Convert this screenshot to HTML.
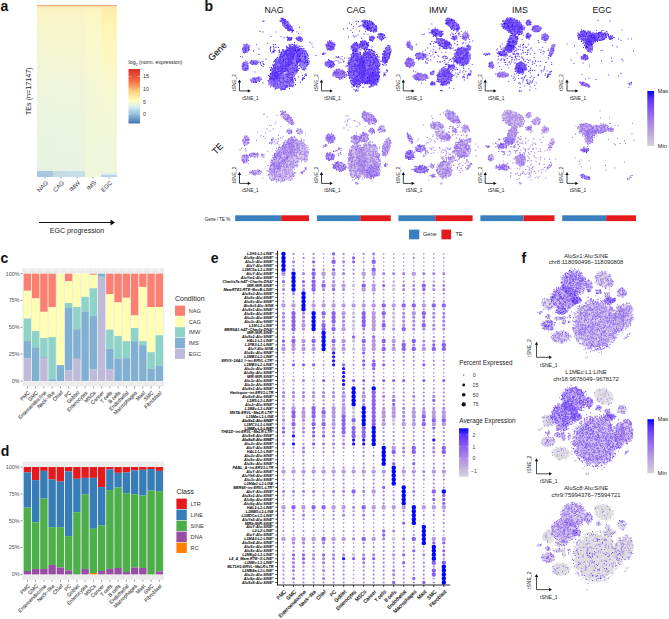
<!DOCTYPE html>
<html><head><meta charset="utf-8"><style>
html,body{margin:0;padding:0;background:#fff;width:669px;height:619px;overflow:hidden}
svg{display:block;font-family:"Liberation Sans",sans-serif}
</style></head><body>
<svg width="669" height="619" viewBox="0 0 669 619">
<rect width="669" height="619" fill="#fff"/>
<text x="0.6" y="11" font-size="14" font-weight="bold" fill="#111">a</text>
<text x="204.6" y="11" font-size="14" font-weight="bold" fill="#111">b</text>
<text x="0.4" y="262.9" font-size="14" font-weight="bold" fill="#111">c</text>
<text x="0.8" y="456" font-size="14" font-weight="bold" fill="#111">d</text>
<text x="210.8" y="262.7" font-size="14" font-weight="bold" fill="#111">e</text>
<text x="521.6" y="262.5" font-size="14" font-weight="bold" fill="#111">f</text>
<defs>
<linearGradient id="hg0" x1="0" y1="0" x2="0" y2="1"><stop offset="0" stop-color="#faf4c2"/><stop offset="0.15" stop-color="#f6f5cc"/><stop offset="0.5" stop-color="#eef5dc"/><stop offset="1" stop-color="#e7f2e3"/></linearGradient>
<linearGradient id="hg1" x1="0" y1="0" x2="0" y2="1"><stop offset="0" stop-color="#faf4c2"/><stop offset="0.15" stop-color="#f6f5cc"/><stop offset="0.5" stop-color="#eef5dc"/><stop offset="1" stop-color="#e8f3e2"/></linearGradient>
<linearGradient id="hg2" x1="0" y1="0" x2="0" y2="1"><stop offset="0" stop-color="#faf4c2"/><stop offset="0.15" stop-color="#f6f5cc"/><stop offset="0.5" stop-color="#eff5db"/><stop offset="1" stop-color="#e9f3e2"/></linearGradient>
<linearGradient id="hg3" x1="0" y1="0" x2="0" y2="1"><stop offset="0" stop-color="#fcf6c0"/><stop offset="0.15" stop-color="#fbf8c8"/><stop offset="0.5" stop-color="#f3f7d6"/><stop offset="1" stop-color="#eef6dc"/></linearGradient>
<linearGradient id="hg4" x1="0" y1="0" x2="0" y2="1"><stop offset="0" stop-color="#fdeba8"/><stop offset="0.12" stop-color="#fff4b4"/><stop offset="0.3" stop-color="#fcf7c2"/><stop offset="0.5" stop-color="#f5f8d2"/><stop offset="1" stop-color="#edf5dd"/></linearGradient>
<linearGradient id="cbar" x1="0" y1="0" x2="0" y2="1"><stop offset="0" stop-color="#d73027"/><stop offset="0.22" stop-color="#f46d43"/><stop offset="0.42" stop-color="#fdd384"/><stop offset="0.58" stop-color="#ffffbf"/><stop offset="0.70" stop-color="#d6ecf4"/><stop offset="0.85" stop-color="#8ab7d8"/><stop offset="1" stop-color="#4575b4"/></linearGradient>
</defs>
<rect x="37.0" y="5.5" width="16.0" height="171.5" fill="url(#hg0)"/>
<rect x="53.0" y="5.5" width="16.0" height="171.5" fill="url(#hg1)"/>
<rect x="69.0" y="5.5" width="16.0" height="171.5" fill="url(#hg2)"/>
<rect x="85.0" y="5.5" width="16.0" height="171.5" fill="url(#hg3)"/>
<rect x="101.0" y="5.5" width="16.0" height="171.5" fill="url(#hg4)"/>
<rect x="37" y="5" width="80" height="1.4" fill="#f6b07c"/>
<rect x="37" y="6.4" width="80" height="2" fill="#fde7b0" opacity="0.7"/>
<rect x="37" y="171" width="16" height="6" fill="#a9c8df"/>
<rect x="53" y="171" width="16" height="6" fill="#c5dbe6"/>
<rect x="69" y="171" width="16" height="6" fill="#c9dde5"/>
<rect x="101" y="173.5" width="16" height="1.6" fill="#d7e8ef"/>
<rect x="101" y="175" width="16" height="2" fill="#b8d3e8"/>
<line x1="45" y1="177" x2="45" y2="178.6" stroke="#333" stroke-width="0.5"/>
<line x1="61" y1="177" x2="61" y2="178.6" stroke="#333" stroke-width="0.5"/>
<line x1="77" y1="177" x2="77" y2="178.6" stroke="#333" stroke-width="0.5"/>
<line x1="93" y1="177" x2="93" y2="178.6" stroke="#333" stroke-width="0.5"/>
<line x1="109" y1="177" x2="109" y2="178.6" stroke="#333" stroke-width="0.5"/>
<text x="48.6" y="183.2" font-size="6" fill="#333" text-anchor="end" transform="rotate(-45 48.6 183.2)">NAG</text>
<text x="64.6" y="183.2" font-size="6" fill="#333" text-anchor="end" transform="rotate(-45 64.6 183.2)">CAG</text>
<text x="80.6" y="183.2" font-size="6" fill="#333" text-anchor="end" transform="rotate(-45 80.6 183.2)">IMW</text>
<text x="96.6" y="183.2" font-size="6" fill="#333" text-anchor="end" transform="rotate(-45 96.6 183.2)">IMS</text>
<text x="112.6" y="183.2" font-size="6" fill="#333" text-anchor="end" transform="rotate(-45 112.6 183.2)">EGC</text>
<text x="0" y="0" font-size="7.2" fill="#222" text-anchor="middle" transform="translate(31.2 91.2) rotate(-90)">TEs (n=17147)</text>
<rect x="128.5" y="69" width="11.5" height="54.5" fill="url(#cbar)"/>
<line x1="128.5" y1="76.5" x2="130.8" y2="76.5" stroke="#fff" stroke-width="0.4"/>
<line x1="137.7" y1="76.5" x2="140" y2="76.5" stroke="#fff" stroke-width="0.4"/>
<text x="143" y="78.4" font-size="5.3" fill="#333">15</text>
<line x1="128.5" y1="89" x2="130.8" y2="89" stroke="#fff" stroke-width="0.4"/>
<line x1="137.7" y1="89" x2="140" y2="89" stroke="#fff" stroke-width="0.4"/>
<text x="143" y="90.9" font-size="5.3" fill="#333">10</text>
<line x1="128.5" y1="101.6" x2="130.8" y2="101.6" stroke="#fff" stroke-width="0.4"/>
<line x1="137.7" y1="101.6" x2="140" y2="101.6" stroke="#fff" stroke-width="0.4"/>
<text x="143" y="103.5" font-size="5.3" fill="#333">5</text>
<line x1="128.5" y1="114.2" x2="130.8" y2="114.2" stroke="#fff" stroke-width="0.4"/>
<line x1="137.7" y1="114.2" x2="140" y2="114.2" stroke="#fff" stroke-width="0.4"/>
<text x="143" y="116.10000000000001" font-size="5.3" fill="#333">0</text>
<text x="128.6" y="64.3" font-size="5.2" fill="#222">log<tspan font-size="3.8" dy="1.2">2</tspan><tspan dy="-1.2"> (norm. expression)</tspan></text>
<line x1="39" y1="222.5" x2="111" y2="222.5" stroke="#111" stroke-width="1"/>
<path d="M110.5 219.6 L115 222.5 L110.5 225.4 Z" fill="#111"/>
<text x="77" y="233.0" font-size="7.1" fill="#222" text-anchor="middle">EGC progression</text>
<text x="274" y="13.2" font-size="8.9" fill="#111" text-anchor="middle">NAG</text>
<g transform="translate(239.5 90.9) scale(0.5)"><ellipse cx="95" cy="-132" rx="17" ry="6" transform="rotate(46 95 -132)" fill="#643bf8" fill-opacity="0.68"/><ellipse cx="100" cy="-104" rx="5" ry="4" transform="rotate(0 100 -104)" fill="#643bf8" fill-opacity="0.68"/><ellipse cx="120" cy="-104" rx="6" ry="5" transform="rotate(20 120 -104)" fill="#643bf8" fill-opacity="0.68"/><ellipse cx="13" cy="-85" rx="7" ry="9" transform="rotate(10 13 -85)" fill="#6f45f6" fill-opacity="0.68"/><ellipse cx="11" cy="-49" rx="7" ry="9" transform="rotate(0 11 -49)" fill="#6f45f6" fill-opacity="0.68"/><ellipse cx="29" cy="-57" rx="9" ry="5" transform="rotate(0 29 -57)" fill="#6f45f6" fill-opacity="0.68"/><ellipse cx="32" cy="-22" rx="11" ry="5" transform="rotate(-10 32 -22)" fill="#744af5" fill-opacity="0.68"/><ellipse cx="87" cy="-58" rx="37" ry="13" transform="rotate(-55 87 -58)" fill="#5d35f9" fill-opacity="0.68"/><ellipse cx="126" cy="-66" rx="11" ry="21" transform="rotate(-15 126 -66)" fill="#643bf8" fill-opacity="0.68"/><ellipse cx="110" cy="-72" rx="11" ry="18" transform="rotate(0 110 -72)" fill="#683ff7" fill-opacity="0.68"/><ellipse cx="104" cy="-44" rx="14" ry="14" transform="rotate(0 104 -44)" fill="#683ff7" fill-opacity="0.68"/><ellipse cx="84" cy="-20" rx="25" ry="16" transform="rotate(0 84 -20)" fill="#6d43f7" fill-opacity="0.68"/><path d="M86-142h0m12 15h0m5 61h0m10 4h0m-98 6h0m111 2h0m-20 1h0m-91 2h0m73 16h0m13 1h0m-28 7h0m-41 4h0m9 2h0m31-1h0m54 0h0m-67 10h0m12 9h0" stroke="#926aef" stroke-width="2.40" stroke-linecap="round" fill="none"/><path d="M88-145h0m-6 6h0m6-1h0m1 0h0m1 0h0m2 1h0m4 1h0m-1 1h0m-2 1h0m-2-2h0m-1 1h0m-3 2h0m0 4h0m1 1h0m1 1h0m7 0h0m1 3h0m2-3h0m1 2h0m3-2h0m17 2h0m-14 4h0m-5 1h0m-1 2h0m0-4h0m-4 1h0m-3-2h0m-20 7h0m32 1h0m10-1h0m3 3h0m-35 6h0m-20 0h0m33 2h0m0-1h0m2 5h0m2-2h0m3 1h0m1 1h0m9-2h0m8 2h0m5-1h0m-7 2h0m-3 0h0m-13 0h0m-7 1h0m0-1h0m-75 11h0m13-2h0m22-2h0m54 3h0m35-2h0m2 6h0m-20 3h0m-10 0h0m0-2h0m-1 3h0m-6-3h0m0-3h0m-1 2h0m-1 3h0m0 0h0m-2 0h0m-2-3h0m-26 1h0m-9 1h0m-1-3h0m0 3h0m-5-2h0m-1 3h0m-1 1h0m-42-3h0m-1 1h0m-1 1h0m0-4h0m-4 2h0m-2 3h0m0-4h0m0 3h0m0-3h0m-5 3h0m0 1h0m0 1h0m1 4h0m5-4h0m0 0h0m50-1h0m4 5h0m3-4h0m1 2h0m10-1h0m0 3h0m7-3h0m1 2h0m2 1h0m11-3h0m0-1h0m3 3h0m0-4h0m1 2h0m0 4h0m1-2h0m2 0h0m0-2h0m2 0h0m1-2h0m3 4h0m1-2h0m3 0h0m1 0h0m0 1h0m0-2h0m1 2h0m1 1h0m10-1h0m2 1h0m-7 5h0m-1 1h0m-3 2h0m-1-3h0m-1-2h0m-8 2h0m-5 3h0m0-4h0m-4 1h0m-3 0h0m-1-3h0m-11 5h0m0 0h0m-7-4h0m-16 0h0m0 1h0m-55-1h0m0 1h0m-8 7h0m4 1h0m78-1h0m1 3h0m4-3h0m4 2h0m3-3h0m1 1h0m2 0h0m0-1h0m8 0h0m3-1h0m4 3h0m6 2h0m1-3h0m1-2h0m5 2h0m4-1h0m1 0h0m1 4h0m-1 5h0m-9-3h0m-4 3h0m-1-3h0m-3 3h0m-2-3h0m-13 0h0m-2 1h0m-5 0h0m-11 3h0m-58-1h0m-17 6h0m4-2h0m1-3h0m3 1h0m1 3h0m1 1h0m4-1h0m1-1h0m2 1h0m4 0h0m2 1h0m2-1h0m1-2h0m0 0h0m0 1h0m2 3h0m1-1h0m2-2h0m1-1h0m6 0h0m34-1h0m4 1h0m13 2h0m1 0h0m1 0h0m3-3h0m1 2h0m0-2h0m1 1h0m0-1h0m2 4h0m2-2h0m1 2h0m6-4h0m0 0h0m1 5h0m0-1h0m1-3h0m0 0h0m1-2h0m0 3h0m3-2h0m6 1h0m9-1h0m5 1h0m-1 4h0m-4 1h0m-13 5h0m-5-2h0m-1-3h0m-5 4h0m-3-1h0m-2-1h0m-3 1h0m-1-4h0m0 4h0m-3-3h0m-1 1h0m-1 0h0m-5 3h0m-4-1h0m-2 1h0m-70 0h0m-1-2h0m0 0h0m-4-1h0m-2-1h0m-2 9h0m0-2h0m5 1h0m2-1h0m4 0h0m49 2h0m8 0h0m9-3h0m7 2h0m1 2h0m1-3h0m1-1h0m2 4h0m1-1h0m5-1h0m0 3h0m3-3h0m1 2h0m4-4h0m0 2h0m0-3h0m3 2h0m1 3h0m0-3h0m15 3h0m-18 2h0m-1-1h0m-2 0h0m0 5h0m-5-1h0m-3-3h0m-5 1h0m-2 0h0m0 0h0m-2 1h0m0-3h0m-1 2h0m-6 4h0m-12-3h0m-5 1h0m-1 1h0m-35-1h0m-17-3h0m-5-1h0m53 9h0m5 1h0m2 1h0m3-2h0m8 2h0m7 0h0m5-3h0m1 1h0m4 0h0m0 1h0m1-2h0m0 0h0m1-1h0m0-1h0m1 4h0m1 1h0m0-4h0m1 4h0m0-3h0m1 2h0m0 0h0m2-1h0m1 2h0m1-2h0m1-1h0m3 0h0m15 3h0m5-2h0m0 0h0m1 2h0m1-3h0m0 1h0m-3 4h0m-3 5h0m-9-4h0m-7 3h0m-7-2h0m-2 1h0m-1 0h0m0 2h0m-2-5h0m-2 2h0m-3-1h0m-5 3h0m0-1h0m-1-3h0m-1 3h0m-1-4h0m0 4h0m-1 0h0m-2 0h0m0 0h0m-5-2h0m-3-1h0m-3 2h0m-3 2h0m-4-3h0m0 3h0m-2-2h0m-2-1h0m-18 2h0m-4-1h0m-1 1h0m-3-1h0m0 2h0m-5-1h0m-1 1h0m-7 3h0m2 4h0m4 0h0m0-1h0m1 0h0m2-3h0m1 0h0m6-2h0m6 1h0m13 2h0m3-3h0m1 3h0m3 1h0m1-3h0m2 5h0m2-5h0m0 3h0m1 0h0m1-2h0m0 4h0m1 0h0m4-5h0m2 1h0m9 1h0m1-2h0m2 2h0m7 1h0m3 0h0m1-1h0m1-2h0m0 1h0m0 3h0m10-3h0m15-1h0m-5 6h0m-13 0h0m-1 3h0m-2-4h0m-4 0h0m-1 6h0m0 0h0m-1-4h0m-2 2h0m-1-2h0m-9-2h0m0 3h0m-2 2h0m-1-5h0m-1 1h0m-3 3h0m-4 1h0m-2 1h0m-4-3h0m0 2h0m-1-2h0m0 1h0m-2 0h0m-3-2h0m-5 2h0m-2 0h0m0 0h0m-24-4h0m-2 1h0m-3 0h0m33 9h0m0 0h0m1-2h0m0-2h0m8 1h0m7 2h0m3 0h0m7-1h0m1-1h0m4 0h0m1 2h0m2 0h0m4 0h0m1 0h0m0-2h0m3 0h0m0 0h0m2 2h0m1 1h0m-16 3h0m-1 2h0m-3-2h0m-1 2h0m0-3h0m-2 4h0m-1 0h0m0 0h0m-8-3h0m-1 0h0" stroke="#794ff4" stroke-width="2.40" stroke-linecap="round" fill="none"/><path d="M86-145h0m-1 0h0m-2 0h0m-36 6h0m2-1h0m32 0h0m1 0h0m2 0h0m1-1h0m1-1h0m1-2h0m0 2h0m2 1h0m1 1h0m0-1h0m0-2h0m0 4h0m2-4h0m1 4h0m4 0h0m-1 6h0m-3 1h0m-2-4h0m-1 4h0m0-3h0m0 0h0m0-3h0m-3 1h0m-1 3h0m4 6h0m0-4h0m2 6h0m1-6h0m1 1h0m0 5h0m1-2h0m0-3h0m2 3h0m0-2h0m0 1h0m1-2h0m0 4h0m0-3h0m3 1h0m4 1h0m3 7h0m-2 0h0m-2-1h0m-1-1h0m0-2h0m0 4h0m-1-4h0m-1 2h0m0 0h0m-1 1h0m0 0h0m0 1h0m-2-4h0m0 4h0m-1-5h0m0 1h0m0 2h0m-1 1h0m-1-4h0m-54 7h0m6 1h0m59-1h0m-17 13h0m6-1h0m2 3h0m1-2h0m1-1h0m0 5h0m0-2h0m3-1h0m1 1h0m1-1h0m0 2h0m0-4h0m1 1h0m9 2h0m0-2h0m2 3h0m1-1h0m4-4h0m1 5h0m1-2h0m0-1h0m18 9h0m-15-5h0m-7 1h0m-1 0h0m-8 4h0m-9-5h0m-92 9h0m6-1h0m53 1h0m4 0h0m27 1h0m2 2h0m0-2h0m2 0h0m0 0h0m2-1h0m1 0h0m3 1h0m0-1h0m2 2h0m0 0h0m2 0h0m2-1h0m14 7h0m0 0h0m-4-4h0m-1 4h0m-2 0h0m-1-4h0m-1 4h0m-1-5h0m-1 3h0m-2-1h0m-1 1h0m-2-2h0m0 1h0m0 1h0m-1 2h0m0-1h0m0 1h0m-1-1h0m0 1h0m-1-1h0m0-2h0m0-1h0m-1-1h0m-3 2h0m0 0h0m0-1h0m-2 4h0m-1 1h0m0-4h0m-2-2h0m0 5h0m0-1h0m0-4h0m0 1h0m-1 3h0m0-3h0m-1 4h0m-2-2h0m-1 0h0m-1-1h0m-1 2h0m0-3h0m-16 2h0m-5 0h0m-5-2h0m-6 1h0m0 1h0m-44 0h0m-1 1h0m-4-4h0m-1 5h0m-3-1h0m0 4h0m4 0h0m5 1h0m10 1h0m11-4h0m23 2h0m0 3h0m7 1h0m2-3h0m8 0h0m5 3h0m3-1h0m1-3h0m0 0h0m3 3h0m1-2h0m1 0h0m1 2h0m0 1h0m0-1h0m2-3h0m0 1h0m2-3h0m0 3h0m1 3h0m0-6h0m1 4h0m0 0h0m0 0h0m1-3h0m0 1h0m1 1h0m0 2h0m3 0h0m1-5h0m2 1h0m0 2h0m1 0h0m1 1h0m0-4h0m0 0h0m1 4h0m0-3h0m1 1h0m0 2h0m0 0h0m2-2h0m0 3h0m1-3h0m1 3h0m0-2h0m0 0h0m1 0h0m1 0h0m1 0h0m1-1h0m0-2h0m1 4h0m2-1h0m3 1h0m0 1h0m7 0h0m3 5h0m-2-2h0m-4 0h0m0 3h0m-4-2h0m0-1h0m-1 0h0m-2 3h0m-1-4h0m-1 2h0m-2-1h0m-2 2h0m-1 1h0m0 1h0m-1-6h0m-1 1h0m-1 1h0m-2 3h0m-1 0h0m0 0h0m0-3h0m-1 4h0m0-3h0m-2-2h0m0 4h0m0 0h0m0-5h0m-1 2h0m0-1h0m-1 5h0m0-4h0m-1 2h0m0-1h0m0-3h0m0 2h0m-1 0h0m0 3h0m-1 0h0m-2-1h0m0-1h0m-1 1h0m0-1h0m-1 2h0m0 0h0m-1-2h0m0 2h0m-1-1h0m0 1h0m-1-1h0m-1-2h0m0 3h0m0-2h0m0-1h0m0-1h0m-1 2h0m0 2h0m0-1h0m-1-2h0m0-2h0m-1 1h0m0 1h0m-1 2h0m0-2h0m-1-2h0m-1 5h0m-3-3h0m-1-1h0m0 3h0m-1 1h0m0-3h0m-1 3h0m0 0h0m-3-4h0m-40 4h0m-28-4h0m-3 0h0m68 10h0m3-5h0m2 5h0m0-2h0m0 1h0m1-2h0m1 2h0m1-1h0m1-1h0m1 2h0m2-3h0m0 2h0m1-1h0m1-1h0m0 1h0m4 0h0m0-2h0m0 1h0m0 0h0m1 5h0m0-1h0m1-2h0m0-2h0m1 0h0m0 4h0m1-3h0m3 2h0m1-3h0m0 4h0m0-3h0m2 1h0m0 0h0m1-3h0m1 4h0m0-1h0m0-3h0m0 5h0m0-3h0m0 1h0m1 1h0m0 1h0m1-3h0m0 2h0m0-2h0m0 0h0m0 3h0m2-3h0m0-1h0m0 0h0m2 3h0m3-3h0m0 4h0m1-3h0m2 1h0m1 0h0m0-2h0m0 2h0m2 0h0m0 0h0m1-3h0m4 3h0m4 1h0m0-1h0m1 2h0m5-5h0m2 2h0m15-1h0m-14 11h0m-1-5h0m-2 4h0m0 0h0m-1 0h0m-3-4h0m0 5h0m-2-3h0m-3 1h0m0 0h0m-5 1h0m0-3h0m0 2h0m-2-1h0m0 2h0m-1-1h0m0 1h0m-2-3h0m0-1h0m-1 0h0m-1 4h0m-1-3h0m-5 1h0m-1-2h0m-1 1h0m0-1h0m-1 3h0m0 0h0m0-3h0m-2 5h0m-1-5h0m0 1h0m0-2h0m-1 4h0m0 1h0m-1-1h0m-1-3h0m-2 5h0m-2-2h0m-1-2h0m0 2h0m-1-3h0m-2 2h0m0-1h0m-3 3h0m0-4h0m-1 2h0m-1 0h0m-1-3h0m-4 6h0m0-4h0m0 1h0m-1 1h0m0-2h0m-2 2h0m-4-1h0m0-1h0m-1 0h0m-2 2h0m0-1h0m-1 2h0m-18-2h0m-18 3h0m-11 0h0m-15 3h0m18-2h0m1 2h0m1 2h0m3 1h0m10-3h0m5 2h0m0-4h0m21 1h0m2-2h0m2 4h0m2-4h0m1 2h0m2 2h0m1-3h0m0 0h0m1 1h0m0-1h0m0 1h0m1 2h0m1 1h0m1 0h0m0-5h0m1 5h0m1 1h0m0-4h0m0 1h0m2-2h0m1 3h0m1-1h0m1-3h0m0 0h0m2 5h0m1-2h0m0-2h0m1 3h0m0 0h0m1 0h0m1-1h0m1 0h0m1 0h0m0 0h0m0 2h0m0-3h0m1-1h0m0 3h0m1 1h0m0-1h0m1 2h0m0-5h0m1 2h0m1-1h0m1 2h0m0-3h0m0 2h0m1 3h0m1-4h0m1 3h0m8-1h0m1-3h0m0 2h0m1 2h0m1-3h0m0 2h0m1-2h0m1-1h0m9 1h0m2 1h0m0 2h0m0 0h0m2-3h0m2 1h0m2-1h0m2 2h0m-1 3h0m-2 3h0m0-2h0m-14-1h0m0 3h0m-1-1h0m-1 0h0m-3 3h0m-3-3h0m-1 0h0m-10-2h0m-2 2h0m-1-2h0m0-1h0m-1 5h0m0-4h0m0 2h0m0 1h0m-1-4h0m-1 1h0m0 4h0m0 0h0m-1-4h0m-1 0h0m0 4h0m0-4h0m-1 3h0m0-1h0m0 1h0m-1-3h0m0 1h0m0-1h0m-1 2h0m-1 2h0m0 0h0m-2-2h0m-1-2h0m0 5h0m-1-4h0m-1 3h0m0 1h0m-1-2h0m0 0h0m0 0h0m0 0h0m-1 0h0m-1 2h0m0-4h0m-5 3h0m-1 0h0m-2-5h0m-1 5h0m-1-3h0m-1-1h0m-1 0h0m-1 2h0m0 0h0m-1 1h0m0 1h0m-1-4h0m0 2h0m-18-2h0m-1-1h0m0 1h0m-1 4h0m-3-2h0m-2-3h0m-9 1h0m-7 0h0m-9 3h0m-8-3h0m0 0h0m0 2h0m-2 2h0m4 6h0m1-2h0m2 1h0m2-1h0m1 3h0m44-5h0m1 5h0m1-1h0m1 1h0m0-5h0m1 2h0m1 1h0m2 0h0m1-3h0m2 1h0m0 3h0m0-1h0m0-3h0m1 0h0m0 2h0m3-1h0m0 1h0m1 1h0m1-1h0m0 0h0m1 3h0m1-3h0m0 2h0m0-4h0m1 0h0m2 5h0m0 0h0m1-4h0m0 2h0m1 0h0m0-2h0m1 1h0m0 1h0m1-2h0m0-2h0m0 4h0m2-1h0m1 0h0m1 0h0m1 0h0m0 0h0m1-2h0m0 4h0m1 0h0m0-2h0m0 0h0m2 1h0m1 0h0m3-2h0m2 2h0m4-1h0m0 0h0m1-2h0m2 3h0m5-2h0m1 4h0m5-3h0m1 0h0m4-2h0m1 3h0m2 0h0m0 1h0m2-2h0m1 3h0m2-3h0m1 1h0m0 0h0m-4 2h0m-11 1h0m-2 0h0m0-1h0m-2 4h0m-4-2h0m-2 3h0m-2 0h0m-1-3h0m-2 3h0m-5-1h0m0-1h0m-1-3h0m-1 1h0m-3-1h0m-1 1h0m-1 0h0m0 1h0m-1 1h0m-1 1h0m-1-1h0m0-1h0m-1-1h0m0 3h0m0 1h0m-1-2h0m0 0h0m0-3h0m0 3h0m-1 1h0m-1-3h0m-1 5h0m0 0h0m0-3h0m0 0h0m-1 0h0m-2 0h0m-1-1h0m-1 1h0m0 0h0m-3 2h0m-1-1h0m-2 1h0m0-4h0m0 0h0m0 4h0m-2 0h0m0-4h0m-1 2h0m0-2h0m0 1h0m0-1h0m-2 3h0m-1 0h0m0 0h0m-4-3h0m-4 10h0m3 0h0m1-4h0m0 2h0m1 1h0m0-3h0m1 1h0m1 0h0m1-1h0m1 3h0m0-2h0m2 2h0m0-4h0m1 4h0m0-2h0m0 2h0m1 1h0m0 1h0m0-1h0m0-4h0m0 4h0m1-2h0m0 3h0m1 0h0m0-4h0m2-1h0m0 4h0m0 0h0m1-5h0m0 0h0m1 5h0m0 0h0m1-3h0m0 1h0m2 3h0m1-2h0m1-3h0m1 1h0m0 3h0m2-5h0m8 6h0m2-4h0m1 2h0m2-1h0m2-1h0m0 0h0m4 1h0m6 3h0m24-1h0m-4 6h0m-2-1h0m-1-1h0m0 2h0m0 0h0m0-2h0m-1 3h0m-16-1h0m-1-5h0m-1 2h0m0 0h0m-2 2h0m0-2h0m-1 2h0m-1-1h0m-1 1h0m-4 0h0m-1-1h0m-1 0h0m-1-2h0m-7 4h0m-6-2h0m-2 2h0m-2 0h0m0-1h0m-2-1h0m0-2h0m-1 0h0m0 2h0m0 3h0m0-6h0m-2 2h0m0-1h0m0 3h0m-1 1h0m-1-4h0m0 3h0m-1-3h0m0 1h0m-1 3h0m0-1h0m-1-4h0m0 5h0m-2 0h0m-1 0h0m0-3h0m0-1h0m-1 3h0m-1-1h0m-1-1h0m0 2h0m0 0h0m-1 1h0m0-3h0m-1 0h0m-1-1h0m0 4h0m-21-3h0m-10 3h0m-2-1h0m4 3h0m1 4h0m8 0h0m18-1h0m3-3h0m3-1h0m2 2h0m2-1h0m1 2h0m0-3h0m1 1h0m4-1h0m1 4h0m1 0h0m3-1h0m1-1h0m1 3h0m6-5h0m4 5h0m3 0h0m2-4h0m1 4h0m7-4h0m0 2h0m2 1h0m0-3h0m2 5h0m3-6h0m1 3h0m13-1h0m-13 9h0m-15-4h0m-4 0h0m-8 0h0m-3 0h0m0 5h0m-6-2h0m-1-3h0m-3 3h0m-2-4h0m-7 1h0m-4-1h0m-12 2h0m-13-1h0m-6 0h0m40 6h0m0 1h0m1 2h0m4-1h0m0 1h0m5 0h0m7 0h0m6-1h0m0-1h0m0 1h0m1 2h0m2-3h0m1 2h0m0-1h0m1-1h0m7 1h0m2-2h0m3 0h0m-8 6h0m-9 2h0m0-2h0m-3 2h0m-2-1h0m-3-1h0m0 2h0m-11-2h0" stroke="#5731fa" stroke-width="2.40" stroke-linecap="round" fill="none"/><path d="M119-106h0m4 7h0m-111 19h0m7-3h0m49 5h0m1-2h0m17-2h0m10 1h0m16 0h0m6-1h0m11 2h0m-9 11h0m12 1h0m-11 6h0m-23-2h0m-10 3h0m-17 2h0m43 1h0m9-1h0m13 2h0m-23 5h0m0 12h0m-38 2h0" stroke="#0000ff" stroke-width="2.40" stroke-linecap="round" fill="none"/></g>
<path d="M239.5 81.4V90.9H249.0" stroke="#111" stroke-width="0.8" fill="none"/><path d="M237.8 82.60000000000001L239.5 79.60000000000001L241.2 82.60000000000001Z" fill="#111"/><path d="M247.8 89.2L250.8 90.9L247.8 92.60000000000001Z" fill="#111"/><text x="242.2" y="99.9" font-size="4.8" fill="#222">tSNE_1</text><text x="0" y="0" font-size="4.8" fill="#222" transform="translate(235.9 90.7) rotate(-90)">tSNE_2</text>
<g transform="translate(239.5 183.4) scale(0.5)"><ellipse cx="95" cy="-132" rx="17" ry="6" transform="rotate(46 95 -132)" fill="#a17dea" fill-opacity="0.5"/><ellipse cx="100" cy="-104" rx="5" ry="4" transform="rotate(0 100 -104)" fill="#9b75ec" fill-opacity="0.5"/><ellipse cx="120" cy="-104" rx="6" ry="5" transform="rotate(20 120 -104)" fill="#a785e9" fill-opacity="0.5"/><ellipse cx="13" cy="-85" rx="7" ry="9" transform="rotate(10 13 -85)" fill="#9169ef" fill-opacity="0.5"/><ellipse cx="11" cy="-49" rx="7" ry="9" transform="rotate(0 11 -49)" fill="#9169ef" fill-opacity="0.5"/><ellipse cx="29" cy="-57" rx="9" ry="5" transform="rotate(0 29 -57)" fill="#9169ef" fill-opacity="0.5"/><ellipse cx="32" cy="-22" rx="11" ry="5" transform="rotate(-10 32 -22)" fill="#956dee" fill-opacity="0.5"/><ellipse cx="87" cy="-58" rx="37" ry="13" transform="rotate(-55 87 -58)" fill="#a582e9" fill-opacity="0.5"/><ellipse cx="126" cy="-66" rx="11" ry="21" transform="rotate(-15 126 -66)" fill="#af91e5" fill-opacity="0.5"/><ellipse cx="110" cy="-72" rx="11" ry="18" transform="rotate(0 110 -72)" fill="#ac8de7" fill-opacity="0.5"/><ellipse cx="104" cy="-44" rx="14" ry="14" transform="rotate(0 104 -44)" fill="#ac8de7" fill-opacity="0.5"/><ellipse cx="84" cy="-20" rx="25" ry="16" transform="rotate(0 84 -20)" fill="#ac8de7" fill-opacity="0.5"/><path d="M101-78h0m-2 10h0m-32 30h0m0 8h0m8 10h0" stroke="#c6b9db" stroke-width="2.40" stroke-linecap="round" fill="none"/><path d="M84-145h0m-35 7h0m37-5h0m2 13h0m6 0h0m7 4h0m2 2h0m-9-2h0m-30 10h0m19 2h0m24-5h0m8 14h0m8 2h0m-72 13h0m36-4h0m19 3h0m4-3h0m19 9h0m0 0h0m-5-4h0m-4 4h0m-6-2h0m-2-1h0m-3 1h0m-2 2h0m-2-4h0m-1 1h0m0 0h0m0-2h0m-1 4h0m-36-3h0m-3 9h0m12 0h0m13-3h0m6 4h0m1-2h0m4 0h0m0 1h0m2-2h0m4-2h0m1 0h0m1 2h0m1 4h0m2-3h0m2 2h0m0-1h0m1-1h0m1 3h0m3-3h0m1 3h0m1 0h0m4-2h0m0-4h0m2 4h0m9 4h0m-4 1h0m-1-1h0m0 3h0m-5-2h0m0-1h0m-1 0h0m-1-2h0m-3 2h0m-1 2h0m-4 0h0m0 0h0m-1-3h0m0 2h0m0 0h0m-1 0h0m-3 2h0m-1-3h0m-1-1h0m-1 4h0m0-2h0m-3 0h0m-1-1h0m0 3h0m-4-5h0m-2 5h0m-3 1h0m-2-3h0m0-1h0m0-1h0m-2 1h0m-2-2h0m0 2h0m-2 1h0m-3 3h0m-5 3h0m1 1h0m1-4h0m5 2h0m1-2h0m12 1h0m1 3h0m1-1h0m6-2h0m3 2h0m2-2h0m2 1h0m0 3h0m1 0h0m3-4h0m1 3h0m2 1h0m9-4h0m2 4h0m0-2h0m0-2h0m0 2h0m1 2h0m3-5h0m3 8h0m-1 0h0m0 2h0m-3-3h0m-2 4h0m-1-1h0m0-4h0m-2 5h0m-4-3h0m0 0h0m-5 4h0m-3-2h0m0-1h0m0-2h0m-5 3h0m-1-1h0m-1 0h0m-4-2h0m-3 3h0m0 0h0m-1-3h0m-2-1h0m-1 2h0m-3 4h0m-1-5h0m-2 4h0m-5-2h0m0 3h0m-12-5h0m-27 8h0m24-2h0m4 0h0m1 2h0m1 0h0m3-1h0m1 1h0m15-1h0m0 1h0m1-3h0m2 1h0m0 0h0m0 3h0m3-4h0m2 3h0m0-2h0m1 0h0m3 0h0m3 4h0m1 0h0m1 1h0m2-1h0m3-4h0m0 2h0m1-1h0m1-1h0m1-1h0m0 2h0m0-2h0m4 3h0m3-1h0m2 2h0m1 1h0m1-2h0m4-2h0m-2 11h0m-2-1h0m-2-3h0m-1 1h0m-1 1h0m-1 1h0m-5-2h0m-2 2h0m-7-4h0m-1-1h0m0 3h0m-5-3h0m-8 1h0m-3 1h0m-2 3h0m-2-4h0m0-1h0m-6 1h0m-7 0h0m-1 5h0m0-1h0m-1-5h0m-11 6h0m-37-5h0m32 10h0m6-1h0m14-3h0m0 5h0m1-4h0m1 1h0m4-1h0m5 0h0m0 0h0m1 2h0m2-1h0m4-2h0m4 5h0m5-4h0m0 0h0m7 3h0m1-2h0m1 1h0m2-4h0m3 2h0m6 1h0m1 2h0m1 0h0m2-4h0m1 1h0m-21 4h0m-4 6h0m-2-5h0m-3 2h0m0-2h0m-3 0h0m-6 4h0m-6-1h0m-1-1h0m-1 2h0m-1-1h0m-3-2h0m-1 1h0m-4 2h0m-4-1h0m-9 0h0m-4 1h0m-44-2h0m33 8h0m12-2h0m7 2h0m0-2h0m1-3h0m0 6h0m0-4h0m0-1h0m1 0h0m3 2h0m0 0h0m1 0h0m1 1h0m6-2h0m5-2h0m2 4h0m5 0h0m2-2h0m1 0h0m4 2h0m3-3h0m1 3h0m4-2h0m0 1h0m4-3h0m-4 8h0m-5 1h0m-1-2h0m-12 4h0m-2 0h0m-10-2h0m-3-3h0m-1 2h0m0 2h0m-1-3h0m-6 1h0m-5 4h0m-1-1h0m0-4h0m-1 0h0m-1 0h0m-2 5h0m0-2h0m-1 1h0m13 4h0m1 2h0m1-4h0m0 0h0m1 4h0m2-4h0m2 2h0m8-1h0m6 4h0m2-4h0m0 2h0m7-2h0m6 0h0m-1 6h0m-2 2h0m-1-1h0m-14-1h0m-3-2h0m-6 5h0m-4-1h0m-2-2h0m-1 1h0m-1 3h0m-7-5h0m-1 0h0m-4 4h0m-1-4h0m-12 6h0m15 1h0m1 2h0m5-1h0m2-3h0m0 4h0m0-1h0m0-3h0m3 5h0m18-2h0m0 0h0m11 2h0m-3 1h0m-9 0h0m-12 1h0" stroke="#b89ee2" stroke-width="2.40" stroke-linecap="round" fill="none"/><path d="M86-145h0m-4 1h0m1 6h0m2-2h0m0 2h0m1-1h0m0-3h0m2 4h0m1-5h0m3-1h0m0 2h0m11 10h0m-4-3h0m-1 0h0m-2 2h0m-2 1h0m0-5h0m-3 0h0m-1 1h0m-2 3h0m-3-1h0m-2-3h0m-1 0h0m-7 1h0m-20 3h0m-6-5h0m43 10h0m0 1h0m0-2h0m2-2h0m1 4h0m1-3h0m1 2h0m1-4h0m2 0h0m3 5h0m0-3h0m0 2h0m3 1h0m3 6h0m-1-1h0m-2 0h0m0-1h0m-1-1h0m0-1h0m-1 3h0m0 1h0m0 0h0m-1-3h0m-1 1h0m-1 3h0m-1-5h0m-1 4h0m-1-2h0m-3-2h0m-1 0h0m-21 2h0m-13 7h0m11-3h0m32 0h0m3-1h0m16 11h0m-5-1h0m-1 1h0m-61 0h0m-19 6h0m58 0h0m2-2h0m4-1h0m2 1h0m1-2h0m0 5h0m1-4h0m11 1h0m2-1h0m5 2h0m1-3h0m1 3h0m1 0h0m7 5h0m-7-1h0m-4 2h0m-3-2h0m-2 0h0m-64-1h0m-9 6h0m0-1h0m5 2h0m29 4h0m1-6h0m4 5h0m3 0h0m17 0h0m0-1h0m1 1h0m1 0h0m1 0h0m1-1h0m5 0h0m18 5h0m-5 0h0m-5 2h0m0 0h0m-4-1h0m0-2h0m-2-1h0m-1 4h0m0-1h0m-1-1h0m-2 1h0m0 0h0m-1-3h0m-1 3h0m-1-2h0m-2 2h0m-3 1h0m0-5h0m-1 1h0m-2 0h0m-3 2h0m-3 1h0m-1 1h0m-13-4h0m-5 1h0m-4 1h0m-2-1h0m-1 1h0m-1 2h0m0-1h0m-1 1h0m0-3h0m-30 2h0m-22-2h0m1 5h0m47 3h0m1-2h0m3 3h0m2-4h0m1 2h0m3-2h0m1 4h0m6-5h0m13 2h0m4 0h0m3 4h0m0-5h0m2 0h0m0 0h0m2 3h0m1 1h0m1-4h0m1 2h0m0 0h0m0-2h0m0 2h0m1-2h0m0-1h0m0 3h0m0-2h0m1 0h0m0 4h0m1-4h0m4 3h0m2-3h0m1 3h0m0-1h0m2 1h0m0 2h0m5-2h0m0-1h0m2-3h0m0 3h0m4 2h0m0-2h0m4 3h0m-2 2h0m-2 1h0m-1 2h0m-1-3h0m-5 3h0m-2-3h0m-2-2h0m-1 2h0m-1 1h0m-1 0h0m-5-1h0m0 1h0m-1-1h0m0 3h0m-1-2h0m-1 2h0m-1-1h0m0-4h0m-3 3h0m0-2h0m0 4h0m-1-2h0m-6 0h0m0 2h0m-3-2h0m-2 2h0m0-4h0m-1 1h0m-1 0h0m-1 1h0m-6 2h0m-1-4h0m-5 7h0m4 1h0m1-3h0m2 5h0m0 0h0m1-4h0m0 0h0m2 5h0m1-6h0m1 1h0m0 0h0m2 2h0m2 0h0m1 3h0m0-6h0m2 2h0m1 3h0m3-2h0m0-2h0m1 1h0m1 1h0m0-3h0m1 6h0m1-1h0m0-3h0m1 2h0m1 1h0m1-3h0m0 1h0m1-2h0m0 0h0m1 0h0m0 3h0m1 1h0m0-2h0m1-3h0m1 6h0m3-2h0m2-3h0m2 4h0m0-1h0m2-3h0m1 4h0m1-5h0m1 5h0m0 1h0m4-4h0m1 0h0m0-1h0m0-1h0m5 3h0m6-3h0m2 4h0m-2 6h0m-3-1h0m-3 3h0m0-3h0m0-1h0m-4-1h0m-3 2h0m-2 2h0m-6-2h0m-1 2h0m-1-1h0m-3-4h0m-1 4h0m-1 1h0m-1-1h0m-2-3h0m-1 4h0m0-3h0m-2-1h0m0 1h0m0 3h0m0-4h0m-1 1h0m-2 1h0m0 0h0m-1 0h0m-3-3h0m-1 1h0m-1 4h0m-1-4h0m0 1h0m-1 2h0m-4 2h0m-1-4h0m0 0h0m-5-1h0m0 1h0m-1 0h0m0 3h0m-2 1h0m0-2h0m-1 0h0m-1 2h0m0-2h0m0 0h0m-1 2h0m-2-4h0m-1-2h0m-3 6h0m-13-4h0m-21 3h0m-2 3h0m10 3h0m3-2h0m2 0h0m23 3h0m0-5h0m0 4h0m0 0h0m3-5h0m1 4h0m3-1h0m1 1h0m0 2h0m1 0h0m1-2h0m5-3h0m1 0h0m0-1h0m2 1h0m0 5h0m1-6h0m3 4h0m1-2h0m0 1h0m2 0h0m0 0h0m1-2h0m1 5h0m0-2h0m1-3h0m2 0h0m1 4h0m0-3h0m1 1h0m3 1h0m1-1h0m1-1h0m1 2h0m0-3h0m2 3h0m1 0h0m0 1h0m0-2h0m0 2h0m9-3h0m1 0h0m0 0h0m4 0h0m3 3h0m1-1h0m3 0h0m1 2h0m-4 6h0m-1-1h0m-1 1h0m-4-1h0m-6 0h0m0-3h0m-1 3h0m0-1h0m-2-3h0m-1 3h0m-7 1h0m-3-5h0m0 3h0m-2 1h0m-4-3h0m-2 2h0m-1 2h0m0-5h0m-1 0h0m0 3h0m0-2h0m0 3h0m-1-2h0m0 0h0m0 1h0m-1 1h0m-1 0h0m-1 2h0m-1-3h0m-6 0h0m0 1h0m-2-3h0m-7 2h0m-1-1h0m0 2h0m0 2h0m0-5h0m-5 5h0m-1-4h0m-1 0h0m-1 0h0m-17 0h0m-39-2h0m-1 5h0m-4-2h0m9 7h0m1-3h0m49 5h0m1-6h0m1 5h0m6-4h0m1 3h0m1-3h0m5-1h0m0 4h0m1 2h0m2-1h0m2-2h0m1-1h0m2-1h0m1 2h0m1 1h0m0-1h0m2-1h0m1 3h0m0 0h0m0-5h0m2 0h0m1 3h0m2 2h0m1-3h0m1 0h0m1 1h0m3 1h0m0 1h0m2 0h0m3-1h0m0-1h0m7 2h0m0 0h0m1-2h0m0 1h0m8 1h0m3-4h0m6 3h0m-16 7h0m-1 1h0m-6 0h0m-5-1h0m0-4h0m-2 2h0m-1 0h0m0 2h0m0-3h0m-2 2h0m-4 2h0m0-4h0m0 4h0m-3-4h0m0 3h0m-1-4h0m0 0h0m-1 0h0m0 1h0m0 4h0m-2-3h0m-1-2h0m-3-1h0m-1 1h0m0 5h0m-4 0h0m0-5h0m-2 3h0m0-1h0m-1-3h0m0 2h0m0-2h0m-3 4h0m-1-3h0m0 4h0m0-4h0m-4 2h0m-1-1h0m-1 2h0m-1-4h0m0 0h0m-2 6h0m-1-3h0m-2 9h0m1-4h0m6 4h0m1-1h0m2-1h0m2-3h0m0 5h0m1-5h0m0 4h0m1-2h0m0 2h0m0 0h0m0-1h0m1-3h0m1 1h0m0-1h0m1 1h0m0-1h0m1 5h0m0-4h0m2 0h0m0 0h0m1 1h0m0 3h0m2-4h0m1 1h0m0 0h0m0-1h0m3 1h0m0-3h0m2 5h0m0-3h0m1-2h0m3 3h0m1-1h0m2 1h0m0 2h0m7-3h0m3 3h0m1-1h0m0-1h0m5-3h0m2 3h0m0-1h0m17 3h0m0 3h0m-3 3h0m-28-4h0m0 3h0m-3-1h0m-3 2h0m-1-2h0m-2-1h0m0 3h0m-2 0h0m-1-3h0m-1 0h0m-1 2h0m0 0h0m0-1h0m0 1h0m-1 1h0m-4-1h0m-1-4h0m0 1h0m-1 1h0m0 3h0m-1-4h0m0 5h0m-2-4h0m-1 1h0m-1-3h0m-1 6h0m-3-5h0m0 2h0m-1 0h0m0 1h0m0 0h0m-1 0h0m-1-1h0m-2 3h0m0-3h0m-2-2h0m0 4h0m0 0h0m-1-2h0m-1 0h0m0-1h0m-1 1h0m-1-2h0m0-1h0m0 2h0m-3 3h0m-2 0h0m-32 1h0m-2 3h0m7-1h0m2 2h0m2-1h0m1 1h0m9 0h0m18 2h0m1-4h0m1 1h0m2 2h0m0-5h0m1 2h0m1-1h0m0 0h0m1 4h0m2-4h0m0 1h0m5 1h0m0-2h0m5 4h0m2 0h0m2 0h0m7-2h0m0 0h0m1 2h0m0-2h0m3 2h0m0 0h0m1 0h0m0-2h0m0 3h0m3-6h0m0 4h0m1-1h0m6 0h0m1 2h0m3 0h0m1-3h0m1 1h0m1 0h0m11-1h0m1-1h0m0 1h0m1-1h0m0 2h0m0 1h0m1-1h0m-16 6h0m0 0h0m-2 1h0m0-3h0m-3 2h0m0-2h0m-3 3h0m-2-3h0m-6 3h0m-2 1h0m-2-1h0m-5-1h0m-2 0h0m-1 1h0m0-2h0m-1 3h0m-1-1h0m-2-1h0m-1-3h0m-2 4h0m-3-1h0m-1 0h0m0 3h0m0 0h0m-1-6h0m-4 3h0m-8-3h0m-1 2h0m-25-1h0m-3-1h0m-1 0h0m32 7h0m4 3h0m0 2h0m2-1h0m1-3h0m0 0h0m3 0h0m3 3h0m1-1h0m4-1h0m0 2h0m3-5h0m4 2h0m0-2h0m1 4h0m0-1h0m2-3h0m1 6h0m1-2h0m0 1h0m7-3h0m3-2h0m5 4h0m0-2h0m-3 4h0m-15 1h0m-2 1h0m-3 1h0m-5-2h0m-3 2h0m-6-3h0" stroke="#a784e9" stroke-width="2.40" stroke-linecap="round" fill="none"/><path d="M86-140h0m2-1h0m1-2h0m14 11h0m-3-3h0m-2-2h0m-1 5h0m0-3h0m-1-2h0m-4 2h0m-4 2h0m-3-5h0m-1 0h0m6 7h0m1 3h0m1 0h0m2-1h0m2 1h0m2-2h0m3 1h0m0-2h0m5 4h0m0 1h0m-2 0h0m-7 2h0m7 6h0m2-2h0m1 2h0m15 10h0m-23-1h0m-32 0h0m-6 4h0m35 1h0m0-3h0m7 5h0m1-2h0m1 1h0m9-1h0m-10 3h0m0 0h0m-1 0h0m-3 2h0m-90 7h0m1-1h0m0 1h0m0-3h0m3 1h0m3 2h0m87-1h0m5 0h0m7 7h0m-9 1h0m0 0h0m-2-4h0m-4 3h0m0-2h0m-3 0h0m-34 1h0m-44-1h0m-2 0h0m-2 1h0m-1 1h0m0 0h0m-3-3h0m0 3h0m-4-1h0m-1 1h0m-1 0h0m2 3h0m1 4h0m1-3h0m1-1h0m0 1h0m6 0h0m0 2h0m2-1h0m44-1h0m0 1h0m12 0h0m21-2h0m0 0h0m1 4h0m1-1h0m2 1h0m3-3h0m1 4h0m4-4h0m1-2h0m7 7h0m-8 1h0m-2 2h0m-6 0h0m-1-2h0m-2-1h0m-2 4h0m-1-5h0m-2 1h0m-1 4h0m-2 0h0m-1-5h0m0 4h0m-2-1h0m-7 3h0m-68-5h0m-1 1h0m-9 9h0m3-3h0m8 1h0m65 2h0m9-4h0m3 5h0m1-5h0m2 4h0m1-3h0m9-2h0m4 5h0m4-1h0m6-3h0m15 11h0m-9-2h0m-13 0h0m-2-1h0m-2 0h0m-2 2h0m-1-1h0m-4 0h0m-2-1h0m-5 1h0m-1-1h0m-2 0h0m-3 1h0m-2 1h0m-3-3h0m0 0h0m-2 3h0m-5 0h0m-2 1h0m-42 0h0m-16-5h0m-6 9h0m2 0h0m1 0h0m3 0h0m1 0h0m2 0h0m3 0h0m1 0h0m3 1h0m1 0h0m1 0h0m1-5h0m1 0h0m1 2h0m3-1h0m1 1h0m0 0h0m4-2h0m1 4h0m8-2h0m0-1h0m22 3h0m3 0h0m0-2h0m1 3h0m3-2h0m1 1h0m0-1h0m2 0h0m1 2h0m2-5h0m2 5h0m2-3h0m4-2h0m2 1h0m3 1h0m4 4h0m17-3h0m7 7h0m-17-4h0m-8 3h0m-4 0h0m-1 0h0m-5 0h0m-3 0h0m0-2h0m-1 1h0m-1 1h0m-1 2h0m-1 0h0m-1-5h0m-3 1h0m-1 1h0m-2 0h0m0-1h0m0 0h0m-2 5h0m0-5h0m0 1h0m-1 1h0m-1 0h0m-21-2h0m0-1h0m-11 1h0m-5 0h0m-9 0h0m-5 0h0m0 1h0m-3 4h0m-1-1h0m-3-4h0m-3 5h0m-2-6h0m0 7h0m1 0h0m0 1h0m1-1h0m1 3h0m1 2h0m1-4h0m0 3h0m4-3h0m49 4h0m1-4h0m2 0h0m4 3h0m13 1h0m3-2h0m1-3h0m2 2h0m0-3h0m1 5h0m0-4h0m22 5h0m-4 3h0m-8 2h0m-6 0h0m-8-2h0m-3 3h0m-2-4h0m-1 2h0m-2-2h0m-3 3h0m0-4h0m-4 1h0m-1 3h0m0-4h0m0 1h0m-1 1h0m-1 2h0m0-3h0m-2 0h0m-1 4h0m0-1h0m-8 1h0m4 4h0m2-4h0m7 3h0m1-1h0m4 0h0m2-1h0m1 4h0m1 0h0m0-2h0m1-1h0m1 1h0m1 3h0m12-2h0m12 1h0m25 0h0m1 1h0m2-1h0m-1 3h0m-3 3h0m-1-1h0m-50-3h0m-9 1h0m-27 3h0m-6-2h0m-6 1h0m-4 1h0m-1-1h0m-2 4h0m3-1h0m0 3h0m5-1h0m3 2h0m2-4h0m1 0h0m1 5h0m0-5h0m0-1h0m5 1h0m25 4h0m0-4h0m1 0h0m0-1h0m55 1h0m2 0h0m-46 9h0m-10-1h0" stroke="#926aef" stroke-width="2.40" stroke-linecap="round" fill="none"/><path d="M96-129h0m3 24h0m4 4h0m-5 1h0m-83 5h0m52 4h0m30 6h0m-33-3h0m-47 1h0m-2-1h0m74 7h0m10 1h0m10 7h0m-23 5h0m-72 11h0m6-1h0m3-2h0m6 2h0m8 0h0m8 1h0m51 7h0m-1-3h0m-78 2h0m-3-2h0m-6 11h0m10-4h0m59 1h0m-13 9h0m4 1h0m9 5h0m-37 4h0m-19 4h0m104 2h0m-96 3h0" stroke="#794ff4" stroke-width="2.40" stroke-linecap="round" fill="none"/></g>
<path d="M239.5 173.9V183.4H249.0" stroke="#111" stroke-width="0.8" fill="none"/><path d="M237.8 175.1L239.5 172.1L241.2 175.1Z" fill="#111"/><path d="M247.8 181.70000000000002L250.8 183.4L247.8 185.1Z" fill="#111"/><text x="242.2" y="192.4" font-size="4.8" fill="#222">tSNE_1</text><text x="0" y="0" font-size="4.8" fill="#222" transform="translate(235.9 183.20000000000002) rotate(-90)">tSNE_2</text>
<text x="356" y="13.2" font-size="8.9" fill="#111" text-anchor="middle">CAG</text>
<g transform="translate(321.5 90.9) scale(0.5)"><ellipse cx="96" cy="-130" rx="16" ry="9" transform="rotate(35 96 -130)" fill="#643bf8" fill-opacity="0.68"/><ellipse cx="101" cy="-105" rx="5" ry="5" transform="rotate(0 101 -105)" fill="#643bf8" fill-opacity="0.68"/><ellipse cx="120" cy="-109" rx="7" ry="7" transform="rotate(0 120 -109)" fill="#683ff7" fill-opacity="0.68"/><ellipse cx="18" cy="-90" rx="9" ry="9" transform="rotate(0 18 -90)" fill="#6f45f6" fill-opacity="0.68"/><ellipse cx="17" cy="-54" rx="9" ry="7" transform="rotate(0 17 -54)" fill="#6f45f6" fill-opacity="0.68"/><ellipse cx="36" cy="-34" rx="12" ry="9" transform="rotate(10 36 -34)" fill="#865bf2" fill-opacity="0.68"/><ellipse cx="104" cy="-24" rx="12" ry="12" transform="rotate(0 104 -24)" fill="#643bf8" fill-opacity="0.68"/><ellipse cx="68" cy="-88" rx="9" ry="8" transform="rotate(0 68 -88)" fill="#683ff7" fill-opacity="0.68"/><ellipse cx="85" cy="-92" rx="9" ry="9" transform="rotate(0 85 -92)" fill="#683ff7" fill-opacity="0.68"/><ellipse cx="70" cy="-44" rx="16" ry="33" transform="rotate(0 70 -44)" fill="#643bf8" fill-opacity="0.68"/><ellipse cx="96" cy="-46" rx="19" ry="33" transform="rotate(0 96 -46)" fill="#643bf8" fill-opacity="0.68"/><ellipse cx="130" cy="-72" rx="7" ry="18" transform="rotate(15 130 -72)" fill="#683ff7" fill-opacity="0.68"/><path d="M38-39h0" stroke="#a784e9" stroke-width="2.40" stroke-linecap="round" fill="none"/><path d="M96-137h0m-5 6h0m-5 31h0m-68 2h0m-4 4h0m2 1h0m67 3h0m-8 2h0m-65 1h0m61 4h0m-41 15h0m103 5h0m-120 3h0m21 18h0m2-1h0m9 4h0m-2-2h0m0 3h0m-2 0h0m-1-2h0m-2 2h0m0-1h0m-1 1h0m-6 0h0m-1 0h0m-1-4h0m-2 3h0m-1-1h0m0 3h0m-1 1h0m0-4h0m-2 9h0m1-2h0m1 3h0m0 0h0m1-5h0m1-1h0m5 4h0m0-2h0m1-2h0m1 3h0m6 0h0m0-2h0m1 0h0m3 1h0m2 3h0m1-1h0m2-1h0m-3 6h0m-3 3h0m-3-3h0m0 0h0m-2 1h0m-1 1h0m0-2h0m-5 0h0m-2 0h0m-1 0h0m-4-2h0" stroke="#926aef" stroke-width="2.40" stroke-linecap="round" fill="none"/><path d="M81-139h0m2 0h0m0-2h0m0 1h0m2-2h0m4 1h0m7 0h0m3 2h0m1 0h0m5 6h0m-2-4h0m0 5h0m0-5h0m-2 0h0m-4 4h0m-1-2h0m0 2h0m-1 0h0m-6-1h0m-1-2h0m0 3h0m-1 0h0m-1-4h0m-13-1h0m-3 4h0m-14-2h0m8 7h0m11 0h0m4-2h0m3 1h0m2-2h0m0 2h0m2-2h0m0 2h0m4-1h0m0 2h0m1 0h0m0 0h0m4 0h0m1-2h0m2-1h0m1 2h0m9 0h0m2 3h0m0 4h0m-1 2h0m-2 0h0m-11 0h0m-2-5h0m-1 2h0m-1 2h0m-3-1h0m0-1h0m-26-1h0m-4 4h0m-7-4h0m10 8h0m26-2h0m16 1h0m0-1h0m3 1h0m3-1h0m12 9h0m-1 1h0m-6-5h0m-2 1h0m-1 4h0m0 0h0m-19-4h0m-20 1h0m-9 2h0m16 5h0m16 3h0m2-1h0m3 0h0m1-5h0m1 3h0m3-2h0m0 1h0m6-1h0m4 0h0m1 4h0m11-4h0m-8 6h0m-21 0h0m-9 4h0m-2-2h0m-1-2h0m-5 4h0m0-4h0m-1 5h0m-1-1h0m-1-2h0m0 1h0m-13 2h0m-40 0h0m-4 0h0m-2-4h0m-1 3h0m-2-3h0m-1 2h0m-4 0h0m-3 5h0m1 2h0m1-2h0m2 0h0m1 1h0m6-2h0m0-1h0m3 2h0m0 2h0m44-3h0m1 2h0m3 1h0m1-2h0m1 2h0m3 0h0m0 0h0m4-1h0m1-3h0m0-1h0m2 2h0m0 2h0m1 0h0m1-2h0m2-1h0m5 3h0m1-1h0m35 7h0m-35-3h0m-1 3h0m-3 2h0m0-1h0m-4 1h0m-5-2h0m-3-3h0m-1 1h0m0 0h0m-1 2h0m0 0h0m-3 0h0m-2 2h0m-7-3h0m-1-1h0m-1-1h0m-2 1h0m-32-2h0m-2 6h0m-1-1h0m-1-1h0m-1-3h0m-1 0h0m-1 2h0m-2-3h0m0 3h0m-1 2h0m-2 1h0m-1-1h0m-2 3h0m1-1h0m3 0h0m0 1h0m1 0h0m0 1h0m1-1h0m1-1h0m0 1h0m1-2h0m2 2h0m1-2h0m40 1h0m0 1h0m2-1h0m0 4h0m1-4h0m0 3h0m1-1h0m0 1h0m2-1h0m1 1h0m0-4h0m1 5h0m1 0h0m0 1h0m1-2h0m0-1h0m4-2h0m9-1h0m7 6h0m3-4h0m0 3h0m2 1h0m1-3h0m7 2h0m0 1h0m20-2h0m0 2h0m2 0h0m1-6h0m1 2h0m3-1h0m2 0h0m1 0h0m0 0h0m0 1h0m1 8h0m0-3h0m-1 2h0m0-1h0m-2 1h0m-3 2h0m-1-3h0m-2-1h0m0 0h0m-1 4h0m0-2h0m-1-2h0m-1 2h0m-1 2h0m-2 0h0m-15-4h0m-2 3h0m-1-1h0m-3 2h0m-1-4h0m0 3h0m-5 0h0m-4-3h0m-6 4h0m-1-2h0m-6-2h0m-4 3h0m-5-1h0m-1-3h0m-4 5h0m0-1h0m-4 2h0m-53-4h0m0 1h0m-2 1h0m-1 1h0m0-3h0m0 2h0m-1 1h0m-1 0h0m0 0h0m31 5h0m8-1h0m5 3h0m11 0h0m3-3h0m4 1h0m6 0h0m2-1h0m8 2h0m1-2h0m0 1h0m6-3h0m0 0h0m1 0h0m5 4h0m1-4h0m4 5h0m0-4h0m1 2h0m3 1h0m5-4h0m1 5h0m15-3h0m0 3h0m2 0h0m0-3h0m0-1h0m1-2h0m0 4h0m2-3h0m0 5h0m2-2h0m0-4h0m2 3h0m1 0h0m2 2h0m0 1h0m-3 6h0m-1 0h0m0-2h0m-8 1h0m-4 1h0m-9-2h0m-8-4h0m-3 5h0m-13-1h0m0-2h0m-4 1h0m0-3h0m-1 3h0m0 2h0m-2 0h0m-2 1h0m-2 0h0m-1 0h0m-2-3h0m0-2h0m-3 0h0m-5 5h0m-4-6h0m-3 0h0m-18 2h0m-7-2h0m-3 5h0m-10 0h0m0 1h0m-4-1h0m-8 6h0m0-1h0m1-2h0m3 0h0m4 4h0m1-3h0m1-1h0m0 1h0m1-1h0m0 2h0m2-1h0m0 0h0m0-1h0m1 0h0m1 2h0m0 0h0m0-3h0m1 3h0m0-1h0m2-2h0m19 1h0m10 1h0m1-2h0m1 3h0m6-2h0m3 3h0m2-5h0m1 5h0m1 0h0m2-3h0m1-1h0m4 0h0m2 2h0m0 1h0m1 1h0m0-4h0m0 2h0m1 0h0m1-2h0m5 3h0m1 2h0m0-2h0m1 0h0m1 2h0m0-4h0m1 4h0m5-1h0m1 1h0m12-2h0m1-3h0m0 2h0m1-3h0m2 0h0m13 2h0m1-2h0m0 2h0m1 0h0m1 1h0m2-1h0m2-2h0m-16 8h0m0 2h0m-1 1h0m-3 1h0m-4-5h0m-5 4h0m0-1h0m-3-1h0m-1 2h0m-1-4h0m-1 2h0m0-2h0m-1 5h0m-3-2h0m-2-4h0m-4 3h0m-2-2h0m-3 1h0m0 1h0m-1 2h0m0-4h0m-1 5h0m-2-3h0m0-1h0m-1 1h0m0 0h0m-1-3h0m0 0h0m-1 4h0m0-1h0m0 2h0m-1-5h0m0 2h0m-1-1h0m0 1h0m-1 2h0m-4-1h0m-3 2h0m-2-2h0m-6 0h0m-2-2h0m0 5h0m-3-2h0m-1-1h0m-25-1h0m-2 3h0m-5 1h0m-1-1h0m-1 0h0m0-5h0m-6 1h0m-1 0h0m-3 1h0m7 5h0m0 0h0m6 0h0m10 4h0m1 0h0m3-1h0m19 0h0m5 0h0m2-1h0m2 0h0m3-1h0m4 2h0m3 0h0m1 0h0m1 0h0m1-3h0m0 3h0m1-3h0m5 0h0m1 1h0m1-2h0m1 1h0m1 2h0m0 0h0m0 0h0m1-1h0m2-2h0m0 2h0m1-1h0m1 5h0m4-2h0m1-2h0m2 3h0m5 1h0m0-5h0m7 2h0m3-1h0m0 3h0m19 1h0m0 2h0m-1-2h0m0 0h0m-1 5h0m-23 0h0m-2-4h0m-2 4h0m-4-2h0m-1 3h0m-4 0h0m0-1h0m-4-1h0m0 0h0m-2-4h0m-4 2h0m0 0h0m-1 3h0m-1-5h0m-1 3h0m0-1h0m-2-1h0m-5 2h0m0-2h0m-2 2h0m-1-2h0m0 3h0m-1-1h0m-6-2h0m-1 0h0m-3 2h0m-11 2h0m-3-2h0m-1 2h0m0-2h0m-3-3h0m0 4h0m-6-4h0m0 5h0m-1 0h0m0 1h0m-2 0h0m-2-5h0m-1 3h0m-2 1h0m-3 0h0m0 0h0m-1 5h0m0-2h0m3-1h0m1 0h0m0 0h0m1 0h0m0 4h0m2-4h0m0 4h0m0-4h0m0 0h0m3 1h0m2 2h0m2 0h0m1-3h0m0 0h0m3 2h0m1-1h0m1-1h0m0 5h0m3-4h0m0-2h0m4 5h0m0-2h0m6-2h0m1 3h0m1-1h0m7-1h0m3 3h0m1 1h0m1-3h0m3 2h0m2 0h0m6-1h0m1 2h0m1-6h0m2 3h0m0 0h0m1 1h0m0-2h0m3 2h0m0 2h0m2-5h0m1 2h0m1 1h0m1-1h0m2 2h0m1-4h0m1 1h0m1 3h0m0-5h0m3 3h0m4 2h0m2-1h0m2-2h0m2 3h0m1-5h0m0 1h0m3-1h0m8 6h0m1-2h0m0-1h0m1 1h0m1-1h0m1 1h0m-14 7h0m-1-2h0m-3 0h0m0 0h0m-1 1h0m0 0h0m-1-1h0m0 3h0m-4-3h0m-1-3h0m-1 1h0m-4-1h0m-1 2h0m-2-1h0m-1 2h0m-1 0h0m-1 1h0m-1 1h0m-2-5h0m-2 4h0m-3-1h0m-1 2h0m0-2h0m-1-3h0m0 2h0m-3 2h0m-1-3h0m-1 3h0m-2 1h0m-9-1h0m-2 2h0m-4-4h0m0 0h0m-11-1h0m-2 2h0m-2-2h0m-3 1h0m-2 3h0m-3-2h0m-1 3h0m-2-4h0m0 2h0m0-2h0m-4 1h0m7 4h0m21 5h0m3 0h0m0-3h0m4 1h0m3 1h0m2-2h0m2 2h0m8-2h0m0 1h0m2-3h0m0 1h0m0 1h0m0 1h0m1-1h0m1-1h0m2 2h0m5-1h0m1 3h0m1-5h0m0 1h0m0-1h0m6-1h0m1 5h0m0 1h0m2-3h0m1-1h0m3 4h0m0-1h0m0-2h0m1 3h0m1-5h0m1 3h0m2-1h0m2-1h0m-3 9h0m0-4h0m-5 1h0m-2-1h0m-2 2h0m0-3h0m-1 5h0m0 0h0m-2-2h0m0-2h0m-5 0h0m0 0h0m-7 3h0m-1-4h0m-13 2h0m-3-2h0m-1 2h0m-1 1h0m0 2h0m-1 0h0m0-1h0m-1-4h0m0 1h0m-2 4h0m-1-3h0m-1 3h0m5 4h0m0-2h0m0 2h0m6 1h0m1 0h0m2 0h0m0-2h0m1 0h0m19 2h0m2-1h0m1 1h0m-25 4h0m-4 2h0m2 2h0" stroke="#794ff4" stroke-width="2.40" stroke-linecap="round" fill="none"/><path d="M69-139h0m5 0h0m7-1h0m6 1h0m1 0h0m1-1h0m3 0h0m3 2h0m1-2h0m3 1h0m7 6h0m-4 0h0m0-1h0m0 1h0m0-3h0m-2 2h0m-1-2h0m-1 4h0m-4-2h0m-2 0h0m-1 2h0m-3-6h0m-2 1h0m0 2h0m-2 2h0m-1 1h0m-23-1h0m17 3h0m5-2h0m2 4h0m0 0h0m2 2h0m1-3h0m2 0h0m0 1h0m1 2h0m1-1h0m0-3h0m1-1h0m0 2h0m2 0h0m1 0h0m0 3h0m1-1h0m4 1h0m2-2h0m0-1h0m1 2h0m5-2h0m2-1h0m0 2h0m1 3h0m-1 2h0m0 1h0m-1-1h0m0 1h0m0 1h0m-1 1h0m-1-2h0m-2 0h0m-1 2h0m-5-4h0m0-1h0m-1 3h0m0-1h0m0-3h0m-1 5h0m-3-1h0m0-3h0m0 2h0m-1 0h0m-1-1h0m0 2h0m-1-2h0m0-2h0m-47 2h0m32 4h0m22 1h0m2-1h0m5 2h0m0 0h0m10 4h0m3-1h0m1 1h0m7 3h0m-1-1h0m-6 0h0m-1-1h0m-1 4h0m-14 0h0m-1 0h0m-1 0h0m-5 1h0m-11-6h0m-16 4h0m-15 2h0m12 0h0m31 4h0m0-2h0m1 2h0m0-3h0m1 0h0m5 0h0m0 1h0m0 2h0m15 2h0m2-3h0m0 1h0m1-3h0m2 2h0m-4 3h0m-18 3h0m-1-2h0m-2-1h0m0 1h0m-1 0h0m-2-1h0m-2 5h0m-4 0h0m-1 1h0m-3-2h0m-2 1h0m-3-1h0m-2-1h0m-1 1h0m-61 1h0m-1-3h0m-3 2h0m0 1h0m-4 6h0m5 1h0m0-1h0m1-1h0m0-3h0m4 0h0m1 1h0m3 0h0m0 1h0m3 1h0m1-1h0m37-1h0m0 3h0m3-1h0m0 1h0m0-1h0m1-4h0m2 2h0m1-1h0m0 4h0m1 0h0m0-1h0m0 2h0m1 0h0m3-4h0m1 2h0m0 1h0m1-2h0m1-3h0m2 4h0m1 2h0m0-4h0m0 4h0m1-2h0m1 0h0m0 2h0m1-2h0m1 0h0m0-1h0m4-2h0m1 1h0m1 2h0m1-1h0m0-3h0m1 5h0m40 0h0m1 0h0m2 5h0m0 1h0m0-4h0m-1 1h0m0 1h0m-4-3h0m-2 3h0m-2 2h0m-27-3h0m-8-2h0m-1 0h0m-1 6h0m0-3h0m-3 0h0m-2 2h0m-2-5h0m-1 0h0m-1 5h0m-2-4h0m-3 2h0m-1 0h0m-8 1h0m-3 2h0m0-1h0m0-1h0m0-4h0m-3 3h0m-1-1h0m-1-1h0m-1 5h0m-34 0h0m-1-4h0m-1 1h0m-1 0h0m-2-3h0m-1 4h0m-1-1h0m0-2h0m-2-1h0m0 1h0m-1 4h0m0 1h0m-3-5h0m-1 5h0m10 1h0m41 2h0m0 1h0m2-1h0m0-1h0m0-1h0m0 5h0m1-3h0m3 2h0m1-3h0m0 2h0m0-4h0m0 1h0m1 3h0m1-4h0m4 6h0m4-4h0m7-1h0m1 4h0m0-2h0m1 2h0m0-1h0m1-3h0m1 0h0m0 1h0m3-1h0m0 1h0m2-1h0m0 2h0m2-2h0m0 4h0m2-1h0m1-2h0m0-1h0m2 2h0m1 2h0m1 0h0m1 0h0m19 0h0m1-1h0m2 1h0m5-2h0m6 2h0m1-4h0m0 3h0m0 2h0m-1 2h0m-3 1h0m-3 0h0m-2 2h0m-1-3h0m-3 0h0m-3 1h0m0 2h0m0-2h0m-13 2h0m-4-1h0m-1-1h0m0 3h0m-1-4h0m-2 2h0m-4 1h0m-1-1h0m-1-1h0m0 2h0m-1-1h0m0-1h0m-2-1h0m0-2h0m0 3h0m-2-3h0m0 4h0m0 2h0m-1-1h0m0-2h0m-1-2h0m-1 3h0m-1-3h0m-1 2h0m-2-2h0m0 3h0m0 2h0m-1 0h0m-5-3h0m0-1h0m0 0h0m0 3h0m-1-4h0m0 2h0m-4 2h0m-1-2h0m-2 0h0m0 3h0m-1 0h0m-1-2h0m-2-2h0m-1 3h0m0-3h0m0-2h0m-1 3h0m-1 1h0m0-1h0m0-1h0m0 0h0m-1 0h0m0 2h0m-1 0h0m-57 0h0m0-1h0m-2 1h0m27 6h0m30-4h0m2 6h0m1-1h0m2 0h0m0-5h0m0 3h0m0-2h0m0 3h0m1 0h0m1-3h0m1 2h0m2-3h0m2 4h0m0 1h0m0-3h0m3 2h0m1-2h0m4 2h0m0 1h0m0-2h0m0 3h0m1-4h0m1 0h0m2 0h0m0-1h0m1 2h0m0 2h0m1-5h0m1 1h0m1 4h0m0-5h0m0 1h0m1 5h0m1 0h0m1-3h0m0 2h0m0-1h0m1-1h0m3 1h0m0-3h0m0 1h0m0 4h0m3-5h0m1 1h0m0 2h0m1-1h0m0 3h0m0-3h0m1 2h0m1-1h0m0-1h0m0 2h0m2 1h0m1-5h0m3 0h0m1 4h0m1 1h0m0-3h0m1 3h0m2-6h0m0 3h0m0 3h0m3-2h0m7 1h0m4-4h0m3-1h0m1 0h0m2 4h0m3 1h0m0-1h0m1-2h0m0-2h0m1 0h0m-2 7h0m-3 3h0m0-2h0m-1 4h0m0-2h0m-2 2h0m0-1h0m-1-4h0m0 2h0m-1-2h0m0 4h0m0-4h0m-2 1h0m-1 4h0m-1-6h0m0 0h0m-1 2h0m0 2h0m-7-1h0m-2 3h0m-1-1h0m0-1h0m-1-1h0m-1 0h0m-1-2h0m-1 0h0m0 1h0m-1-2h0m0 2h0m0 1h0m-1 2h0m0 0h0m-2 0h0m0-2h0m-2-1h0m-5 3h0m0 1h0m-1-5h0m0 3h0m-1 0h0m-2 1h0m-1 0h0m-1-2h0m-1 2h0m-1 0h0m-3-1h0m-1-2h0m0 4h0m-2-5h0m-1 1h0m0-2h0m-1 1h0m0 4h0m0-1h0m-1-2h0m-1 2h0m0 1h0m0-1h0m-1-1h0m0 1h0m0-4h0m-1 3h0m0 3h0m0-1h0m-1-3h0m0 2h0m-1 0h0m-1-3h0m-1 0h0m0 3h0m-1-4h0m0 6h0m0-4h0m-1 2h0m-1 0h0m0 1h0m-1-1h0m-1 1h0m0 0h0m0-4h0m-1 4h0m-2 0h0m-4-2h0m-2 3h0m0-3h0m0 3h0m0-6h0m-1 5h0m-1-1h0m-2-3h0m0 4h0m-12-1h0m-6-4h0m-21 5h0m0 0h0m-2-2h0m-1 8h0m0-2h0m4-2h0m3 2h0m0-1h0m4 3h0m9-5h0m2 4h0m4-1h0m6-2h0m8 4h0m0-1h0m1 2h0m1-1h0m0-3h0m1 3h0m0 1h0m0-2h0m2-1h0m3 1h0m0-4h0m2 1h0m0 0h0m2 5h0m4 0h0m2-5h0m1 2h0m4-1h0m0 2h0m0 2h0m1-2h0m0-1h0m1-3h0m0 5h0m1-3h0m0 0h0m0 0h0m0-1h0m1 1h0m0-1h0m0 0h0m1 2h0m0 3h0m0-6h0m1 6h0m0-1h0m0-5h0m0 1h0m0-1h0m0 2h0m1 2h0m0 0h0m0 1h0m1 1h0m0-3h0m0-3h0m2 3h0m0-1h0m0-2h0m1 4h0m3 0h0m2 0h0m1-4h0m3 4h0m1 2h0m0-5h0m1 2h0m1-3h0m2 3h0m2 1h0m1 0h0m0 2h0m0-4h0m1 3h0m1-1h0m0-3h0m2 1h0m0 0h0m0 0h0m1-1h0m2 4h0m2-1h0m1-3h0m0 1h0m1-2h0m1 4h0m0 0h0m1 1h0m2-4h0m3 1h0m5 3h0m2-4h0m2 2h0m-1 5h0m-3 0h0m-3 0h0m-2-1h0m-5-1h0m0 2h0m-2 3h0m-1-1h0m0 1h0m0-1h0m-1-3h0m0 5h0m-1-3h0m-2 1h0m-1 0h0m-1-1h0m-1 1h0m-4-2h0m0-2h0m0 2h0m-1-1h0m-3 2h0m0 3h0m-1-3h0m0 0h0m-1-1h0m-1 3h0m0-2h0m-2 0h0m0 1h0m-3-1h0m-4 0h0m-1 2h0m-1 0h0m0-4h0m0 2h0m-1 0h0m-1 1h0m-1-3h0m0 5h0m0-2h0m0-2h0m-1 2h0m0 0h0m-1-3h0m-1 4h0m-1-3h0m0 1h0m0 1h0m0-1h0m-1-1h0m0 1h0m0-1h0m-1-1h0m0-1h0m-1 3h0m0-1h0m0 3h0m0-4h0m0 2h0m0-3h0m-1 6h0m-1-3h0m0-1h0m-1 3h0m0 0h0m-1 1h0m-1-3h0m-1 3h0m-1-4h0m-1 3h0m0-2h0m-1-3h0m-1 2h0m-3 3h0m-2-1h0m0 0h0m-1-3h0m-4 1h0m-2 2h0m-4 1h0m-23-4h0m-1 1h0m-3-1h0m-2 2h0m0 1h0m0 0h0m-2-3h0m0 3h0m-2-2h0m0 3h0m-7-5h0m0 4h0m10 4h0m4-2h0m31 6h0m2-2h0m0-4h0m3 1h0m1 3h0m5-4h0m2 4h0m0-1h0m0 1h0m3 0h0m1-3h0m0-1h0m0 4h0m1-1h0m3-2h0m0 0h0m1 0h0m0 2h0m0 0h0m0 2h0m0-4h0m1 1h0m2 2h0m0-2h0m2-1h0m0 0h0m1 1h0m1-2h0m1 3h0m0-2h0m0 3h0m0 2h0m1-3h0m1-3h0m0 1h0m1 1h0m0 3h0m0-4h0m1 4h0m5-1h0m0 1h0m2-1h0m0 2h0m1 0h0m2-3h0m0 1h0m1-1h0m1 1h0m2-2h0m0 2h0m3-3h0m0 5h0m0-2h0m2-1h0m1 1h0m2-1h0m0-1h0m1-2h0m0 2h0m1 0h0m0 4h0m0-4h0m1 2h0m1-1h0m2 2h0m16 3h0m-1-1h0m-6 5h0m-8-2h0m-2 0h0m-1 1h0m-1-3h0m0 3h0m-1 0h0m0 0h0m-1 0h0m-3-2h0m0 3h0m-2-6h0m0 2h0m-1 3h0m0 0h0m-1-1h0m-1 2h0m-1-2h0m-2-3h0m-2 4h0m-1-2h0m-2-3h0m-2 3h0m0 2h0m-1 0h0m0-1h0m0 0h0m0-4h0m-1 1h0m-3 1h0m0-2h0m-1 2h0m0 1h0m-1 1h0m0-3h0m0 5h0m-1-4h0m0 1h0m-1-1h0m0 3h0m0 0h0m-1-2h0m0 2h0m0-3h0m-1 3h0m0 0h0m-1-4h0m0 3h0m-1 1h0m-2-3h0m0-1h0m-1 0h0m0 0h0m-1 4h0m0-2h0m0 0h0m0 0h0m-1 1h0m-2 1h0m0-1h0m0 1h0m-2-3h0m-1-2h0m-1 3h0m-1-2h0m-1 0h0m-1 2h0m-1-1h0m0 3h0m-2 1h0m0-4h0m-1-1h0m-2 2h0m-2 2h0m0-2h0m-2 0h0m-1-1h0m-1 3h0m-2-2h0m-21 1h0m-4 2h0m26 0h0m0 5h0m1-2h0m1-2h0m0 3h0m1 1h0m4-5h0m1 5h0m0 1h0m2-2h0m1-2h0m0 0h0m0 1h0m2-2h0m0 3h0m1 1h0m4-5h0m0 6h0m2-1h0m0-3h0m1 1h0m0 1h0m1-3h0m1 5h0m0 0h0m0-4h0m1-1h0m0 0h0m0 0h0m0 3h0m2-4h0m0 2h0m0-1h0m1 4h0m0-1h0m0-3h0m1 4h0m0 0h0m0-2h0m1 0h0m0 0h0m1 2h0m1-2h0m0 0h0m0-1h0m0-1h0m1 1h0m0 2h0m1-2h0m0 4h0m0-2h0m0-4h0m1 1h0m0 3h0m1 0h0m0 0h0m1 0h0m0-3h0m1 0h0m0 3h0m3-3h0m2 0h0m0 4h0m1 0h0m1-3h0m0 3h0m1 0h0m0-3h0m0 0h0m1 1h0m0 2h0m0 0h0m1-3h0m0 4h0m0 0h0m1 0h0m0-1h0m1-1h0m0-3h0m0 1h0m1 0h0m1 0h0m0 3h0m1-4h0m0 0h0m0 3h0m0-3h0m1 2h0m1 1h0m1-3h0m1 1h0m0-1h0m0 4h0m0-1h0m0-1h0m0 3h0m2-2h0m0 1h0m0 0h0m1 1h0m1-2h0m1-1h0m0 2h0m0-4h0m0 2h0m1 3h0m11-4h0m1 2h0m-12 4h0m0 2h0m0-1h0m-1 0h0m0-2h0m-1 2h0m-2 2h0m-3-4h0m-2 4h0m-1-4h0m-1 1h0m-1 3h0m0-4h0m-1 0h0m0 4h0m-1-5h0m-1 1h0m0 1h0m-1 1h0m0-2h0m-2 3h0m-1-1h0m0 2h0m-1-2h0m-1-3h0m-1 5h0m0-1h0m-2-2h0m-5 1h0m0 0h0m-1 1h0m-1-4h0m0 3h0m-1 0h0m0 1h0m-1-4h0m-1 3h0m0 1h0m0-1h0m0-3h0m-1 1h0m-1 5h0m-1-4h0m0 2h0m0 1h0m-2-4h0m0 0h0m-3 2h0m-1-2h0m-1 1h0m-1 3h0m0 0h0m-1-4h0m0 1h0m-1 2h0m-2-1h0m-2 2h0m-2-1h0m-2-3h0m0 1h0m-4 0h0m-1 2h0m3 5h0m3 0h0m1 0h0m1 1h0m1 1h0m1-1h0m0-2h0m2 3h0m0-4h0m1 0h0m0 1h0m2 3h0m0-4h0m0 2h0m2-1h0m0 1h0m1-1h0m1-1h0m0 0h0m0 4h0m1-2h0m0-2h0m0 3h0m0-4h0m2 6h0m0-1h0m0-1h0m1 1h0m1-5h0m1 3h0m1-2h0m1 2h0m0-3h0m1 1h0m0 2h0m1-1h0m0 2h0m0 0h0m0 1h0m3 0h0m0-4h0m0 3h0m1-4h0m1 4h0m1-2h0m0 3h0m1-2h0m0 2h0m2-2h0m0 1h0m1 1h0m0 1h0m1-2h0m0-1h0m0-2h0m2 0h0m4 0h0m0 3h0m0 0h0m0-2h0m0-1h0m3 4h0m0-2h0m0-3h0m0 4h0m1-4h0m0 1h0m0 1h0m1-1h0m1 2h0m1 1h0m0-3h0m0 2h0m2-2h0m0-1h0m1 4h0m2 2h0m0-5h0m-4 10h0m0 1h0m-1-3h0m-1-1h0m-1-2h0m0 6h0m-1-4h0m-1 1h0m0-2h0m0 3h0m0-2h0m-2 0h0m0 0h0m-1 4h0m-1-5h0m0 1h0m-1 4h0m-1-5h0m-1-1h0m0 4h0m-1-1h0m-3-1h0m0-1h0m0 1h0m-1 1h0m0-2h0m-1 3h0m-1-3h0m0 0h0m-1 2h0m0 0h0m-1-2h0m0 2h0m-1 0h0m-1-1h0m0 0h0m0-2h0m-1 1h0m-2-1h0m0 1h0m-1-1h0m0 2h0m0 1h0m-2-2h0m-2-1h0m0 3h0m-1 2h0m0 0h0m-1 0h0m0-4h0m0 1h0m-2 3h0m0-1h0m-2 0h0m-1-1h0m-1 0h0m-2 2h0m0-5h0m-1 2h0m0 1h0m-1 3h0m-1-2h0m0-3h0m-1 4h0m-1 1h0m0-1h0m-3-2h0m-1-2h0m0 0h0m0 0h0m2 9h0m3-2h0m0-1h0m1 2h0m0-1h0m2-2h0m3 2h0m0 2h0m2-2h0m6-1h0m5 4h0m13-1h0m3-1h0m0-2h0m1 0h0m0-1h0m0 1h0m1 1h0m1 0h0m2 0h0m7-2h0m-41 10h0m-1 1h0m-4-2h0m3 3h0m5 0h0" stroke="#5731fa" stroke-width="2.40" stroke-linecap="round" fill="none"/><path d="M103-135h0m-11-1h0m-5-2h0m6 7h0m3 5h0m11 2h0m-15-1h0m29 12h0m-51 16h0m20 4h0m-22 14h0m68 6h0m-102 5h0m93 1h0m-43 9h0m44 0h0m-26 21h0m14 7h0m-24 4h0m0-1h0m-36 1h0m41 5h0m15-2h0" stroke="#0000ff" stroke-width="2.40" stroke-linecap="round" fill="none"/></g>
<path d="M321.5 81.4V90.9H331.0" stroke="#111" stroke-width="0.8" fill="none"/><path d="M319.8 82.60000000000001L321.5 79.60000000000001L323.2 82.60000000000001Z" fill="#111"/><path d="M329.8 89.2L332.8 90.9L329.8 92.60000000000001Z" fill="#111"/><text x="324.2" y="99.9" font-size="4.8" fill="#222">tSNE_1</text><text x="0" y="0" font-size="4.8" fill="#222" transform="translate(317.9 90.7) rotate(-90)">tSNE_2</text>
<g transform="translate(321.5 183.4) scale(0.5)"><ellipse cx="96" cy="-130" rx="16" ry="9" transform="rotate(35 96 -130)" fill="#a17dea" fill-opacity="0.5"/><ellipse cx="101" cy="-105" rx="5" ry="5" transform="rotate(0 101 -105)" fill="#9972ed" fill-opacity="0.5"/><ellipse cx="120" cy="-109" rx="7" ry="7" transform="rotate(0 120 -109)" fill="#9b75ec" fill-opacity="0.5"/><ellipse cx="18" cy="-90" rx="9" ry="9" transform="rotate(0 18 -90)" fill="#8c62f0" fill-opacity="0.5"/><ellipse cx="17" cy="-54" rx="9" ry="7" transform="rotate(0 17 -54)" fill="#885df1" fill-opacity="0.5"/><ellipse cx="36" cy="-34" rx="12" ry="9" transform="rotate(10 36 -34)" fill="#9169ef" fill-opacity="0.5"/><ellipse cx="104" cy="-24" rx="12" ry="12" transform="rotate(0 104 -24)" fill="#9169ef" fill-opacity="0.5"/><ellipse cx="68" cy="-88" rx="9" ry="8" transform="rotate(0 68 -88)" fill="#a17dea" fill-opacity="0.5"/><ellipse cx="85" cy="-92" rx="9" ry="9" transform="rotate(0 85 -92)" fill="#a17dea" fill-opacity="0.5"/><ellipse cx="70" cy="-44" rx="16" ry="33" transform="rotate(0 70 -44)" fill="#ac8de7" fill-opacity="0.5"/><ellipse cx="96" cy="-46" rx="19" ry="33" transform="rotate(0 96 -46)" fill="#af91e5" fill-opacity="0.5"/><ellipse cx="130" cy="-72" rx="7" ry="18" transform="rotate(15 130 -72)" fill="#a785e9" fill-opacity="0.5"/><path d="M103-47h0m-30 17h0" stroke="#d3d3d3" stroke-width="2.40" stroke-linecap="round" fill="none"/><path d="M91-78h0m2-2h0m5-1h0m4-1h0m13 9h0m-24-4h0m-19-1h0m2 6h0m3 2h0m4 2h0m23-3h0m5 0h0m-3 9h0m-4 0h0m-11-2h0m-8 2h0m-7 0h0m-19 1h0m19 5h0m1-1h0m19 2h0m14 0h0m-6 1h0m-6 5h0m-17 1h0m-2-3h0m-23-2h0m4 7h0m13-1h0m3 4h0m8-1h0m2 1h0m1-4h0m1 4h0m29-4h0m-4 7h0m-4-2h0m-8 0h0m-14 1h0m-3 4h0m-1-4h0m-11 0h0m-13 2h0m-1 0h0m-4 7h0m4-2h0m2 3h0m2-1h0m9-2h0m0 2h0m13-2h0m21 0h0m2 2h0m0-4h0m3 1h0m4 3h0m-9 8h0m-12-5h0m-5 3h0m-2-2h0m-25-1h0m36 7h0m13 2h0m-4 5h0m-1-1h0m-30 4h0m-4-3h0m-3 5h0" stroke="#c6b9db" stroke-width="2.40" stroke-linecap="round" fill="none"/><path d="M84-138h0m1 5h0m0 1h0m7 5h0m3 4h0m-12-2h0m40 10h0m-6 2h0m-29 12h0m-6 0h0m-19 9h0m17 2h0m55 0h0m-3 2h0m-3 0h0m0 4h0m-35-4h0m-3-1h0m-8 4h0m-1-2h0m-11 7h0m18 2h0m0-3h0m0 2h0m4-3h0m2 0h0m0 1h0m0-1h0m4-1h0m28 4h0m0-3h0m4-1h0m2 2h0m4 8h0m-2 0h0m-9-5h0m-1 4h0m-1 2h0m-14-1h0m-2-2h0m-1 1h0m-1 2h0m-1-4h0m-1 1h0m-1-2h0m-1 4h0m-4-3h0m-8 3h0m-2-5h0m0 2h0m-1 0h0m-1 2h0m0 1h0m-1-5h0m0 1h0m0 2h0m-2-2h0m-4 5h0m-1-3h0m-1 3h0m-2-4h0m-4-1h0m-2 0h0m0 3h0m0 0h0m-5-1h0m0 2h0m0-2h0m-2-1h0m-1 2h0m-1 1h0m-1 0h0m0 2h0m3 0h0m5 3h0m0-1h0m2-1h0m1 1h0m0-2h0m5 4h0m0-1h0m0 0h0m1-2h0m1-1h0m0 4h0m4-4h0m0 1h0m2 4h0m4-3h0m6-1h0m1-1h0m3 0h0m1 1h0m2-2h0m3 3h0m2 1h0m4-2h0m1-1h0m3 5h0m9-2h0m1-2h0m11 3h0m2-4h0m-10 10h0m-15 0h0m0-2h0m-7-1h0m0 2h0m-3-1h0m-2-1h0m0-1h0m0 4h0m-2-5h0m0 1h0m0 2h0m-2 3h0m-1-5h0m0 5h0m0-1h0m-5-2h0m0-2h0m-2 4h0m-1-1h0m-1 0h0m0-2h0m0 0h0m-1-2h0m-1 6h0m-1-6h0m-1 2h0m-1 3h0m0-4h0m-2 1h0m-1-1h0m-2 4h0m-1-2h0m-1 0h0m0 0h0m-5 0h0m-1 2h0m-4-4h0m0 0h0m-4-1h0m0 5h0m-3-3h0m-1 4h0m1 3h0m0-1h0m2 0h0m3-1h0m0 4h0m8-3h0m2-1h0m2 4h0m3-2h0m1 2h0m2-3h0m0 4h0m1-1h0m1 0h0m1-4h0m1 2h0m0 1h0m1-3h0m1 4h0m0-2h0m1 1h0m1-2h0m1 2h0m3 1h0m2 0h0m1-2h0m1-1h0m1 1h0m0-3h0m1 1h0m2 4h0m1-3h0m1 3h0m2-1h0m0-1h0m1 1h0m0 1h0m1-3h0m0 4h0m0-3h0m1 2h0m2-5h0m0 6h0m7-6h0m0 4h0m1-1h0m6-3h0m7 3h0m0-2h0m-12 10h0m-1-4h0m-2 4h0m0-5h0m0 0h0m-3 3h0m-8 2h0m0-5h0m-1 1h0m0 0h0m-2 1h0m-1-1h0m0 2h0m-1 1h0m-2-2h0m-7-1h0m-2 3h0m0-2h0m-1-1h0m0 1h0m0 2h0m-1-1h0m-1-2h0m0 5h0m-1 0h0m0-6h0m-2 5h0m0-1h0m0 0h0m-1-3h0m-1-1h0m-2 6h0m-1 0h0m0 0h0m-1-3h0m0-1h0m0 2h0m-1-1h0m-1-2h0m0 0h0m-1 3h0m-2-4h0m0 6h0m-5-4h0m-1-2h0m-2 2h0m-5 3h0m-4-3h0m0 8h0m2 1h0m0-4h0m5 3h0m1-3h0m1 2h0m0 0h0m0 1h0m4 1h0m0-4h0m0 5h0m4 0h0m3-4h0m2 1h0m3 1h0m0-2h0m0 2h0m1-3h0m1 2h0m3-2h0m0 1h0m1 0h0m1 1h0m2 2h0m1-1h0m0-1h0m3 1h0m0-4h0m3 6h0m0 0h0m7-6h0m0 2h0m3 3h0m1-3h0m1-2h0m2 3h0m2-3h0m4 4h0m1-2h0m0-2h0m1 1h0m1 3h0m0 7h0m-5-5h0m-1 3h0m0-2h0m-2 3h0m-2-2h0m0-1h0m-2 1h0m-2-1h0m0 5h0m-8-4h0m-5 1h0m0-1h0m-1-1h0m-1 5h0m-3-3h0m0 1h0m-1 2h0m-1-1h0m0 0h0m-3-3h0m-1-2h0m-1 1h0m0 3h0m-2-3h0m-1 1h0m0-2h0m-13 4h0m-2 0h0m-2-2h0m-2 4h0m-4 5h0m3-5h0m0 3h0m1 0h0m0-2h0m4 1h0m2 1h0m0 1h0m2-4h0m5 2h0m3 1h0m2 3h0m3-5h0m0 3h0m0 1h0m0 0h0m1-3h0m0 1h0m1 1h0m0-3h0m2 3h0m1-1h0m1-2h0m0 3h0m1 1h0m0-2h0m0 2h0m0-2h0m2 0h0m1-2h0m3 0h0m2 1h0m3 1h0m1 2h0m0-1h0m0-2h0m1 1h0m0-2h0m1 1h0m2 3h0m2-1h0m2-2h0m1 1h0m1-2h0m0 1h0m2 0h0m3-1h0m2-1h0m1 3h0m0-1h0m1 3h0m1 0h0m2 6h0m-3-2h0m-2 0h0m-1-3h0m-1 3h0m-2-1h0m-1 3h0m-2 0h0m-5 0h0m-1-3h0m-1 4h0m0-6h0m-1 1h0m-1-1h0m-5 2h0m-2-1h0m0 4h0m-2 1h0m-2-5h0m0 0h0m-1 0h0m-2 1h0m-2 2h0m-1 0h0m0-2h0m-1 2h0m-1-1h0m-3-1h0m-1 4h0m-1-5h0m0-1h0m-3 3h0m-2 2h0m0-1h0m-3 2h0m-1-6h0m-3 1h0m0 0h0m-4 2h0m0 3h0m-1-2h0m-1-3h0m5 10h0m0 0h0m11-2h0m6-2h0m4 3h0m2 1h0m0-1h0m1-4h0m2 2h0m0-1h0m0 4h0m1-3h0m0-1h0m3 5h0m6-4h0m0-1h0m2-1h0m0 1h0m2 2h0m2-1h0m1 0h0m0-1h0m1 4h0m1-4h0m1 0h0m1 5h0m3-4h0m0 0h0m2 6h0m-3 0h0m-2 0h0m-3-2h0m-6 5h0m-4-1h0m-2-2h0m0 1h0m0 2h0m-2-4h0m-1 1h0m-1 2h0m-1-2h0m-5-1h0m-3 3h0m-1 1h0m-1-5h0m0 5h0m-1-4h0m-13 5h0m-2-2h0m5 6h0m3-3h0m3-1h0m1 3h0m17-2h0m2 0h0m2-1h0m4 2h0m1-1h0m5 2h0" stroke="#b89ee2" stroke-width="2.40" stroke-linecap="round" fill="none"/><path d="M84-145h0m-3 6h0m2 0h0m0-2h0m2-3h0m0 1h0m1 2h0m0 2h0m1-4h0m0 3h0m1-1h0m0-2h0m2 4h0m3 1h0m1-2h0m0 1h0m3-2h0m7 7h0m0 0h0m0-1h0m-3 1h0m-1-2h0m0 3h0m-1 0h0m-1-5h0m0 1h0m-2 0h0m0 3h0m-1-3h0m-1 2h0m-3-1h0m-1 0h0m-1 0h0m-2 0h0m-2 0h0m0-1h0m-2 4h0m-1-4h0m-1 4h0m0-5h0m0 4h0m-32-1h0m3 9h0m1-2h0m4-1h0m25-3h0m1 1h0m1 2h0m2 1h0m1-3h0m1 4h0m1-2h0m1 0h0m3-2h0m0 4h0m1-1h0m0-1h0m1-2h0m0 5h0m2-1h0m1 0h0m0 0h0m1-4h0m2 0h0m2 3h0m2 1h0m0-3h0m2 3h0m1 0h0m0-3h0m2 3h0m0 1h0m-1 4h0m-1-3h0m-1 3h0m0-2h0m0 1h0m-1 0h0m-1-2h0m-5 1h0m-3-1h0m-2 3h0m-2-1h0m0-2h0m-1 1h0m-3 0h0m-13 3h0m-3-2h0m-6-2h0m-2-1h0m-13 3h0m-5 0h0m3 6h0m27-1h0m44 3h0m4 1h0m-5 0h0m-1 5h0m-1-5h0m-2 2h0m-2 3h0m-12-1h0m-15-4h0m-30 1h0m-4 6h0m43 0h0m1 0h0m3-1h0m2 3h0m2-1h0m1 3h0m1-3h0m0 4h0m7-6h0m3 6h0m9-1h0m0 0h0m2-4h0m1 1h0m-28 7h0m-6 3h0m-1-1h0m-2-2h0m-1 3h0m-4-4h0m0 4h0m0-3h0m-1 2h0m-1 1h0m0-4h0m0 0h0m-1 0h0m-1-1h0m-5 3h0m-63 0h0m4 5h0m5 2h0m2-4h0m35 3h0m4-3h0m0 1h0m1 3h0m1-3h0m1 2h0m1-2h0m0 2h0m0-1h0m1 2h0m0 1h0m2 0h0m3-1h0m0-3h0m2 0h0m0 2h0m2 1h0m0-2h0m1 0h0m1 2h0m1-1h0m1-4h0m3 4h0m3-1h0m1-1h0m0-2h0m1 5h0m1-5h0m1 6h0m0-3h0m0 2h0m39 1h0m4-2h0m3 6h0m0 1h0m-1-2h0m-1 1h0m-1-1h0m0 0h0m-1-3h0m-3 5h0m-39-1h0m-3 1h0m-3-1h0m-2-3h0m0 4h0m-1 0h0m-5-2h0m-1 0h0m-1 0h0m0 0h0m-2 2h0m-1-4h0m-1 1h0m-2 0h0m0 1h0m0 0h0m-1-2h0m0 2h0m0-1h0m-2 0h0m0-1h0m-2 4h0m0-3h0m-1-2h0m-40 3h0m-3 1h0m-12 0h0m55 5h0m1-1h0m0 0h0m1 4h0m0-2h0m1 1h0m1-2h0m1 0h0m0-3h0m1 4h0m0-1h0m1 2h0m1-2h0m0-1h0m2 0h0m1-1h0m0 4h0m10-5h0m2 4h0m0-1h0m2-3h0m5 5h0m1 1h0m0-3h0m2 3h0m0-6h0m5 2h0m22 3h0m0 0h0m3-5h0m1 5h0m1-1h0m1-3h0m2 1h0m4-1h0m1 2h0m2 0h0m0-1h0m0 2h0m-1 5h0m-4 0h0m-1-1h0m-1 4h0m-1-1h0m-1 0h0m-1 0h0m-2 0h0m-1 0h0m-1-3h0m0 0h0m0 2h0m0-2h0m-1 3h0m-1-3h0m0 4h0m-1-1h0m0-1h0m-14-2h0m-1-1h0m0-1h0m0 4h0m-1-2h0m-3 0h0m-1 2h0m-2-2h0m-1 0h0m-1-1h0m-1 3h0m-1-1h0m-2-2h0m-4 0h0m0 0h0m-6 4h0m-6-3h0m-3 0h0m-1 1h0m-1 1h0m-2-2h0m-2 3h0m-4-2h0m-1 1h0m-2-2h0m0 1h0m-51-2h0m-1 1h0m-1-1h0m-3 3h0m0 0h0m-1 0h0m-2 2h0m36 6h0m20 0h0m6-4h0m2-1h0m1 3h0m1-3h0m1 4h0m2-4h0m1 0h0m1 4h0m2-4h0m1 3h0m1 2h0m0-5h0m1 4h0m1 0h0m0-2h0m0 1h0m0 2h0m1-5h0m1 4h0m2 0h0m0-4h0m1 2h0m0 0h0m1 2h0m1 1h0m2-4h0m0-1h0m0 1h0m4 2h0m2 2h0m1-2h0m1-4h0m8 5h0m1-1h0m3-1h0m3-1h0m4-1h0m7 1h0m2 1h0m1-2h0m1 0h0m1 3h0m1 1h0m0-4h0m0 3h0m3-2h0m0 1h0m0-2h0m3 0h0m0 4h0m-2 3h0m-1 3h0m0-1h0m0 0h0m-2-3h0m-1-1h0m-2 0h0m0 4h0m-1-4h0m-1 4h0m0 1h0m-1-1h0m-1-3h0m-1 0h0m0 0h0m-1 2h0m0 0h0m-13 2h0m0-3h0m-1 1h0m-3 2h0m0-2h0m-1 3h0m-6-4h0m-3 4h0m-2-4h0m0 0h0m-1-2h0m-2 5h0m-2-1h0m-2-4h0m0 5h0m-4-3h0m0 1h0m0-1h0m-1-1h0m0 1h0m0 3h0m-1 1h0m0-2h0m-3 1h0m0-3h0m-1 1h0m-1-1h0m-1 1h0m0 2h0m-2-4h0m-2 0h0m-1 3h0m-5 2h0m-2-6h0m-2 5h0m-1-2h0m-1 2h0m-1-2h0m-2 7h0m3 0h0m1 0h0m1-1h0m1 2h0m0-3h0m1 3h0m2-2h0m6-1h0m1-1h0m0 3h0m1 2h0m2-5h0m1 5h0m1-1h0m1 0h0m0-4h0m1 5h0m4-3h0m0-1h0m1-2h0m1 2h0m0 3h0m1 0h0m0 0h0m0-1h0m0-2h0m1-2h0m1 0h0m0 1h0m2 1h0m1 0h0m0-1h0m1 3h0m7-2h0m0 2h0m1 0h0m6 0h0m1 2h0m5-1h0m1-2h0m0 3h0m1-5h0m1 5h0m1-5h0m0 4h0m8-2h0m1 1h0m0-4h0m1 1h0m1 3h0m0-2h0m2-2h0m2 4h0m0 0h0m3-4h0m1 1h0m-20 5h0m0 2h0m-2 0h0m-2-1h0m0 1h0m-1-2h0m0 1h0m-3 4h0m0-4h0m-2-1h0m-1 4h0m-2-2h0m-1 0h0m-5 3h0m-1-1h0m-2 0h0m-1 1h0m0 0h0m-1-2h0m0 2h0m-2 0h0m-1-4h0m0 3h0m-5-3h0m-3 0h0m-1 3h0m-1 0h0m-1 2h0m0-1h0m-1-1h0m0-1h0m-3-1h0m0 2h0m-1-2h0m-4 0h0m-2 0h0m0-1h0m-2 1h0m0 3h0m0-2h0m-2-3h0m0 1h0m0 1h0m-1 3h0m-1-3h0m0 1h0m-1-1h0m0 3h0m0-3h0m-1 3h0m0 0h0m0-3h0m-2 3h0m2 3h0m2-1h0m3 3h0m2 1h0m2-3h0m2 4h0m0-1h0m1-3h0m2-2h0m1 3h0m1 3h0m2-3h0m0 2h0m1-4h0m0 4h0m1-4h0m0 1h0m0 1h0m0 1h0m1-4h0m1 4h0m1-4h0m2 3h0m1-1h0m0 0h0m0 2h0m1 2h0m1 0h0m0-3h0m1 1h0m0-1h0m0 1h0m1 2h0m0-3h0m1-2h0m0 0h0m1 3h0m0 1h0m0-1h0m1 1h0m1-1h0m0-3h0m1 4h0m1 1h0m1-3h0m5 2h0m0-4h0m1 3h0m0-2h0m3 2h0m2-2h0m1 3h0m1-1h0m1 1h0m1 0h0m5-5h0m5 3h0m10 8h0m0-2h0m-2 2h0m-8-3h0m-1 2h0m-1 1h0m0-2h0m-1 1h0m0 0h0m-2-2h0m-1 2h0m-2-3h0m-1-1h0m0 1h0m-1 1h0m0 3h0m-2-1h0m0-1h0m-2-2h0m-1 4h0m0-3h0m-3 3h0m-1-1h0m-2 1h0m-3 0h0m-2-5h0m-4 5h0m-1-3h0m-1 1h0m-1-3h0m0 5h0m-1-4h0m0-1h0m-1 2h0m-1 3h0m-1 0h0m-1-5h0m0 5h0m-2-4h0m0 0h0m-3-1h0m0 1h0m0 1h0m0 3h0m-2-3h0m0 1h0m-1-3h0m0 0h0m-2 0h0m0 3h0m-2 0h0m-2 2h0m0-2h0m-1 0h0m-3 2h0m-1 1h0m0-2h0m-1 0h0m-3-1h0m-1 2h0m-2-2h0m-1-1h0m-11-1h0m-5 0h0m-3 1h0m-9 4h0m1 5h0m1-3h0m1 3h0m2 1h0m11-2h0m14 1h0m3-3h0m1-2h0m1 3h0m0 1h0m6-4h0m0 2h0m1 0h0m0 2h0m6-3h0m1 1h0m2 1h0m0 3h0m1-3h0m0-3h0m0 1h0m0 2h0m1-3h0m1 6h0m1-5h0m0 4h0m1-5h0m0 1h0m1 0h0m0 1h0m1 1h0m0 3h0m1-3h0m0-1h0m1-1h0m1 3h0m0 0h0m0 1h0m0-2h0m2-2h0m2 2h0m2-2h0m0 4h0m2-1h0m3-1h0m0 0h0m3-3h0m0 5h0m2 0h0m1-1h0m1 2h0m1-2h0m1-3h0m1 0h0m0 0h0m1 0h0m0 5h0m0-6h0m2 6h0m0-3h0m5-2h0m1 0h0m3 2h0m7-3h0m3 2h0m-17 7h0m0-2h0m-1 2h0m-2 0h0m0 0h0m-3-2h0m-1 3h0m-2-2h0m0 1h0m-3 2h0m0-1h0m0-2h0m-1 3h0m-3 1h0m-2-1h0m-1-2h0m0 2h0m-5-3h0m0 0h0m0 3h0m-1-1h0m-1-2h0m0-2h0m0 0h0m-2 6h0m0-5h0m-1-1h0m0 5h0m-1-4h0m0 2h0m-1 3h0m-2-3h0m0 3h0m-2-2h0m0-1h0m0 3h0m-1-5h0m-2-1h0m-2 2h0m0 3h0m-1 0h0m-3 0h0m-2-1h0m-1 0h0m-1 1h0m-2-1h0m-3-1h0m0 1h0m-2-4h0m-9 2h0m-8 4h0m-2-2h0m-2-2h0m-2 0h0m-5-1h0m-4-1h0m32 9h0m1 2h0m1-5h0m0 6h0m1-5h0m6 2h0m0 0h0m3 2h0m7-5h0m0 4h0m1 0h0m3-1h0m0-2h0m1 2h0m0-1h0m1 2h0m0-3h0m0 3h0m1-1h0m0 2h0m1-2h0m0-1h0m1 1h0m2 2h0m0-3h0m3-2h0m0 6h0m1-3h0m1 3h0m2-3h0m0-2h0m1 4h0m4 1h0m2-2h0m1-1h0m1-2h0m0 0h0m2 0h0m4 2h0m1 0h0m2-1h0m1 0h0m-1 5h0m-3 1h0m-1 0h0m-3 3h0m0 0h0m-1 0h0m-2-2h0m-1 0h0m-2 1h0m0-3h0m-5 0h0m-2 3h0m-1 0h0m-1 2h0m-1-3h0m-2-3h0m0 1h0m-1 0h0m-1 3h0m0-3h0m-6 0h0m-1 0h0m-4 1h0m-1 2h0m-1 1h0m-1 0h0m-1-4h0m-1 0h0m-2 1h0m-1 2h0m-5-3h0m-1 4h0m-1-3h0m3 9h0m8-4h0m4 3h0m1-3h0m1 0h0m6 2h0m14-2h0m3 1h0m1 0h0m4-2h0m1 0h0m-4 7h0m-30 4h0m-2 2h0" stroke="#a784e9" stroke-width="2.40" stroke-linecap="round" fill="none"/><path d="M83-140h0m2-2h0m1-1h0m5 2h0m0 1h0m2-1h0m5 3h0m7 4h0m-1 0h0m-3-3h0m0 2h0m-1-2h0m-10 3h0m-2-3h0m-3 0h0m-3 2h0m0 1h0m0 0h0m-29-1h0m32 4h0m1 1h0m1 1h0m1 2h0m2-5h0m3 2h0m0 3h0m0 1h0m3-2h0m0-1h0m1 0h0m3 1h0m3-3h0m1 4h0m1-3h0m1 4h0m0-3h0m2 1h0m2 4h0m-3 0h0m-4-2h0m0 0h0m-3 1h0m-4 3h0m-1 1h0m-5-5h0m-3 0h0m0 2h0m-36 7h0m20 3h0m23-5h0m3 1h0m5-2h0m1 0h0m4 2h0m14 10h0m-3-1h0m0-1h0m-16 0h0m-1 0h0m-3 0h0m-53-1h0m39 9h0m10-3h0m2 2h0m1-4h0m1 2h0m3 1h0m1 2h0m1-4h0m1-2h0m1 4h0m1 1h0m7-3h0m3-2h0m5 4h0m4-2h0m1 1h0m1-1h0m0 1h0m0-1h0m-21 5h0m-5 1h0m-11 1h0m-3 0h0m0 0h0m0 2h0m0-3h0m-2 2h0m-1 1h0m-1 0h0m-3 1h0m-10-5h0m-4 5h0m-46-4h0m-7 3h0m-1 1h0m0-2h0m-4 7h0m1-4h0m1 4h0m0 0h0m1-1h0m2 1h0m3 0h0m1-2h0m0-3h0m0 1h0m0 2h0m2-1h0m1 0h0m1 3h0m1-1h0m0-2h0m1 1h0m0 1h0m0-2h0m0 2h0m1-4h0m3 4h0m32 1h0m2-2h0m4 3h0m1-1h0m1-2h0m2-3h0m0 5h0m0-3h0m1 3h0m1-3h0m0-1h0m6 4h0m1-1h0m0 0h0m1-3h0m0 3h0m1-2h0m5 1h0m0 2h0m52 5h0m-43-4h0m-4 6h0m-1-1h0m-3-3h0m-1 0h0m-2 3h0m-1 0h0m-2-5h0m-1 3h0m0 2h0m-3-3h0m0-1h0m0 4h0m-1 1h0m-5-3h0m-11 3h0m-32-4h0m0-1h0m-2 0h0m-2 2h0m-1 2h0m-1-2h0m0 2h0m-1-3h0m0 2h0m0 0h0m-3 2h0m-1-4h0m-1 1h0m-2-2h0m0 5h0m0-3h0m-2 0h0m-1-1h0m9 7h0m2-1h0m2 0h0m1-1h0m37 0h0m10 2h0m1-1h0m8-1h0m6-1h0m43 6h0m0-6h0m2 1h0m1 4h0m4-1h0m0 2h0m-3 5h0m-2-1h0m0-1h0m-23 0h0m-3-3h0m-15 2h0m-4 1h0m-4 3h0m-10-2h0m-11 2h0m-52-3h0m-1-3h0m0 1h0m0 3h0m-3-2h0m29 5h0m1 2h0m1-1h0m20 3h0m3 0h0m9-1h0m2 1h0m3-2h0m6 1h0m0 1h0m11-4h0m37 1h0m5 5h0m-3 1h0m-2 3h0m-5-3h0m-13 0h0m-6 0h0m-35 2h0m-9-2h0m-3 1h0m-25-3h0m-2 1h0m-2 0h0m-11 4h0m-7 7h0m1-5h0m1 2h0m1 1h0m0-3h0m1 4h0m3-3h0m1 1h0m0 0h0m2 1h0m1 2h0m2-4h0m0 3h0m1-4h0m3 2h0m8 1h0m4-3h0m1 1h0m15-1h0m0 0h0m3 0h0m2 2h0m0 1h0m18 0h0m26-2h0m6 0h0m18-1h0m1 4h0m-13 2h0m-1 4h0m-1-2h0m-12 2h0m-19-3h0m-6 2h0m-2 0h0m-2-3h0m-10 4h0m-1-2h0m-5 0h0m-2 1h0m0 1h0m-29-2h0m-1 2h0m0-2h0m-2 2h0m-1 1h0m-1-3h0m-1 2h0m-3 0h0m-1 0h0m-1 0h0m-2 0h0m-1-4h0m4 7h0m0 0h0m2-2h0m1 0h0m3 1h0m2-1h0m11 5h0m4 1h0m17-4h0m5 4h0m15-3h0m2 0h0m7 1h0m1 0h0m1 0h0m1 0h0m1-2h0m9-1h0m7 1h0m6 4h0m6-3h0m15 8h0m0-2h0m0 2h0m-3-3h0m0 1h0m0 3h0m-2-1h0m-21 0h0m-8-5h0m-5 4h0m-6 1h0m-5 0h0m-1-1h0m-1 2h0m0-3h0m-2 0h0m-2 2h0m-4-2h0m-1 1h0m-5 1h0m-19-1h0m-2 2h0m0-1h0m-1-1h0m-3-4h0m-1 1h0m-4 4h0m-3-4h0m0 2h0m-2-1h0m-2 1h0m-1 1h0m0-4h0m0 6h0m-1-1h0m-2 0h0m-1-1h0m0 5h0m1 2h0m0-4h0m0 2h0m1 1h0m0 0h0m0 2h0m1-6h0m1 5h0m0-3h0m0 3h0m0 1h0m1-6h0m1 1h0m2 0h0m1 1h0m2 3h0m1-5h0m0 0h0m1 5h0m0 1h0m2-6h0m1 4h0m1-2h0m0 3h0m1 0h0m0-4h0m3 0h0m0 1h0m1 4h0m3-1h0m0-4h0m1 1h0m9 0h0m2 3h0m14-5h0m8 2h0m2 2h0m1 0h0m1 1h0m11 1h0m0-5h0m3 0h0m1 2h0m2 2h0m1-1h0m0 1h0m0 0h0m6-4h0m1 3h0m0-1h0m3 1h0m1 1h0m11-4h0m1-1h0m0 1h0m1 1h0m-12 6h0m-2 3h0m-5 0h0m0-1h0m-2-4h0m-2 2h0m-1 4h0m-1-1h0m0 0h0m-3-2h0m-1-1h0m-1-1h0m0 1h0m-2 3h0m-2-4h0m-1 0h0m-1 4h0m0 0h0m-1-1h0m-3-1h0m-3 1h0m-10-1h0m-2 1h0m-6-4h0m-9 4h0m-1 0h0m-10-2h0m0-2h0m0 1h0m-2 0h0m0 0h0m-1 3h0m0-3h0m-1-1h0m-1 4h0m0-3h0m0 2h0m-3 1h0m-1-2h0m0 3h0m0 0h0m-1-2h0m-1 3h0m-1-4h0m0 0h0m-2 1h0m-3-2h0m0 2h0m39 5h0m0 3h0m22-2h0m1-1h0m2 0h0m2-1h0m1-1h0m2 2h0m1 2h0m1 1h0m6-4h0m2 3h0m2 1h0m0-2h0m2 3h0m3-1h0m0-2h0m-1 5h0m-1 1h0m-3-2h0m0 1h0m-2-1h0m-2 1h0m-2-1h0m-1 5h0m0-2h0m-1-1h0m-2-1h0m-2 4h0m-1-5h0m0 2h0m-1 2h0m0-4h0m-4 2h0m-1-3h0m-17 5h0m-5-2h0m-4-1h0m-8-2h0m4 6h0m1 0h0m9 0h0m2 1h0m12-1h0m12 3h0m-25 9h0m-5-1h0" stroke="#926aef" stroke-width="2.40" stroke-linecap="round" fill="none"/><path d="M104-106h0m-81 9h0m-8-2h0m-4 7h0m1-1h0m1 1h0m0 0h0m0-1h0m2 2h0m3-2h0m0 3h0m0-3h0m1 1h0m7 1h0m-4 6h0m-3-4h0m-3 4h0m-1-3h0m-1 7h0m4 0h0m15 14h0m3-2h0m3-1h0m-1 8h0m-14-2h0m-6 3h0m-6 0h0m-2 2h0m1 4h0m3-2h0m1 1h0m0 0h0m0-2h0m5 1h0m2 1h0m3 0h0m9-3h0m82 2h0m-91 3h0m0 0h0m-2 3h0m-3-2h0m0 2h0m-3 2h0m-3-3h0m-3 2h0m-1 1h0m0-1h0m0 1h0m4 2h0m1 0h0m1 1h0m16 3h0m29-1h0m-14 6h0m-14 1h0m-3-5h0m0 3h0m-6 6h0m4 1h0m3-1h0m3-1h0m1 2h0m0-4h0m9 2h0m3 1h0m2 1h0m47 0h0m4-3h0m9 1h0m5 0h0m-11 10h0m-12-2h0m0 4h0m5 1h0m0 2h0m13 4h0m-3-3h0m-4 3h0m-3 1h0m-30 12h0m3 3h0" stroke="#794ff4" stroke-width="2.40" stroke-linecap="round" fill="none"/></g>
<path d="M321.5 173.9V183.4H331.0" stroke="#111" stroke-width="0.8" fill="none"/><path d="M319.8 175.1L321.5 172.1L323.2 175.1Z" fill="#111"/><path d="M329.8 181.70000000000002L332.8 183.4L329.8 185.1Z" fill="#111"/><text x="324.2" y="192.4" font-size="4.8" fill="#222">tSNE_1</text><text x="0" y="0" font-size="4.8" fill="#222" transform="translate(317.9 183.20000000000002) rotate(-90)">tSNE_2</text>
<text x="438" y="13.2" font-size="8.9" fill="#111" text-anchor="middle">IMW</text>
<g transform="translate(403.3 90.9) scale(0.5)"><ellipse cx="98" cy="-133" rx="16" ry="8" transform="rotate(40 98 -133)" fill="#683ff7" fill-opacity="0.68"/><ellipse cx="67" cy="-116" rx="12" ry="7" transform="rotate(10 67 -116)" fill="#683ff7" fill-opacity="0.68"/><ellipse cx="80" cy="-95" rx="16" ry="8" transform="rotate(30 80 -95)" fill="#683ff7" fill-opacity="0.68"/><ellipse cx="88" cy="-94" rx="6" ry="5" transform="rotate(0 88 -94)" fill="#683ff7" fill-opacity="0.68"/><ellipse cx="103" cy="-106" rx="4" ry="4" transform="rotate(0 103 -106)" fill="#6f45f6" fill-opacity="0.68"/><ellipse cx="124" cy="-110" rx="7" ry="8" transform="rotate(20 124 -110)" fill="#9770ed" fill-opacity="0.68"/><ellipse cx="13" cy="-90" rx="4" ry="11" transform="rotate(-30 13 -90)" fill="#8156f3" fill-opacity="0.68"/><ellipse cx="13" cy="-57" rx="9" ry="9" transform="rotate(0 13 -57)" fill="#865bf2" fill-opacity="0.68"/><ellipse cx="35" cy="-70" rx="11" ry="7" transform="rotate(0 35 -70)" fill="#744af5" fill-opacity="0.68"/><ellipse cx="35" cy="-28" rx="14" ry="7" transform="rotate(5 35 -28)" fill="#9067ef" fill-opacity="0.68"/><ellipse cx="118" cy="-69" rx="15" ry="17" transform="rotate(0 118 -69)" fill="#683ff7" fill-opacity="0.68"/><ellipse cx="131" cy="-86" rx="5" ry="5" transform="rotate(0 131 -86)" fill="#6f45f6" fill-opacity="0.68"/><ellipse cx="82" cy="-28" rx="14" ry="16" transform="rotate(0 82 -28)" fill="#6f45f6" fill-opacity="0.68"/><ellipse cx="96" cy="-47" rx="7" ry="5" transform="rotate(0 96 -47)" fill="#6f45f6" fill-opacity="0.68"/><ellipse cx="57" cy="-35" rx="4" ry="4" transform="rotate(0 57 -35)" fill="#6f45f6" fill-opacity="0.68"/><ellipse cx="59" cy="-15" rx="5" ry="4" transform="rotate(0 59 -15)" fill="#6f45f6" fill-opacity="0.68"/><path d="M128-118h0m4 8h0m-2 1h0m0-3h0m-3 2h0m-1 0h0m-5 1h0m-1-2h0m-2 2h0m12 2h0m0 2h0m-6 4h0m-116 52h0m-1-1h0m22 14h0m2 1h0m18 10h0m-5-2h0m-17-1h0m-3-1h0" stroke="#a784e9" stroke-width="2.40" stroke-linecap="round" fill="none"/><path d="M94-140h0m6 11h0m7-2h0m-33 12h0m50 0h0m3 4h0m2 4h0m-1 2h0m0 1h0m-7-2h0m-1 2h0m-2-1h0m-50-3h0m31 8h0m19-1h0m3 1h0m2-1h0m1 3h0m0-3h0m2 3h0m4-5h0m-54 8h0m-62 2h0m-2 0h0m0-1h0m0-2h0m-3 8h0m1-2h0m1 2h0m1-2h0m1-2h0m115 5h0m-114 5h0m-5-4h0m68 13h0m-62 11h0m34-6h0m20 1h0m0 0h0m19 5h0m-42 2h0m-25 2h0m-6-2h0m0 2h0m-2-1h0m-1-1h0m-2 2h0m-1-3h0m-5 10h0m1-1h0m2 1h0m2-4h0m2 4h0m0-3h0m0 2h0m2-2h0m1 2h0m1 1h0m1-5h0m1 2h0m0 2h0m0-2h0m3 1h0m3 0h0m76 5h0m-5 3h0m-2-3h0m-70-1h0m-1 1h0m-1 2h0m-1 0h0m-4-1h0m0 3h0m-1-1h0m-2-4h0m-1 4h0m-1-1h0m-2 0h0m-2 0h0m-1-3h0m7 6h0m67 11h0m-18-2h0m-40 6h0m1 1h0m4-2h0m0 0h0m0 1h0m2-3h0m0 1h0m1 1h0m1-1h0m1-1h0m0 2h0m2-2h0m1 1h0m0 4h0m2-5h0m1 4h0m2-2h0m0 3h0m1-1h0m2-2h0m0 3h0m0-1h0m2-3h0m0 1h0m0 0h0m18-3h0m14 5h0m14-2h0m-21 4h0m-18 1h0m-2 3h0m-1-2h0m-1-2h0m-2 2h0m-1 1h0m0-1h0m-5-1h0m-1 0h0m0 0h0m0 2h0m-2-3h0m0-1h0m-1 2h0m-6 1h0m-1-2h0m0 2h0m-2 0h0m-1 0h0m-1-3h0m-2 1h0m-2 1h0m-1-1h0m5 6h0m1 0h0m0-1h0m1 0h0m5 3h0m1-3h0m1 2h0m1-2h0m2 2h0m0-2h0m8 2h0m1 1h0" stroke="#926aef" stroke-width="2.40" stroke-linecap="round" fill="none"/><path d="M90-146h0m-4 2h0m0 4h0m2 0h0m1-4h0m2 5h0m1-2h0m2 3h0m0-2h0m1-3h0m1 4h0m1-2h0m1-2h0m0 1h0m11 8h0m-3-4h0m-3 0h0m0 1h0m-2 0h0m0 0h0m-2 0h0m-1 3h0m-3 0h0m-2-2h0m-2-2h0m0 1h0m0 4h0m-2-5h0m0 1h0m-4 1h0m-28 2h0m38 5h0m6 1h0m1-3h0m5 0h0m1 1h0m0 1h0m1-1h0m0 2h0m1-4h0m2 5h0m1 2h0m-2 2h0m0 0h0m-1 0h0m0 3h0m-1-3h0m0 0h0m-2-1h0m-5 1h0m-4-2h0m-24 5h0m-5-3h0m-1 2h0m-1-1h0m0 2h0m-3 0h0m0-6h0m-1 4h0m-2 0h0m-10-2h0m7 8h0m1 0h0m0 1h0m2 1h0m0-2h0m0-2h0m2-1h0m1 2h0m1 2h0m2-3h0m2-1h0m3 3h0m1 0h0m0-2h0m3 2h0m4 2h0m17-2h0m11-4h0m4 4h0m4-3h0m9 4h0m-1 5h0m-10 1h0m-1-4h0m-10 4h0m0-1h0m-3 1h0m0-4h0m-20-1h0m-2 1h0m-2 4h0m-2-3h0m0-1h0m-1 1h0m-1-1h0m-1 0h0m-4-1h0m-1 6h0m-1-5h0m-1 4h0m0-4h0m-4 0h0m0 1h0m-18-2h0m40 11h0m14-2h0m2 1h0m0-4h0m0 4h0m1 0h0m1-1h0m0 2h0m2-3h0m1 1h0m0-2h0m1 4h0m3-3h0m0-2h0m0 4h0m12-1h0m2-2h0m0 3h0m11 1h0m7 3h0m-19 3h0m-12-2h0m-6-2h0m-9 4h0m-2-1h0m-3-2h0m-1-1h0m0 3h0m0-1h0m-1-1h0m-2 2h0m-3-4h0m-7 1h0m-8 2h0m0 2h0m-4-2h0m-5 0h0m-50 8h0m1 1h0m0-4h0m2-1h0m1 4h0m2 0h0m48-4h0m11 3h0m3 1h0m9 1h0m0 0h0m0 0h0m1-5h0m0 2h0m1-2h0m1 5h0m1-5h0m0 5h0m4-5h0m0 4h0m0-4h0m4 3h0m12 0h0m11-3h0m0 1h0m8 4h0m5-1h0m3 2h0m-2 3h0m0 2h0m-3-3h0m0-2h0m-2 4h0m-3 0h0m-2-3h0m-4 2h0m0-2h0m-6 3h0m-2-1h0m-1 0h0m-10 0h0m-4-4h0m-2 5h0m0-1h0m-1 0h0m-2-2h0m-3 3h0m-1 0h0m-1-3h0m-1-1h0m-3 0h0m0 4h0m-2-2h0m-4-2h0m-1 0h0m-3 5h0m-11-5h0m-43 0h0m0 3h0m-6-1h0m-1-3h0m0 3h0m-2 0h0m35 5h0m11 2h0m9 2h0m38-3h0m3 0h0m2 3h0m1 0h0m0-2h0m1 0h0m3-1h0m2-2h0m1-1h0m3 4h0m5 0h0m0-2h0m2 3h0m1-5h0m0 5h0m1-3h0m0 0h0m2 4h0m1-4h0m0 0h0m3 0h0m1 8h0m-1 0h0m-2-4h0m-4 2h0m-2 3h0m-5-4h0m-2-1h0m-2 3h0m-1-1h0m0-2h0m0 2h0m-1 1h0m0-2h0m0 2h0m-4-1h0m0 3h0m-1-2h0m-1 2h0m-1-1h0m-1-3h0m0 1h0m-1 1h0m-3 0h0m-17-3h0m-26 0h0m0 5h0m-14 0h0m-5-1h0m-1-4h0m-7 2h0m-1 3h0m0-1h0m-3-1h0m-1 0h0m-2 2h0m-15 6h0m19-3h0m5 3h0m1-1h0m5-3h0m0 4h0m1-2h0m0 0h0m1-3h0m0 3h0m1-2h0m0-1h0m1 4h0m1 2h0m0-1h0m2-3h0m15 2h0m9-1h0m7 2h0m5-3h0m3 1h0m14 2h0m2-2h0m2-1h0m2 1h0m0 2h0m1-4h0m3 4h0m3 0h0m1 0h0m0-4h0m6 2h0m0 0h0m1-2h0m1 2h0m1-1h0m2-1h0m0 1h0m1 2h0m0-1h0m7-2h0m-1 11h0m-2-3h0m-4-3h0m-1 1h0m-3 3h0m0-1h0m-2 0h0m-2 3h0m-1-5h0m0 4h0m-2-1h0m0-3h0m0 4h0m0-1h0m-3-2h0m-3 1h0m-1 2h0m0-3h0m-1-2h0m0 5h0m-9-4h0m-3 2h0m-3 2h0m-3-5h0m-5 2h0m-34 3h0m-1-4h0m-2 2h0m-7 0h0m-1-1h0m-1 1h0m-7-3h0m0 0h0m-1 4h0m-4-3h0m-8 3h0m-1 0h0m-3 1h0m-1-3h0m-2 0h0m-2 1h0m0 0h0m-2 0h0m-1 2h0m-2 3h0m0 3h0m0 1h0m0-1h0m1-1h0m5 1h0m0-2h0m2-3h0m2 5h0m3 1h0m2-1h0m2-2h0m24 1h0m1 0h0m22-3h0m5 1h0m5-1h0m5 3h0m7-1h0m7-2h0m6 0h0m1 0h0m3 3h0m1-1h0m1 1h0m2-1h0m1-1h0m2 1h0m3-3h0m1 4h0m4-3h0m1 2h0m1 0h0m0 1h0m0-4h0m1 2h0m0 4h0m1-6h0m2 2h0m0 2h0m10 3h0m-11 0h0m0-1h0m-4 1h0m0 1h0m0-2h0m-1 2h0m-2 1h0m0 0h0m-5 0h0m-12 2h0m-1-3h0m-1 1h0m-1 1h0m-2-1h0m-1 2h0m-2 0h0m-8-5h0m-2 5h0m-63-5h0m-2 4h0m-5-2h0m0-1h0m0 3h0m-2 2h0m-4-2h0m-1-3h0m0 3h0m-1-2h0m-1 2h0m67 8h0m3-2h0m2-1h0m0 3h0m2 0h0m3-2h0m0-1h0m2 3h0m3-2h0m1 0h0m1 2h0m0-4h0m1 3h0m0-2h0m4 2h0m0 0h0m4-4h0m1 1h0m0 1h0m3 1h0m1 2h0m27-2h0m5 6h0m-1-3h0m-10 2h0m-4-2h0m-7 1h0m-9 4h0m-12 0h0m-2-2h0m-1-1h0m-2 1h0m0-4h0m0 1h0m-1 0h0m-2 2h0m-1 2h0m0-1h0m-1-3h0m-1 3h0m-2-3h0m-1 4h0m-2-5h0m0 4h0m-4-1h0m-12-1h0m-1 2h0m-2-1h0m-3 2h0m-30-1h0m-2 7h0m6-3h0m1 0h0m3 3h0m0-1h0m1 0h0m13 0h0m8-1h0m1-1h0m4 1h0m7 2h0m1-2h0m0 2h0m2-5h0m0 5h0m1-2h0m0 3h0m1-6h0m0 2h0m1 0h0m2 1h0m1-2h0m3 3h0m0-1h0m2 1h0m0-4h0m1 5h0m1-5h0m0 6h0m1-2h0m0-4h0m1 6h0m0-4h0m1 2h0m1 1h0m1-3h0m0 0h0m0 4h0m1-5h0m1 0h0m0-1h0m1 3h0m0-2h0m0 4h0m0 1h0m0-1h0m1 1h0m0-2h0m0-1h0m0 1h0m1-2h0m0 1h0m0 0h0m3-1h0m0 1h0m0 3h0m1-3h0m3 2h0m3-1h0m7-1h0m12 0h0m7 2h0m3-2h0m0 2h0m1-1h0m0-2h0m0 2h0m1-2h0m-12 7h0m-24-2h0m-1 4h0m-1-1h0m0-3h0m-1 2h0m-1-1h0m-1 1h0m-1 0h0m-1-1h0m-1-1h0m-1 4h0m0-5h0m-3 3h0m-2-1h0m0 0h0m0 4h0m-3-5h0m0 3h0m-1-1h0m0-1h0m0 0h0m-2 2h0m-1 2h0m-4-5h0m-4 2h0m0 3h0m-22-4h0m-2-2h0m-13 1h0m-2 3h0m-1-1h0m-1-1h0m-2-2h0m0 4h0m-1-3h0m0 5h0m-2-1h0m-2-1h0m5 4h0m2-1h0m1 0h0m1 0h0m1 2h0m1-2h0m7 2h0m2-2h0m0 0h0m27 3h0m1-3h0m0 3h0m1-3h0m2 1h0m0-1h0m1 0h0m1 1h0m2 4h0m0-6h0m1 1h0m2 0h0m1 5h0m1-2h0m1 1h0m1-3h0m1-2h0m1 4h0m0-3h0m1 4h0m1-3h0m0 2h0m1-3h0m3-1h0m0 5h0m3-4h0m0 1h0m-2 5h0m0 3h0m0-2h0m-1 0h0m-2-1h0m0 1h0m-1 1h0m-1 3h0m-1-4h0m-2 1h0m-2-1h0m0 3h0m0-2h0m0 3h0m-2-3h0m-3 0h0m-3-3h0m-4 0h0m0 0h0m-7 4h0m-1 0h0m-1-1h0m-1-2h0m-2 1h0m-1-2h0m0 5h0m-1-4h0m-1 4h0m23 1h0m1 1h0m5-1h0m17 7h0m-27 4h0m4 1h0" stroke="#794ff4" stroke-width="2.40" stroke-linecap="round" fill="none"/><path d="M96-144h0m-4-1h0m-4 0h0m0 0h0m-3 4h0m2-1h0m4 1h0m2 0h0m1 3h0m2-4h0m0-1h0m1 0h0m0 2h0m3-1h0m0 1h0m1 0h0m1 1h0m0-1h0m8 8h0m-4-1h0m-3-3h0m-2 4h0m0-3h0m-2 1h0m-1-3h0m-5 3h0m0 0h0m0 0h0m-2-1h0m-1-2h0m-1 4h0m0-3h0m0-1h0m-2 3h0m-1 1h0m0-2h0m-1 1h0m5 5h0m3-2h0m2 6h0m2-3h0m1-1h0m0 2h0m0 1h0m1-4h0m2 0h0m1 1h0m5-1h0m0 0h0m1 3h0m2 1h0m1-4h0m1 3h0m-2 3h0m0 2h0m-2-1h0m0 2h0m-1-3h0m0 3h0m-1-1h0m-4-2h0m-1 4h0m-5-4h0m-28 3h0m-3-1h0m0 2h0m-1-1h0m-1-2h0m-2 4h0m-2-3h0m0 3h0m-3-1h0m-4 5h0m3-1h0m1-3h0m0 4h0m2 0h0m1-2h0m0-1h0m1 1h0m3 1h0m1 1h0m1 2h0m1-1h0m0 1h0m4-4h0m3 2h0m1 0h0m2-2h0m1-1h0m2 0h0m25 4h0m3-3h0m3 3h0m18 3h0m-7 4h0m-11-4h0m-4 2h0m-6 1h0m-1 0h0m0-5h0m-5 2h0m-15-2h0m-1 0h0m-1 2h0m-1 2h0m-1-1h0m-1 2h0m-1-1h0m-4-4h0m-3 2h0m0 2h0m-5-1h0m-1 2h0m-21-4h0m27 9h0m1-2h0m2 2h0m1 0h0m4 1h0m3-2h0m2 2h0m0 1h0m20-6h0m1 1h0m1-1h0m1 5h0m3-5h0m17 1h0m4 0h0m7 9h0m-8 2h0m-33-1h0m-3 0h0m-1 0h0m-3-1h0m-1 1h0m0-1h0m-1 0h0m-1 2h0m0 0h0m0-5h0m-5 0h0m-5 4h0m-1 0h0m-5-1h0m-2 1h0m-56 3h0m18 1h0m28-2h0m0 2h0m16-2h0m3-1h0m1 3h0m0 1h0m3-4h0m1 1h0m3 0h0m1 5h0m1-5h0m1 0h0m1 4h0m0-2h0m1-1h0m1 0h0m1-2h0m0 5h0m2-3h0m2 0h0m0 0h0m0 2h0m1-3h0m1 1h0m0 1h0m9-2h0m5 2h0m20 9h0m0-5h0m-1 5h0m-6-2h0m-4 0h0m-1 1h0m0-2h0m-1 1h0m-5 2h0m-1-1h0m-12 0h0m-2-2h0m-1 3h0m-8-5h0m0 4h0m-1-4h0m0 0h0m-2 4h0m0-1h0m0 0h0m-3-1h0m0 2h0m-2-4h0m-1 0h0m-4 3h0m-24 0h0m11 3h0m25-1h0m20 2h0m1 4h0m2-5h0m2 1h0m1-1h0m1 0h0m1 1h0m0 2h0m3 0h0m0 0h0m1-1h0m1 3h0m3-3h0m0-2h0m2 3h0m0-1h0m0-3h0m1 2h0m0-1h0m3 3h0m2-2h0m1 5h0m-1 5h0m0 0h0m0-4h0m-2 1h0m0 2h0m0-4h0m-1 5h0m0-4h0m-1 1h0m-1 1h0m-4-1h0m-3 1h0m-2 0h0m0-3h0m-1 4h0m-3-3h0m-1-1h0m-2 1h0m-1 1h0m-4 2h0m-37-4h0m-2 0h0m-12 2h0m-12 2h0m-7-1h0m-5 0h0m-4 3h0m2 5h0m7 0h0m7-5h0m15 1h0m25 4h0m0-3h0m4 0h0m19-3h0m2 4h0m4-3h0m1 4h0m1-5h0m0 6h0m1-2h0m5 1h0m2 1h0m2-4h0m0-1h0m0 5h0m0-1h0m2-4h0m1 4h0m0-4h0m3 2h0m1 0h0m0-2h0m1 4h0m4-1h0m1-2h0m0 6h0m0-1h0m0 0h0m0 0h0m-3 2h0m-2-1h0m0 0h0m-1 1h0m0 3h0m-2-5h0m-2 1h0m0 0h0m-1 4h0m-2-3h0m-2-2h0m0 3h0m0-4h0m-1 4h0m-1-3h0m-1 0h0m-1 2h0m-1-3h0m0 6h0m-1-5h0m-1 4h0m-3-3h0m-2 3h0m0-2h0m-1-1h0m-1 3h0m-2-1h0m0 1h0m0-3h0m-1 0h0m-1-1h0m-1 3h0m-6-1h0m-7-2h0m-3-1h0m-1 5h0m-28-1h0m-24-3h0m0 2h0m-4-2h0m-17 2h0m-3 7h0m38-3h0m3 3h0m26-2h0m26 4h0m1-4h0m1-1h0m1-1h0m1 1h0m2 2h0m0-2h0m2 0h0m0 2h0m0-1h0m0 0h0m1 2h0m1-3h0m3 4h0m0-4h0m1 0h0m1 1h0m2 1h0m3 0h0m1 3h0m2-5h0m3 4h0m1-1h0m2 1h0m1-3h0m1 0h0m-10 4h0m-1 1h0m0 2h0m-2-2h0m-1 2h0m-4-1h0m-5-2h0m-6 6h0m-1-2h0m-4-2h0m0 2h0m-2-1h0m-2 2h0m-1-2h0m0 3h0m0-4h0m-1 2h0m-1-2h0m0 3h0m-3-4h0m-3 0h0m-7 10h0m3-4h0m0 3h0m0-3h0m2-1h0m3 3h0m3 1h0m3-2h0m3-1h0m12 1h0m14-2h0m1 3h0m13 7h0m-15 0h0m-6 1h0m-14-4h0m-5 5h0m-1-5h0m-1 2h0m0 0h0m-1 1h0m0 1h0m-1-3h0m0 2h0m-2-2h0m0 4h0m-1-6h0m-1 6h0m-3-2h0m-2 0h0m-1-1h0m-19 0h0m-41-1h0m27 9h0m25-2h0m6-2h0m1 3h0m1-1h0m1-1h0m2 1h0m0 1h0m3-2h0m8 0h0m0-1h0m3 4h0m0-1h0m1 0h0m11-2h0m19 3h0m2-2h0m1-2h0m1 2h0m1 1h0m1 0h0m0 0h0m1-2h0m-6 9h0m-1-3h0m-6 0h0m-2-1h0m-1 2h0m-12-1h0m-10 0h0m0-2h0m-6 1h0m-1 1h0m-2 3h0m-3-5h0m0 1h0m-1-1h0m-1 1h0m-3-1h0m-4 1h0m-2 0h0m-2-1h0m-3 1h0m-40 4h0m29 7h0m9-1h0m1-5h0m1 1h0m1 4h0m1 1h0m6-2h0m4-4h0m1 5h0m2 0h0m1 0h0m5-4h0m5 0h0m0 3h0m2-1h0m25-1h0m-31 5h0m-5 4h0m-3-5h0m-3 2h0m0 3h0m-1 0h0m-1-5h0m-1 5h0m0-3h0m-2 4h0m0-1h0m-12-3h0m-4 3h0m-1-2h0m0 0h0m-3 0h0m-18-1h0m19 4h0m1 0h0m6 0h0m16 1h0m13 5h0" stroke="#5731fa" stroke-width="2.40" stroke-linecap="round" fill="none"/><path d="M96-142h0m-9 8h0m10 11h0m-39 3h0m8 5h0m-3 4h0m9 20h0m58-1h0m-22 49h0m-11 5h0m-21 37h0" stroke="#0000ff" stroke-width="2.40" stroke-linecap="round" fill="none"/></g>
<path d="M403.3 81.4V90.9H412.8" stroke="#111" stroke-width="0.8" fill="none"/><path d="M401.6 82.60000000000001L403.3 79.60000000000001L405.0 82.60000000000001Z" fill="#111"/><path d="M411.6 89.2L414.6 90.9L411.6 92.60000000000001Z" fill="#111"/><text x="406.0" y="99.9" font-size="4.8" fill="#222">tSNE_1</text><text x="0" y="0" font-size="4.8" fill="#222" transform="translate(399.7 90.7) rotate(-90)">tSNE_2</text>
<g transform="translate(403.3 183.4) scale(0.5)"><ellipse cx="98" cy="-133" rx="16" ry="8" transform="rotate(40 98 -133)" fill="#a17dea" fill-opacity="0.5"/><ellipse cx="67" cy="-116" rx="12" ry="7" transform="rotate(10 67 -116)" fill="#a785e9" fill-opacity="0.5"/><ellipse cx="80" cy="-95" rx="16" ry="8" transform="rotate(30 80 -95)" fill="#a785e9" fill-opacity="0.5"/><ellipse cx="88" cy="-94" rx="6" ry="5" transform="rotate(0 88 -94)" fill="#a17dea" fill-opacity="0.5"/><ellipse cx="103" cy="-106" rx="4" ry="4" transform="rotate(0 103 -106)" fill="#a17dea" fill-opacity="0.5"/><ellipse cx="124" cy="-110" rx="7" ry="8" transform="rotate(20 124 -110)" fill="#ac8de7" fill-opacity="0.5"/><ellipse cx="13" cy="-90" rx="4" ry="11" transform="rotate(-30 13 -90)" fill="#8359f2" fill-opacity="0.5"/><ellipse cx="13" cy="-57" rx="9" ry="9" transform="rotate(0 13 -57)" fill="#8055f3" fill-opacity="0.5"/><ellipse cx="35" cy="-70" rx="11" ry="7" transform="rotate(0 35 -70)" fill="#8359f2" fill-opacity="0.5"/><ellipse cx="35" cy="-28" rx="14" ry="7" transform="rotate(5 35 -28)" fill="#8359f2" fill-opacity="0.5"/><ellipse cx="118" cy="-69" rx="15" ry="17" transform="rotate(0 118 -69)" fill="#a785e9" fill-opacity="0.5"/><ellipse cx="131" cy="-86" rx="5" ry="5" transform="rotate(0 131 -86)" fill="#a785e9" fill-opacity="0.5"/><ellipse cx="82" cy="-28" rx="14" ry="16" transform="rotate(0 82 -28)" fill="#ac8de7" fill-opacity="0.5"/><ellipse cx="96" cy="-47" rx="7" ry="5" transform="rotate(0 96 -47)" fill="#a785e9" fill-opacity="0.5"/><ellipse cx="57" cy="-35" rx="4" ry="4" transform="rotate(0 57 -35)" fill="#a17dea" fill-opacity="0.5"/><ellipse cx="59" cy="-15" rx="5" ry="4" transform="rotate(0 59 -15)" fill="#a17dea" fill-opacity="0.5"/><path d="M119-83h0m4 2h0m1 5h0m-12-2h0m-3 16h0m13 10h0m-38 9h0m-17 11h0m8-1h0m7 2h0m-13 6h0m10 4h0m2 7h0m-9-1h0m-1-1h0" stroke="#c6b9db" stroke-width="2.40" stroke-linecap="round" fill="none"/><path d="M105-133h0m-5-4h0m10 9h0m-9 2h0m-44 7h0m4 3h0m4-1h0m1 0h0m11 0h0m51 1h0m-1 6h0m-2 0h0m-1-1h0m-1 3h0m0-4h0m-23 1h0m-22-2h0m-3 4h0m-10 1h0m-4-4h0m-3 1h0m7 7h0m4-4h0m3 2h0m5 0h0m3 1h0m34 2h0m5 0h0m5-3h0m3 2h0m0-1h0m5 1h0m-41 7h0m0 0h0m-4-4h0m-12 4h0m-9-1h0m6 3h0m0 4h0m2 0h0m24-5h0m27 10h0m-12-1h0m-27-2h0m-2 2h0m-54-2h0m-2 4h0m78 3h0m5 0h0m4 3h0m1-3h0m1-2h0m2 5h0m1-3h0m1 4h0m7 0h0m6-5h0m-8 11h0m-1-4h0m-3-2h0m-8 4h0m0 2h0m-3-1h0m-2-2h0m0 2h0m-29 6h0m4-1h0m20 2h0m1-2h0m3-1h0m11-1h0m1 1h0m0 1h0m5-1h0m3 3h0m-3 4h0m0 0h0m-1 1h0m-2-4h0m-1 1h0m-4-2h0m0 2h0m-3-1h0m-4 1h0m-4-1h0m-6 0h0m-5 10h0m15-4h0m2 0h0m0 0h0m0 1h0m2 3h0m5 1h0m2-3h0m2 0h0m0 0h0m2-2h0m0 0h0m3 4h0m1-4h0m-3 5h0m-14 4h0m-3-3h0m-13 1h0m-6-1h0m-71 0h0m57 10h0m3 0h0m1-2h0m2-1h0m0-1h0m1 3h0m2 1h0m1-2h0m11 3h0m2-1h0m11-5h0m17 4h0m0 2h0m-3 2h0m-31 0h0m0 4h0m0-5h0m-1 4h0m0-4h0m-1 1h0m-2 3h0m-1-5h0m-2 5h0m-1 0h0m-4-1h0m-2-1h0m-1 3h0m0-4h0m-4-2h0m0 0h0m-4 3h0m-2 2h0m-11 3h0m11 2h0m2-3h0m0 0h0m4 4h0m3 0h0m0-5h0m0 6h0m6-1h0m1-5h0m2 0h0m3 4h0m4 0h0m19-2h0m-15 8h0m-1 1h0m0 1h0m-1-4h0m-2 3h0m-2-1h0m0 1h0m-1-4h0m-1 4h0m-1-3h0m0 3h0m-1-5h0m0 0h0m-1 3h0m-1 1h0m-1 1h0m0-4h0m-5-1h0m-5 5h0m-2 1h0m-5-3h0m12 6h0m1 2h0m2-3h0m2-2h0m1 5h0m1-3h0m0 1h0m1 2h0m1-4h0m0 0h0m4 3h0m1-2h0m2 3h0m1 1h0m-5 1h0m0 0h0m-6 2h0m-2-3h0m-2 6h0m-2-1h0m-4-1h0m-2-4h0m11 7h0m2 0h0" stroke="#b89ee2" stroke-width="2.40" stroke-linecap="round" fill="none"/><path d="M93-145h0m-1-1h0m-3 1h0m-2 0h0m-3 1h0m-10 6h0m6-3h0m10 2h0m0-1h0m2-1h0m0 2h0m0 0h0m0-2h0m3-1h0m0 2h0m2 2h0m0-1h0m1-3h0m1-1h0m1 3h0m3 0h0m1 0h0m5 7h0m-1-2h0m-2 3h0m-2-2h0m-4-1h0m0 0h0m0-3h0m-3 1h0m-2 3h0m-2-3h0m-1 5h0m-1-2h0m-1 2h0m0-5h0m-1-1h0m-2 5h0m-2-4h0m0 1h0m0 0h0m-28 1h0m33 6h0m1-2h0m0 1h0m0-1h0m1 3h0m1-2h0m1 3h0m2-3h0m2 0h0m2 1h0m2 3h0m1-3h0m1 2h0m2-5h0m0 5h0m0 0h0m0-1h0m1 1h0m2-1h0m2-2h0m0 3h0m1 6h0m-1-3h0m0-1h0m-1 0h0m-1 3h0m-2 2h0m0-5h0m-3-1h0m0 2h0m-1-2h0m-1 3h0m-1 2h0m-2-1h0m-1-2h0m-1-1h0m-1 1h0m-25 2h0m-3-1h0m-6 2h0m-2 1h0m-1-2h0m0 0h0m0-2h0m-19 7h0m15-2h0m0 2h0m0 2h0m4-2h0m1 1h0m1 1h0m0-1h0m1 1h0m0 0h0m1-5h0m1 2h0m0 0h0m0 2h0m0-3h0m1 2h0m2 1h0m3-3h0m0 3h0m0 1h0m0-2h0m1 1h0m1 2h0m2-2h0m0 2h0m1-6h0m2 6h0m1-1h0m1 0h0m0-3h0m29 2h0m5-1h0m0 1h0m9 0h0m0-1h0m3 2h0m1 1h0m5 6h0m-1-2h0m-1-1h0m-2 2h0m0-2h0m-4-2h0m-1 4h0m-2-2h0m-3-1h0m0 0h0m-7-1h0m-2 1h0m-3 3h0m-2-1h0m-4 0h0m0-3h0m-1 3h0m-3-4h0m-2 0h0m-1 4h0m-11-3h0m-1 0h0m-3 0h0m0 4h0m-1 0h0m-1-4h0m0 1h0m-2-1h0m-3 4h0m-1-1h0m0 2h0m-4 0h0m0-5h0m-1 0h0m0 4h0m-1-4h0m0 3h0m-1-2h0m0 3h0m0-3h0m-2 2h0m0-2h0m-3 1h0m-1-2h0m0 0h0m8 11h0m4-1h0m3-5h0m7 4h0m3 0h0m2-3h0m7 4h0m2 1h0m6-1h0m1-2h0m1 2h0m1 0h0m0 0h0m1-1h0m0 0h0m2 0h0m0-2h0m1-1h0m0-1h0m1 5h0m0-5h0m1 4h0m0 1h0m12-3h0m3 2h0m2 1h0m8-3h0m0-2h0m-4 11h0m-2 1h0m-2-5h0m-3 4h0m-12 0h0m-4-4h0m-1 3h0m-5 0h0m-7 1h0m-2 0h0m-1-1h0m0 0h0m-1 1h0m-1-1h0m0 0h0m-1 0h0m0 0h0m-7-4h0m-3 2h0m-2 3h0m-6-1h0m-1 2h0m-1-5h0m-6 4h0m-43 6h0m31-1h0m11-2h0m7 3h0m2-3h0m0 0h0m5 2h0m0-3h0m0 3h0m1-3h0m1 4h0m1-1h0m2 1h0m0 1h0m0-4h0m3 0h0m1 1h0m0-1h0m1-1h0m0 5h0m0-1h0m0-4h0m1 0h0m5 1h0m0-1h0m0 5h0m0-2h0m0 1h0m1 0h0m0-3h0m1 4h0m1-6h0m0 0h0m0 2h0m1 1h0m2 0h0m0 2h0m18 1h0m22 1h0m-1 0h0m0-1h0m-1 4h0m0 2h0m-2-3h0m0-2h0m-4 3h0m0-2h0m-5 4h0m-1-4h0m-3 4h0m-1-3h0m-1 1h0m-1 0h0m-2-2h0m-21-1h0m0 3h0m-1-3h0m-1 0h0m-1 0h0m-1 0h0m0 3h0m0-2h0m-1-1h0m-1-1h0m-4 6h0m0-5h0m-1 1h0m-1-1h0m0 0h0m-3 5h0m-1-4h0m0 1h0m-7-1h0m-1-1h0m-6 4h0m-5-2h0m-3 3h0m-1-4h0m-7 9h0m2-3h0m2 1h0m14-2h0m41 1h0m6 2h0m1 2h0m1-5h0m2 0h0m0 0h0m1 1h0m2 3h0m0-5h0m3 3h0m2 3h0m3-1h0m1 0h0m1-3h0m0 0h0m0-1h0m0 3h0m17 1h0m5 6h0m-16-3h0m-1 1h0m-1 3h0m-1-1h0m-4-4h0m-1 2h0m0-3h0m-1 3h0m0 1h0m-2 1h0m-2 1h0m-1-4h0m-2 1h0m-3-3h0m0 2h0m0-1h0m-3 5h0m-3-6h0m-2 5h0m0-3h0m-1 1h0m-1-1h0m-2 4h0m-30 0h0m-21 1h0m3 2h0m2-2h0m3-1h0m13 2h0m5 3h0m9-4h0m3 2h0m4 0h0m1-2h0m7 1h0m2 1h0m0 0h0m2-2h0m1 0h0m0 1h0m0-1h0m1 5h0m0-4h0m3 0h0m1 1h0m1 0h0m3-1h0m0 2h0m1-1h0m5-3h0m1 2h0m1 1h0m1 2h0m2-4h0m1 3h0m6 1h0m0 6h0m0-3h0m0 3h0m-1 0h0m-2-3h0m-3-1h0m-4 0h0m-2 3h0m0-2h0m0 3h0m-1-3h0m0 3h0m-1-1h0m-1 0h0m-3 0h0m0 0h0m-5 2h0m0-2h0m-3-4h0m0 4h0m-5-3h0m0 4h0m0-1h0m-2-2h0m-3 2h0m0-2h0m-11 3h0m-1-4h0m0 1h0m-3-2h0m-3 4h0m-17-4h0m-2 4h0m-16-2h0m-34-1h0m29 8h0m2 2h0m15-5h0m28 4h0m1-3h0m5 0h0m1 1h0m3 0h0m4 3h0m0-1h0m6-2h0m0 3h0m0-4h0m3 1h0m1 3h0m3-2h0m0 1h0m0 1h0m2-4h0m1 4h0m1-3h0m1 4h0m1-2h0m0-1h0m1 2h0m3-2h0m0 3h0m0-4h0m2 3h0m2-2h0m0-2h0m1 4h0m4-1h0m1-3h0m-6 6h0m0-1h0m-7 0h0m-3 2h0m-3 1h0m-1 2h0m-1-5h0m-8 3h0m-1 1h0m0-1h0m-1 0h0m0-3h0m-1 1h0m-3 1h0m-2 0h0m0 3h0m0-1h0m-1 2h0m-1-3h0m-1 2h0m-1 1h0m0-1h0m0-2h0m-1-1h0m-3 1h0m-1 1h0m-1-2h0m-4-2h0m-1 4h0m-1 2h0m-1-3h0m-1-2h0m0 0h0m-37-1h0m-21 2h0m60 9h0m1-1h0m4 0h0m2-4h0m5 0h0m0 0h0m0 5h0m2 0h0m1-4h0m2-1h0m1 4h0m7-2h0m2-1h0m2 2h0m20-2h0m0 0h0m9 9h0m-1-2h0m-1 1h0m-3 2h0m-19-3h0m-17 4h0m-2-4h0m-2 2h0m-2-1h0m-1 0h0m0-2h0m-1 3h0m-3-3h0m-6 0h0m-1 0h0m0 4h0m-1 1h0m-1-5h0m0 1h0m-1 0h0m0-1h0m-1 0h0m-3 5h0m-11 0h0m-4-1h0m0-3h0m-22 6h0m16 0h0m11 2h0m8 1h0m3-4h0m1-1h0m2 1h0m5-1h0m5 5h0m3-4h0m0 2h0m8 1h0m23-4h0m6 4h0m3-4h0m0 6h0m4-5h0m1 3h0m-3 3h0m-4 1h0m-7 2h0m-6 0h0m-15 0h0m-1 0h0m-1-1h0m-1-2h0m0 2h0m-4 0h0m-2 1h0m-1 0h0m-1 2h0m-4-5h0m-1 4h0m-1-3h0m-2 1h0m-1 3h0m-3-4h0m-2-1h0m0 5h0m-4-4h0m-1 0h0m0 1h0m-1 1h0m-9-4h0m-13 5h0m14 7h0m8-6h0m1 0h0m1 4h0m0 0h0m0-2h0m2 3h0m1-3h0m3 2h0m3-4h0m0 1h0m0 4h0m1-2h0m0 1h0m1-3h0m0 0h0m3 1h0m0 2h0m1-2h0m0 3h0m0 0h0m0-4h0m3 2h0m2-3h0m1 3h0m2 0h0m1 0h0m3 0h0m0 0h0m18-1h0m-20 5h0m-1 2h0m-1-1h0m-1 2h0m-1-1h0m-4 2h0m0-2h0m0 0h0m-1-1h0m-2 1h0m-2-1h0m-1 2h0m0 1h0m-3-3h0m0-2h0m0 6h0m-1-5h0m-2 3h0m0-4h0m-2 0h0m-8 5h0m-1-1h0m0-4h0m-2 2h0m0 2h0m-1 0h0m0-4h0m-1 6h0m-1-1h0m-1-3h0m-2 0h0m-3 1h0m-1 8h0m25 6h0m-2 2h0m4 0h0" stroke="#a784e9" stroke-width="2.40" stroke-linecap="round" fill="none"/><path d="M88-147h0m-4 9h0m1-2h0m5-3h0m0 4h0m4-1h0m1-4h0m4 4h0m0-3h0m1 0h0m1 5h0m0-3h0m8 8h0m-8 0h0m-2-2h0m-6-1h0m-2-2h0m-1 0h0m-5 3h0m0 0h0m-27 5h0m30 0h0m2-2h0m1 3h0m3-2h0m1 2h0m1 0h0m1-2h0m4 4h0m5 1h0m2-1h0m1-4h0m0 3h0m1 1h0m2 1h0m2 4h0m-2-2h0m-1 2h0m-1 1h0m-8-5h0m0 4h0m-2-1h0m-1-3h0m-5 1h0m-22 3h0m-7 1h0m-9 6h0m5-3h0m1 4h0m1-3h0m10-1h0m56 5h0m-1 1h0m-4 1h0m-20 2h0m-4-4h0m-20 0h0m-2 2h0m0 0h0m-4-1h0m-18-2h0m10 10h0m5 0h0m28-3h0m2 1h0m4-1h0m0 5h0m27-4h0m-45 6h0m-1 3h0m-7-4h0m0 5h0m-7 0h0m-58-1h0m-5 3h0m2 1h0m66 3h0m1-3h0m3 0h0m3 1h0m1-1h0m3 3h0m2-2h0m1-2h0m0-1h0m1 5h0m1-3h0m13 2h0m10-5h0m10 3h0m9 4h0m-3 1h0m-10 3h0m-4 0h0m-2-2h0m-1 2h0m-26-4h0m-73 5h0m0-6h0m-1 1h0m-2 3h0m-1-4h0m7 7h0m0 0h0m85 4h0m4-3h0m3 0h0m3-1h0m4 5h0m5-1h0m5-5h0m7 1h0m-4 7h0m0 1h0m-4 0h0m0-1h0m-3 1h0m0 1h0m0 2h0m-9-3h0m0-2h0m-4 5h0m-2-2h0m-1-3h0m-1 4h0m-1-4h0m-1 3h0m-3-1h0m0 3h0m-60-4h0m-3 0h0m-2 2h0m-4-4h0m0 2h0m-2 0h0m-2 0h0m-5 4h0m3 5h0m5-1h0m1 0h0m1 0h0m10 1h0m13-1h0m32-2h0m3 2h0m12-3h0m2 1h0m1 4h0m2-4h0m3-2h0m3 2h0m1 1h0m10 0h0m2 0h0m0 2h0m0-2h0m2 1h0m1-3h0m0 2h0m2-2h0m2 2h0m10 3h0m-21 5h0m-2-1h0m-2 1h0m0-4h0m-5 0h0m-2 0h0m-3 2h0m-1-2h0m-2 0h0m-5 0h0m-2 4h0m-24-2h0m-26 2h0m-1-1h0m-1-2h0m0-1h0m-3 2h0m0 3h0m-1-1h0m-9-1h0m-6-3h0m-14 0h0m-4 3h0m0-3h0m-1 4h0m-2-1h0m-2 8h0m2-1h0m2-3h0m3 0h0m4 0h0m28 1h0m63-3h0m1 5h0m1 0h0m3 0h0m2-4h0m4 2h0m4 1h0m6 1h0m17 0h0m-24 4h0m-5-2h0m-1 1h0m-1-2h0m-2 2h0m-15-1h0m-4 1h0m-4 1h0m-13 0h0m-61 0h0m0-3h0m-3 1h0m-8 2h0m79 7h0m2 0h0m18-2h0m23-1h0m3 4h0m6 4h0m-2-1h0m-3 3h0m-20-1h0m-10 2h0m-21-1h0m-1-2h0m-5 1h0m-1 2h0m-11-2h0m-4 1h0m-25 1h0m-8 2h0m2 1h0m3 3h0m0-3h0m1 3h0m3-3h0m1 2h0m0-4h0m0 1h0m1 3h0m1-1h0m1-2h0m0-2h0m5 5h0m1-2h0m1 0h0m1 3h0m8-5h0m3 3h0m3-2h0m11 0h0m2 1h0m3-2h0m2 2h0m11 1h0m3 2h0m16-2h0m20 2h0m1-1h0m0 0h0m1-2h0m0-1h0m4-1h0m-5 6h0m-13-1h0m-8 1h0m-17 4h0m-2-4h0m-2 2h0m-2 1h0m-4-2h0m-2-1h0m-6 5h0m-6-1h0m0-3h0m-17 0h0m-1 2h0m0-2h0m-6 3h0m-1-2h0m0-1h0m-1 1h0m-4 1h0m0-1h0m-1-2h0m-1 0h0m-4 2h0m-1-3h0m-6 6h0m1 0h0m3 1h0m5 1h0m1-1h0m8 0h0m6 0h0m21 2h0m10 1h0m5 1h0m3-1h0m6-3h0m1 6h0m-9 0h0m-7 3h0m-15 0h0m-1 0h0m-2-3h0m-2 4h0m0-2h0m20 6h0m1-2h0" stroke="#926aef" stroke-width="2.40" stroke-linecap="round" fill="none"/><path d="M10-97h0m-1-2h0m0 1h0m-1-3h0m2 10h0m0 1h0m1 0h0m0-5h0m4 1h0m0 4h0m110 4h0m-107-2h0m-1 8h0m1-2h0m100-2h0m-82 9h0m-1 1h0m-1 0h0m0 1h0m-2 0h0m0-2h0m0-1h0m-1 1h0m-6 8h0m1-3h0m2 3h0m2-2h0m5-1h0m3 3h0m1-1h0m3-1h0m1-1h0m60 5h0m-58-1h0m-11 2h0m-2 0h0m-2 0h0m-3-1h0m-1 0h0m0-1h0m-3 3h0m-2 2h0m-3-4h0m-2 3h0m-1 1h0m0 0h0m0-5h0m-1 4h0m0-2h0m-1 3h0m0-5h0m-2 6h0m-3-1h0m0-2h0m-2 0h0m-2 7h0m0 2h0m1-1h0m0 0h0m0 1h0m0-6h0m2 2h0m0 0h0m2-2h0m1 1h0m1 1h0m0 0h0m2 0h0m0 0h0m0 4h0m2-6h0m0 4h0m3-1h0m2 3h0m0-1h0m100-1h0m-98 4h0m-1 0h0m-2 0h0m-1-2h0m-3 2h0m0 3h0m-2-3h0m0-1h0m0 4h0m-2-3h0m0 4h0m-1-3h0m0 1h0m-1-3h0m-1 2h0m0 0h0m-2 0h0m-1 0h0m10 3h0m4 0h0m61 4h0m2 1h0m-59 9h0m3 4h0m5-2h0m0 1h0m1 0h0m1-4h0m1 2h0m1-1h0m0 0h0m4-2h0m1 6h0m1-1h0m2-3h0m0 3h0m2-1h0m2 0h0m3 4h0m-3 0h0m-1 2h0m-4-2h0m0 0h0m-1-2h0m0 6h0m-3-5h0m-2 2h0m-1 2h0m0 0h0m-1-3h0m-1-1h0m-2 1h0m-1 0h0m-3-1h0m0 2h0m-3 2h0m0-3h0m0 1h0m-1-1h0m-1 3h0m-2-3h0m-3 0h0m9 5h0m1-1h0m1 2h0m2-1h0m2 2h0m3 0h0m3-1h0m1 0h0m0 0h0m2-1h0m1 1h0m1 1h0m0-3h0m5 0h0" stroke="#794ff4" stroke-width="2.40" stroke-linecap="round" fill="none"/><path d="M41-73h0m-30 25h0m-1-4h0m-1-1h0m24 20h0m9-1h0" stroke="#5731fa" stroke-width="2.40" stroke-linecap="round" fill="none"/></g>
<path d="M403.3 173.9V183.4H412.8" stroke="#111" stroke-width="0.8" fill="none"/><path d="M401.6 175.1L403.3 172.1L405.0 175.1Z" fill="#111"/><path d="M411.6 181.70000000000002L414.6 183.4L411.6 185.1Z" fill="#111"/><text x="406.0" y="192.4" font-size="4.8" fill="#222">tSNE_1</text><text x="0" y="0" font-size="4.8" fill="#222" transform="translate(399.7 183.20000000000002) rotate(-90)">tSNE_2</text>
<text x="520" y="13.2" font-size="8.9" fill="#111" text-anchor="middle">IMS</text>
<g transform="translate(485.2 90.9) scale(0.5)"><ellipse cx="56" cy="-129" rx="21" ry="14" transform="rotate(25 56 -129)" fill="#5f37f9" fill-opacity="0.68"/><ellipse cx="54" cy="-98" rx="9" ry="16" transform="rotate(20 54 -98)" fill="#683ff7" fill-opacity="0.68"/><ellipse cx="48" cy="-85" rx="9" ry="7" transform="rotate(0 48 -85)" fill="#683ff7" fill-opacity="0.68"/><ellipse cx="87" cy="-137" rx="5" ry="5" transform="rotate(0 87 -137)" fill="#6f45f6" fill-opacity="0.68"/><ellipse cx="102" cy="-124" rx="9" ry="7" transform="rotate(0 102 -124)" fill="#6f45f6" fill-opacity="0.68"/><ellipse cx="87" cy="-110" rx="5" ry="5" transform="rotate(0 87 -110)" fill="#6f45f6" fill-opacity="0.68"/><ellipse cx="120" cy="-107" rx="7" ry="7" transform="rotate(0 120 -107)" fill="#744af5" fill-opacity="0.68"/><ellipse cx="133" cy="-80" rx="4" ry="12" transform="rotate(20 133 -80)" fill="#744af5" fill-opacity="0.68"/><ellipse cx="35" cy="-75" rx="9" ry="5" transform="rotate(0 35 -75)" fill="#683ff7" fill-opacity="0.68"/><ellipse cx="12" cy="-52" rx="5" ry="7" transform="rotate(0 12 -52)" fill="#784ef5" fill-opacity="0.68"/><ellipse cx="35" cy="-32" rx="12" ry="5" transform="rotate(0 35 -32)" fill="#946cee" fill-opacity="0.68"/><ellipse cx="71" cy="-47" rx="11" ry="11" transform="rotate(0 71 -47)" fill="#643bf8" fill-opacity="0.68"/><path d="M36-36h0m-1-2h0m-2 1h0m-3-1h0m-2 1h0m6 3h0m0 1h0m2 1h0m1-1h0m2-2h0m4 0h0m2 3h0m-4 2h0m-12 0h0m-3 0h0" stroke="#a784e9" stroke-width="2.40" stroke-linecap="round" fill="none"/><path d="M92-137h0m6 12h0m-21 14h0m60 24h0m-83 2h0m-1 0h0m-5-5h0m-10 12h0m9-5h0m61 0h0m-71 7h0m95 6h0m-85 24h0m-9 8h0m-2 1h0m-7 0h0m-1 1h0m-7 3h0m0-1h0m5 0h0m1 3h0m0-3h0m0 3h0m1-4h0m0 1h0m3 4h0m0-5h0m1 3h0m0-4h0m0 5h0m1 0h0m0 0h0m0 0h0m0-4h0m2 3h0m4 1h0m4 0h0m0-1h0m2-2h0m0 1h0m0 0h0m1 0h0m0 3h0m-1 0h0m-2 0h0m-3 2h0m-5 1h0m0-3h0m-3 1h0m-3 0h0m0 2h0m-1-2h0m-2 1h0m-1-1h0m65 21h0" stroke="#926aef" stroke-width="2.40" stroke-linecap="round" fill="none"/><path d="M51-144h0m-15 3h0m14-3h0m10 4h0m3 1h0m20-1h0m2-1h0m1 3h0m1 0h0m0-3h0m2 2h0m0 3h0m0 2h0m-1 1h0m0-4h0m-1 5h0m-2 0h0m0 0h0m-1-1h0m0-1h0m-2-2h0m-10 2h0m-7 0h0m-1 1h0m-1-5h0m-4 0h0m-3 6h0m0-4h0m-3 0h0m0 0h0m-11 0h0m-1 2h0m-4-1h0m1 7h0m10 0h0m10 2h0m2-5h0m1 2h0m6 3h0m1-1h0m1-2h0m4 0h0m3 2h0m1-3h0m12-2h0m10 2h0m0 1h0m2-1h0m2 1h0m1 0h0m0-2h0m3 1h0m3 2h0m2 3h0m0-1h0m-1 3h0m-1 1h0m-5-3h0m-2 2h0m-1 1h0m0-1h0m-2-1h0m-4-1h0m-1 3h0m-23-1h0m-10-2h0m-1 2h0m-8-1h0m-3 4h0m15 5h0m2 1h0m5 0h0m13 0h0m2-2h0m18-4h0m2 1h0m11 5h0m3-1h0m6 6h0m-1 0h0m-2-3h0m-2 1h0m-1 2h0m0-3h0m-3 2h0m-2-3h0m-3 5h0m0-4h0m-21 1h0m-3 1h0m0 1h0m-1-3h0m-4 1h0m0-1h0m-1-1h0m-1 4h0m0-5h0m-17 6h0m-3 0h0m-1-5h0m-1 4h0m-1-3h0m-2 3h0m-2-4h0m-1 3h0m-3-1h0m0 0h0m-1 3h0m-1 0h0m-3 4h0m3 0h0m2-3h0m1 3h0m0 1h0m3-2h0m1 0h0m0 0h0m0 1h0m6 1h0m1-4h0m1 0h0m0 0h0m1 2h0m9 2h0m8-4h0m1 2h0m1-3h0m0 1h0m2 1h0m0-1h0m2 4h0m0-3h0m25 2h0m1 1h0m1-4h0m7 1h0m1 3h0m3-2h0m-4 4h0m-1 4h0m-1-5h0m-1 1h0m-58 3h0m-1 0h0m-1-2h0m-3 3h0m-1-4h0m-1 5h0m-1-3h0m0 2h0m-2-2h0m-2 0h0m-1 2h0m-1-5h0m0 4h0m-1-3h0m0 2h0m-12 5h0m10 3h0m0-4h0m3 0h0m0 0h0m1 5h0m0-2h0m1-2h0m0 1h0m0-2h0m3 4h0m0-2h0m0 1h0m2-4h0m2 0h0m0 5h0m0-4h0m1 4h0m1 0h0m1-2h0m1-2h0m0 2h0m2 0h0m9 1h0m4 1h0m12-2h0m48 2h0m1-2h0m3 1h0m0 3h0m-4 5h0m-2-1h0m-1-1h0m-5 2h0m-12-3h0m-23 1h0m-2 2h0m-10-4h0m0 0h0m-4 0h0m-18-2h0m0 3h0m0-2h0m0 2h0m-1 1h0m0-2h0m0 3h0m0-1h0m-1-3h0m-2 2h0m-1 1h0m-1 1h0m0 0h0m-1 0h0m-1-1h0m-1-2h0m-1-1h0m0 1h0m0 4h0m-1-2h0m-1 1h0m-1-2h0m-1-2h0m-1 1h0m0 2h0m-1 0h0m-1-1h0m-1 0h0m-1 3h0m-3-2h0m-5-2h0m-1-2h0m-7 8h0m2-2h0m7 1h0m0 4h0m2-5h0m1 5h0m0-1h0m0 0h0m1 0h0m1 0h0m2-2h0m1 0h0m2 1h0m2-3h0m2 5h0m2-4h0m0 4h0m1-4h0m0-1h0m1 1h0m0 1h0m2 2h0m1 2h0m7-3h0m3 1h0m7-3h0m24 1h0m18 0h0m4 3h0m2 1h0m13-5h0m0 1h0m3 2h0m1 0h0m1 0h0m1-1h0m-1 5h0m-2 2h0m-1 2h0m-1 0h0m-3-4h0m-13 2h0m-5-3h0m-30 0h0m-4 1h0m-11 2h0m-1 0h0m-2-1h0m-5-3h0m-1 5h0m-2-1h0m-12-2h0m0 2h0m0-3h0m-2 3h0m-1 1h0m-2-3h0m0-1h0m0 2h0m0 0h0m0 2h0m-1 1h0m0-1h0m-3-2h0m0 1h0m0-1h0m-1 0h0m-1-3h0m-1 4h0m0 2h0m-1-6h0m-1 3h0m-1 2h0m-1-3h0m-2 1h0m-17 0h0m-4 1h0m0 2h0m-1-2h0m0 1h0m-1-1h0m-5 1h0m35 3h0m7-1h0m1 1h0m1-2h0m3 1h0m4 2h0m3-1h0m4 3h0m9-2h0m9 1h0m1 1h0m24 0h0m32-3h0m1 1h0m-4 5h0m-26 4h0m-14-1h0m-10-2h0m-38 1h0m-1 1h0m-5-3h0m-3 2h0m-21 6h0m0 0h0m4 1h0m1-2h0m0-1h0m12 2h0m12-1h0m10 0h0m10 1h0m3 0h0m12 1h0m0-2h0m1 0h0m21-2h0m0 3h0m4 1h0m7-4h0m15 2h0m1 0h0m11 0h0m-14 8h0m-16-2h0m-9-2h0m-11 1h0m-1 4h0m0-4h0m-1 4h0m-2-6h0m0 6h0m-1-1h0m-4 1h0m-2-4h0m0 4h0m-2-6h0m0 5h0m-3-2h0m-1-3h0m-37 5h0m-12-2h0m0 1h0m-1-1h0m-1 2h0m-2-2h0m-1 1h0m-2 0h0m5 5h0m1-2h0m17 4h0m31 0h0m1-1h0m2-2h0m0 3h0m4-4h0m0 4h0m2-4h0m0 1h0m2 2h0m0-2h0m3-2h0m2 2h0m0 2h0m1-4h0m37 5h0m14 4h0m-2 1h0m0 2h0m-1-2h0m-5-2h0m-8 0h0m-4-1h0m-18 0h0m-3 0h0m-2 0h0m-12 5h0m0-4h0m-2 1h0m0-3h0m-1 5h0m0 0h0m-2-2h0m-1-1h0m0 1h0m0 0h0m-1 2h0m0-5h0m-1 4h0m-1-2h0m0 0h0m-7-2h0m-21 6h0m-16 2h0m2 1h0m4 2h0m6-2h0m27-2h0m5 0h0m3-1h0m22 6h0m13-1h0m14 0h0m5-1h0m1 1h0m2-2h0m2 0h0m-6 6h0m-34 0h0m-18 2h0m-5 0h0m-11 0h0m-3-5h0m-12 1h0m6 10h0m12-2h0m24 0h0m0-1h0m19 6h0m-9 0h0m-3-2h0m-15 0h0m-6 1h0m-2 2h0m3 8h0m8-3h0m23 6h0m-29 4h0m-4 1h0m4 0h0" stroke="#794ff4" stroke-width="2.40" stroke-linecap="round" fill="none"/><path d="M58-145h0m-4-1h0m-2 0h0m-1 0h0m-1 2h0m-2-2h0m-2 2h0m-1-2h0m-2 1h0m-8 6h0m1-1h0m1 0h0m0 0h0m3 0h0m1 0h0m1 1h0m0-3h0m1 0h0m2 1h0m1 3h0m0-2h0m2-1h0m0-1h0m0 1h0m1 2h0m0-1h0m1 1h0m1-3h0m2-1h0m0 3h0m2 0h0m1 0h0m1-4h0m2 1h0m3 2h0m1 0h0m1 0h0m0-1h0m4 2h0m16 2h0m4-4h0m3 5h0m0 4h0m-2 0h0m-7-1h0m0-3h0m-9 4h0m-3-4h0m-1-1h0m0 4h0m-2 2h0m-1-3h0m0-1h0m-1 4h0m-1-5h0m-2 0h0m0 1h0m-1-1h0m-1 0h0m-2 2h0m-2-1h0m0 0h0m0 1h0m-1 3h0m-1-4h0m-1-1h0m-2 3h0m0-3h0m-1 4h0m0 1h0m0-1h0m0-1h0m-1-4h0m-1 2h0m-1 0h0m-1 1h0m0 0h0m-1-1h0m0 2h0m0-2h0m0 0h0m0 3h0m-2-1h0m-1-1h0m-1 0h0m0 3h0m-1 0h0m0-4h0m-1 0h0m0 2h0m-1 0h0m-2-1h0m-1 2h0m-1 1h0m-2-2h0m2 3h0m0 2h0m2 2h0m0-1h0m0 1h0m0 0h0m1-2h0m1-2h0m0 1h0m0 2h0m1-4h0m1 5h0m2 0h0m1-1h0m1-3h0m0 1h0m1 0h0m0 1h0m1 1h0m0-2h0m1-1h0m0 4h0m1-2h0m0 1h0m2-2h0m0 3h0m1-1h0m0 1h0m2-1h0m0-2h0m1 4h0m0-4h0m1 1h0m0 0h0m0 0h0m0-1h0m0 2h0m2-2h0m1 1h0m0 1h0m1 0h0m1-2h0m0 4h0m0 0h0m1-3h0m0 0h0m0-1h0m0 3h0m0-5h0m2 0h0m0 4h0m2-2h0m0-2h0m1 4h0m0 1h0m1 0h0m1-1h0m2 0h0m0-2h0m1 3h0m2-3h0m0 2h0m0 2h0m0-1h0m0-5h0m1 3h0m5 2h0m5-5h0m12 5h0m0-2h0m4 2h0m4-2h0m6 4h0m-15 2h0m-1 0h0m-16 1h0m0 0h0m0-3h0m-1 1h0m-2 1h0m-1-2h0m-2 0h0m0 2h0m-1-2h0m-1 0h0m-1 1h0m0-1h0m-1 2h0m0 1h0m0 1h0m0-5h0m-1 2h0m0 1h0m-1 0h0m0-1h0m-1 1h0m0 0h0m-1 0h0m0 1h0m-5-1h0m0 1h0m0 0h0m-1-3h0m0 5h0m-1-2h0m-2-1h0m0 0h0m0-2h0m-1 2h0m0 2h0m-3-3h0m-1 3h0m0-1h0m-2-4h0m0 5h0m0-2h0m-1-1h0m-1-2h0m-2 5h0m0-3h0m-1 0h0m-2 0h0m-1 0h0m-2 0h0m-1-1h0m0-1h0m-1 0h0m11 9h0m0-1h0m3-1h0m0 3h0m2-3h0m0 3h0m1 1h0m0-1h0m0 1h0m2 0h0m4-3h0m1-1h0m1 1h0m1 4h0m2-3h0m0-1h0m1 1h0m1-1h0m0-2h0m2 6h0m0-5h0m1 3h0m0 0h0m2-1h0m1-2h0m0 5h0m1-1h0m1-1h0m0-3h0m1 3h0m0 0h0m10 1h0m15-5h0m5 1h0m1-1h0m14 11h0m-30-3h0m-3 3h0m-1 1h0m-1-2h0m0-1h0m0-1h0m-3 2h0m-13-3h0m-1 0h0m-1 0h0m-1 1h0m-2 4h0m0-1h0m-2 1h0m-1-5h0m-1 1h0m0-1h0m0 0h0m-2-1h0m0 3h0m-1 1h0m-3-3h0m-6 10h0m1-1h0m1-2h0m0 2h0m3-1h0m7-2h0m0 2h0m2-2h0m2 3h0m0-1h0m1 0h0m0 2h0m22-5h0m30 1h0m2 2h0m4 1h0m-4 2h0m-12 5h0m-1-4h0m-42 2h0m0-1h0m-1 3h0m0 0h0m-2-2h0m-2 2h0m0 0h0m-2-1h0m0-3h0m0 4h0m-1-3h0m0 0h0m-1 0h0m-1 2h0m-3 1h0m-3-1h0m-1 0h0m-3-1h0m-2 9h0m1 0h0m1-4h0m0 2h0m1 1h0m0 0h0m0-1h0m1-3h0m0 2h0m3 2h0m1 1h0m1-1h0m1 0h0m1 1h0m1-4h0m0 3h0m2 0h0m3-1h0m4-3h0m13 2h0m1 0h0m56 3h0m6-2h0m-3 8h0m-54-3h0m-6 1h0m-6-2h0m-3-1h0m-6 2h0m-4 2h0m-2-4h0m0 3h0m-1-3h0m-1 5h0m0 0h0m-1-6h0m0 3h0m-1-1h0m0-1h0m0 4h0m-1-2h0m-2-3h0m0 0h0m0 6h0m-1-2h0m0-1h0m-1-3h0m-1 6h0m0-4h0m-4 2h0m-1 1h0m0-2h0m-13 9h0m3-1h0m7-3h0m1 3h0m4-4h0m1 2h0m5-1h0m0 1h0m2-1h0m1 0h0m0-1h0m1 2h0m0-2h0m1 1h0m0 3h0m0-3h0m4-1h0m1-1h0m1 5h0m4-5h0m3 1h0m9 2h0m10 0h0m1-1h0m40 1h0m11 0h0m-5 7h0m-33-1h0m-9 1h0m-5-3h0m-9 0h0m-4 3h0m-6 0h0m-1-1h0m-4 3h0m-2-2h0m-2-1h0m-7-2h0m-1-1h0m-3 1h0m0 0h0m-2 5h0m-4-1h0m-1 0h0m-4 1h0m0-4h0m-3 3h0m-3-1h0m-5-2h0m-15 3h0m-1 0h0m-1-2h0m-3 2h0m-4-1h0m-1 0h0m2 3h0m25 2h0m4-3h0m0 1h0m2 0h0m1 0h0m1-1h0m3 2h0m0 0h0m1-1h0m0 0h0m2 3h0m13 1h0m8 0h0m5-5h0m2 3h0m58 2h0m1-4h0m-37 9h0m-6-1h0m-7 1h0m-3-3h0m-6 2h0m-5 1h0m-1-3h0m-3 3h0m-5-1h0m-1 1h0m-9-3h0m-5 3h0m-2-2h0m-5 2h0m-6-2h0m-18 10h0m0-1h0m33-2h0m7-1h0m5 0h0m11 3h0m2 0h0m2-1h0m1 0h0m0 0h0m1-2h0m1 1h0m1-1h0m2 2h0m2 1h0m4-4h0m6 2h0m14-2h0m11 0h0m22 6h0m-23 3h0m-23 1h0m-7-2h0m-2 3h0m0-4h0m-3 1h0m-3 0h0m0-1h0m0-1h0m-3 3h0m0-1h0m-1-1h0m-1 3h0m-1-5h0m0 4h0m-3 2h0m0-5h0m0 1h0m-1 2h0m-12-4h0m-5 2h0m-4-1h0m-31-1h0m-1 4h0m-2 1h0m52 5h0m2-1h0m0-1h0m2 0h0m2 0h0m1 4h0m3-3h0m0-2h0m1 0h0m0 3h0m1-1h0m1 1h0m1-2h0m1 3h0m3-1h0m2 0h0m0 0h0m1 0h0m2-1h0m1 2h0m8-2h0m28-1h0m13 7h0m-20 1h0m-13-3h0m-4 0h0m-5 5h0m-3-3h0m-6-3h0m-5 4h0m-1-3h0m-1 3h0m-1-2h0m-1 0h0m-1 2h0m-3-3h0m-1 2h0m-1 2h0m0-1h0m0-2h0m-1 1h0m0-1h0m-1 2h0m0 0h0m-2-2h0m-2 1h0m-1 5h0m7 3h0m0-5h0m0 0h0m2 1h0m4-1h0m2 3h0m2-3h0m30 5h0m1-2h0m14-1h0m5 0h0m0 1h0m1 3h0m-1 0h0m-2 3h0m-26 0h0m-17-3h0m-3 4h0m0-2h0m-4 2h0m-16-2h0m2 4h0m25 2h0m5 2h0m4 2h0m1-2h0m1-4h0m-7 8h0m-1 3h0m-2-2h0m-1-3h0m-1 3h0m-14 1h0m29 3h0m-10 9h0m-20 1h0" stroke="#5731fa" stroke-width="2.40" stroke-linecap="round" fill="none"/><path d="M39-135h0m7 5h0m8-2h0m-2 21h0m33 3h0m-30 10h0m-6 0h0m-2 7h0m2-1h0m3 2h0m5 2h0m-19 8h0m6-2h0m40 9h0m-56-2h0m32 6h0m7 24h0m7 2h0m-8 5h0m59 9h0m-49 7h0" stroke="#0000ff" stroke-width="2.40" stroke-linecap="round" fill="none"/></g>
<path d="M485.2 81.4V90.9H494.7" stroke="#111" stroke-width="0.8" fill="none"/><path d="M483.5 82.60000000000001L485.2 79.60000000000001L486.9 82.60000000000001Z" fill="#111"/><path d="M493.5 89.2L496.5 90.9L493.5 92.60000000000001Z" fill="#111"/><text x="487.9" y="99.9" font-size="4.8" fill="#222">tSNE_1</text><text x="0" y="0" font-size="4.8" fill="#222" transform="translate(481.59999999999997 90.7) rotate(-90)">tSNE_2</text>
<g transform="translate(485.2 183.4) scale(0.5)"><ellipse cx="56" cy="-129" rx="21" ry="14" transform="rotate(25 56 -129)" fill="#b398e4" fill-opacity="0.5"/><ellipse cx="54" cy="-98" rx="9" ry="16" transform="rotate(20 54 -98)" fill="#ac8de7" fill-opacity="0.5"/><ellipse cx="48" cy="-85" rx="9" ry="7" transform="rotate(0 48 -85)" fill="#956dee" fill-opacity="0.5"/><ellipse cx="87" cy="-137" rx="5" ry="5" transform="rotate(0 87 -137)" fill="#a785e9" fill-opacity="0.5"/><ellipse cx="102" cy="-124" rx="9" ry="7" transform="rotate(0 102 -124)" fill="#a785e9" fill-opacity="0.5"/><ellipse cx="87" cy="-110" rx="5" ry="5" transform="rotate(0 87 -110)" fill="#a17dea" fill-opacity="0.5"/><ellipse cx="120" cy="-107" rx="7" ry="7" transform="rotate(0 120 -107)" fill="#a785e9" fill-opacity="0.5"/><ellipse cx="133" cy="-80" rx="4" ry="12" transform="rotate(20 133 -80)" fill="#a785e9" fill-opacity="0.5"/><ellipse cx="35" cy="-75" rx="9" ry="5" transform="rotate(0 35 -75)" fill="#8f65f0" fill-opacity="0.5"/><ellipse cx="12" cy="-52" rx="5" ry="7" transform="rotate(0 12 -52)" fill="#956dee" fill-opacity="0.5"/><ellipse cx="35" cy="-32" rx="12" ry="5" transform="rotate(0 35 -32)" fill="#8f65f0" fill-opacity="0.5"/><ellipse cx="71" cy="-47" rx="11" ry="11" transform="rotate(0 71 -47)" fill="#a785e9" fill-opacity="0.5"/><path d="M39-143h0m4 2h0m0-2h0m13 1h0m17 8h0m-2-3h0m-2 2h0m-1 1h0m-4 1h0m-3-2h0m-9 1h0m-18 0h0m6 7h0m20 1h0m11 0h0m0 5h0m-14 5h0m11-4h0m2 7h0m-17-1h0m7 21h0" stroke="#c6b9db" stroke-width="2.40" stroke-linecap="round" fill="none"/><path d="M54-145h0m-2 1h0m-4-1h0m-2-1h0m-4 1h0m-3 1h0m0-1h0m-5 7h0m3-3h0m1-2h0m3 3h0m2 1h0m1-2h0m3 1h0m2-4h0m1 3h0m1 1h0m2-1h0m3-1h0m1 4h0m3 0h0m2-3h0m5 2h0m1 1h0m16-1h0m2 1h0m1-3h0m-15 5h0m-1 0h0m-4-2h0m-3 4h0m-2-3h0m-1 5h0m0-2h0m0-3h0m-2 2h0m-3 0h0m-1-2h0m0 4h0m0-2h0m-1 0h0m-1 2h0m-1-2h0m0 3h0m-1-6h0m0 2h0m-1-2h0m0 1h0m-1 2h0m-1 2h0m0-2h0m0-1h0m-1 3h0m-1 0h0m-2-3h0m-2 0h0m0 0h0m-3 0h0m-3 4h0m-1-5h0m-1 1h0m0 0h0m2 6h0m1 2h0m0 2h0m2-1h0m0-4h0m1 4h0m6 1h0m1-1h0m1 0h0m0-5h0m2 6h0m0-2h0m1-2h0m0 3h0m9 1h0m1-2h0m0-2h0m0 1h0m2-2h0m1 0h0m0 4h0m1 0h0m1-5h0m0 2h0m2-2h0m1 6h0m0-3h0m1 1h0m1 0h0m1-1h0m3-1h0m1 2h0m1-3h0m0 1h0m5-2h0m17 5h0m3-4h0m3-1h0m2 4h0m-10 6h0m0 2h0m-1-2h0m-4-2h0m-16 2h0m-3 1h0m-1-2h0m-1 2h0m0-5h0m0 2h0m-3 3h0m0-5h0m-1 4h0m0 0h0m-2-4h0m0 2h0m-3-1h0m-2 4h0m-1-2h0m0 2h0m-1-3h0m0 2h0m-1-2h0m-1 4h0m0 0h0m-3-5h0m-2 5h0m0-1h0m-1-3h0m-1 2h0m-1-4h0m-1 4h0m-2 0h0m-1-1h0m-2-3h0m0 3h0m-1 2h0m0 0h0m-1-1h0m3 3h0m4 1h0m1 0h0m1 0h0m1 2h0m3-1h0m1-2h0m1-1h0m2 5h0m1-2h0m1 1h0m3 1h0m1-5h0m1 2h0m2 1h0m1-3h0m2 5h0m1-1h0m1-1h0m0 1h0m3 1h0m0-3h0m3 0h0m0-2h0m21 1h0m21 7h0m-1 3h0m-3-3h0m-26 2h0m-24-3h0m-1 1h0m-2-2h0m-1 2h0m-3-2h0m0 2h0m-2 2h0m0-3h0m-3 1h0m0-2h0m-1 6h0m-5 5h0m3-4h0m1 4h0m1 1h0m2 0h0m4-4h0m0-2h0m4 2h0m53 2h0m12-4h0m-12 7h0m-52 2h0m-1 0h0m-3-1h0m-1 2h0m-2-3h0m-1 3h0m-1 2h0m-1 0h0m0-4h0m0 3h0m-1-5h0m0 3h0m-1-3h0m-1 6h0m-1-2h0m-4 3h0m6 3h0m0-4h0m4 1h0m4 0h0m0 1h0m27 8h0m-30-1h0m0 1h0m-7 1h0m0 1h0m-4-5h0m-1 1h0m-18 3h0m18 3h0m2-2h0m4 2h0m5-1h0m20 4h0m6-3h0m54-1h0m1 1h0m2 1h0m-7 6h0m-2-1h0m-2 4h0m-33-5h0m-90 3h0m-3 0h0m56 3h0m2 5h0m73-5h0m-25 7h0m-37 3h0m-6-4h0m-3 1h0m-13 8h0m18-1h0m4 2h0m0-3h0m3 4h0m1-4h0m0 2h0m5 1h0m1 2h0m-8 2h0m-3 2h0m-2 0h0m-7-2h0m-24 6h0m25 3h0m5-3h0m0-3h0m3 3h0m0-2h0m7-1h0m0 4h0m2-3h0m1 9h0m-3 1h0m-4 0h0m-4 1h0m-2-5h0m-2 0h0m0 0h0m5 6h0m28 1h0m-2 6h0m-21 7h0m10 0h0m8 2h0m17 5h0m-20 2h0m-19-4h0m0 14h0" stroke="#b89ee2" stroke-width="2.40" stroke-linecap="round" fill="none"/><path d="M44-144h0m0-2h0m-7 8h0m0-1h0m4-2h0m1 2h0m2-3h0m1 2h0m1-1h0m2 3h0m2-4h0m0 2h0m2-1h0m8-2h0m1 4h0m1-3h0m4 4h0m19-1h0m1-2h0m2-1h0m0 0h0m1 1h0m1 0h0m1 0h0m1 6h0m-3-2h0m0 0h0m0 4h0m0-2h0m-1 1h0m0-3h0m-2 4h0m-1 1h0m-2-4h0m-1 0h0m0 1h0m-8 1h0m-2 1h0m-1-2h0m-2-3h0m-4 4h0m-2-2h0m-3-1h0m-1 3h0m-4 1h0m0-4h0m-4 4h0m-1-2h0m-1-1h0m0 4h0m-3-2h0m-2 0h0m-4-4h0m-4 1h0m-2 7h0m3-1h0m0 1h0m0 4h0m4-5h0m2-1h0m0 1h0m0 2h0m3 0h0m3 0h0m0 2h0m1-2h0m2-2h0m1 2h0m1-2h0m0 1h0m1 3h0m0-1h0m1-4h0m2 1h0m2 4h0m0-5h0m1 4h0m2-2h0m1 0h0m4 0h0m1-2h0m0 4h0m4 0h0m2-4h0m1 4h0m2 2h0m9-5h0m11 4h0m4-2h0m1-3h0m1 3h0m3 0h0m0-2h0m2 3h0m1 0h0m0 5h0m-2 2h0m0-2h0m-1 3h0m-6-1h0m0-5h0m-1 2h0m-2 3h0m-2 0h0m-17-2h0m-4-1h0m-3-1h0m-2 4h0m-11-5h0m0 5h0m-6 0h0m0 0h0m-3-4h0m-1 0h0m-1 1h0m-1 0h0m0 4h0m-1-5h0m-1 0h0m0 0h0m-1 1h0m-1 3h0m-2-5h0m-4 1h0m9 6h0m1 3h0m2 0h0m0-2h0m1-1h0m1-1h0m0 4h0m8 1h0m1-4h0m1 5h0m2 0h0m1-5h0m2 0h0m1 2h0m2 0h0m2 2h0m1 0h0m1-4h0m3 0h0m0 0h0m11 5h0m3-1h0m3 0h0m7-4h0m6 1h0m2-1h0m10 4h0m6 4h0m-2 1h0m-2-2h0m-2 3h0m0-5h0m-26 2h0m0-1h0m-1 3h0m-1 2h0m-1-3h0m-1 2h0m0-3h0m-2-1h0m-1 3h0m0 2h0m0-4h0m-4 0h0m-6-2h0m-6 1h0m-6 4h0m-1-3h0m-1 2h0m-1 1h0m-1-1h0m0 1h0m-2-3h0m-1 1h0m-2-2h0m-1 2h0m-1 1h0m-5 4h0m1-1h0m1 2h0m0 1h0m1-3h0m1 1h0m1-1h0m1 0h0m0 0h0m0 4h0m1-1h0m1 2h0m0-4h0m1-1h0m1 3h0m1-2h0m1 4h0m0-6h0m2 4h0m0 2h0m1-3h0m1-3h0m0 2h0m3 4h0m16-5h0m3 0h0m2-1h0m3 1h0m1-1h0m0 1h0m0 5h0m1-5h0m2 3h0m19-3h0m3 1h0m1 1h0m1 3h0m1-3h0m0-2h0m1 0h0m1 0h0m0 1h0m2-1h0m3 2h0m-13 5h0m-49-2h0m-1 1h0m-1 3h0m-1 0h0m-1 1h0m-1 0h0m-1-3h0m-1 1h0m-6-1h0m-2 3h0m-2-3h0m0-2h0m-1 2h0m0 2h0m-2-1h0m0 8h0m1-1h0m1-4h0m0 5h0m0 0h0m1-2h0m0 1h0m0-3h0m2-1h0m0 3h0m1 0h0m1 0h0m0 1h0m3-2h0m0 2h0m1-4h0m2 6h0m1-4h0m1 3h0m2-4h0m0-1h0m5 6h0m0-2h0m5-2h0m45 1h0m16 5h0m-22 0h0m-38-1h0m-1 2h0m-2-1h0m-3 3h0m-6-2h0m-2-1h0m-1 3h0m0-2h0m-1-2h0m0 3h0m-1 2h0m-1-4h0m0 0h0m0 0h0m-1-2h0m-3 1h0m0 4h0m-2-4h0m-1 4h0m0 1h0m-1-4h0m-2 0h0m0 0h0m0-2h0m-4 0h0m0 3h0m-1 1h0m-1 0h0m-2-2h0m-7 0h0m-13 9h0m5-2h0m2 2h0m8-2h0m0 2h0m9 0h0m1-5h0m0 3h0m0-2h0m3 2h0m2-1h0m1 3h0m1-2h0m0 1h0m1-3h0m2 3h0m1-1h0m1 3h0m1-2h0m1-2h0m1-2h0m3 1h0m5 1h0m0-1h0m1 5h0m4-3h0m1 0h0m3 1h0m2-3h0m6 3h0m15-1h0m4 1h0m1 2h0m28-3h0m1 0h0m1 1h0m2 0h0m0 0h0m0 0h0m1-1h0m0 2h0m2 0h0m1-4h0m1 0h0m-5 11h0m-2 0h0m-1-3h0m-1 3h0m-2-5h0m0 5h0m-33-5h0m-4 3h0m-21 0h0m-2-3h0m-1-1h0m-5 0h0m-2 6h0m-1-4h0m-7 2h0m-7-2h0m-3 1h0m-4-2h0m-2 2h0m-1 2h0m-9-2h0m-17 2h0m-1 0h0m-1-3h0m-1 2h0m-1 2h0m-1-3h0m-1 0h0m0-1h0m3 4h0m27 3h0m3-3h0m6 1h0m1 1h0m24 0h0m5 3h0m5-4h0m3 3h0m1-1h0m1 0h0m0 0h0m5 1h0m2-2h0m8 0h0m6 0h0m24 0h0m3 3h0m1 0h0m-10 2h0m-21 4h0m-7-3h0m-12-1h0m-1 4h0m-17-5h0m-11 3h0m-12 3h0m-2-3h0m-2 0h0m-20 9h0m21-4h0m3 0h0m6 1h0m22 1h0m2 2h0m0-1h0m2-3h0m2 4h0m0 0h0m2-1h0m1 1h0m2-4h0m6 3h0m5-3h0m9 2h0m43 7h0m-39-2h0m-4-2h0m-10 3h0m-8 2h0m-1-3h0m0 3h0m0-5h0m-1 3h0m0-1h0m-1-3h0m-1 2h0m-1 2h0m0-2h0m-1 3h0m0 1h0m-1-3h0m-1-3h0m0 0h0m-1 4h0m-2-1h0m-2 2h0m-1 1h0m-1-2h0m0-4h0m-1 3h0m-1 1h0m-2-3h0m0 2h0m-3 2h0m-42 0h0m-4 1h0m0 1h0m46-1h0m5 2h0m0 3h0m1-4h0m1-1h0m1 3h0m0-1h0m0 3h0m1 1h0m2-3h0m2 1h0m1-4h0m1 5h0m0-2h0m1 2h0m1-4h0m1-1h0m0 5h0m1-4h0m4 0h0m5 1h0m6 0h0m0 1h0m10 1h0m8-3h0m-1 8h0m-17 0h0m-13-2h0m-1 0h0m-1 3h0m-1-1h0m0-2h0m0 4h0m0-4h0m-1 5h0m-2-3h0m0-1h0m-3-1h0m-1 4h0m-1-3h0m0 0h0m-3 1h0m0 0h0m-3 0h0m-28 2h0m-13 6h0m14-4h0m4 2h0m8-1h0m17 4h0m6-3h0m0-3h0m3 1h0m12 1h0m3 2h0m2-4h0m36 6h0m2-3h0m1-3h0m0 4h0m0 0h0m2-2h0m0-1h0m1-1h0m-8 8h0m0 0h0m-3 3h0m0 0h0m-5-3h0m-9 3h0m-15-5h0m-4 1h0m0 2h0m-19-2h0m-18 0h0m-9 3h0m-2-3h0m11 8h0m1 0h0m9 2h0m0 1h0m3-2h0m7 1h0m0 0h0m3-1h0m2-1h0m3 2h0m2 1h0m7-4h0m0 2h0m0-1h0m4 0h0m9 0h0m11 0h0m-8 8h0m-16-5h0m-2 5h0m-15-5h0m-20 5h0m13 5h0m4-2h0m24 3h0m8-4h0m6 0h0m15 0h0m-49 11h0" stroke="#a784e9" stroke-width="2.40" stroke-linecap="round" fill="none"/><path d="M51-146h0m-4 7h0m37 2h0m-2 0h0m-20 1h0m-27 10h0m36-5h0m34 5h0m-11 2h0m5 7h0m27 8h0m-5 0h0m-29-2h0m-2-1h0m-2 0h0m-6 1h0m-23 2h0m-8 4h0m35-3h0m6 2h0m26 0h0m-58 7h0m-7 2h0m-6-3h0m-2 4h0m-7 5h0m3-1h0m2 0h0m3-1h0m5 1h0m9-1h0m0-1h0m73 7h0m-36-2h0m-16-1h0m-21 1h0m-2 4h0m-1-3h0m-2-2h0m0 4h0m0-2h0m-2 3h0m-1 0h0m0-1h0m-1-2h0m-4-1h0m-1 3h0m-1 1h0m-2 1h0m0-1h0m0-4h0m-1 2h0m0 0h0m-1 2h0m0-1h0m0 2h0m0-1h0m-1 1h0m-3-5h0m-8 2h0m-8 7h0m11 1h0m1 0h0m2 0h0m1-1h0m2 1h0m0-5h0m1 5h0m2-3h0m1 3h0m1-1h0m2-3h0m2 5h0m0-5h0m1 2h0m0-2h0m1 2h0m1 0h0m2 2h0m0-4h0m1 5h0m0-4h0m0-1h0m1 2h0m0 1h0m1-2h0m0 2h0m1-3h0m7 0h0m50 1h0m22 4h0m-75 4h0m-2-1h0m-2 2h0m-4 0h0m-4-5h0m-2 3h0m0-3h0m-3 5h0m-1-3h0m-1 4h0m-4-2h0m0 2h0m-1-5h0m-1-1h0m-1 4h0m-1 1h0m-2-5h0m-1 3h0m0 3h0m0-2h0m-1 1h0m-1-1h0m-1 2h0m0-3h0m-1-3h0m-5 5h0m-12-1h0m-2 0h0m-1 2h0m20 2h0m2 1h0m4-3h0m3 2h0m1 0h0m6-2h0m54 4h0m14-1h0m14 2h0m-13 3h0m-24 3h0m-6-4h0m-4 4h0m-8 0h0m-5-5h0m-3 5h0m-13-3h0m0-1h0m-9 2h0m-2 1h0m-1-2h0m-3 0h0m-6 0h0m-19 9h0m5-3h0m37-1h0m19 4h0m2-2h0m3-1h0m1 2h0m54 8h0m-10-1h0m-8-3h0m-24-1h0m-16 1h0m-7-1h0m-2 0h0m-2 2h0m-48 1h0m-2 1h0m0 0h0m-3-3h0m0-1h0m-1 3h0m2 3h0m2 2h0m1-1h0m1-1h0m0 0h0m57 4h0m3-3h0m13 1h0m46 3h0m2 3h0m-5 2h0m-10-1h0m-10-1h0m-32 1h0m0-4h0m-1 1h0m-2 1h0m-1 2h0m-7-4h0m-10 1h0m-10 1h0m-2 3h0m-3 0h0m-1 0h0m-2 0h0m-2 0h0m-13 3h0m0 3h0m1 0h0m2-1h0m2 0h0m1-3h0m2 0h0m0 0h0m1 5h0m1-1h0m1-1h0m0-4h0m0 1h0m1 4h0m1-1h0m1-2h0m1 2h0m1 1h0m0 0h0m0 0h0m1-5h0m1 0h0m2 2h0m1 1h0m3 2h0m0-3h0m0 3h0m1-2h0m1 2h0m47-1h0m24 0h0m5 1h0m1-2h0m0 2h0m1-2h0m6-3h0m-20 9h0m-14 3h0m-6-1h0m-11-3h0m-38 0h0m-4 0h0m-2 0h0m-1-1h0m-3 1h0m-4 1h0m0-1h0m0 0h0m0-1h0m-2 1h0m49 4h0m15 9h0m-24-1h0m-16 1h0m17 14h0m2 2h0" stroke="#926aef" stroke-width="2.40" stroke-linecap="round" fill="none"/><path d="M87-110h0m-44 22h0m-16-1h0m5 9h0m3 2h0m11-5h0m9 2h0m-19 7h0m-4-1h0m-2-3h0m-1 2h0m-5 2h0m4 2h0m5 0h0m-25 17h0m-1 7h0m35 12h0m-5-3h0m-8 1h0m-6 2h0m-1 2h0m5 2h0m4-1h0m0 1h0m0-1h0m3 0h0m5-1h0m8 3h0m-3 4h0m-5-1h0m-1 1h0m-2-2h0" stroke="#794ff4" stroke-width="2.40" stroke-linecap="round" fill="none"/><path d="M33-78h0" stroke="#5731fa" stroke-width="2.40" stroke-linecap="round" fill="none"/></g>
<path d="M485.2 173.9V183.4H494.7" stroke="#111" stroke-width="0.8" fill="none"/><path d="M483.5 175.1L485.2 172.1L486.9 175.1Z" fill="#111"/><path d="M493.5 181.70000000000002L496.5 183.4L493.5 185.1Z" fill="#111"/><text x="487.9" y="192.4" font-size="4.8" fill="#222">tSNE_1</text><text x="0" y="0" font-size="4.8" fill="#222" transform="translate(481.59999999999997 183.20000000000002) rotate(-90)">tSNE_2</text>
<text x="602" y="13.2" font-size="8.9" fill="#111" text-anchor="middle">EGC</text>
<g transform="translate(567.0 90.9) scale(0.5)"><ellipse cx="40" cy="-107" rx="18" ry="11" transform="rotate(20 40 -107)" fill="#643bf8" fill-opacity="0.68"/><ellipse cx="62" cy="-108" rx="19" ry="8" transform="rotate(-12 62 -108)" fill="#683ff7" fill-opacity="0.68"/><ellipse cx="44" cy="-90" rx="8" ry="11" transform="rotate(0 44 -90)" fill="#683ff7" fill-opacity="0.68"/><ellipse cx="87" cy="-107" rx="5" ry="4" transform="rotate(0 87 -107)" fill="#6f45f6" fill-opacity="0.68"/><ellipse cx="36" cy="-67" rx="7" ry="5" transform="rotate(0 36 -67)" fill="#6f45f6" fill-opacity="0.68"/><ellipse cx="36" cy="-13" rx="11" ry="4" transform="rotate(20 36 -13)" fill="#865bf2" fill-opacity="0.68"/><path d="M62-115h0m5 4h0m-9 5h0m-19 20h0m2 5h0m30 0h0m-51 5h0m6 58h0m5 0h0m10 6h0m-7-5h0m-1 3h0m-2-1h0m-1-2h0m-1 3h0m-1 2h0m-1-4h0m-1-1h0m-1 0h0m5 5h0m3 1h0m3-1h0m1 0h0m1 2h0m0 1h0m4 1h0m3 0h0m1-1h0" stroke="#926aef" stroke-width="2.40" stroke-linecap="round" fill="none"/><path d="M110-122h0m-51 1h0m-22 1h0m-8 1h0m6 1h0m3 1h0m8-1h0m2 3h0m4 0h0m3 0h0m0 0h0m1 0h0m1 0h0m8-1h0m0-1h0m2 3h0m0-3h0m0 1h0m3-1h0m4 2h0m0 1h0m1-1h0m1 1h0m1-1h0m2-4h0m2 4h0m1 1h0m7 6h0m0-1h0m-2-1h0m-3 2h0m-1-2h0m-1-1h0m-5-3h0m-1 1h0m-2 0h0m-1 0h0m0 2h0m-2 2h0m-1-5h0m0 6h0m0-6h0m-2 1h0m-9 2h0m0 0h0m-1-3h0m-3 0h0m0 0h0m0 2h0m0 1h0m-1 1h0m0-2h0m-2 1h0m-2 3h0m-1 0h0m0-5h0m-1 2h0m-1 1h0m-1-1h0m-2 2h0m-2 0h0m-1 0h0m-4-3h0m-2 1h0m-3 0h0m-2-2h0m-1 4h0m-1 0h0m-3-2h0m-1-2h0m-2 2h0m0 1h0m1 6h0m1 1h0m1-4h0m1-1h0m1 2h0m4 0h0m1-2h0m5 2h0m0 1h0m0 2h0m3 0h0m2-3h0m1-1h0m2 0h0m1 1h0m1 2h0m1-2h0m0 3h0m2-3h0m0 3h0m2 1h0m0-3h0m1 1h0m1-1h0m0 1h0m0 1h0m1 0h0m2-2h0m4 3h0m0-3h0m4 3h0m8-4h0m0 3h0m2-2h0m0 0h0m0 2h0m0-1h0m4-3h0m5 0h0m1 1h0m1 1h0m0 2h0m1-5h0m0 5h0m0-1h0m1-4h0m1 1h0m14 3h0m19 0h0m7 0h0m-21 3h0m-37-1h0m-3 1h0m0 0h0m-10 0h0m-1-1h0m0 4h0m-1-2h0m0-2h0m-1 1h0m-1 3h0m-1-2h0m-1 4h0m-1-4h0m-1 1h0m-2 0h0m0-2h0m-1 0h0m-1-1h0m-1 1h0m-1 0h0m-1 2h0m0-2h0m0 1h0m0 2h0m0 1h0m-1-1h0m0-3h0m-2 1h0m0 0h0m0 3h0m0-3h0m-2 3h0m-4 1h0m-1-5h0m-33 7h0m32-1h0m4 2h0m3 0h0m2-1h0m1 3h0m2-3h0m3-1h0m1 0h0m1 1h0m0 0h0m0 4h0m0-6h0m1 3h0m0 1h0m1-1h0m3-3h0m37 5h0m-40 3h0m-4 0h0m-1 3h0m0 0h0m-2 1h0m-5-3h0m0 1h0m0-2h0m0-1h0m5 10h0m1-1h0m1 1h0m0-2h0m2-2h0m3-1h0m17 3h0m-19 4h0m-12 5h0m-1-1h0m-8 5h0m1-1h0m0 0h0m1 3h0m3-1h0m1-3h0m0-2h0m2 5h0m0-5h0m2 2h0m0 0h0m3 1h0m0 1h0m71 8h0m-23-6h0m-47 1h0m-4 0h0m0 2h0m-4 1h0m-1-3h0m-1 0h0m-2 0h0m-16 10h0m31 5h0m-15 17h0m53 1h0m20 2h0m-59 5h0m-7 1h0m92 7h0m0 3h0m-1-3h0m-3 4h0m-1-1h0m0-1h0m-82 2h0m-3-1h0m-1 1h0m-5-4h0m-1 4h0m-4-3h0m2 4h0m5 1h0m0 0h0m5-1h0m2 1h0m1 3h0m2-2h0m79 3h0m2-5h0" stroke="#794ff4" stroke-width="2.40" stroke-linecap="round" fill="none"/><path d="M62-141h0m24 1h0m-14 19h0m-38 1h0m0-1h0m-1 0h0m-4-1h0m-7 7h0m0 0h0m0-1h0m5-2h0m1 1h0m1-2h0m2 5h0m0-1h0m0-4h0m1 0h0m0 1h0m2-2h0m0 5h0m1-1h0m0-3h0m1 1h0m0 1h0m4 0h0m2-3h0m1 1h0m1 0h0m0 2h0m0 2h0m0 0h0m2-2h0m1-1h0m1 3h0m4-2h0m7 1h0m1 2h0m3-2h0m0 0h0m1 0h0m2-1h0m1 1h0m0-1h0m0 1h0m2 0h0m0-4h0m6 6h0m1-3h0m3 3h0m1-4h0m11 8h0m0 0h0m-4 0h0m-4 0h0m0-3h0m0 4h0m-1-3h0m-5 2h0m0-2h0m-4-1h0m-1 3h0m-1-3h0m-1 4h0m-1-3h0m-3 3h0m-1-2h0m-1-1h0m0 2h0m-1 1h0m0-4h0m0 3h0m-4 0h0m-1 1h0m0 0h0m-2-2h0m-2 1h0m0-1h0m0-2h0m0 4h0m-1 1h0m0-1h0m-1-3h0m-1-2h0m0 1h0m-3 4h0m-1-3h0m0 2h0m0-1h0m-1-1h0m0 4h0m-1 0h0m0-3h0m-2 1h0m-1 0h0m-1 1h0m-2-4h0m-1-1h0m-1 5h0m-1 0h0m-2-4h0m0-1h0m0 2h0m0 2h0m0-3h0m-1 4h0m-1-2h0m0 2h0m-1-1h0m-3-3h0m0 4h0m-1-4h0m0 3h0m0-3h0m-1 2h0m0-1h0m-2-1h0m-2 3h0m1 3h0m0 1h0m1-1h0m0 3h0m1-3h0m4 3h0m1 0h0m1 1h0m3 1h0m0 0h0m0-2h0m0-1h0m3 2h0m1 0h0m2-1h0m1 0h0m0 1h0m1-4h0m1 4h0m0-3h0m2 2h0m2-2h0m1 4h0m0-4h0m0-2h0m0 2h0m2-1h0m1 3h0m0-1h0m0-1h0m0 2h0m1 0h0m2 0h0m0 0h0m0-1h0m1-3h0m0 1h0m0 2h0m0-2h0m2 2h0m0-2h0m1 4h0m1-3h0m1 1h0m1 2h0m0-1h0m9 2h0m0-1h0m0-1h0m1-3h0m1 4h0m1 0h0m4-3h0m2-2h0m0 1h0m7 4h0m0-1h0m3 0h0m1-1h0m1 0h0m-23 4h0m-3 0h0m-3-1h0m-1 3h0m-1-2h0m-1 0h0m-2 2h0m0 0h0m0-2h0m0-1h0m-1 1h0m-1-1h0m-3 2h0m-3 2h0m0-4h0m-1 1h0m0 2h0m-1-3h0m0 5h0m0-2h0m0 2h0m-1 0h0m0-5h0m0 2h0m-1 3h0m-1-4h0m0-1h0m-1 0h0m0 3h0m0 3h0m-2-1h0m-1-4h0m0-1h0m0 4h0m-1 0h0m0 2h0m0-4h0m0 1h0m0-3h0m-1 2h0m-1 0h0m0 4h0m-3-1h0m-5-2h0m0-1h0m6 9h0m1 1h0m1-5h0m3 1h0m0 0h0m1-1h0m0 2h0m0 0h0m0-2h0m2 1h0m1-1h0m0 2h0m0 0h0m0 3h0m2-4h0m0-1h0m0 4h0m1-3h0m0 1h0m1 0h0m0-1h0m1-1h0m0 3h0m0 0h0m3-4h0m48 8h0m-52 4h0m-5-6h0m-1 2h0m-1 1h0m-1-1h0m-1-2h0m-2 4h0m-4-1h0m-18-3h0m27 11h0m1-4h0m0 4h0m3 1h0m4-2h0m1-3h0m82 3h0m-96 8h0m-3-1h0m-1 3h0m2 1h0m1-2h0m0 3h0m0-1h0m4-2h0m70 8h0m-69-2h0m0 1h0m-1-1h0m-3 3h0m-4-3h0m-4 0h0m0 1h0m-21 2h0m24 6h0m37-4h0m21 1h0m18 24h0m-50 12h0m71 6h0m-3 2h0m-95 0h0" stroke="#5731fa" stroke-width="2.40" stroke-linecap="round" fill="none"/><path d="M39-114h0m24-2h0m-14 6h0m5 3h0m9 0h0m31 0h0m-50 8h0m6 6h0m-10 6h0m-1-2h0" stroke="#0000ff" stroke-width="2.40" stroke-linecap="round" fill="none"/></g>
<path d="M567.0 81.4V90.9H576.5" stroke="#111" stroke-width="0.8" fill="none"/><path d="M565.3 82.60000000000001L567.0 79.60000000000001L568.7 82.60000000000001Z" fill="#111"/><path d="M575.3 89.2L578.3 90.9L575.3 92.60000000000001Z" fill="#111"/><text x="569.7" y="99.9" font-size="4.8" fill="#222">tSNE_1</text><text x="0" y="0" font-size="4.8" fill="#222" transform="translate(563.4 90.7) rotate(-90)">tSNE_2</text>
<g transform="translate(567.0 183.4) scale(0.5)"><ellipse cx="40" cy="-107" rx="18" ry="11" transform="rotate(20 40 -107)" fill="#a785e9" fill-opacity="0.5"/><ellipse cx="62" cy="-108" rx="19" ry="8" transform="rotate(-12 62 -108)" fill="#a17dea" fill-opacity="0.5"/><ellipse cx="44" cy="-90" rx="8" ry="11" transform="rotate(0 44 -90)" fill="#a17dea" fill-opacity="0.5"/><ellipse cx="87" cy="-107" rx="5" ry="4" transform="rotate(0 87 -107)" fill="#9b75ec" fill-opacity="0.5"/><ellipse cx="36" cy="-67" rx="7" ry="5" transform="rotate(0 36 -67)" fill="#7d52f4" fill-opacity="0.5"/><ellipse cx="36" cy="-13" rx="11" ry="4" transform="rotate(20 36 -13)" fill="#885df1" fill-opacity="0.5"/><path d="M36-121h0m-10 5h0m17 10h0" stroke="#c6b9db" stroke-width="2.40" stroke-linecap="round" fill="none"/><path d="M25-118h0m2 2h0m4-1h0m0 1h0m3-4h0m0 1h0m5 4h0m7-2h0m1 2h0m19-1h0m7 0h0m1 2h0m7 5h0m-27 0h0m-2 0h0m-1-2h0m-1 1h0m-1 0h0m-1 1h0m-2 1h0m0-5h0m-6 3h0m-1-2h0m-1 4h0m-3-5h0m-3 4h0m-1-1h0m-1-2h0m-1 3h0m-2-1h0m-5 0h0m3 6h0m0-3h0m1 3h0m5-4h0m0 3h0m5 1h0m2 2h0m0-5h0m5 2h0m0-2h0m1 1h0m6-1h0m1 1h0m1 2h0m2-2h0m2 3h0m24-2h0m-26 7h0m-1-1h0m-1 1h0m-2-4h0m-1 2h0m-1 2h0m-2-1h0m-5-2h0m-1 2h0m-2-2h0m0 1h0m-3-1h0m-3 7h0m11 10h0m-5 0h0m-9 51h0" stroke="#b89ee2" stroke-width="2.40" stroke-linecap="round" fill="none"/><path d="M66-145h0m1 14h0m18 0h0m46 11h0m-63 0h0m-50 5h0m9-3h0m1-1h0m0 0h0m2 2h0m0-2h0m1 1h0m1 1h0m0 1h0m1 0h0m1-1h0m0 1h0m2-2h0m0 0h0m0 1h0m1 0h0m0 3h0m1-2h0m1 1h0m1-4h0m2 0h0m1 4h0m1-2h0m2-1h0m0 0h0m2 2h0m0 2h0m1-2h0m4 1h0m3-1h0m2 0h0m1 0h0m0 2h0m2-1h0m3 0h0m3-1h0m1-1h0m1 2h0m0-2h0m1 2h0m3-4h0m1 4h0m0-2h0m2 0h0m0 2h0m0-1h0m1-1h0m0 0h0m4 2h0m9 1h0m6-2h0m6 0h0m-14 7h0m-5 0h0m0-5h0m-1 0h0m-1 2h0m-1 1h0m-1 3h0m-3 0h0m0-6h0m-1 2h0m-2 3h0m-1-4h0m-1 4h0m-1-2h0m0 2h0m-1-3h0m0 4h0m-1-2h0m-3-4h0m0 0h0m-1 1h0m0 1h0m-2 3h0m-1-5h0m0 6h0m-3-2h0m-4 1h0m0-3h0m0 3h0m0 0h0m-1-4h0m0 3h0m0-1h0m-1-1h0m0-2h0m-1 4h0m0 1h0m-1-4h0m-1 0h0m0 4h0m0-5h0m-1 2h0m0 0h0m-1 3h0m-4-1h0m-1 2h0m-1-4h0m-1-2h0m-1 0h0m-1 3h0m-2 2h0m-3 1h0m-1-3h0m0-3h0m0 0h0m-2 2h0m-1 3h0m-1-5h0m0 2h0m-6 0h0m2 9h0m1-1h0m3-2h0m2 3h0m1-4h0m0 1h0m6 0h0m1 1h0m4 0h0m0-1h0m0 2h0m1-2h0m0 0h0m1 4h0m1-3h0m0-2h0m0 5h0m0-2h0m1-2h0m0-1h0m1 0h0m0-1h0m1 2h0m0 3h0m1-1h0m2-2h0m3 0h0m0 1h0m1-2h0m1 2h0m1 1h0m1 0h0m0 0h0m1 1h0m0-2h0m1 1h0m1-2h0m0-1h0m1 4h0m1-3h0m0 3h0m0-2h0m2 0h0m0 2h0m5-3h0m0 0h0m1 4h0m3-1h0m1-1h0m0-3h0m0 1h0m3 1h0m4-3h0m0 2h0m1 1h0m5 1h0m0 0h0m1-3h0m2-1h0m1 3h0m1-2h0m0 0h0m-24 5h0m-1 2h0m-1-1h0m-1 0h0m-2 0h0m-1 1h0m0-1h0m-5 2h0m0 0h0m-1-2h0m0 0h0m-1 0h0m0-1h0m-1 1h0m-1 4h0m-3-1h0m-1-4h0m-1 2h0m-1 0h0m0-2h0m-1 3h0m0-2h0m-1-1h0m0 5h0m-2-4h0m0 1h0m0 0h0m0 1h0m-2 0h0m0 1h0m0-3h0m0 2h0m-1-2h0m0 2h0m0 1h0m-1-4h0m0 5h0m0 0h0m0 0h0m-1 1h0m0-2h0m-1-2h0m-2 2h0m-1-4h0m0 5h0m0 0h0m-1-3h0m-3 3h0m0 0h0m0-1h0m0 0h0m-20 6h0m25-2h0m1 1h0m0-2h0m1 3h0m0 0h0m0 2h0m0 0h0m2-6h0m1 2h0m0 3h0m1-2h0m1 2h0m0-5h0m0 4h0m1 1h0m1-2h0m1 2h0m1-1h0m2-1h0m0 1h0m2-4h0m1 5h0m1-5h0m2 3h0m5-2h0m41 5h0m-18 2h0m-31 2h0m0 0h0m-1 0h0m-3-4h0m-2 1h0m0 5h0m0 0h0m0-2h0m-1-3h0m-1 4h0m0 0h0m0-4h0m0 3h0m-1-3h0m0 4h0m0 0h0m-3-1h0m-5-3h0m10 9h0m1 0h0m1-3h0m2 0h0m68 3h0m-101 29h0m12 4h0m16 1h0m71 3h0m-89 4h0m21 8h0m31 4h0m52 11h0m-4 1h0m-5 6h0m3 0h0m1-2h0m2-1h0" stroke="#a784e9" stroke-width="2.40" stroke-linecap="round" fill="none"/><path d="M28-118h0m10-2h0m1 0h0m5 5h0m1-2h0m1-1h0m12 3h0m13-2h0m3 3h0m3-2h0m2 0h0m13 7h0m-1-1h0m-3-1h0m-1 3h0m-1-3h0m-2 1h0m-2-1h0m-1-1h0m-5 2h0m-3-2h0m-4 3h0m-1-2h0m-1 0h0m-3-2h0m-3 3h0m-1-3h0m0 4h0m-2-4h0m-7 1h0m0 1h0m-1-2h0m0 4h0m-8-5h0m-7 4h0m-4 0h0m-1-4h0m-2 0h0m-5 0h0m-2 3h0m5 8h0m1-3h0m7 0h0m2 0h0m2 1h0m0 2h0m1-1h0m2-1h0m1 2h0m0-3h0m0 4h0m2-6h0m0 5h0m2 0h0m0-4h0m4 5h0m1-3h0m0 1h0m2 2h0m1-3h0m2 1h0m1 0h0m1-2h0m0 2h0m1-2h0m2-2h0m2 2h0m4 3h0m0-3h0m1 0h0m2 1h0m3 2h0m1-3h0m0 1h0m1-1h0m1 1h0m2 0h0m5-2h0m3 1h0m2-2h0m2 4h0m40 5h0m-59-3h0m-12 1h0m-2 1h0m-1 1h0m-1 3h0m-4-5h0m-7 3h0m-2 2h0m0-3h0m-1 2h0m0 1h0m-1-4h0m-1-1h0m-5 3h0m-2-3h0m-6 1h0m-9 1h0m20 4h0m1-1h0m3 4h0m0-1h0m1-1h0m2 0h0m6 2h0m1-3h0m83 9h0m-19 1h0m-64-3h0m-3-1h0m-2 3h0m-4-4h0m0 1h0m-1 2h0m-3 4h0m3 0h0m0 3h0m1 2h0m6-5h0m0 0h0m3 0h0m0 1h0m43 3h0m12-1h0m-9 3h0m-56 3h0m-7 1h0m-6 5h0m2 0h0m3-3h0m1 4h0m2 1h0m1-1h0m2-1h0m1-1h0m1 2h0m2 0h0m-3 1h0m0 2h0m-8 1h0m-4-3h0m-3 22h0m52 8h0m19 5h0m-64 13h0m98 2h0m-88 3h0m-2 0h0m0 0h0m-2 0h0m-7-3h0m-2 0h0m1 4h0m5 1h0m1 0h0m0 1h0m1 0h0m1 0h0m5 0h0m1 2h0m77-2h0m1 3h0m6-5h0" stroke="#926aef" stroke-width="2.40" stroke-linecap="round" fill="none"/><path d="M86-120h0m-53 2h0m-4 14h0m28-1h0m-7 11h0m-22 28h0m3-1h0m2 1h0m1-3h0m1 0h0m1 1h0m3 1h0m1-2h0m3 3h0m-3 2h0m-1-1h0m0 2h0m0 1h0m-3-3h0m0-1h0m0 1h0m-2 0h0m-2 0h0m0 47h0m12 5h0m0 1h0m-1-1h0m-1 1h0m-7-2h0m0-2h0m-3 1h0m0-3h0m-1 4h0m0-4h0m-2 6h0m-1-5h0m3 6h0m5 2h0m3 0h0m3 1h0m3-4h0m1 3h0" stroke="#794ff4" stroke-width="2.40" stroke-linecap="round" fill="none"/><path d="M43-69h0m-4 7h0m-4-2h0m8 53h0" stroke="#5731fa" stroke-width="2.40" stroke-linecap="round" fill="none"/></g>
<path d="M567.0 173.9V183.4H576.5" stroke="#111" stroke-width="0.8" fill="none"/><path d="M565.3 175.1L567.0 172.1L568.7 175.1Z" fill="#111"/><path d="M575.3 181.70000000000002L578.3 183.4L575.3 185.1Z" fill="#111"/><text x="569.7" y="192.4" font-size="4.8" fill="#222">tSNE_1</text><text x="0" y="0" font-size="4.8" fill="#222" transform="translate(563.4 183.20000000000002) rotate(-90)">tSNE_2</text>
<text x="0" y="0" font-size="9" fill="#111" stroke="#111" stroke-width="0.1" text-anchor="middle" transform="translate(219.5 53.6) rotate(-45)">Gene</text>
<text x="0" y="0" font-size="9" fill="#111" stroke="#111" stroke-width="0.1" text-anchor="middle" transform="translate(219.8 150.9) rotate(-45)">TE</text>
<defs><linearGradient id="fcb" x1="0" y1="0" x2="0" y2="1"><stop offset="0.000" stop-color="#0000ff"/><stop offset="0.125" stop-color="#522dfb"/><stop offset="0.250" stop-color="#7248f6"/><stop offset="0.375" stop-color="#8a60f1"/><stop offset="0.500" stop-color="#9d77ec"/><stop offset="0.625" stop-color="#ad8ee6"/><stop offset="0.750" stop-color="#bba5e0"/><stop offset="0.875" stop-color="#c8bcda"/><stop offset="1.000" stop-color="#d3d3d3"/></linearGradient></defs>
<rect x="647.3" y="91" width="6.8" height="55" fill="url(#fcb)"/>
<text x="657.8" y="93.4" font-size="5.6" fill="#222">Max</text>
<text x="657.8" y="147.8" font-size="5.6" fill="#222">Min</text>
<text x="204.8" y="220.9" font-size="4.45" fill="#222">Gene / TE %</text>
<rect x="235.2" y="215.3" width="46.0" height="5.8" fill="#3a7fbf"/>
<rect x="281.2" y="215.3" width="27.8" height="5.8" fill="#e41a1c"/>
<rect x="316.9" y="215.3" width="43.4" height="5.8" fill="#3a7fbf"/>
<rect x="360.3" y="215.3" width="30.5" height="5.8" fill="#e41a1c"/>
<rect x="398.4" y="215.3" width="36.9" height="5.8" fill="#3a7fbf"/>
<rect x="435.3" y="215.3" width="37.3" height="5.8" fill="#e41a1c"/>
<rect x="480.4" y="215.3" width="43.1" height="5.8" fill="#3a7fbf"/>
<rect x="523.5" y="215.3" width="31.0" height="5.8" fill="#e41a1c"/>
<rect x="562.2" y="215.3" width="44.0" height="5.8" fill="#3a7fbf"/>
<rect x="606.2" y="215.3" width="29.8" height="5.8" fill="#e41a1c"/>
<rect x="409" y="229.6" width="10.3" height="9.7" fill="#3a7fbf"/>
<text x="423" y="236.4" font-size="5.6" fill="#222">Gene</text>
<rect x="441.4" y="229.6" width="9.7" height="9.7" fill="#e41a1c"/>
<text x="455.4" y="236.4" font-size="5.6" fill="#222">TE</text>
<rect x="22.5" y="268.20000000000005" width="141.8" height="118.19999999999993" fill="#ebebeb"/>
<line x1="22.5" y1="381.0" x2="164.3" y2="381.0" stroke="#fff" stroke-width="0.5"/>
<line x1="22.5" y1="354.15" x2="164.3" y2="354.15" stroke="#fff" stroke-width="0.5"/>
<line x1="22.5" y1="327.3" x2="164.3" y2="327.3" stroke="#fff" stroke-width="0.5"/>
<line x1="22.5" y1="300.45000000000005" x2="164.3" y2="300.45000000000005" stroke="#fff" stroke-width="0.5"/>
<line x1="22.5" y1="273.6" x2="164.3" y2="273.6" stroke="#fff" stroke-width="0.5"/>
<line x1="22.5" y1="367.575" x2="164.3" y2="367.575" stroke="#fff" stroke-width="0.25"/>
<line x1="22.5" y1="340.725" x2="164.3" y2="340.725" stroke="#fff" stroke-width="0.25"/>
<line x1="22.5" y1="313.875" x2="164.3" y2="313.875" stroke="#fff" stroke-width="0.25"/>
<line x1="22.5" y1="287.02500000000003" x2="164.3" y2="287.02500000000003" stroke="#fff" stroke-width="0.25"/>
<line x1="27.4" y1="268.20000000000005" x2="27.4" y2="386.4" stroke="#fff" stroke-width="0.5"/>
<line x1="35.644999999999996" y1="268.20000000000005" x2="35.644999999999996" y2="386.4" stroke="#fff" stroke-width="0.5"/>
<line x1="43.89" y1="268.20000000000005" x2="43.89" y2="386.4" stroke="#fff" stroke-width="0.5"/>
<line x1="52.135" y1="268.20000000000005" x2="52.135" y2="386.4" stroke="#fff" stroke-width="0.5"/>
<line x1="60.379999999999995" y1="268.20000000000005" x2="60.379999999999995" y2="386.4" stroke="#fff" stroke-width="0.5"/>
<line x1="68.625" y1="268.20000000000005" x2="68.625" y2="386.4" stroke="#fff" stroke-width="0.5"/>
<line x1="76.87" y1="268.20000000000005" x2="76.87" y2="386.4" stroke="#fff" stroke-width="0.5"/>
<line x1="85.115" y1="268.20000000000005" x2="85.115" y2="386.4" stroke="#fff" stroke-width="0.5"/>
<line x1="93.35999999999999" y1="268.20000000000005" x2="93.35999999999999" y2="386.4" stroke="#fff" stroke-width="0.5"/>
<line x1="101.60499999999999" y1="268.20000000000005" x2="101.60499999999999" y2="386.4" stroke="#fff" stroke-width="0.5"/>
<line x1="109.85" y1="268.20000000000005" x2="109.85" y2="386.4" stroke="#fff" stroke-width="0.5"/>
<line x1="118.095" y1="268.20000000000005" x2="118.095" y2="386.4" stroke="#fff" stroke-width="0.5"/>
<line x1="126.34" y1="268.20000000000005" x2="126.34" y2="386.4" stroke="#fff" stroke-width="0.5"/>
<line x1="134.58499999999998" y1="268.20000000000005" x2="134.58499999999998" y2="386.4" stroke="#fff" stroke-width="0.5"/>
<line x1="142.82999999999998" y1="268.20000000000005" x2="142.82999999999998" y2="386.4" stroke="#fff" stroke-width="0.5"/>
<line x1="151.075" y1="268.20000000000005" x2="151.075" y2="386.4" stroke="#fff" stroke-width="0.5"/>
<line x1="159.32" y1="268.20000000000005" x2="159.32" y2="386.4" stroke="#fff" stroke-width="0.5"/>
<rect x="23.75" y="273.60" width="7.3" height="17.18" fill="#fb8072"/>
<rect x="23.75" y="290.78" width="7.3" height="27.71" fill="#ffffb3"/>
<rect x="23.75" y="318.49" width="7.3" height="22.55" fill="#8dd3c7"/>
<rect x="23.75" y="341.05" width="7.3" height="16.97" fill="#80b1d3"/>
<rect x="23.75" y="358.02" width="7.3" height="22.98" fill="#bebada"/>
<rect x="31.99" y="273.60" width="7.3" height="24.81" fill="#fb8072"/>
<rect x="31.99" y="298.41" width="7.3" height="32.65" fill="#ffffb3"/>
<rect x="31.99" y="331.06" width="7.3" height="16.32" fill="#8dd3c7"/>
<rect x="31.99" y="347.38" width="7.3" height="33.62" fill="#80b1d3"/>
<rect x="40.24" y="273.60" width="7.3" height="38.23" fill="#fb8072"/>
<rect x="40.24" y="311.83" width="7.3" height="26.21" fill="#ffffb3"/>
<rect x="40.24" y="338.04" width="7.3" height="19.22" fill="#8dd3c7"/>
<rect x="40.24" y="357.26" width="7.3" height="0.75" fill="#80b1d3"/>
<rect x="40.24" y="358.02" width="7.3" height="22.98" fill="#bebada"/>
<rect x="48.48" y="273.60" width="7.3" height="33.40" fill="#fb8072"/>
<rect x="48.48" y="307.00" width="7.3" height="30.07" fill="#ffffb3"/>
<rect x="48.48" y="337.07" width="7.3" height="42.10" fill="#8dd3c7"/>
<rect x="48.48" y="379.17" width="7.3" height="1.83" fill="#80b1d3"/>
<rect x="56.73" y="273.60" width="7.3" height="91.50" fill="#ffffb3"/>
<rect x="56.73" y="365.10" width="7.3" height="15.90" fill="#80b1d3"/>
<rect x="64.97" y="273.60" width="7.3" height="7.63" fill="#fb8072"/>
<rect x="64.97" y="281.23" width="7.3" height="21.80" fill="#ffffb3"/>
<rect x="64.97" y="303.03" width="7.3" height="4.83" fill="#8dd3c7"/>
<rect x="64.97" y="307.86" width="7.3" height="62.40" fill="#80b1d3"/>
<rect x="64.97" y="370.26" width="7.3" height="10.74" fill="#bebada"/>
<rect x="73.22" y="273.60" width="7.3" height="33.40" fill="#ffffb3"/>
<rect x="73.22" y="307.00" width="7.3" height="22.23" fill="#8dd3c7"/>
<rect x="73.22" y="329.23" width="7.3" height="29.64" fill="#80b1d3"/>
<rect x="73.22" y="358.88" width="7.3" height="22.12" fill="#bebada"/>
<rect x="81.46" y="273.60" width="7.3" height="23.20" fill="#ffffb3"/>
<rect x="81.46" y="296.80" width="7.3" height="14.71" fill="#8dd3c7"/>
<rect x="81.46" y="311.51" width="7.3" height="69.49" fill="#80b1d3"/>
<rect x="89.71" y="273.60" width="7.3" height="1.18" fill="#fb8072"/>
<rect x="89.71" y="274.78" width="7.3" height="13.53" fill="#ffffb3"/>
<rect x="89.71" y="288.31" width="7.3" height="27.82" fill="#8dd3c7"/>
<rect x="89.71" y="316.13" width="7.3" height="53.38" fill="#80b1d3"/>
<rect x="89.71" y="369.51" width="7.3" height="11.49" fill="#bebada"/>
<rect x="97.95" y="273.60" width="7.3" height="3.22" fill="#80b1d3"/>
<rect x="97.95" y="276.82" width="7.3" height="104.18" fill="#bebada"/>
<rect x="106.20" y="273.60" width="7.3" height="20.41" fill="#fb8072"/>
<rect x="106.20" y="294.01" width="7.3" height="35.66" fill="#ffffb3"/>
<rect x="106.20" y="329.66" width="7.3" height="19.12" fill="#8dd3c7"/>
<rect x="106.20" y="348.78" width="7.3" height="20.73" fill="#80b1d3"/>
<rect x="106.20" y="369.51" width="7.3" height="11.49" fill="#bebada"/>
<rect x="114.44" y="273.60" width="7.3" height="28.78" fill="#fb8072"/>
<rect x="114.44" y="302.38" width="7.3" height="33.72" fill="#ffffb3"/>
<rect x="114.44" y="336.11" width="7.3" height="22.34" fill="#8dd3c7"/>
<rect x="114.44" y="358.45" width="7.3" height="22.55" fill="#80b1d3"/>
<rect x="122.69" y="273.60" width="7.3" height="24.16" fill="#fb8072"/>
<rect x="122.69" y="297.77" width="7.3" height="43.39" fill="#ffffb3"/>
<rect x="122.69" y="341.15" width="7.3" height="17.08" fill="#8dd3c7"/>
<rect x="122.69" y="358.23" width="7.3" height="22.77" fill="#80b1d3"/>
<rect x="130.93" y="273.60" width="7.3" height="41.89" fill="#fb8072"/>
<rect x="130.93" y="315.49" width="7.3" height="12.57" fill="#ffffb3"/>
<rect x="130.93" y="328.05" width="7.3" height="13.10" fill="#8dd3c7"/>
<rect x="130.93" y="341.15" width="7.3" height="39.85" fill="#80b1d3"/>
<rect x="139.18" y="273.60" width="7.3" height="13.32" fill="#fb8072"/>
<rect x="139.18" y="286.92" width="7.3" height="54.24" fill="#ffffb3"/>
<rect x="139.18" y="341.15" width="7.3" height="3.97" fill="#8dd3c7"/>
<rect x="139.18" y="345.13" width="7.3" height="35.87" fill="#80b1d3"/>
<rect x="147.42" y="273.60" width="7.3" height="33.40" fill="#fb8072"/>
<rect x="147.42" y="307.00" width="7.3" height="45.22" fill="#ffffb3"/>
<rect x="147.42" y="352.22" width="7.3" height="16.65" fill="#8dd3c7"/>
<rect x="147.42" y="368.86" width="7.3" height="12.14" fill="#80b1d3"/>
<rect x="155.67" y="273.60" width="7.3" height="33.40" fill="#fb8072"/>
<rect x="155.67" y="307.00" width="7.3" height="28.25" fill="#ffffb3"/>
<rect x="155.67" y="335.25" width="7.3" height="30.61" fill="#8dd3c7"/>
<rect x="155.67" y="365.86" width="7.3" height="15.14" fill="#80b1d3"/>
<line x1="20.6" y1="381.0" x2="22.5" y2="381.0" stroke="#333" stroke-width="0.5"/>
<text x="19.6" y="382.9" font-size="5.4" fill="#4d4d4d" text-anchor="end">0%</text>
<line x1="20.6" y1="354.15" x2="22.5" y2="354.15" stroke="#333" stroke-width="0.5"/>
<text x="19.6" y="356.04999999999995" font-size="5.4" fill="#4d4d4d" text-anchor="end">25%</text>
<line x1="20.6" y1="327.3" x2="22.5" y2="327.3" stroke="#333" stroke-width="0.5"/>
<text x="19.6" y="329.2" font-size="5.4" fill="#4d4d4d" text-anchor="end">50%</text>
<line x1="20.6" y1="300.45000000000005" x2="22.5" y2="300.45000000000005" stroke="#333" stroke-width="0.5"/>
<text x="19.6" y="302.35" font-size="5.4" fill="#4d4d4d" text-anchor="end">75%</text>
<line x1="20.6" y1="273.6" x2="22.5" y2="273.6" stroke="#333" stroke-width="0.5"/>
<text x="19.6" y="275.5" font-size="5.4" fill="#4d4d4d" text-anchor="end">100%</text>
<line x1="27.4" y1="386.4" x2="27.4" y2="388.29999999999995" stroke="#333" stroke-width="0.5"/>
<text x="30.20" y="393.10" font-size="5.1" fill="#4d4d4d" stroke="#4d4d4d" stroke-width="0.12" text-anchor="end" transform="rotate(-45 30.20 393.10)">PMC</text>
<line x1="35.644999999999996" y1="386.4" x2="35.644999999999996" y2="388.29999999999995" stroke="#333" stroke-width="0.5"/>
<text x="38.44" y="393.10" font-size="5.1" fill="#4d4d4d" stroke="#4d4d4d" stroke-width="0.12" text-anchor="end" transform="rotate(-45 38.44 393.10)">GMC</text>
<line x1="43.89" y1="386.4" x2="43.89" y2="388.29999999999995" stroke="#333" stroke-width="0.5"/>
<text x="46.69" y="393.10" font-size="5.1" fill="#4d4d4d" stroke="#4d4d4d" stroke-width="0.12" text-anchor="end" transform="rotate(-45 46.69 393.10)">Enteroendocrine</text>
<line x1="52.135" y1="386.4" x2="52.135" y2="388.29999999999995" stroke="#333" stroke-width="0.5"/>
<text x="54.93" y="393.10" font-size="5.1" fill="#4d4d4d" stroke="#4d4d4d" stroke-width="0.12" text-anchor="end" transform="rotate(-45 54.93 393.10)">Neck−like</text>
<line x1="60.379999999999995" y1="386.4" x2="60.379999999999995" y2="388.29999999999995" stroke="#333" stroke-width="0.5"/>
<text x="63.18" y="393.10" font-size="5.1" fill="#4d4d4d" stroke="#4d4d4d" stroke-width="0.12" text-anchor="end" transform="rotate(-45 63.18 393.10)">Chief</text>
<line x1="68.625" y1="386.4" x2="68.625" y2="388.29999999999995" stroke="#333" stroke-width="0.5"/>
<text x="71.42" y="393.10" font-size="5.1" fill="#4d4d4d" stroke="#4d4d4d" stroke-width="0.12" text-anchor="end" transform="rotate(-45 71.42 393.10)">PC</text>
<line x1="76.87" y1="386.4" x2="76.87" y2="388.29999999999995" stroke="#333" stroke-width="0.5"/>
<text x="79.67" y="393.10" font-size="5.1" fill="#4d4d4d" stroke="#4d4d4d" stroke-width="0.12" text-anchor="end" transform="rotate(-45 79.67 393.10)">Goblet</text>
<line x1="85.115" y1="386.4" x2="85.115" y2="388.29999999999995" stroke="#333" stroke-width="0.5"/>
<text x="87.91" y="393.10" font-size="5.1" fill="#4d4d4d" stroke="#4d4d4d" stroke-width="0.12" text-anchor="end" transform="rotate(-45 87.91 393.10)">Enterocytes</text>
<line x1="93.35999999999999" y1="386.4" x2="93.35999999999999" y2="388.29999999999995" stroke="#333" stroke-width="0.5"/>
<text x="96.16" y="393.10" font-size="5.1" fill="#4d4d4d" stroke="#4d4d4d" stroke-width="0.12" text-anchor="end" transform="rotate(-45 96.16 393.10)">MSCs</text>
<line x1="101.60499999999999" y1="386.4" x2="101.60499999999999" y2="388.29999999999995" stroke="#333" stroke-width="0.5"/>
<text x="104.40" y="393.10" font-size="5.1" fill="#4d4d4d" stroke="#4d4d4d" stroke-width="0.12" text-anchor="end" transform="rotate(-45 104.40 393.10)">Cancer</text>
<line x1="109.85" y1="386.4" x2="109.85" y2="388.29999999999995" stroke="#333" stroke-width="0.5"/>
<text x="112.65" y="393.10" font-size="5.1" fill="#4d4d4d" stroke="#4d4d4d" stroke-width="0.12" text-anchor="end" transform="rotate(-45 112.65 393.10)">T cells</text>
<line x1="118.095" y1="386.4" x2="118.095" y2="388.29999999999995" stroke="#333" stroke-width="0.5"/>
<text x="120.89" y="393.10" font-size="5.1" fill="#4d4d4d" stroke="#4d4d4d" stroke-width="0.12" text-anchor="end" transform="rotate(-45 120.89 393.10)">B cells</text>
<line x1="126.34" y1="386.4" x2="126.34" y2="388.29999999999995" stroke="#333" stroke-width="0.5"/>
<text x="129.14" y="393.10" font-size="5.1" fill="#4d4d4d" stroke="#4d4d4d" stroke-width="0.12" text-anchor="end" transform="rotate(-45 129.14 393.10)">Endothelial</text>
<line x1="134.58499999999998" y1="386.4" x2="134.58499999999998" y2="388.29999999999995" stroke="#333" stroke-width="0.5"/>
<text x="137.38" y="393.10" font-size="5.1" fill="#4d4d4d" stroke="#4d4d4d" stroke-width="0.12" text-anchor="end" transform="rotate(-45 137.38 393.10)">Macrophages</text>
<line x1="142.82999999999998" y1="386.4" x2="142.82999999999998" y2="388.29999999999995" stroke="#333" stroke-width="0.5"/>
<text x="145.63" y="393.10" font-size="5.1" fill="#4d4d4d" stroke="#4d4d4d" stroke-width="0.12" text-anchor="end" transform="rotate(-45 145.63 393.10)">Mast</text>
<line x1="151.075" y1="386.4" x2="151.075" y2="388.29999999999995" stroke="#333" stroke-width="0.5"/>
<text x="153.88" y="393.10" font-size="5.1" fill="#4d4d4d" stroke="#4d4d4d" stroke-width="0.12" text-anchor="end" transform="rotate(-45 153.88 393.10)">SMC</text>
<line x1="159.32" y1="386.4" x2="159.32" y2="388.29999999999995" stroke="#333" stroke-width="0.5"/>
<text x="162.12" y="393.10" font-size="5.1" fill="#4d4d4d" stroke="#4d4d4d" stroke-width="0.12" text-anchor="end" transform="rotate(-45 162.12 393.10)">Fibroblast</text>
<text x="175" y="301.2" font-size="7" fill="#222">Condition</text>
<rect x="175" y="305.60" width="10" height="10.20" fill="#fb8072"/>
<text x="188.8" y="312.70" font-size="5.6" fill="#333">NAG</text>
<rect x="175" y="316.40" width="10" height="10.20" fill="#ffffb3"/>
<text x="188.8" y="323.50" font-size="5.6" fill="#333">CAG</text>
<rect x="175" y="327.20" width="10" height="10.20" fill="#8dd3c7"/>
<text x="188.8" y="334.30" font-size="5.6" fill="#333">IMW</text>
<rect x="175" y="338.00" width="10" height="10.20" fill="#80b1d3"/>
<text x="188.8" y="345.10" font-size="5.6" fill="#333">IMS</text>
<rect x="175" y="348.80" width="10" height="10.20" fill="#bebada"/>
<text x="188.8" y="355.90" font-size="5.6" fill="#333">EGC</text>
<rect x="22.5" y="461.6" width="141.8" height="118.19999999999993" fill="#ebebeb"/>
<line x1="22.5" y1="574.4" x2="164.3" y2="574.4" stroke="#fff" stroke-width="0.5"/>
<line x1="22.5" y1="547.55" x2="164.3" y2="547.55" stroke="#fff" stroke-width="0.5"/>
<line x1="22.5" y1="520.7" x2="164.3" y2="520.7" stroke="#fff" stroke-width="0.5"/>
<line x1="22.5" y1="493.85" x2="164.3" y2="493.85" stroke="#fff" stroke-width="0.5"/>
<line x1="22.5" y1="467.0" x2="164.3" y2="467.0" stroke="#fff" stroke-width="0.5"/>
<line x1="22.5" y1="560.975" x2="164.3" y2="560.975" stroke="#fff" stroke-width="0.25"/>
<line x1="22.5" y1="534.125" x2="164.3" y2="534.125" stroke="#fff" stroke-width="0.25"/>
<line x1="22.5" y1="507.275" x2="164.3" y2="507.275" stroke="#fff" stroke-width="0.25"/>
<line x1="22.5" y1="480.425" x2="164.3" y2="480.425" stroke="#fff" stroke-width="0.25"/>
<line x1="27.4" y1="461.6" x2="27.4" y2="579.8" stroke="#fff" stroke-width="0.5"/>
<line x1="35.644999999999996" y1="461.6" x2="35.644999999999996" y2="579.8" stroke="#fff" stroke-width="0.5"/>
<line x1="43.89" y1="461.6" x2="43.89" y2="579.8" stroke="#fff" stroke-width="0.5"/>
<line x1="52.135" y1="461.6" x2="52.135" y2="579.8" stroke="#fff" stroke-width="0.5"/>
<line x1="60.379999999999995" y1="461.6" x2="60.379999999999995" y2="579.8" stroke="#fff" stroke-width="0.5"/>
<line x1="68.625" y1="461.6" x2="68.625" y2="579.8" stroke="#fff" stroke-width="0.5"/>
<line x1="76.87" y1="461.6" x2="76.87" y2="579.8" stroke="#fff" stroke-width="0.5"/>
<line x1="85.115" y1="461.6" x2="85.115" y2="579.8" stroke="#fff" stroke-width="0.5"/>
<line x1="93.35999999999999" y1="461.6" x2="93.35999999999999" y2="579.8" stroke="#fff" stroke-width="0.5"/>
<line x1="101.60499999999999" y1="461.6" x2="101.60499999999999" y2="579.8" stroke="#fff" stroke-width="0.5"/>
<line x1="109.85" y1="461.6" x2="109.85" y2="579.8" stroke="#fff" stroke-width="0.5"/>
<line x1="118.095" y1="461.6" x2="118.095" y2="579.8" stroke="#fff" stroke-width="0.5"/>
<line x1="126.34" y1="461.6" x2="126.34" y2="579.8" stroke="#fff" stroke-width="0.5"/>
<line x1="134.58499999999998" y1="461.6" x2="134.58499999999998" y2="579.8" stroke="#fff" stroke-width="0.5"/>
<line x1="142.82999999999998" y1="461.6" x2="142.82999999999998" y2="579.8" stroke="#fff" stroke-width="0.5"/>
<line x1="151.075" y1="461.6" x2="151.075" y2="579.8" stroke="#fff" stroke-width="0.5"/>
<line x1="159.32" y1="461.6" x2="159.32" y2="579.8" stroke="#fff" stroke-width="0.5"/>
<rect x="23.75" y="467.00" width="7.3" height="5.37" fill="#e41a1c"/>
<rect x="23.75" y="472.37" width="7.3" height="35.23" fill="#377eb8"/>
<rect x="23.75" y="507.60" width="7.3" height="63.37" fill="#4daf4a"/>
<rect x="23.75" y="570.96" width="7.3" height="3.44" fill="#984ea3"/>
<rect x="31.99" y="467.00" width="7.3" height="13.10" fill="#e41a1c"/>
<rect x="31.99" y="480.10" width="7.3" height="42.21" fill="#377eb8"/>
<rect x="31.99" y="522.31" width="7.3" height="46.61" fill="#4daf4a"/>
<rect x="31.99" y="568.92" width="7.3" height="5.48" fill="#984ea3"/>
<rect x="40.24" y="467.00" width="7.3" height="3.87" fill="#e41a1c"/>
<rect x="40.24" y="470.87" width="7.3" height="27.71" fill="#377eb8"/>
<rect x="40.24" y="498.58" width="7.3" height="70.35" fill="#4daf4a"/>
<rect x="40.24" y="568.92" width="7.3" height="5.48" fill="#984ea3"/>
<rect x="48.48" y="467.00" width="7.3" height="12.46" fill="#e41a1c"/>
<rect x="48.48" y="479.46" width="7.3" height="47.69" fill="#377eb8"/>
<rect x="48.48" y="527.14" width="7.3" height="37.80" fill="#4daf4a"/>
<rect x="48.48" y="564.95" width="7.3" height="9.45" fill="#984ea3"/>
<rect x="56.73" y="467.00" width="7.3" height="14.50" fill="#e41a1c"/>
<rect x="56.73" y="481.50" width="7.3" height="45.64" fill="#377eb8"/>
<rect x="56.73" y="527.14" width="7.3" height="40.38" fill="#4daf4a"/>
<rect x="56.73" y="567.53" width="7.3" height="6.87" fill="#984ea3"/>
<rect x="64.97" y="467.00" width="7.3" height="4.40" fill="#e41a1c"/>
<rect x="64.97" y="471.40" width="7.3" height="64.76" fill="#377eb8"/>
<rect x="64.97" y="536.17" width="7.3" height="34.26" fill="#4daf4a"/>
<rect x="64.97" y="570.43" width="7.3" height="3.97" fill="#984ea3"/>
<rect x="73.22" y="467.00" width="7.3" height="11.81" fill="#e41a1c"/>
<rect x="73.22" y="478.81" width="7.3" height="33.40" fill="#377eb8"/>
<rect x="73.22" y="512.22" width="7.3" height="62.18" fill="#4daf4a"/>
<rect x="81.46" y="467.00" width="7.3" height="10.85" fill="#e41a1c"/>
<rect x="81.46" y="477.85" width="7.3" height="16.75" fill="#377eb8"/>
<rect x="81.46" y="494.60" width="7.3" height="74.32" fill="#4daf4a"/>
<rect x="81.46" y="568.92" width="7.3" height="5.48" fill="#984ea3"/>
<rect x="89.71" y="467.00" width="7.3" height="10.85" fill="#e41a1c"/>
<rect x="89.71" y="477.85" width="7.3" height="50.91" fill="#377eb8"/>
<rect x="89.71" y="528.75" width="7.3" height="44.25" fill="#4daf4a"/>
<rect x="89.71" y="573.00" width="7.3" height="1.40" fill="#ff7f00"/>
<rect x="97.95" y="467.00" width="7.3" height="20.08" fill="#e41a1c"/>
<rect x="97.95" y="487.08" width="7.3" height="38.23" fill="#377eb8"/>
<rect x="97.95" y="525.32" width="7.3" height="45.64" fill="#4daf4a"/>
<rect x="97.95" y="570.96" width="7.3" height="3.44" fill="#984ea3"/>
<rect x="106.20" y="467.00" width="7.3" height="2.36" fill="#e41a1c"/>
<rect x="106.20" y="469.36" width="7.3" height="20.73" fill="#377eb8"/>
<rect x="106.20" y="490.09" width="7.3" height="78.83" fill="#4daf4a"/>
<rect x="106.20" y="568.92" width="7.3" height="5.48" fill="#984ea3"/>
<rect x="114.44" y="467.00" width="7.3" height="5.80" fill="#e41a1c"/>
<rect x="114.44" y="472.80" width="7.3" height="14.61" fill="#377eb8"/>
<rect x="114.44" y="487.41" width="7.3" height="80.55" fill="#4daf4a"/>
<rect x="114.44" y="567.96" width="7.3" height="6.44" fill="#984ea3"/>
<rect x="122.69" y="467.00" width="7.3" height="5.37" fill="#e41a1c"/>
<rect x="122.69" y="472.37" width="7.3" height="20.73" fill="#377eb8"/>
<rect x="122.69" y="493.10" width="7.3" height="78.94" fill="#4daf4a"/>
<rect x="122.69" y="572.04" width="7.3" height="2.36" fill="#984ea3"/>
<rect x="130.93" y="467.00" width="7.3" height="3.44" fill="#e41a1c"/>
<rect x="130.93" y="470.44" width="7.3" height="23.74" fill="#377eb8"/>
<rect x="130.93" y="494.17" width="7.3" height="73.35" fill="#4daf4a"/>
<rect x="130.93" y="567.53" width="7.3" height="6.87" fill="#984ea3"/>
<rect x="139.18" y="467.00" width="7.3" height="2.79" fill="#e41a1c"/>
<rect x="139.18" y="469.79" width="7.3" height="25.78" fill="#377eb8"/>
<rect x="139.18" y="495.57" width="7.3" height="72.39" fill="#4daf4a"/>
<rect x="139.18" y="567.96" width="7.3" height="6.44" fill="#984ea3"/>
<rect x="147.42" y="467.00" width="7.3" height="2.04" fill="#e41a1c"/>
<rect x="147.42" y="469.04" width="7.3" height="21.48" fill="#377eb8"/>
<rect x="147.42" y="490.52" width="7.3" height="83.88" fill="#4daf4a"/>
<rect x="155.67" y="467.00" width="7.3" height="3.87" fill="#e41a1c"/>
<rect x="155.67" y="470.87" width="7.3" height="20.30" fill="#377eb8"/>
<rect x="155.67" y="491.17" width="7.3" height="80.23" fill="#4daf4a"/>
<rect x="155.67" y="571.39" width="7.3" height="3.01" fill="#984ea3"/>
<line x1="20.6" y1="574.4" x2="22.5" y2="574.4" stroke="#333" stroke-width="0.5"/>
<text x="19.6" y="576.3" font-size="5.4" fill="#4d4d4d" text-anchor="end">0%</text>
<line x1="20.6" y1="547.55" x2="22.5" y2="547.55" stroke="#333" stroke-width="0.5"/>
<text x="19.6" y="549.4499999999999" font-size="5.4" fill="#4d4d4d" text-anchor="end">25%</text>
<line x1="20.6" y1="520.7" x2="22.5" y2="520.7" stroke="#333" stroke-width="0.5"/>
<text x="19.6" y="522.6" font-size="5.4" fill="#4d4d4d" text-anchor="end">50%</text>
<line x1="20.6" y1="493.85" x2="22.5" y2="493.85" stroke="#333" stroke-width="0.5"/>
<text x="19.6" y="495.75" font-size="5.4" fill="#4d4d4d" text-anchor="end">75%</text>
<line x1="20.6" y1="467.0" x2="22.5" y2="467.0" stroke="#333" stroke-width="0.5"/>
<text x="19.6" y="468.9" font-size="5.4" fill="#4d4d4d" text-anchor="end">100%</text>
<line x1="27.4" y1="579.8" x2="27.4" y2="581.6999999999999" stroke="#333" stroke-width="0.5"/>
<text x="30.20" y="586.50" font-size="5.1" fill="#4d4d4d" stroke="#4d4d4d" stroke-width="0.12" text-anchor="end" transform="rotate(-45 30.20 586.50)">PMC</text>
<line x1="35.644999999999996" y1="579.8" x2="35.644999999999996" y2="581.6999999999999" stroke="#333" stroke-width="0.5"/>
<text x="38.44" y="586.50" font-size="5.1" fill="#4d4d4d" stroke="#4d4d4d" stroke-width="0.12" text-anchor="end" transform="rotate(-45 38.44 586.50)">GMC</text>
<line x1="43.89" y1="579.8" x2="43.89" y2="581.6999999999999" stroke="#333" stroke-width="0.5"/>
<text x="46.69" y="586.50" font-size="5.1" fill="#4d4d4d" stroke="#4d4d4d" stroke-width="0.12" text-anchor="end" transform="rotate(-45 46.69 586.50)">Enteroendocrine</text>
<line x1="52.135" y1="579.8" x2="52.135" y2="581.6999999999999" stroke="#333" stroke-width="0.5"/>
<text x="54.93" y="586.50" font-size="5.1" fill="#4d4d4d" stroke="#4d4d4d" stroke-width="0.12" text-anchor="end" transform="rotate(-45 54.93 586.50)">Neck−like</text>
<line x1="60.379999999999995" y1="579.8" x2="60.379999999999995" y2="581.6999999999999" stroke="#333" stroke-width="0.5"/>
<text x="63.18" y="586.50" font-size="5.1" fill="#4d4d4d" stroke="#4d4d4d" stroke-width="0.12" text-anchor="end" transform="rotate(-45 63.18 586.50)">Chief</text>
<line x1="68.625" y1="579.8" x2="68.625" y2="581.6999999999999" stroke="#333" stroke-width="0.5"/>
<text x="71.42" y="586.50" font-size="5.1" fill="#4d4d4d" stroke="#4d4d4d" stroke-width="0.12" text-anchor="end" transform="rotate(-45 71.42 586.50)">PC</text>
<line x1="76.87" y1="579.8" x2="76.87" y2="581.6999999999999" stroke="#333" stroke-width="0.5"/>
<text x="79.67" y="586.50" font-size="5.1" fill="#4d4d4d" stroke="#4d4d4d" stroke-width="0.12" text-anchor="end" transform="rotate(-45 79.67 586.50)">Goblet</text>
<line x1="85.115" y1="579.8" x2="85.115" y2="581.6999999999999" stroke="#333" stroke-width="0.5"/>
<text x="87.91" y="586.50" font-size="5.1" fill="#4d4d4d" stroke="#4d4d4d" stroke-width="0.12" text-anchor="end" transform="rotate(-45 87.91 586.50)">Enterocytes</text>
<line x1="93.35999999999999" y1="579.8" x2="93.35999999999999" y2="581.6999999999999" stroke="#333" stroke-width="0.5"/>
<text x="96.16" y="586.50" font-size="5.1" fill="#4d4d4d" stroke="#4d4d4d" stroke-width="0.12" text-anchor="end" transform="rotate(-45 96.16 586.50)">MSCs</text>
<line x1="101.60499999999999" y1="579.8" x2="101.60499999999999" y2="581.6999999999999" stroke="#333" stroke-width="0.5"/>
<text x="104.40" y="586.50" font-size="5.1" fill="#4d4d4d" stroke="#4d4d4d" stroke-width="0.12" text-anchor="end" transform="rotate(-45 104.40 586.50)">Cancer</text>
<line x1="109.85" y1="579.8" x2="109.85" y2="581.6999999999999" stroke="#333" stroke-width="0.5"/>
<text x="112.65" y="586.50" font-size="5.1" fill="#4d4d4d" stroke="#4d4d4d" stroke-width="0.12" text-anchor="end" transform="rotate(-45 112.65 586.50)">T cells</text>
<line x1="118.095" y1="579.8" x2="118.095" y2="581.6999999999999" stroke="#333" stroke-width="0.5"/>
<text x="120.89" y="586.50" font-size="5.1" fill="#4d4d4d" stroke="#4d4d4d" stroke-width="0.12" text-anchor="end" transform="rotate(-45 120.89 586.50)">B cells</text>
<line x1="126.34" y1="579.8" x2="126.34" y2="581.6999999999999" stroke="#333" stroke-width="0.5"/>
<text x="129.14" y="586.50" font-size="5.1" fill="#4d4d4d" stroke="#4d4d4d" stroke-width="0.12" text-anchor="end" transform="rotate(-45 129.14 586.50)">Endothelial</text>
<line x1="134.58499999999998" y1="579.8" x2="134.58499999999998" y2="581.6999999999999" stroke="#333" stroke-width="0.5"/>
<text x="137.38" y="586.50" font-size="5.1" fill="#4d4d4d" stroke="#4d4d4d" stroke-width="0.12" text-anchor="end" transform="rotate(-45 137.38 586.50)">Macrophages</text>
<line x1="142.82999999999998" y1="579.8" x2="142.82999999999998" y2="581.6999999999999" stroke="#333" stroke-width="0.5"/>
<text x="145.63" y="586.50" font-size="5.1" fill="#4d4d4d" stroke="#4d4d4d" stroke-width="0.12" text-anchor="end" transform="rotate(-45 145.63 586.50)">Mast</text>
<line x1="151.075" y1="579.8" x2="151.075" y2="581.6999999999999" stroke="#333" stroke-width="0.5"/>
<text x="153.88" y="586.50" font-size="5.1" fill="#4d4d4d" stroke="#4d4d4d" stroke-width="0.12" text-anchor="end" transform="rotate(-45 153.88 586.50)">SMC</text>
<line x1="159.32" y1="579.8" x2="159.32" y2="581.6999999999999" stroke="#333" stroke-width="0.5"/>
<text x="162.12" y="586.50" font-size="5.1" fill="#4d4d4d" stroke="#4d4d4d" stroke-width="0.12" text-anchor="end" transform="rotate(-45 162.12 586.50)">Fibroblast</text>
<text x="176.4" y="494.2" font-size="7" fill="#222">Class</text>
<rect x="176.4" y="498.60" width="10.4" height="10.40" fill="#e41a1c"/>
<text x="190.60000000000002" y="505.80" font-size="5.6" fill="#333">LTR</text>
<rect x="176.4" y="509.60" width="10.4" height="10.40" fill="#377eb8"/>
<text x="190.60000000000002" y="516.80" font-size="5.6" fill="#333">LINE</text>
<rect x="176.4" y="520.60" width="10.4" height="10.40" fill="#4daf4a"/>
<text x="190.60000000000002" y="527.80" font-size="5.6" fill="#333">SINE</text>
<rect x="176.4" y="531.60" width="10.4" height="10.40" fill="#984ea3"/>
<text x="190.60000000000002" y="538.80" font-size="5.6" fill="#333">DNA</text>
<rect x="176.4" y="542.60" width="10.4" height="10.40" fill="#ff7f00"/>
<text x="190.60000000000002" y="549.80" font-size="5.6" fill="#333">RC</text>
<path d="M283.5 253.9h0M283.5 257.9h0M283.5 261.8h0M283.5 265.8h0M283.5 269.7h0M293.5 273.7h0M293.5 277.7h0M293.5 281.6h0M293.5 285.6h0M293.5 289.5h0M303.5 293.5h0M303.5 297.4h0M303.5 301.4h0M303.5 305.4h0M303.5 309.3h0M313.6 313.3h0M313.6 317.2h0M313.6 321.2h0M313.6 325.2h0M313.6 329.1h0M323.6 333.1h0M323.6 337.0h0M323.6 341.0h0M323.6 345.0h0M323.6 348.9h0M353.6 388.5h0M373.7 388.5h0M353.6 392.5h0M353.6 396.4h0M353.6 400.4h0M353.6 404.3h0M363.7 408.3h0M363.7 412.3h0M363.7 416.2h0M363.7 420.2h0M363.7 424.1h0M373.7 428.1h0M373.7 432.1h0M373.7 436.0h0M373.7 440.0h0M373.7 443.9h0M383.7 447.9h0M383.7 451.9h0M383.7 455.8h0M383.7 459.8h0M383.7 463.7h0M393.7 467.7h0M393.7 471.6h0M393.7 475.6h0M393.7 479.6h0M393.7 483.5h0M403.7 487.5h0M403.7 491.4h0M443.8 491.4h0M403.7 495.4h0M403.7 499.4h0M403.7 503.3h0M413.8 507.3h0M413.8 511.2h0M413.8 515.2h0M413.8 519.2h0M413.8 523.1h0M423.8 527.1h0M423.8 531.0h0M423.8 535.0h0M423.8 538.9h0M423.8 542.9h0M433.8 546.9h0M433.8 550.8h0M433.8 554.8h0M433.8 558.7h0M443.8 566.7h0M443.8 570.6h0M443.8 574.6h0M443.8 578.5h0M443.8 582.5h0" stroke="#0000ff" stroke-width="4.50" stroke-linecap="round" fill="none"/>
<path d="M293.5 253.9h0M313.6 253.9h0M343.6 253.9h0M363.7 253.9h0M303.5 257.9h0M313.6 257.9h0M333.6 257.9h0M373.7 257.9h0M413.8 257.9h0M363.7 261.8h0M293.5 265.8h0M313.6 265.8h0M333.6 265.8h0M343.6 265.8h0M373.7 265.8h0M323.6 269.7h0M343.6 269.7h0M353.6 269.7h0M363.7 269.7h0M353.6 273.7h0M323.6 277.7h0M333.6 277.7h0M363.7 277.7h0M373.7 277.7h0M343.6 281.6h0M363.7 281.6h0M373.7 281.6h0M383.7 281.6h0M393.7 281.6h0M403.7 281.6h0M413.8 281.6h0M423.8 281.6h0M433.8 281.6h0M443.8 281.6h0M383.7 289.5h0M283.5 293.5h0M313.6 293.5h0M333.6 293.5h0M373.7 293.5h0M413.8 293.5h0M423.8 293.5h0M443.8 293.5h0M283.5 301.4h0M293.5 301.4h0M313.6 301.4h0M323.6 301.4h0M333.6 301.4h0M363.7 301.4h0M373.7 301.4h0M383.7 301.4h0M403.7 301.4h0M413.8 301.4h0M423.8 301.4h0M433.8 301.4h0M443.8 301.4h0M293.5 309.3h0M313.6 309.3h0M333.6 309.3h0M363.7 309.3h0M373.7 309.3h0M383.7 309.3h0M393.7 309.3h0M403.7 309.3h0M413.8 309.3h0M423.8 309.3h0M433.8 309.3h0M443.8 309.3h0M353.6 317.2h0M433.8 321.2h0M293.5 333.1h0M333.6 333.1h0M363.7 333.1h0M283.5 337.0h0M313.6 337.0h0M333.6 337.0h0M363.7 337.0h0M393.7 337.0h0M433.8 337.0h0M443.8 337.0h0M283.5 352.9h0M293.5 352.9h0M303.5 352.9h0M313.6 352.9h0M343.6 352.9h0M373.7 352.9h0M383.7 352.9h0M403.7 352.9h0M363.7 356.8h0M373.7 356.8h0M383.7 356.8h0M403.7 356.8h0M413.8 356.8h0M293.5 360.8h0M383.7 360.8h0M393.7 360.8h0M403.7 360.8h0M413.8 360.8h0M423.8 360.8h0M433.8 360.8h0M443.8 360.8h0M283.5 364.8h0M323.6 364.8h0M353.6 364.8h0M393.7 364.8h0M403.7 364.8h0M413.8 364.8h0M433.8 364.8h0M443.8 364.8h0M363.7 368.7h0M373.7 372.7h0M373.7 376.6h0M413.8 380.6h0M433.8 380.6h0M363.7 384.5h0M373.7 384.5h0M283.5 388.5h0M293.5 388.5h0M303.5 388.5h0M313.6 388.5h0M323.6 388.5h0M333.6 388.5h0M383.7 388.5h0M393.7 388.5h0M403.7 388.5h0M413.8 388.5h0M423.8 388.5h0M433.8 388.5h0M443.8 388.5h0M383.7 392.5h0M393.7 392.5h0M403.7 392.5h0M413.8 392.5h0M423.8 392.5h0M433.8 392.5h0M443.8 392.5h0M403.7 396.4h0M423.8 396.4h0M443.8 396.4h0M283.5 400.4h0M293.5 400.4h0M303.5 400.4h0M313.6 400.4h0M323.6 400.4h0M333.6 400.4h0M383.7 400.4h0M403.7 400.4h0M413.8 400.4h0M423.8 400.4h0M443.8 400.4h0M283.5 404.3h0M293.5 404.3h0M313.6 404.3h0M323.6 404.3h0M333.6 404.3h0M383.7 404.3h0M403.7 404.3h0M413.8 404.3h0M423.8 404.3h0M433.8 404.3h0M443.8 404.3h0M383.7 428.1h0M403.7 428.1h0M413.8 428.1h0M423.8 428.1h0M443.8 428.1h0M383.7 432.1h0M393.7 432.1h0M403.7 432.1h0M413.8 432.1h0M423.8 432.1h0M433.8 432.1h0M443.8 432.1h0M283.5 436.0h0M303.5 436.0h0M383.7 436.0h0M393.7 436.0h0M403.7 436.0h0M413.8 436.0h0M423.8 436.0h0M433.8 436.0h0M443.8 436.0h0M293.5 440.0h0M313.6 440.0h0M333.6 440.0h0M343.6 440.0h0M383.7 440.0h0M393.7 440.0h0M403.7 440.0h0M413.8 440.0h0M423.8 440.0h0M443.8 440.0h0M303.5 443.9h0M383.7 443.9h0M393.7 443.9h0M403.7 443.9h0M413.8 443.9h0M423.8 443.9h0M433.8 443.9h0M443.8 443.9h0M293.5 447.9h0M313.6 447.9h0M323.6 447.9h0M333.6 447.9h0M343.6 447.9h0M363.7 447.9h0M423.8 447.9h0M293.5 451.9h0M323.6 451.9h0M333.6 451.9h0M363.7 451.9h0M423.8 451.9h0M303.5 455.8h0M363.7 455.8h0M373.7 455.8h0M393.7 455.8h0M403.7 455.8h0M413.8 455.8h0M423.8 455.8h0M433.8 455.8h0M443.8 455.8h0M303.5 459.8h0M393.7 459.8h0M413.8 459.8h0M303.5 463.7h0M363.7 463.7h0M433.8 463.7h0M443.8 463.7h0M283.5 467.7h0M293.5 467.7h0M303.5 467.7h0M313.6 467.7h0M323.6 467.7h0M333.6 467.7h0M343.6 467.7h0M353.6 467.7h0M363.7 467.7h0M373.7 467.7h0M403.7 467.7h0M413.8 467.7h0M433.8 467.7h0M443.8 467.7h0M303.5 475.6h0M333.6 475.6h0M343.6 475.6h0M363.7 475.6h0M373.7 475.6h0M383.7 475.6h0M403.7 475.6h0M413.8 475.6h0M423.8 475.6h0M433.8 475.6h0M443.8 475.6h0M283.5 479.6h0M293.5 479.6h0M303.5 479.6h0M313.6 479.6h0M323.6 479.6h0M333.6 479.6h0M343.6 479.6h0M363.7 479.6h0M373.7 479.6h0M383.7 479.6h0M403.7 479.6h0M413.8 479.6h0M423.8 479.6h0M433.8 479.6h0M443.8 479.6h0M303.5 483.5h0M343.6 483.5h0M373.7 483.5h0M413.8 483.5h0M433.8 483.5h0M343.6 487.5h0M363.7 487.5h0M373.7 487.5h0M413.8 487.5h0M433.8 487.5h0M443.8 487.5h0M323.6 491.4h0M383.7 491.4h0M393.7 491.4h0M283.5 495.4h0M293.5 495.4h0M303.5 495.4h0M313.6 495.4h0M323.6 495.4h0M333.6 495.4h0M343.6 495.4h0M353.6 495.4h0M363.7 495.4h0M373.7 495.4h0M383.7 495.4h0M393.7 495.4h0M413.8 495.4h0M433.8 495.4h0M383.7 499.4h0M393.7 499.4h0M383.7 503.3h0M433.8 503.3h0M283.5 511.2h0M293.5 511.2h0M303.5 511.2h0M313.6 511.2h0M333.6 511.2h0M343.6 511.2h0M353.6 511.2h0M363.7 511.2h0M373.7 511.2h0M403.7 511.2h0M443.8 511.2h0M283.5 515.2h0M293.5 515.2h0M313.6 515.2h0M323.6 515.2h0M333.6 515.2h0M353.6 515.2h0M373.7 515.2h0M383.7 515.2h0M393.7 515.2h0M403.7 515.2h0M423.8 515.2h0M433.8 515.2h0M443.8 515.2h0M293.5 519.2h0M303.5 519.2h0M313.6 519.2h0M333.6 519.2h0M363.7 519.2h0M443.8 523.1h0M283.5 531.0h0M293.5 531.0h0M303.5 531.0h0M313.6 531.0h0M323.6 531.0h0M333.6 531.0h0M343.6 531.0h0M353.6 531.0h0M363.7 531.0h0M373.7 531.0h0M403.7 531.0h0M413.8 531.0h0M433.8 531.0h0M443.8 531.0h0M413.8 535.0h0M313.6 542.9h0M333.6 542.9h0M363.7 542.9h0M293.5 546.9h0M303.5 546.9h0M313.6 546.9h0M323.6 546.9h0M333.6 546.9h0M363.7 546.9h0M373.7 546.9h0M383.7 546.9h0M393.7 546.9h0M403.7 546.9h0M413.8 546.9h0M443.8 546.9h0M293.5 550.8h0M303.5 550.8h0M313.6 550.8h0M333.6 550.8h0M383.7 550.8h0M393.7 550.8h0M403.7 550.8h0M383.7 554.8h0M413.8 554.8h0M283.5 558.7h0M383.7 558.7h0M393.7 558.7h0M413.8 558.7h0M443.8 558.7h0M283.5 562.7h0M313.6 562.7h0M333.6 562.7h0M343.6 562.7h0M373.7 562.7h0M383.7 562.7h0M393.7 562.7h0M413.8 562.7h0M423.8 562.7h0M283.5 566.7h0M303.5 566.7h0M313.6 566.7h0M323.6 566.7h0M333.6 566.7h0M343.6 566.7h0M363.7 566.7h0M373.7 566.7h0M383.7 566.7h0M393.7 566.7h0M403.7 566.7h0M413.8 566.7h0M423.8 566.7h0M433.8 566.7h0M283.5 570.6h0M303.5 570.6h0M313.6 570.6h0M333.6 570.6h0M343.6 570.6h0M363.7 570.6h0M373.7 570.6h0M383.7 570.6h0M403.7 570.6h0M413.8 570.6h0M423.8 570.6h0M283.5 574.6h0M293.5 574.6h0M303.5 574.6h0M313.6 574.6h0M323.6 574.6h0M333.6 574.6h0M343.6 574.6h0M363.7 574.6h0M373.7 574.6h0M383.7 574.6h0M403.7 574.6h0M413.8 574.6h0M423.8 574.6h0M283.5 578.5h0M303.5 578.5h0M313.6 578.5h0M333.6 578.5h0M343.6 578.5h0M363.7 578.5h0M373.7 578.5h0M383.7 578.5h0M393.7 578.5h0M403.7 578.5h0M423.8 578.5h0M433.8 578.5h0M283.5 582.5h0M293.5 582.5h0M303.5 582.5h0M313.6 582.5h0M323.6 582.5h0M333.6 582.5h0M343.6 582.5h0M363.7 582.5h0M373.7 582.5h0M383.7 582.5h0M403.7 582.5h0M413.8 582.5h0M433.8 582.5h0" stroke="#a684e9" stroke-width="2.24" stroke-linecap="round" fill="none"/>
<path d="M303.5 253.9h0M323.6 253.9h0M353.6 253.9h0M383.7 253.9h0M393.7 253.9h0M403.7 253.9h0M413.8 253.9h0M423.8 253.9h0M433.8 253.9h0M443.8 253.9h0M293.5 257.9h0M323.6 257.9h0M343.6 257.9h0M363.7 257.9h0M383.7 257.9h0M393.7 257.9h0M403.7 257.9h0M423.8 257.9h0M433.8 257.9h0M443.8 257.9h0M303.5 261.8h0M323.6 261.8h0M383.7 261.8h0M393.7 261.8h0M403.7 261.8h0M413.8 261.8h0M423.8 261.8h0M433.8 261.8h0M443.8 261.8h0M303.5 265.8h0M323.6 265.8h0M353.6 265.8h0M363.7 265.8h0M383.7 265.8h0M393.7 265.8h0M403.7 265.8h0M413.8 265.8h0M423.8 265.8h0M433.8 265.8h0M443.8 265.8h0M303.5 269.7h0M383.7 269.7h0M393.7 269.7h0M403.7 269.7h0M413.8 269.7h0M423.8 269.7h0M433.8 269.7h0M443.8 269.7h0M283.5 277.7h0M303.5 277.7h0M343.6 277.7h0M353.6 277.7h0M383.7 277.7h0M393.7 277.7h0M403.7 277.7h0M413.8 277.7h0M423.8 277.7h0M433.8 277.7h0M443.8 277.7h0M353.6 281.6h0M353.6 289.5h0M323.6 293.5h0M343.6 293.5h0M353.6 293.5h0M363.7 293.5h0M383.7 293.5h0M393.7 293.5h0M403.7 293.5h0M433.8 293.5h0M283.5 297.4h0M293.5 297.4h0M313.6 297.4h0M323.6 297.4h0M333.6 297.4h0M343.6 297.4h0M353.6 297.4h0M363.7 297.4h0M373.7 297.4h0M383.7 297.4h0M393.7 297.4h0M403.7 297.4h0M413.8 297.4h0M423.8 297.4h0M433.8 297.4h0M443.8 297.4h0M343.6 301.4h0M353.6 301.4h0M393.7 301.4h0M283.5 309.3h0M323.6 309.3h0M343.6 309.3h0M353.6 309.3h0M283.5 333.1h0M303.5 333.1h0M313.6 333.1h0M343.6 333.1h0M353.6 333.1h0M373.7 333.1h0M383.7 333.1h0M393.7 333.1h0M403.7 333.1h0M413.8 333.1h0M423.8 333.1h0M433.8 333.1h0M443.8 333.1h0M303.5 337.0h0M343.6 337.0h0M383.7 337.0h0M403.7 337.0h0M413.8 337.0h0M423.8 337.0h0M353.6 345.0h0M323.6 352.9h0M353.6 352.9h0M393.7 352.9h0M413.8 352.9h0M423.8 352.9h0M433.8 352.9h0M443.8 352.9h0M283.5 356.8h0M293.5 356.8h0M303.5 356.8h0M313.6 356.8h0M323.6 356.8h0M343.6 356.8h0M353.6 356.8h0M393.7 356.8h0M423.8 356.8h0M433.8 356.8h0M443.8 356.8h0M283.5 360.8h0M303.5 360.8h0M313.6 360.8h0M323.6 360.8h0M343.6 360.8h0M353.6 360.8h0M283.5 368.7h0M293.5 368.7h0M303.5 368.7h0M313.6 368.7h0M323.6 368.7h0M333.6 368.7h0M353.6 368.7h0M383.7 368.7h0M393.7 368.7h0M403.7 368.7h0M413.8 368.7h0M423.8 368.7h0M433.8 368.7h0M443.8 368.7h0M283.5 372.7h0M293.5 372.7h0M303.5 372.7h0M313.6 372.7h0M323.6 372.7h0M333.6 372.7h0M353.6 372.7h0M363.7 372.7h0M383.7 372.7h0M393.7 372.7h0M403.7 372.7h0M413.8 372.7h0M423.8 372.7h0M433.8 372.7h0M443.8 372.7h0M283.5 376.6h0M293.5 376.6h0M303.5 376.6h0M313.6 376.6h0M323.6 376.6h0M333.6 376.6h0M353.6 376.6h0M363.7 376.6h0M383.7 376.6h0M393.7 376.6h0M403.7 376.6h0M413.8 376.6h0M423.8 376.6h0M433.8 376.6h0M443.8 376.6h0M283.5 384.5h0M293.5 384.5h0M303.5 384.5h0M313.6 384.5h0M323.6 384.5h0M333.6 384.5h0M353.6 384.5h0M383.7 384.5h0M393.7 384.5h0M403.7 384.5h0M413.8 384.5h0M423.8 384.5h0M433.8 384.5h0M443.8 384.5h0M303.5 404.3h0M393.7 428.1h0M283.5 440.0h0M303.5 440.0h0M323.6 440.0h0M283.5 447.9h0M353.6 447.9h0M373.7 447.9h0M283.5 451.9h0M313.6 451.9h0M343.6 451.9h0M353.6 451.9h0M373.7 451.9h0M283.5 455.8h0M293.5 455.8h0M313.6 455.8h0M323.6 455.8h0M333.6 455.8h0M343.6 455.8h0M353.6 455.8h0M283.5 459.8h0M293.5 459.8h0M313.6 459.8h0M323.6 459.8h0M333.6 459.8h0M343.6 459.8h0M353.6 459.8h0M363.7 459.8h0M373.7 459.8h0M403.7 459.8h0M423.8 459.8h0M433.8 459.8h0M443.8 459.8h0M283.5 463.7h0M293.5 463.7h0M313.6 463.7h0M323.6 463.7h0M333.6 463.7h0M343.6 463.7h0M353.6 463.7h0M373.7 463.7h0M403.7 463.7h0M423.8 463.7h0M383.7 467.7h0M423.8 467.7h0M283.5 475.6h0M293.5 475.6h0M313.6 475.6h0M323.6 475.6h0M353.6 475.6h0M353.6 479.6h0M283.5 483.5h0M293.5 483.5h0M313.6 483.5h0M323.6 483.5h0M333.6 483.5h0M353.6 483.5h0M363.7 483.5h0M383.7 483.5h0M403.7 483.5h0M423.8 483.5h0M443.8 483.5h0M283.5 487.5h0M293.5 487.5h0M303.5 487.5h0M313.6 487.5h0M323.6 487.5h0M333.6 487.5h0M353.6 487.5h0M393.7 487.5h0M423.8 487.5h0M423.8 491.4h0M423.8 495.4h0M283.5 499.4h0M293.5 499.4h0M303.5 499.4h0M313.6 499.4h0M323.6 499.4h0M333.6 499.4h0M343.6 499.4h0M353.6 499.4h0M363.7 499.4h0M373.7 499.4h0M413.8 499.4h0M423.8 499.4h0M283.5 503.3h0M293.5 503.3h0M303.5 503.3h0M313.6 503.3h0M323.6 503.3h0M333.6 503.3h0M343.6 503.3h0M353.6 503.3h0M363.7 503.3h0M373.7 503.3h0M393.7 503.3h0M413.8 503.3h0M423.8 503.3h0M323.6 511.2h0M383.7 511.2h0M393.7 511.2h0M423.8 511.2h0M433.8 511.2h0M283.5 519.2h0M323.6 519.2h0M343.6 519.2h0M353.6 519.2h0M373.7 519.2h0M383.7 519.2h0M393.7 519.2h0M403.7 519.2h0M423.8 519.2h0M433.8 519.2h0M443.8 519.2h0M283.5 523.1h0M293.5 523.1h0M303.5 523.1h0M313.6 523.1h0M323.6 523.1h0M333.6 523.1h0M343.6 523.1h0M353.6 523.1h0M363.7 523.1h0M373.7 523.1h0M383.7 523.1h0M393.7 523.1h0M423.8 523.1h0M433.8 523.1h0M283.5 527.1h0M293.5 527.1h0M303.5 527.1h0M313.6 527.1h0M323.6 527.1h0M333.6 527.1h0M343.6 527.1h0M353.6 527.1h0M363.7 527.1h0M373.7 527.1h0M383.7 527.1h0M393.7 527.1h0M403.7 527.1h0M413.8 527.1h0M433.8 527.1h0M443.8 527.1h0M283.5 535.0h0M293.5 535.0h0M303.5 535.0h0M313.6 535.0h0M323.6 535.0h0M333.6 535.0h0M343.6 535.0h0M353.6 535.0h0M363.7 535.0h0M373.7 535.0h0M393.7 535.0h0M403.7 535.0h0M433.8 535.0h0M443.8 535.0h0M283.5 542.9h0M343.6 542.9h0M353.6 542.9h0M373.7 542.9h0M383.7 542.9h0M393.7 542.9h0M403.7 542.9h0M413.8 542.9h0M283.5 546.9h0M343.6 546.9h0M353.6 546.9h0M423.8 546.9h0M283.5 550.8h0M323.6 550.8h0M343.6 550.8h0M353.6 550.8h0M363.7 550.8h0M373.7 550.8h0M423.8 550.8h0M403.7 558.7h0M423.8 558.7h0M353.6 562.7h0M353.6 566.7h0M353.6 570.6h0M353.6 574.6h0M353.6 578.5h0M353.6 582.5h0" stroke="#a886e8" stroke-width="1.60" stroke-linecap="round" fill="none"/>
<path d="M333.6 253.9h0M353.6 257.9h0M313.6 261.8h0M353.6 261.8h0M313.6 269.7h0M333.6 269.7h0M313.6 277.7h0M283.5 281.6h0M303.5 281.6h0M383.7 285.6h0M333.6 289.5h0M423.8 289.5h0M423.8 317.2h0M353.6 337.0h0M373.7 337.0h0M283.5 341.0h0M433.8 345.0h0M363.7 352.9h0M363.7 360.8h0M373.7 360.8h0M293.5 364.8h0M303.5 364.8h0M313.6 364.8h0M343.6 364.8h0M363.7 364.8h0M383.7 364.8h0M423.8 364.8h0M373.7 368.7h0M323.6 380.6h0M353.6 380.6h0M363.7 380.6h0M383.7 380.6h0M393.7 380.6h0M403.7 380.6h0M423.8 380.6h0M443.8 380.6h0M393.7 400.4h0M433.8 400.4h0M393.7 404.3h0M423.8 420.2h0M283.5 428.1h0M313.6 428.1h0M433.8 428.1h0M283.5 432.1h0M313.6 432.1h0M313.6 436.0h0M323.6 436.0h0M313.6 443.9h0M393.7 463.7h0M413.8 463.7h0M383.7 487.5h0M443.8 495.4h0M433.8 499.4h0M443.8 499.4h0M443.8 503.3h0M403.7 523.1h0M383.7 531.0h0M383.7 535.0h0M433.8 542.9h0M443.8 542.9h0M413.8 550.8h0M443.8 550.8h0M293.5 554.8h0M303.5 554.8h0M323.6 554.8h0M403.7 554.8h0M303.5 558.7h0M353.6 558.7h0M363.7 558.7h0M373.7 558.7h0M403.7 562.7h0M413.8 578.5h0M393.7 582.5h0M423.8 582.5h0" stroke="#8a61f1" stroke-width="3.30" stroke-linecap="round" fill="none"/>
<path d="M373.7 253.9h0M293.5 261.8h0M343.6 261.8h0M293.5 269.7h0M303.5 273.7h0M343.6 273.7h0M383.7 273.7h0M393.7 273.7h0M403.7 273.7h0M423.8 273.7h0M433.8 273.7h0M443.8 273.7h0M323.6 281.6h0M333.6 281.6h0M303.5 285.6h0M403.7 285.6h0M413.8 285.6h0M433.8 285.6h0M443.8 285.6h0M283.5 289.5h0M303.5 289.5h0M323.6 289.5h0M343.6 289.5h0M403.7 289.5h0M413.8 289.5h0M433.8 289.5h0M443.8 289.5h0M293.5 293.5h0M283.5 313.3h0M303.5 313.3h0M403.7 313.3h0M433.8 313.3h0M443.8 313.3h0M283.5 317.2h0M303.5 317.2h0M323.6 317.2h0M343.6 317.2h0M383.7 317.2h0M403.7 317.2h0M413.8 317.2h0M433.8 317.2h0M443.8 317.2h0M283.5 321.2h0M303.5 321.2h0M323.6 321.2h0M343.6 321.2h0M383.7 321.2h0M403.7 321.2h0M413.8 321.2h0M423.8 321.2h0M443.8 321.2h0M283.5 325.2h0M333.6 325.2h0M343.6 325.2h0M403.7 325.2h0M413.8 325.2h0M433.8 325.2h0M443.8 325.2h0M283.5 329.1h0M303.5 329.1h0M363.7 329.1h0M383.7 329.1h0M393.7 329.1h0M413.8 329.1h0M423.8 329.1h0M433.8 329.1h0M443.8 329.1h0M293.5 337.0h0M403.7 341.0h0M423.8 341.0h0M433.8 341.0h0M443.8 341.0h0M283.5 345.0h0M303.5 345.0h0M313.6 345.0h0M333.6 345.0h0M343.6 345.0h0M363.7 345.0h0M383.7 345.0h0M393.7 345.0h0M413.8 345.0h0M423.8 345.0h0M303.5 380.6h0M373.7 380.6h0M343.6 388.5h0M363.7 388.5h0M283.5 392.5h0M293.5 392.5h0M303.5 392.5h0M313.6 392.5h0M323.6 392.5h0M333.6 392.5h0M343.6 392.5h0M363.7 392.5h0M283.5 396.4h0M293.5 396.4h0M303.5 396.4h0M313.6 396.4h0M323.6 396.4h0M333.6 396.4h0M383.7 396.4h0M393.7 396.4h0M413.8 396.4h0M433.8 396.4h0M343.6 400.4h0M363.7 400.4h0M343.6 404.3h0M363.7 404.3h0M283.5 408.3h0M303.5 408.3h0M323.6 408.3h0M383.7 408.3h0M403.7 408.3h0M413.8 408.3h0M423.8 408.3h0M433.8 408.3h0M443.8 408.3h0M403.7 412.3h0M403.7 416.2h0M283.5 420.2h0M293.5 420.2h0M303.5 420.2h0M313.6 420.2h0M323.6 420.2h0M333.6 420.2h0M383.7 420.2h0M403.7 420.2h0M413.8 420.2h0M293.5 428.1h0M303.5 428.1h0M323.6 428.1h0M333.6 428.1h0M293.5 432.1h0M303.5 432.1h0M323.6 432.1h0M333.6 432.1h0M333.6 436.0h0M343.6 436.0h0M283.5 443.9h0M323.6 443.9h0M333.6 443.9h0M343.6 443.9h0M303.5 447.9h0M403.7 447.9h0M433.8 447.9h0M303.5 451.9h0M403.7 451.9h0M433.8 451.9h0M423.8 471.6h0M283.5 491.4h0M293.5 491.4h0M303.5 491.4h0M313.6 491.4h0M333.6 491.4h0M343.6 491.4h0M363.7 491.4h0M413.8 491.4h0M353.6 507.3h0M303.5 515.2h0M343.6 515.2h0M363.7 515.2h0M393.7 531.0h0M353.6 538.9h0M383.7 538.9h0M403.7 538.9h0M293.5 542.9h0M303.5 542.9h0M323.6 542.9h0M313.6 554.8h0M333.6 554.8h0M343.6 554.8h0M363.7 554.8h0M373.7 554.8h0M393.7 554.8h0M423.8 554.8h0M443.8 554.8h0M293.5 558.7h0M313.6 558.7h0M323.6 558.7h0M333.6 558.7h0M293.5 562.7h0M303.5 562.7h0M323.6 562.7h0M363.7 562.7h0M293.5 566.7h0M293.5 570.6h0M323.6 570.6h0M393.7 570.6h0M393.7 574.6h0M293.5 578.5h0M323.6 578.5h0" stroke="#a886e8" stroke-width="3.20" stroke-linecap="round" fill="none"/>
<path d="M333.6 261.8h0M373.7 261.8h0M373.7 269.7h0M313.6 273.7h0M313.6 281.6h0M313.6 285.6h0M323.6 285.6h0M363.7 285.6h0M423.8 285.6h0M313.6 289.5h0M383.7 305.4h0M403.7 305.4h0M413.8 305.4h0M433.8 305.4h0M443.8 305.4h0M293.5 313.3h0M323.6 313.3h0M333.6 313.3h0M363.7 313.3h0M383.7 313.3h0M423.8 313.3h0M293.5 317.2h0M333.6 317.2h0M363.7 317.2h0M293.5 321.2h0M333.6 321.2h0M363.7 321.2h0M293.5 325.2h0M323.6 325.2h0M363.7 325.2h0M383.7 325.2h0M423.8 325.2h0M293.5 329.1h0M323.6 329.1h0M333.6 329.1h0M403.7 329.1h0M293.5 341.0h0M313.6 341.0h0M333.6 341.0h0M363.7 341.0h0M383.7 341.0h0M413.8 341.0h0M403.7 345.0h0M443.8 345.0h0M383.7 348.9h0M403.7 348.9h0M413.8 348.9h0M433.8 348.9h0M443.8 348.9h0M373.7 364.8h0M373.7 392.5h0M373.7 396.4h0M373.7 400.4h0M373.7 404.3h0M313.6 408.3h0M373.7 408.3h0M293.5 412.3h0M313.6 412.3h0M323.6 412.3h0M373.7 412.3h0M293.5 416.2h0M313.6 416.2h0M343.6 416.2h0M373.7 416.2h0M423.8 416.2h0M343.6 420.2h0M353.6 420.2h0M373.7 420.2h0M433.8 420.2h0M443.8 420.2h0M293.5 424.1h0M313.6 424.1h0M323.6 424.1h0M343.6 424.1h0M373.7 424.1h0M423.8 424.1h0M343.6 428.1h0M353.6 428.1h0M363.7 428.1h0M343.6 432.1h0M353.6 432.1h0M363.7 432.1h0M353.6 436.0h0M363.7 436.0h0M413.8 447.9h0M443.8 447.9h0M393.7 451.9h0M413.8 451.9h0M443.8 451.9h0M353.6 491.4h0M433.8 491.4h0M293.5 507.3h0M313.6 507.3h0M323.6 507.3h0M363.7 507.3h0M323.6 538.9h0M363.7 538.9h0M413.8 538.9h0M433.8 562.7h0M443.8 562.7h0M433.8 570.6h0M433.8 574.6h0" stroke="#8a61f1" stroke-width="4.40" stroke-linecap="round" fill="none"/>
<path d="M283.5 273.7h0M323.6 273.7h0M333.6 273.7h0M363.7 273.7h0M373.7 273.7h0M413.8 273.7h0M333.6 285.6h0M343.6 285.6h0M373.7 285.6h0M363.7 289.5h0M373.7 289.5h0M283.5 305.4h0M293.5 305.4h0M313.6 305.4h0M323.6 305.4h0M333.6 305.4h0M343.6 305.4h0M353.6 305.4h0M363.7 305.4h0M373.7 305.4h0M393.7 305.4h0M423.8 305.4h0M343.6 313.3h0M373.7 313.3h0M413.8 313.3h0M373.7 317.2h0M373.7 321.2h0M303.5 325.2h0M373.7 325.2h0M343.6 329.1h0M373.7 329.1h0M303.5 341.0h0M343.6 341.0h0M373.7 341.0h0M393.7 341.0h0M293.5 345.0h0M373.7 345.0h0M283.5 348.9h0M293.5 348.9h0M303.5 348.9h0M313.6 348.9h0M333.6 348.9h0M343.6 348.9h0M363.7 348.9h0M373.7 348.9h0M393.7 348.9h0M423.8 348.9h0M343.6 396.4h0M363.7 396.4h0M293.5 408.3h0M333.6 408.3h0M343.6 408.3h0M393.7 408.3h0M303.5 412.3h0M333.6 412.3h0M343.6 412.3h0M383.7 412.3h0M393.7 412.3h0M413.8 412.3h0M423.8 412.3h0M433.8 412.3h0M443.8 412.3h0M303.5 416.2h0M323.6 416.2h0M333.6 416.2h0M383.7 416.2h0M393.7 416.2h0M413.8 416.2h0M433.8 416.2h0M443.8 416.2h0M333.6 424.1h0M383.7 424.1h0M403.7 424.1h0M413.8 424.1h0M433.8 424.1h0M443.8 424.1h0M393.7 447.9h0M283.5 471.6h0M293.5 471.6h0M303.5 471.6h0M313.6 471.6h0M323.6 471.6h0M333.6 471.6h0M343.6 471.6h0M353.6 471.6h0M363.7 471.6h0M373.7 471.6h0M383.7 471.6h0M403.7 471.6h0M413.8 471.6h0M433.8 471.6h0M443.8 471.6h0M373.7 491.4h0M283.5 507.3h0M303.5 507.3h0M333.6 507.3h0M343.6 507.3h0M373.7 507.3h0M383.7 507.3h0M393.7 507.3h0M403.7 507.3h0M423.8 507.3h0M433.8 507.3h0M443.8 507.3h0M283.5 538.9h0M293.5 538.9h0M303.5 538.9h0M313.6 538.9h0M333.6 538.9h0M343.6 538.9h0M373.7 538.9h0M433.8 538.9h0M443.8 538.9h0" stroke="#b498e4" stroke-width="4.40" stroke-linecap="round" fill="none"/>
<path d="M283.5 285.6h0M353.6 285.6h0M393.7 285.6h0M393.7 289.5h0M353.6 313.3h0M393.7 313.3h0M393.7 317.2h0M353.6 321.2h0M393.7 321.2h0M353.6 325.2h0M393.7 325.2h0M353.6 329.1h0M353.6 341.0h0M353.6 348.9h0M283.5 380.6h0M293.5 380.6h0M313.6 380.6h0M333.6 380.6h0M353.6 408.3h0M283.5 412.3h0M353.6 412.3h0M283.5 416.2h0M353.6 416.2h0M393.7 420.2h0M283.5 424.1h0M303.5 424.1h0M353.6 424.1h0M393.7 424.1h0M393.7 538.9h0M283.5 554.8h0M353.6 554.8h0" stroke="#ccc4d8" stroke-width="3.60" stroke-linecap="round" fill="none"/>
<path d="M333.6 352.9h0M333.6 356.8h0M333.6 360.8h0M333.6 364.8h0M343.6 368.7h0M343.6 372.7h0M343.6 376.6h0M343.6 380.6h0M343.6 384.5h0M293.5 436.0h0M353.6 440.0h0M363.7 440.0h0M433.8 440.0h0M293.5 443.9h0M353.6 443.9h0M363.7 443.9h0M343.6 558.7h0" stroke="#2710fe" stroke-width="3.30" stroke-linecap="round" fill="none"/>
<line x1="277.5" y1="250.6" x2="277.5" y2="585.2" stroke="#111" stroke-width="0.9"/>
<line x1="277.1" y1="585.0" x2="450.2" y2="585.0" stroke="#111" stroke-width="0.9"/>
<path d="M275.3 253.90H277.5M275.3 257.86H277.5M275.3 261.82H277.5M275.3 265.78H277.5M275.3 269.74H277.5M275.3 273.69H277.5M275.3 277.65H277.5M275.3 281.61H277.5M275.3 285.57H277.5M275.3 289.53H277.5M275.3 293.49H277.5M275.3 297.45H277.5M275.3 301.41H277.5M275.3 305.37H277.5M275.3 309.33H277.5M275.3 313.29H277.5M275.3 317.24H277.5M275.3 321.20H277.5M275.3 325.16H277.5M275.3 329.12H277.5M275.3 333.08H277.5M275.3 337.04H277.5M275.3 341.00H277.5M275.3 344.96H277.5M275.3 348.92H277.5M275.3 352.88H277.5M275.3 356.83H277.5M275.3 360.79H277.5M275.3 364.75H277.5M275.3 368.71H277.5M275.3 372.67H277.5M275.3 376.63H277.5M275.3 380.59H277.5M275.3 384.55H277.5M275.3 388.51H277.5M275.3 392.47H277.5M275.3 396.42H277.5M275.3 400.38H277.5M275.3 404.34H277.5M275.3 408.30H277.5M275.3 412.26H277.5M275.3 416.22H277.5M275.3 420.18H277.5M275.3 424.14H277.5M275.3 428.10H277.5M275.3 432.06H277.5M275.3 436.01H277.5M275.3 439.97H277.5M275.3 443.93H277.5M275.3 447.89H277.5M275.3 451.85H277.5M275.3 455.81H277.5M275.3 459.77H277.5M275.3 463.73H277.5M275.3 467.69H277.5M275.3 471.64H277.5M275.3 475.60H277.5M275.3 479.56H277.5M275.3 483.52H277.5M275.3 487.48H277.5M275.3 491.44H277.5M275.3 495.40H277.5M275.3 499.36H277.5M275.3 503.32H277.5M275.3 507.28H277.5M275.3 511.24H277.5M275.3 515.19H277.5M275.3 519.15H277.5M275.3 523.11H277.5M275.3 527.07H277.5M275.3 531.03H277.5M275.3 534.99H277.5M275.3 538.95H277.5M275.3 542.91H277.5M275.3 546.87H277.5M275.3 550.83H277.5M275.3 554.78H277.5M275.3 558.74H277.5M275.3 562.70H277.5M275.3 566.66H277.5M275.3 570.62H277.5M275.3 574.58H277.5M275.3 578.54H277.5M275.3 582.50H277.5" stroke="#111" stroke-width="0.8"/>
<path d="M283.50 585V587M293.52 585V587M303.54 585V587M313.56 585V587M323.58 585V587M333.60 585V587M343.62 585V587M353.64 585V587M363.66 585V587M373.68 585V587M383.70 585V587M393.72 585V587M403.74 585V587M413.76 585V587M423.78 585V587M433.80 585V587M443.82 585V587" stroke="#111" stroke-width="0.8"/>
<text x="273.4" y="255.30" font-size="3.75" font-style="italic" font-weight="bold" fill="#000" text-anchor="end">L1HS:L1:LINE*</text>
<text x="273.4" y="259.26" font-size="3.75" font-style="italic" font-weight="bold" fill="#000" text-anchor="end">AluSp:Alu:SINE*</text>
<text x="273.4" y="263.22" font-size="3.75" font-style="italic" font-weight="bold" fill="#000" text-anchor="end">AluJr:Alu:SINE*</text>
<text x="273.4" y="267.18" font-size="3.75" font-style="italic" font-weight="bold" fill="#000" text-anchor="end">AluY:Alu:SINE*</text>
<text x="273.4" y="271.14" font-size="3.75" font-style="italic" font-weight="bold" fill="#000" text-anchor="end">L1MC5a:L1:LINE*</text>
<text x="273.4" y="275.09" font-size="3.75" font-style="italic" font-weight="bold" fill="#000" text-anchor="end">AluY:Alu:SINE*</text>
<text x="273.4" y="279.05" font-size="3.75" font-style="italic" font-weight="bold" fill="#000" text-anchor="end">AluYm1:Alu:SINE*</text>
<text x="273.4" y="283.01" font-size="3.75" font-style="italic" font-weight="bold" fill="#000" text-anchor="end">Charlie7a:hAT−Charlie:DNA*</text>
<text x="273.4" y="286.97" font-size="3.75" font-style="italic" font-weight="bold" fill="#000" text-anchor="end">MIR:MIR:SINE*</text>
<text x="273.4" y="290.93" font-size="3.75" font-style="italic" font-weight="bold" fill="#000" text-anchor="end">MamRTE1:RTE−BovB:LINE*</text>
<text x="273.4" y="294.89" font-size="3.75" font-style="italic" font-weight="bold" fill="#000" text-anchor="end">AluSx3:Alu:SINE*</text>
<text x="273.4" y="298.85" font-size="3.75" font-style="italic" font-weight="bold" fill="#000" text-anchor="end">AluSx:Alu:SINE*</text>
<text x="273.4" y="302.81" font-size="3.75" font-style="italic" font-weight="bold" fill="#000" text-anchor="end">AluSx:Alu:SINE*</text>
<text x="273.4" y="306.77" font-size="3.75" font-style="italic" font-weight="bold" fill="#000" text-anchor="end">AluSx3:Alu:SINE</text>
<text x="273.4" y="310.73" font-size="3.75" font-style="italic" font-weight="bold" fill="#000" text-anchor="end">AluSx1:Alu:SINE*</text>
<text x="273.4" y="314.69" font-size="3.75" font-style="italic" font-weight="bold" fill="#000" text-anchor="end">AluSx:Alu:SINE*</text>
<text x="273.4" y="318.64" font-size="3.75" font-style="italic" font-weight="bold" fill="#000" text-anchor="end">AluJo:Alu:SINE*</text>
<text x="273.4" y="322.60" font-size="3.75" font-style="italic" font-weight="bold" fill="#000" text-anchor="end">AluJo:Alu:SINE*</text>
<text x="273.4" y="326.56" font-size="3.75" font-style="italic" font-weight="bold" fill="#000" text-anchor="end">L1M:L1:LINE*</text>
<text x="273.4" y="330.52" font-size="3.75" font-style="italic" font-weight="bold" fill="#000" text-anchor="end">MER6A1:hAT−Charlie:DNA*</text>
<text x="273.4" y="334.48" font-size="3.75" font-style="italic" font-weight="bold" fill="#000" text-anchor="end">MIR:MIR:SINE*</text>
<text x="273.4" y="338.44" font-size="3.75" font-style="italic" font-weight="bold" fill="#000" text-anchor="end">AluSx1:Alu:SINE*</text>
<text x="273.4" y="342.40" font-size="3.75" font-style="italic" font-weight="bold" fill="#000" text-anchor="end">HAL1:L1:LINE*</text>
<text x="273.4" y="346.36" font-size="3.75" font-style="italic" font-weight="bold" fill="#000" text-anchor="end">L1PB3:L1:LINE*</text>
<text x="273.4" y="350.32" font-size="3.75" font-style="italic" font-weight="bold" fill="#000" text-anchor="end">AluY:Alu:SINE</text>
<text x="273.4" y="354.27" font-size="3.75" font-style="italic" font-weight="bold" fill="#000" text-anchor="end">AluSc:Alu:SINE*</text>
<text x="273.4" y="358.23" font-size="3.75" font-style="italic" font-weight="bold" fill="#000" text-anchor="end">L1MB3:L1:LINE*</text>
<text x="273.4" y="362.19" font-size="3.75" font-style="italic" font-weight="bold" fill="#000" text-anchor="end">ERV3−16A3_I−int:ERVL:LTR*</text>
<text x="273.4" y="366.15" font-size="3.75" font-style="italic" font-weight="bold" fill="#000" text-anchor="end">L1MB3:L1:LINE*</text>
<text x="273.4" y="370.11" font-size="3.75" font-style="italic" font-weight="bold" fill="#000" text-anchor="end">AluJo:Alu:SINE*</text>
<text x="273.4" y="374.07" font-size="3.75" font-style="italic" font-weight="bold" fill="#000" text-anchor="end">AluSp:Alu:SINE*</text>
<text x="273.4" y="378.03" font-size="3.75" font-style="italic" font-weight="bold" fill="#000" text-anchor="end">MIR:MIR:SINE*</text>
<text x="273.4" y="381.99" font-size="3.75" font-style="italic" font-weight="bold" fill="#000" text-anchor="end">AluJo:Alu:SINE*</text>
<text x="273.4" y="385.95" font-size="3.75" font-style="italic" font-weight="bold" fill="#000" text-anchor="end">AluJo:Alu:SINE*</text>
<text x="273.4" y="389.91" font-size="3.75" font-style="italic" font-weight="bold" fill="#000" text-anchor="end">AluSx1:Alu:SINE*</text>
<text x="273.4" y="393.87" font-size="3.75" font-style="italic" font-weight="bold" fill="#000" text-anchor="end">Harlequin−int:ERV1:LTR</text>
<text x="273.4" y="397.82" font-size="3.75" font-style="italic" font-weight="bold" fill="#000" text-anchor="end">AluSx8:Alu:SINE*</text>
<text x="273.4" y="401.78" font-size="3.75" font-style="italic" font-weight="bold" fill="#000" text-anchor="end">L1M5:L1:LINE*</text>
<text x="273.4" y="405.74" font-size="3.75" font-style="italic" font-weight="bold" fill="#000" text-anchor="end">AluJr:Alu:SINE*</text>
<text x="273.4" y="409.70" font-size="3.75" font-style="italic" font-weight="bold" fill="#000" text-anchor="end">L1M4c:L1:LINE*</text>
<text x="273.4" y="413.66" font-size="3.75" font-style="italic" font-weight="bold" fill="#000" text-anchor="end">MSTA:ERVL−MaLR:LTR*</text>
<text x="273.4" y="417.62" font-size="3.75" font-style="italic" font-weight="bold" fill="#000" text-anchor="end">L1M4a:L1:LINE</text>
<text x="273.4" y="421.58" font-size="3.75" font-style="italic" font-weight="bold" stroke="#000" stroke-width="0.1" fill="#000" text-anchor="end">AluSx1:Alu:SINE*</text>
<text x="273.4" y="425.54" font-size="3.75" font-style="italic" font-weight="bold" fill="#000" text-anchor="end">L1MC3:L1:LINE*</text>
<text x="273.4" y="429.50" font-size="3.75" font-style="italic" font-weight="bold" stroke="#000" stroke-width="0.1" fill="#000" text-anchor="end">L1MEc:L1:LINE*</text>
<text x="273.4" y="433.45" font-size="3.75" font-style="italic" font-weight="bold" fill="#000" text-anchor="end">THE1D−int:ERVL−MaLR:LTR*</text>
<text x="273.4" y="437.41" font-size="3.75" font-style="italic" font-weight="bold" fill="#000" text-anchor="end">AluSx8:Alu:SINE*</text>
<text x="273.4" y="441.37" font-size="3.75" font-style="italic" font-weight="bold" stroke="#000" stroke-width="0.1" fill="#000" text-anchor="end">AluSc8:Alu:SINE*</text>
<text x="273.4" y="445.33" font-size="3.75" font-style="italic" font-weight="bold" fill="#000" text-anchor="end">AluJo:Alu:SINE*</text>
<text x="273.4" y="449.29" font-size="3.75" font-style="italic" font-weight="bold" fill="#000" text-anchor="end">AluY:Alu:SINE*</text>
<text x="273.4" y="453.25" font-size="3.75" font-style="italic" font-weight="bold" fill="#000" text-anchor="end">HAL1:L1:LINE*</text>
<text x="273.4" y="457.21" font-size="3.75" font-style="italic" font-weight="bold" fill="#000" text-anchor="end">AluJo:Alu:SINE*</text>
<text x="273.4" y="461.17" font-size="3.75" font-style="italic" font-weight="bold" fill="#000" text-anchor="end">AluSx:Alu:SINE*</text>
<text x="273.4" y="465.13" font-size="3.75" font-style="italic" font-weight="bold" fill="#000" text-anchor="end">AluSc:Alu:SINE*</text>
<text x="273.4" y="469.09" font-size="3.75" font-style="italic" font-weight="bold" fill="#000" text-anchor="end">PABL_A−int:ERV1:LTR</text>
<text x="273.4" y="473.04" font-size="3.75" font-style="italic" font-weight="bold" fill="#000" text-anchor="end">AluY:Alu:SINE*</text>
<text x="273.4" y="477.00" font-size="3.75" font-style="italic" font-weight="bold" fill="#000" text-anchor="end">AluYb8:Alu:SINE*</text>
<text x="273.4" y="480.96" font-size="3.75" font-style="italic" font-weight="bold" fill="#000" text-anchor="end">AluJo:Alu:SINE*</text>
<text x="273.4" y="484.92" font-size="3.75" font-style="italic" font-weight="bold" fill="#000" text-anchor="end">L1M4a1:L1:LINE</text>
<text x="273.4" y="488.88" font-size="3.75" font-style="italic" font-weight="bold" fill="#000" text-anchor="end">MER68−int:ERVL:LTR*</text>
<text x="273.4" y="492.84" font-size="3.75" font-style="italic" font-weight="bold" fill="#000" text-anchor="end">AluY:Alu:SINE*</text>
<text x="273.4" y="496.80" font-size="3.75" font-style="italic" font-weight="bold" fill="#000" text-anchor="end">AluSx1:Alu:SINE*</text>
<text x="273.4" y="500.76" font-size="3.75" font-style="italic" font-weight="bold" fill="#000" text-anchor="end">AluSp:Alu:SINE*</text>
<text x="273.4" y="504.72" font-size="3.75" font-style="italic" font-weight="bold" fill="#000" text-anchor="end">AluSq:Alu:SINE*</text>
<text x="273.4" y="508.68" font-size="3.75" font-style="italic" font-weight="bold" fill="#000" text-anchor="end">HAL1:L1:LINE*</text>
<text x="273.4" y="512.63" font-size="3.75" font-style="italic" font-weight="bold" fill="#000" text-anchor="end">L1MB5:L1:LINE</text>
<text x="273.4" y="516.59" font-size="3.75" font-style="italic" font-weight="bold" fill="#000" text-anchor="end">L1MDCa:L1:LINE*</text>
<text x="273.4" y="520.55" font-size="3.75" font-style="italic" font-weight="bold" fill="#000" text-anchor="end">AluYa5:Alu:SINE*</text>
<text x="273.4" y="524.51" font-size="3.75" font-style="italic" font-weight="bold" fill="#000" text-anchor="end">MIRb:MIR:SINE*</text>
<text x="273.4" y="528.47" font-size="3.75" font-style="italic" font-weight="bold" fill="#000" text-anchor="end">AluY:Alu:SINE*</text>
<text x="273.4" y="532.43" font-size="3.75" font-style="italic" font-weight="bold" fill="#000" text-anchor="end">L2:L2:LINE*</text>
<text x="273.4" y="536.39" font-size="3.75" font-style="italic" font-weight="bold" fill="#000" text-anchor="end">AluY:Alu:SINE*</text>
<text x="273.4" y="540.35" font-size="3.75" font-style="italic" font-weight="bold" fill="#000" text-anchor="end">L1MA3:L1:LINE*</text>
<text x="273.4" y="544.31" font-size="3.75" font-style="italic" font-weight="bold" fill="#000" text-anchor="end">AluSx4:Alu:SINE*</text>
<text x="273.4" y="548.27" font-size="3.75" font-style="italic" font-weight="bold" fill="#000" text-anchor="end">AluSx:Alu:SINE*</text>
<text x="273.4" y="552.23" font-size="3.75" font-style="italic" font-weight="bold" fill="#000" text-anchor="end">AluSz:Alu:SINE*</text>
<text x="273.4" y="556.18" font-size="3.75" font-style="italic" font-weight="bold" fill="#000" text-anchor="end">L1MEg1:L1:LINE*</text>
<text x="273.4" y="560.14" font-size="3.75" font-style="italic" font-weight="bold" fill="#000" text-anchor="end">L4_A_Mam:RTE−X:LINE*</text>
<text x="273.4" y="564.10" font-size="3.75" font-style="italic" font-weight="bold" fill="#000" text-anchor="end">L1MEc:L1:LINE*</text>
<text x="273.4" y="568.06" font-size="3.75" font-style="italic" font-weight="bold" fill="#000" text-anchor="end">MLT1H1:ERVL−MaLR:LTR</text>
<text x="273.4" y="572.02" font-size="3.75" font-style="italic" font-weight="bold" fill="#000" text-anchor="end">L1ME4a:L1:LINE*</text>
<text x="273.4" y="575.98" font-size="3.75" font-style="italic" font-weight="bold" fill="#000" text-anchor="end">AluJo:Alu:SINE*</text>
<text x="273.4" y="579.94" font-size="3.75" font-style="italic" font-weight="bold" fill="#000" text-anchor="end">AluSp:Alu:SINE*</text>
<text x="273.4" y="583.90" font-size="3.75" font-style="italic" font-weight="bold" fill="#000" text-anchor="end">AluSx8:Alu:SINE*</text>
<text x="286.45" y="592.1" font-size="5.0" fill="#111" stroke="#111" stroke-width="0.15" text-anchor="end" transform="rotate(-45 286.45 592.1)">PMC</text>
<text x="296.47" y="592.1" font-size="5.0" fill="#111" stroke="#111" stroke-width="0.15" text-anchor="end" transform="rotate(-45 296.47 592.1)">GMC</text>
<text x="306.49" y="592.1" font-size="5.0" fill="#111" stroke="#111" stroke-width="0.15" text-anchor="end" transform="rotate(-45 306.49 592.1)">Enteroendocrine</text>
<text x="316.51" y="592.1" font-size="5.0" fill="#111" stroke="#111" stroke-width="0.15" text-anchor="end" transform="rotate(-45 316.51 592.1)">Neck−like</text>
<text x="326.53" y="592.1" font-size="5.0" fill="#111" stroke="#111" stroke-width="0.15" text-anchor="end" transform="rotate(-45 326.53 592.1)">Chief</text>
<text x="336.55" y="592.1" font-size="5.0" fill="#111" stroke="#111" stroke-width="0.15" text-anchor="end" transform="rotate(-45 336.55 592.1)">PC</text>
<text x="346.57" y="592.1" font-size="5.0" fill="#111" stroke="#111" stroke-width="0.15" text-anchor="end" transform="rotate(-45 346.57 592.1)">Goblet</text>
<text x="356.59" y="592.1" font-size="5.0" fill="#111" stroke="#111" stroke-width="0.15" text-anchor="end" transform="rotate(-45 356.59 592.1)">Enterocytes</text>
<text x="366.61" y="592.1" font-size="5.0" fill="#111" stroke="#111" stroke-width="0.15" text-anchor="end" transform="rotate(-45 366.61 592.1)">MSCs</text>
<text x="376.63" y="592.1" font-size="5.0" fill="#111" stroke="#111" stroke-width="0.15" text-anchor="end" transform="rotate(-45 376.63 592.1)">Cancer</text>
<text x="386.65" y="592.1" font-size="5.0" fill="#111" stroke="#111" stroke-width="0.15" text-anchor="end" transform="rotate(-45 386.65 592.1)">T cells</text>
<text x="396.67" y="592.1" font-size="5.0" fill="#111" stroke="#111" stroke-width="0.15" text-anchor="end" transform="rotate(-45 396.67 592.1)">B cells</text>
<text x="406.69" y="592.1" font-size="5.0" fill="#111" stroke="#111" stroke-width="0.15" text-anchor="end" transform="rotate(-45 406.69 592.1)">Endothelial</text>
<text x="416.71" y="592.1" font-size="5.0" fill="#111" stroke="#111" stroke-width="0.15" text-anchor="end" transform="rotate(-45 416.71 592.1)">Macrophages</text>
<text x="426.73" y="592.1" font-size="5.0" fill="#111" stroke="#111" stroke-width="0.15" text-anchor="end" transform="rotate(-45 426.73 592.1)">Mast</text>
<text x="436.75" y="592.1" font-size="5.0" fill="#111" stroke="#111" stroke-width="0.15" text-anchor="end" transform="rotate(-45 436.75 592.1)">SMC</text>
<text x="446.77" y="592.1" font-size="5.0" fill="#111" stroke="#111" stroke-width="0.15" text-anchor="end" transform="rotate(-45 446.77 592.1)">Fibroblast</text>
<text x="459.3" y="365.2" font-size="6.3" fill="#222">Percent Expressed</text>
<circle cx="463.7" cy="375" r="0.55" fill="#111"/>
<text x="472.8" y="376.8" font-size="5.1" fill="#333">0</text>
<circle cx="463.7" cy="385" r="1.45" fill="#111"/>
<text x="472.8" y="386.8" font-size="5.1" fill="#333">25</text>
<circle cx="463.7" cy="394.8" r="1.8" fill="#111"/>
<text x="472.8" y="396.6" font-size="5.1" fill="#333">50</text>
<circle cx="463.7" cy="404.4" r="2.15" fill="#111"/>
<text x="472.8" y="406.2" font-size="5.1" fill="#333">75</text>
<text x="459.3" y="423.4" font-size="6.3" fill="#222">Average Expression</text>
<defs><linearGradient id="ecb" x1="0" y1="0" x2="0" y2="1"><stop offset="0.000" stop-color="#0000ff"/><stop offset="0.125" stop-color="#522dfb"/><stop offset="0.250" stop-color="#7248f6"/><stop offset="0.375" stop-color="#8a60f1"/><stop offset="0.500" stop-color="#9d77ec"/><stop offset="0.625" stop-color="#ad8ee6"/><stop offset="0.750" stop-color="#bba5e0"/><stop offset="0.875" stop-color="#c8bcda"/><stop offset="1.000" stop-color="#d3d3d3"/></linearGradient></defs>
<rect x="459" y="428.3" width="9.4" height="48.4" fill="url(#ecb)"/>
<line x1="459" y1="434.8" x2="460.9" y2="434.8" stroke="#fff" stroke-width="0.4"/>
<line x1="466.5" y1="434.8" x2="468.4" y2="434.8" stroke="#fff" stroke-width="0.4"/>
<text x="472.6" y="436.6" font-size="5.1" fill="#333">2</text>
<line x1="459" y1="446.7" x2="460.9" y2="446.7" stroke="#fff" stroke-width="0.4"/>
<line x1="466.5" y1="446.7" x2="468.4" y2="446.7" stroke="#fff" stroke-width="0.4"/>
<text x="472.6" y="448.5" font-size="5.1" fill="#333">1</text>
<line x1="459" y1="458.6" x2="460.9" y2="458.6" stroke="#fff" stroke-width="0.4"/>
<line x1="466.5" y1="458.6" x2="468.4" y2="458.6" stroke="#fff" stroke-width="0.4"/>
<text x="472.6" y="460.40000000000003" font-size="5.1" fill="#333">0</text>
<line x1="459" y1="470.7" x2="460.9" y2="470.7" stroke="#fff" stroke-width="0.4"/>
<line x1="466.5" y1="470.7" x2="468.4" y2="470.7" stroke="#fff" stroke-width="0.4"/>
<text x="471.0" y="472.5" font-size="5.1" fill="#333">−1</text>
<text x="586" y="257.6" font-size="5.9" fill="#222" text-anchor="middle">AluSx1:Alu:SINE</text>
<text x="586" y="264.2" font-size="5.9" fill="#222" text-anchor="middle">chr8:118090496−118090808</text>
<g transform="translate(536.5 357.3) scale(0.5)"><ellipse cx="74" cy="-149" rx="23" ry="23" transform="rotate(0 74 -149)" fill="#906bee" fill-opacity="0.45"/><ellipse cx="105" cy="-143" rx="7" ry="11" transform="rotate(0 105 -143)" fill="#9b7aea" fill-opacity="0.45"/><ellipse cx="55" cy="-119" rx="24" ry="21" transform="rotate(0 55 -119)" fill="#8c65ef" fill-opacity="0.45"/><ellipse cx="80" cy="-114" rx="9" ry="7" transform="rotate(0 80 -114)" fill="#6c44f6" fill-opacity="0.45"/><ellipse cx="135" cy="-155" rx="18" ry="14" transform="rotate(30 135 -155)" fill="#b49fe1" fill-opacity="0.45"/><ellipse cx="124" cy="-131" rx="5" ry="5" transform="rotate(0 124 -131)" fill="#916cee" fill-opacity="0.45"/><ellipse cx="142" cy="-125" rx="5" ry="5" transform="rotate(0 142 -125)" fill="#ae95e4" fill-opacity="0.45"/><ellipse cx="171" cy="-129" rx="9" ry="9" transform="rotate(20 171 -129)" fill="#a285e8" fill-opacity="0.45"/><ellipse cx="150" cy="-114" rx="9" ry="4" transform="rotate(-10 150 -114)" fill="#845ef1" fill-opacity="0.45"/><ellipse cx="23" cy="-106" rx="11" ry="11" transform="rotate(0 23 -106)" fill="#baa7df" fill-opacity="0.45"/><ellipse cx="50" cy="-93" rx="11" ry="6" transform="rotate(0 50 -93)" fill="#7f58f2" fill-opacity="0.45"/><ellipse cx="43" cy="-78" rx="8" ry="4" transform="rotate(0 43 -78)" fill="#ae95e4" fill-opacity="0.45"/><ellipse cx="54" cy="-74" rx="4" ry="8" transform="rotate(0 54 -74)" fill="#a285e8" fill-opacity="0.45"/><ellipse cx="23" cy="-81" rx="4" ry="4" transform="rotate(0 23 -81)" fill="#a285e8" fill-opacity="0.45"/><ellipse cx="23" cy="-64" rx="12" ry="10" transform="rotate(0 23 -64)" fill="#8c67ee" fill-opacity="0.45"/><ellipse cx="49" cy="-41" rx="17" ry="12" transform="rotate(0 49 -41)" fill="#b19ae2" fill-opacity="0.45"/><ellipse cx="118" cy="-65" rx="41" ry="45" transform="rotate(0 118 -65)" fill="#a586e8" fill-opacity="0.45"/><ellipse cx="166" cy="-77" rx="9" ry="25" transform="rotate(0 166 -77)" fill="#a98de6" fill-opacity="0.45"/><ellipse cx="180" cy="-84" rx="12" ry="22" transform="rotate(0 180 -84)" fill="#a98de6" fill-opacity="0.45"/><ellipse cx="145" cy="-113" rx="11" ry="7" transform="rotate(0 145 -113)" fill="#9877eb" fill-opacity="0.45"/><path d="M137-168h0m-1 0h0m0 0h0m-1-1h0m-6 0h0m-2 0h0m-4-1h0m-35 2h0m-4 0h0m-1-5h0m-23 7h0m12-1h0m10 5h0m1 0h0m37-1h0m2-1h0m1-3h0m1 1h0m2 3h0m2 0h0m2-3h0m2 1h0m2-1h0m0 4h0m1-5h0m4 4h0m0 1h0m2-3h0m3 2h0m1-1h0m6 7h0m0 0h0m-2-3h0m0 2h0m-2 0h0m-1 0h0m-2-3h0m-3 3h0m-2-1h0m0 3h0m-2-4h0m0-1h0m-1-1h0m-2 5h0m-2 0h0m-2-1h0m0 1h0m-2-3h0m-1 0h0m0 4h0m0-3h0m-7 0h0m-1-2h0m-22 2h0m-35 1h0m-12 6h0m1-4h0m0 0h0m1 5h0m0-2h0m2 2h0m18-4h0m7 4h0m3-1h0m11-1h0m16 0h0m1 1h0m8 1h0m1-3h0m2-2h0m3 0h0m1 3h0m5 0h0m2 2h0m0-3h0m0 4h0m2-4h0m0-2h0m0 3h0m1 2h0m1 1h0m1-2h0m1 0h0m1-4h0m1 4h0m0-3h0m0 5h0m0 0h0m2-5h0m0-1h0m2 4h0m3 0h0m1 0h0m0-2h0m4 2h0m1 5h0m-2 1h0m0 2h0m-3-1h0m0-3h0m-3 2h0m0-4h0m0 0h0m-1 2h0m-1 3h0m-2-3h0m0 3h0m-2-1h0m0 1h0m0 0h0m-3 0h0m-1-4h0m-1 1h0m0 3h0m-5-1h0m0 2h0m-1-4h0m0 3h0m-1-1h0m-1-2h0m0 1h0m0 2h0m-3-3h0m0-1h0m-1 4h0m0-2h0m-1 1h0m-5-3h0m-5 1h0m-4 3h0m-6 1h0m-2-4h0m-6 4h0m-1-1h0m-7 0h0m-1-3h0m-7 2h0m-6-2h0m0 2h0m-1 1h0m-3-2h0m-12 0h0m-5 7h0m1-2h0m2 0h0m7 1h0m4-3h0m11 6h0m2 0h0m2 0h0m12-1h0m8-2h0m3 2h0m2-2h0m3-1h0m1 0h0m3 3h0m3-3h0m12-2h0m8 3h0m0 0h0m1 0h0m2 2h0m0-2h0m1-1h0m1 1h0m1 2h0m5 0h0m1-1h0m4-3h0m0-1h0m19 5h0m9 4h0m-3 0h0m-3 2h0m-5-2h0m-2-3h0m-1 4h0m0-1h0m-1 1h0m-35 2h0m-9-2h0m-9-4h0m0 5h0m-2 1h0m-18-5h0m-25 2h0m-4 3h0m-2-4h0m-5-1h0m-15 0h0m-8 9h0m10 1h0m9-4h0m3 2h0m2 1h0m4-3h0m1 2h0m2 3h0m0-2h0m3 1h0m2 0h0m3 0h0m3 0h0m1-2h0m1 0h0m7-3h0m0 3h0m6 0h0m31-1h0m3 0h0m8-1h0m9 3h0m2-1h0m1 2h0m1-2h0m0-2h0m0 4h0m2-2h0m18 1h0m4-4h0m1 5h0m4 1h0m4-3h0m4-2h0m-4 8h0m0-1h0m-6 2h0m0 1h0m-2-2h0m0 0h0m-2 2h0m-21-2h0m-3 0h0m-1-1h0m-61 1h0m-4 1h0m-1 0h0m-21 1h0m-8-5h0m-2 1h0m-5 4h0m-11-2h0m-15 8h0m3 0h0m0 1h0m5 0h0m2-5h0m0 1h0m0 3h0m2 1h0m1-1h0m1 0h0m1-3h0m1 1h0m1 1h0m11-1h0m17-1h0m4 3h0m6-3h0m6-1h0m13 2h0m15 3h0m11-1h0m5 0h0m3-4h0m0 3h0m2 0h0m15-3h0m1 1h0m1-2h0m1 6h0m2-5h0m2-1h0m10 3h0m0 2h0m16-4h0m12 10h0m-27-3h0m-1 2h0m-1-1h0m-7 2h0m-3-3h0m-1 3h0m0-2h0m-2 1h0m-1 1h0m-2 1h0m0-2h0m-1-1h0m0 2h0m-4-4h0m-2 0h0m0 1h0m-3-2h0m0 0h0m-10 4h0m-2 1h0m-4-5h0m-3 0h0m-30 1h0m-37 3h0m-1 1h0m-5 0h0m-1-5h0m-3 3h0m-1-1h0m-4-1h0m-1 1h0m0 2h0m-2-1h0m-1 3h0m0-4h0m-1-1h0m-6 1h0m-3-1h0m-3 5h0m1 5h0m0-3h0m2-2h0m0 5h0m1 0h0m0 1h0m0-2h0m1-3h0m0 0h0m1 1h0m1-1h0m0-1h0m3 5h0m1 0h0m1-2h0m1-3h0m0 1h0m1 2h0m1 0h0m0 2h0m1-4h0m3 4h0m2-3h0m3-1h0m0 4h0m8-4h0m5 4h0m9-5h0m7 4h0m9-2h0m0-1h0m2-1h0m1 2h0m11 3h0m3-1h0m2-1h0m8-1h0m2-2h0m1 6h0m2-4h0m3-1h0m0 3h0m1 1h0m4-3h0m4 1h0m1-3h0m1 5h0m0-2h0m1-2h0m2 5h0m4-4h0m4 3h0m6-1h0m2 0h0m1-1h0m4 0h0m5-3h0m4 2h0m12 4h0m0-1h0m2 1h0m7-4h0m3 2h0m0 1h0m3-3h0m2-1h0m7 4h0m1 0h0m3 2h0m0 1h0m-4-1h0m0 0h0m-2 4h0m-2-2h0m-1 0h0m0 2h0m-1 0h0m-2-5h0m-29 1h0m-1 3h0m-3-1h0m0 0h0m-1 2h0m-3-1h0m-2-2h0m-1-1h0m-15 4h0m-3-3h0m-5-2h0m0 4h0m-5-4h0m-8 1h0m-6 1h0m-1-1h0m-1 0h0m-2 1h0m-3 0h0m0 1h0m-2-1h0m-1 3h0m-1-4h0m-4-1h0m-9 5h0m-12-2h0m-2 2h0m-5-2h0m-1 1h0m-4-2h0m-7-1h0m-9 1h0m-1 2h0m-1-1h0m-1 0h0m-1 1h0m-1-3h0m0 2h0m-3 1h0m-1-3h0m-2 1h0m-2-2h0m-2 4h0m0 2h0m-2-5h0m-1 3h0m-11 7h0m1 1h0m18-3h0m1 0h0m5-3h0m17 3h0m4-3h0m27 2h0m4 3h0m0 0h0m6-4h0m4 0h0m4 0h0m4 3h0m2 0h0m3-3h0m1 1h0m5 2h0m3 0h0m1 2h0m3-2h0m0 1h0m0-1h0m4 1h0m0 1h0m0-5h0m0 2h0m5-1h0m1 1h0m0-3h0m3 1h0m1 3h0m8 2h0m3-4h0m1 1h0m4-1h0m6 1h0m0-1h0m6 1h0m0 2h0m1 0h0m0-3h0m5 4h0m3-6h0m1 3h0m1-2h0m0 2h0m1-3h0m7 4h0m0-3h0m2 2h0m4-2h0m0-1h0m2 5h0m6-5h0m1 10h0m-2 1h0m-3-5h0m-1 6h0m-1-3h0m-1-2h0m-5 0h0m-5 0h0m-2 0h0m-1 5h0m0-3h0m-1 3h0m0-2h0m0 2h0m-1-5h0m0 3h0m-1 0h0m-3 1h0m0-3h0m-4 1h0m-2-1h0m-1 1h0m-4-2h0m-2-1h0m-4 2h0m-1 4h0m-2-1h0m-9-3h0m0 4h0m-1-3h0m-4-1h0m0 2h0m-1 1h0m-3 0h0m-2 1h0m0-6h0m-12 1h0m-1 4h0m-8 1h0m-1-3h0m-2 0h0m0-1h0m-3 1h0m-2 2h0m-1 1h0m-5-2h0m-6-2h0m-5 4h0m0-3h0m-2 3h0m0-3h0m-26-2h0m-9 3h0m-36-2h0m13 6h0m1 2h0m2 1h0m2-2h0m13 2h0m1-3h0m1 3h0m1-2h0m2-1h0m7 4h0m2 0h0m0-3h0m1 0h0m11 0h0m1 1h0m6-1h0m3 2h0m7-3h0m2 3h0m0 1h0m0-3h0m0 2h0m0-4h0m9 2h0m1-1h0m1 2h0m0-3h0m1 1h0m0-1h0m0 3h0m4-3h0m2 4h0m2-1h0m2-1h0m2 3h0m3-4h0m2 1h0m2 1h0m3-4h0m3 4h0m1 0h0m1 0h0m2 0h0m7 0h0m6 0h0m0-2h0m1 1h0m7-2h0m5 1h0m1 2h0m8-2h0m1-1h0m0-1h0m1 2h0m0 0h0m0 3h0m1 0h0m1 1h0m1-5h0m2 0h0m0 0h0m1 0h0m1 0h0m0 0h0m3-1h0m2 0h0m2 5h0m0-5h0m0 0h0m2 3h0m1-3h0m1 3h0m5 3h0m2-6h0m1 1h0m-5 7h0m-1 0h0m0 1h0m-3 1h0m-1-1h0m-2 3h0m-1-4h0m0 4h0m0-3h0m-1-1h0m-1 0h0m0 1h0m-2-1h0m-2 0h0m-1 2h0m-1-3h0m-3 4h0m-4 0h0m-1-3h0m-5 2h0m-4-1h0m-2 2h0m-2-5h0m-2 6h0m-5-3h0m-6-3h0m-1 3h0m-7-3h0m0 1h0m0 2h0m-5-2h0m-1 2h0m-1 3h0m-1-4h0m0 2h0m0-1h0m-4 3h0m-12-4h0m-1 4h0m-9-4h0m-3 3h0m-3 0h0m-3 0h0m-2-1h0m-2-2h0m-2 0h0m-1-1h0m-7 2h0m0 1h0m0-1h0m-1 2h0m-9-1h0m-2 1h0m-2 0h0m-5-2h0m-3 1h0m-1-4h0m-1 2h0m-2 0h0m-2 0h0m-2-1h0m-1 1h0m-9 1h0m-2 3h0m-5-1h0m1 5h0m4 0h0m2-2h0m0 3h0m3-5h0m0 0h0m3 3h0m20 0h0m2 1h0m2-2h0m8-1h0m2 0h0m10 2h0m0 2h0m8-3h0m6-2h0m1 4h0m4 1h0m2-1h0m1-2h0m14 3h0m4-3h0m4-1h0m0-1h0m13 2h0m1-1h0m2 2h0m0 1h0m8-3h0m2-1h0m2 4h0m4-2h0m0 2h0m1-2h0m4 3h0m4 0h0m0 0h0m0-3h0m0-2h0m0 3h0m1 1h0m1 1h0m0-1h0m2 1h0m0-2h0m1 2h0m1-4h0m3 2h0m1 1h0m1 1h0m3-2h0m13 0h0m-1 5h0m-2 1h0m-1 1h0m-2-4h0m0 5h0m-1-1h0m-1-2h0m-1 2h0m-1-3h0m-1 5h0m-4-3h0m-2-2h0m-1 0h0m-1 1h0m0 3h0m-1-1h0m-2 0h0m0-1h0m-3-3h0m0 5h0m-2-2h0m0 1h0m0 1h0m-3-1h0m-4 0h0m-4-3h0m-5 4h0m-3-3h0m-10 3h0m-1 0h0m0 0h0m-1 0h0m-8-3h0m-4-1h0m-1 2h0m-6-1h0m-2 1h0m-6-3h0m-3 4h0m-3 1h0m-1-3h0m-5 3h0m-2-3h0m-13 2h0m-5-3h0m-36 0h0m-1 2h0m-2-2h0m-2 1h0m0 0h0m-10 2h0m-3 2h0m-2-3h0m-1-3h0m-1 0h0m-2 4h0m0 1h0m0-1h0m2 4h0m60-2h0m1 5h0m2 0h0m1-1h0m6-1h0m6 0h0m4 1h0m0 1h0m3 0h0m6 0h0m0-4h0m1 2h0m5 0h0m6-1h0m7-2h0m1 4h0m7-2h0m0 0h0m3 4h0m1-4h0m1 3h0m5 1h0m0-2h0m0 0h0m1-1h0m1 2h0m3-2h0m1 3h0m0-3h0m4 2h0m0-3h0m6 1h0m1 0h0m2-2h0m3 1h0m1 4h0m0-2h0m1 0h0m6 1h0m2 0h0m-2 2h0m-3 1h0m0-1h0m-4 0h0m-3 1h0m-2-1h0m-1 1h0m-1 1h0m-1-2h0m-5 0h0m-5 4h0m-1-2h0m-6 0h0m-5 1h0m0-3h0m0 3h0m-3 2h0m-1-3h0m-7 2h0m-1-1h0m-3-2h0m-2-1h0m-2 4h0m-1 0h0m0 0h0m-6-4h0m-3 0h0m-1 0h0m-4 2h0m-1 2h0m-3 1h0m-1-3h0m-2 3h0m-6-3h0m-8 1h0m-4-4h0m0 1h0m-10 3h0m-7 1h0m0-2h0m-1 0h0m-1 2h0m0-1h0m-2 1h0m-2-4h0m0 5h0m-2-3h0m0 1h0m-1-3h0m-5 1h0m0 2h0m-4-1h0m0 2h0m-1 1h0m-1-2h0m-2 1h0m-5 1h0m0 1h0m0 5h0m1-4h0m1 2h0m1-3h0m1 4h0m1-1h0m7 2h0m3-1h0m0-3h0m1 2h0m2 0h0m3-2h0m1 3h0m1 0h0m0-2h0m4 0h0m0-1h0m0 0h0m1-1h0m2 0h0m2 0h0m20 5h0m3-6h0m0 6h0m1-4h0m7 3h0m0-2h0m5 0h0m0 3h0m9-6h0m1 3h0m0 0h0m1 0h0m1-1h0m2 1h0m5 1h0m5-4h0m0 0h0m3 0h0m2 3h0m0 1h0m1-2h0m2-1h0m1 1h0m3-1h0m1 0h0m0 0h0m2 2h0m1 2h0m8 0h0m0 0h0m2 1h0m0-3h0m12 0h0m1-2h0m0 3h0m19 0h0m0 0h0m6-2h0m-8 8h0m-1-3h0m-1 5h0m-17-4h0m-2 4h0m-4-1h0m-5-4h0m-2 4h0m-1 1h0m-6-3h0m-4 2h0m-3 0h0m-1-2h0m-3 2h0m-1-2h0m-1 0h0m-1 2h0m-3-3h0m-1-1h0m-4 3h0m-1-2h0m-1 2h0m0-1h0m-1-1h0m-3-2h0m-7 0h0m0 1h0m0 2h0m-3 3h0m-2-4h0m-3 1h0m-8-2h0m-5 1h0m-2 2h0m-2-2h0m0 0h0m-1 2h0m-1 1h0m-13-4h0m-2 4h0m0-3h0m-2 3h0m-4-3h0m-2 2h0m-3 0h0m-4-3h0m-1 0h0m0 3h0m-1-4h0m-1 5h0m0-4h0m-2 1h0m-1 4h0m0-6h0m-1 5h0m-5 2h0m1 0h0m4 5h0m0-6h0m1 5h0m0 1h0m4-4h0m0-1h0m2 0h0m1 0h0m2 0h0m5 3h0m1 1h0m0 1h0m1-4h0m2 3h0m1-3h0m0 0h0m1 3h0m0 1h0m3-5h0m16 4h0m1-3h0m1 0h0m1-1h0m2 1h0m5-1h0m2 4h0m4-3h0m5 1h0m2 3h0m10-1h0m2-2h0m0-1h0m2-2h0m1 1h0m0 5h0m0-1h0m4-4h0m1 4h0m0-2h0m0 2h0m2-3h0m9 0h0m11 3h0m1 0h0m2 0h0m4 2h0m-5 1h0m-1 1h0m-7 3h0m-2-6h0m0 5h0m-1-3h0m-4-1h0m-5 4h0m-19-1h0m-1 0h0m-5-3h0m-3 4h0m-1-1h0m-6 1h0m-2 0h0m-1-1h0m-1-1h0m-37-2h0m-3 2h0m-1-1h0m0 0h0m-2-1h0m-3-1h0m-2 1h0m47 8h0m7-1h0m3 3h0m1-2h0m0 1h0m3-2h0m5 1h0m3 2h0m1 0h0m1-1h0m7-4h0m2 1h0m1 0h0m13 0h0m3-1h0m4 0h0m8 0h0m-17 8h0m-3-1h0m-9 2h0m-15-2h0m-7 17h0m3 1h0" stroke="#d3d3d3" stroke-width="2.10" stroke-linecap="round" fill="none"/><path d="M139-169h0m-6 5h0m6 1h0m0 2h0m0 2h0m-12 2h0m-78 7h0m97 2h0m-20 0h0m-25 0h0m-34 4h0m-13 9h0m86 13h0m-111 7h0m123 2h0m-9 3h0m-100 0h0m-30-1h0m3 4h0m100 3h0m67-4h0m-20 11h0m-142-3h0m109 21h0m57 2h0m-31 2h0m-15-1h0m28 13h0m-106 18h0m29 0h0m19 4h0m-43 0h0m57 13h0m7 7h0m-2 5h0" stroke="#b89ee2" stroke-width="2.10" stroke-linecap="round" fill="none"/><path d="M137-170h0m0 2h0m-5-3h0m0 1h0m-2 1h0m-3 0h0m-3-2h0m-52 0h0m-6 1h0m2 4h0m17 2h0m34 0h0m0 0h0m2-3h0m2 0h0m12 0h0m4 0h0m5 10h0m-1-4h0m-1 4h0m0 1h0m-2-3h0m-4 0h0m-2 3h0m-5-6h0m-1 5h0m-3-3h0m-4 0h0m0 2h0m-3-1h0m-1 1h0m-19 2h0m-18-1h0m-8 0h0m-1-3h0m-3-1h0m-3 0h0m0 1h0m-7-1h0m-1 4h0m-7 6h0m7-5h0m0 2h0m40-1h0m2 4h0m2-1h0m19 0h0m0-1h0m9 0h0m2 0h0m4-3h0m14 0h0m1 4h0m3 0h0m0 4h0m-2 2h0m-3-2h0m-13-1h0m-2 1h0m-1-1h0m-2 0h0m0 2h0m-1 3h0m0-2h0m-6 0h0m-17 1h0m-6 0h0m-17-2h0m-13-1h0m-18 0h0m-2 4h0m6 5h0m6 0h0m1 1h0m3-2h0m4-4h0m0 6h0m15-5h0m0 3h0m12 1h0m14 0h0m26-2h0m1 1h0m2-2h0m5-1h0m0-1h0m4 2h0m0 1h0m19 3h0m-1 4h0m-1-2h0m0 0h0m-20 0h0m-8-2h0m-10 3h0m-9 1h0m-20-2h0m-31 3h0m-3 0h0m-8-4h0m-18 8h0m1-3h0m22 1h0m2 5h0m1-3h0m11 1h0m2 0h0m2-3h0m39 2h0m1 2h0m25-3h0m28 3h0m1 1h0m1 0h0m1-3h0m3 1h0m-3 3h0m-37 1h0m-63-1h0m-1 5h0m-2-1h0m-9 1h0m-5-6h0m-1 4h0m0-1h0m-19-2h0m-4 2h0m-1 0h0m-18 6h0m5 1h0m7 0h0m2 1h0m27-3h0m52 3h0m20-3h0m9 3h0m5 1h0m1-6h0m3 4h0m3-3h0m-1 9h0m-3 0h0m-13-4h0m-5 5h0m-5-1h0m-2-2h0m-11-1h0m-1 5h0m-9-1h0m-1 0h0m0 0h0m-2 0h0m-21 1h0m0-5h0m-1 0h0m-10 0h0m-34 2h0m-4 0h0m-4-1h0m-5 3h0m-1-1h0m0-1h0m-5 0h0m0 7h0m2-2h0m4-1h0m9 0h0m7 1h0m1 0h0m23 0h0m9 4h0m7-5h0m12 4h0m9 0h0m3-5h0m2 1h0m4 2h0m1 0h0m2-1h0m0 0h0m1-2h0m1 4h0m4-2h0m1-2h0m0 2h0m0 3h0m19-2h0m9-3h0m0 2h0m0 1h0m2-1h0m0-2h0m30 1h0m7 4h0m4 1h0m0-1h0m8 6h0m-2-4h0m-5 3h0m-7 0h0m-7 1h0m-2-1h0m0 1h0m-1-3h0m-3 3h0m-2-4h0m-1 2h0m0 1h0m-1 0h0m-1-1h0m-1 0h0m-8 1h0m-2-2h0m-1 2h0m-2-1h0m-6-2h0m0 0h0m-5 5h0m-3-2h0m-1 1h0m-3-1h0m-7 2h0m-6-2h0m0-3h0m-8 4h0m-1-2h0m-3 3h0m-12-4h0m-5 0h0m-2 4h0m0-2h0m-2 1h0m-38-1h0m-15-1h0m-3 2h0m-2-2h0m-2-1h0m-2 0h0m3 4h0m17 0h0m0 0h0m0 3h0m8-3h0m1 2h0m49 1h0m9 0h0m0-1h0m5-1h0m2 4h0m15-3h0m0-2h0m7 0h0m2 2h0m1 1h0m6 3h0m1-6h0m1 6h0m3-4h0m1-1h0m0 3h0m2 0h0m3-2h0m4 2h0m2 0h0m3 1h0m1 0h0m0-1h0m0-3h0m1 0h0m4 2h0m1-2h0m0 2h0m1-2h0m0 4h0m1-3h0m3 2h0m1-2h0m1-2h0m3 0h0m1 5h0m1-1h0m5 1h0m-3 7h0m-3-4h0m-1 3h0m-2 0h0m-3 0h0m-3 1h0m0-3h0m-1-2h0m-1 4h0m-2-4h0m-1 2h0m-3 1h0m-1-2h0m-9 2h0m0-1h0m0 2h0m-1-2h0m-1 2h0m-5-3h0m-1 3h0m-1-4h0m-1 2h0m-13-3h0m-2 2h0m0 0h0m-1 0h0m-3-1h0m-3 0h0m-6 1h0m0-2h0m-4 3h0m-1 1h0m0-3h0m-4 5h0m-4-4h0m-2 3h0m-3 1h0m-25-4h0m0 3h0m-69-2h0m32 7h0m0 0h0m6 0h0m29 0h0m5-1h0m4 0h0m0-2h0m2 2h0m9-3h0m0 1h0m1 1h0m1 3h0m1 0h0m1-3h0m3-1h0m1 1h0m1-2h0m2 2h0m4 3h0m4-5h0m1 6h0m2-2h0m2 1h0m6-2h0m12 2h0m3-3h0m3 2h0m1-3h0m1-1h0m5 5h0m3 0h0m0-3h0m1-1h0m2 0h0m2 0h0m0 3h0m1-1h0m2 1h0m2-1h0m4-3h0m4 6h0m2-4h0m0 0h0m0 3h0m4-2h0m1-1h0m1-1h0m1-1h0m0 0h0m2 0h0m1 1h0m1 0h0m6 2h0m0 1h0m4 0h0m2 3h0m-6 2h0m-1-1h0m-3-1h0m-3 2h0m-3 2h0m-2-1h0m-3 0h0m-1-1h0m-2-2h0m-2 4h0m-5-5h0m-1 3h0m-4-1h0m-1 1h0m-3 2h0m-2 0h0m-2-1h0m-10 0h0m-6-4h0m-3 1h0m-1 5h0m0-1h0m-4-1h0m-9 2h0m-9-2h0m-5 1h0m-5-3h0m-1 2h0m-1 1h0m-1-1h0m-2 1h0m-6-5h0m-2 4h0m-9 2h0m-4 0h0m-1-2h0m-16-4h0m-7 2h0m-1-1h0m-7 2h0m-16-3h0m3 8h0m24 1h0m5 1h0m7-1h0m3-1h0m15-1h0m2 2h0m1-1h0m1 0h0m1 0h0m2 0h0m1 1h0m2 3h0m15-2h0m1-2h0m0 2h0m3 0h0m1 1h0m1 1h0m0-4h0m1 1h0m9 1h0m2 1h0m1-2h0m1-2h0m5 1h0m0 4h0m2-1h0m1-5h0m3 6h0m1-2h0m2-4h0m1 3h0m2-2h0m17 1h0m1 2h0m2-3h0m3 0h0m3 3h0m1 2h0m2-4h0m4 3h0m0-3h0m2 1h0m7-1h0m0-1h0m2 5h0m-5 5h0m-2-2h0m0 3h0m0-2h0m-6 1h0m-1-2h0m-3 1h0m-2 0h0m-4 0h0m-1-3h0m0 0h0m-6 0h0m-3 2h0m-4 1h0m-4-1h0m-4 0h0m0 2h0m-1 1h0m-13-1h0m-4-4h0m-3 2h0m0-3h0m-23 3h0m0-2h0m-2 4h0m-3-2h0m-1-1h0m-1-1h0m-2 0h0m0 5h0m-2-1h0m0-3h0m-1-1h0m-3 0h0m-4 5h0m-54-5h0m-11 2h0m0 6h0m8-1h0m49 1h0m3 3h0m1-5h0m8 3h0m3-1h0m0 1h0m5-3h0m1 4h0m3-3h0m0 4h0m1-1h0m0-5h0m3 2h0m2 3h0m5-5h0m4 5h0m11-1h0m4 1h0m4 0h0m3-5h0m15 4h0m2-1h0m6 0h0m2 2h0m1-4h0m2 4h0m1 0h0m1 1h0m0-5h0m1 1h0m2 4h0m1-3h0m2-1h0m1 2h0m0 2h0m1-2h0m2-3h0m5 2h0m0 1h0m-6 7h0m-6-2h0m-1 1h0m-1 0h0m-1-2h0m-6 0h0m-1 3h0m-4-4h0m-1 5h0m-3-4h0m-12 2h0m-2 0h0m-4-4h0m-2 3h0m-6-2h0m-2 1h0m-10 1h0m-12 0h0m-1-2h0m0 3h0m-3-2h0m-2 0h0m-2 4h0m-10-1h0m-2-4h0m0 4h0m-17-2h0m-3 1h0m-6 0h0m-2 2h0m-1-3h0m-14 6h0m5-2h0m2 1h0m8 2h0m9 2h0m20-3h0m0 0h0m10-2h0m5 4h0m0-4h0m5 0h0m8 4h0m5-3h0m1-1h0m2 1h0m3-1h0m1 0h0m0 2h0m5 0h0m3 3h0m0-3h0m8 2h0m10-1h0m1-1h0m0-2h0m2 3h0m0-3h0m1 4h0m1-2h0m0-2h0m4 4h0m3-1h0m28-3h0m-3 6h0m-24 2h0m-2-1h0m-1-1h0m-11 3h0m0 1h0m-1-4h0m-3 2h0m-3 3h0m-7-4h0m-1 1h0m-1 0h0m-4-2h0m-10 3h0m0-2h0m-2 1h0m-6-1h0m-13 2h0m-1 0h0m-3-1h0m-7 1h0m-18 0h0m-4-4h0m-3 3h0m-1-2h0m-10 0h0m0 1h0m-2-1h0m-1 1h0m-5-1h0m-4 0h0m-2 4h0m-3-2h0m4 5h0m10 2h0m4-3h0m4 1h0m5-1h0m11 2h0m16-1h0m1-1h0m18-1h0m2 0h0m3 4h0m9-2h0m1 0h0m17 3h0m3-4h0m4 0h0m1 2h0m11 0h0m-10 6h0m-1 1h0m-1 0h0m-3-2h0m-6-1h0m-11 1h0m-5 3h0m-1 0h0m-5-3h0m-5-1h0m-5-1h0m0 6h0m-8-3h0m-39-2h0m-2 1h0m-1 0h0m45 4h0m6 4h0m0-3h0m3 3h0m4-2h0m0 3h0m7-2h0m6-2h0m0 1h0m4 3h0m1-1h0m2 1h0m12-2h0m1-2h0m-7 6h0m-10 0h0m-13 3h0m-4-3h0m-5 0h0m-2 8h0m-1 10h0m3-1h0" stroke="#a784e9" stroke-width="2.10" stroke-linecap="round" fill="none"/><path d="M69-178h0m2 3h0m13 0h0m55 3h0m-3 1h0m-6-1h0m-40 3h0m-3-1h0m-1-1h0m0 2h0m-4-3h0m-2 2h0m-9 0h0m-2 0h0m-9 1h0m-1-1h0m-5 7h0m3-3h0m4-2h0m2 1h0m0 0h0m2 1h0m3 2h0m1 2h0m4-1h0m3-2h0m3 1h0m0 1h0m5-1h0m0 0h0m3-2h0m1-2h0m0 4h0m1-3h0m32 3h0m2 1h0m3 0h0m1 0h0m4-2h0m15 3h0m0-4h0m1 1h0m2 2h0m-2 1h0m-9 5h0m0-1h0m-7 1h0m-3 1h0m-7-3h0m0-1h0m0 0h0m-3-1h0m-1-1h0m-23 1h0m-2 5h0m-1-2h0m-1-1h0m0 0h0m0 2h0m-2-1h0m-10-3h0m-4 3h0m-4-1h0m-3 1h0m-1 2h0m0-1h0m-4 1h0m0-5h0m-6 5h0m0 0h0m-1-4h0m-5 10h0m2 0h0m1-3h0m3 1h0m6-2h0m4 1h0m0 3h0m1-1h0m1 0h0m4-4h0m0 1h0m1 0h0m0 2h0m1 0h0m8-3h0m2 0h0m1 5h0m5-1h0m0-3h0m0 2h0m0-3h0m1 3h0m13-1h0m0-2h0m16 1h0m4 1h0m4 0h0m3-3h0m1 1h0m2 4h0m5-3h0m1 1h0m3 2h0m1-3h0m3 0h0m1 0h0m1-1h0m0 5h0m2-2h0m2 1h0m-1 7h0m-3-3h0m-4 2h0m0 0h0m0-5h0m-1 3h0m-3 1h0m-12 0h0m0 1h0m-3 0h0m-1-3h0m-6-1h0m-8 2h0m-1-3h0m-3 3h0m-3 3h0m-4-2h0m0-4h0m-2 5h0m-2-2h0m-2 0h0m-1 1h0m-1 0h0m-3-2h0m0 1h0m-2 0h0m-1 2h0m-1-1h0m0 1h0m-1-4h0m0 5h0m0-2h0m-1-1h0m-2-2h0m0 5h0m0-1h0m-3 0h0m-4-3h0m-1 0h0m-1 1h0m-3-3h0m-2 4h0m-1-2h0m-1 1h0m-1-1h0m-1 4h0m0-2h0m-6 1h0m-2-1h0m-1 0h0m-2 2h0m-1-5h0m0 2h0m0 0h0m-2-1h0m0-1h0m-5 10h0m0-1h0m7 0h0m0-2h0m0 2h0m1-3h0m2 3h0m1 0h0m1 0h0m2-2h0m1 0h0m1 4h0m2-4h0m0 0h0m1 2h0m1 0h0m5-3h0m2 3h0m0 1h0m5-2h0m0 0h0m1-2h0m1 3h0m2-2h0m1 3h0m4-3h0m2 0h0m3-1h0m2 4h0m0 0h0m5-1h0m3-1h0m4 1h0m4 1h0m0-3h0m3 0h0m0 3h0m17-4h0m4 2h0m18-1h0m19 4h0m2-1h0m2 5h0m0-3h0m0 2h0m-1 2h0m0-2h0m-5 1h0m0 0h0m-3 1h0m-25-5h0m-19 4h0m-12 1h0m-1 1h0m-1-4h0m-2 4h0m-2-2h0m0 0h0m-1-2h0m-6-1h0m0 3h0m-1-4h0m-3 6h0m-3-5h0m-2 0h0m-1 0h0m-3-1h0m-2 0h0m-1 1h0m-3 4h0m-2-2h0m0 3h0m0-4h0m-1 0h0m-2 2h0m0 0h0m0-2h0m-1 0h0m0 0h0m-1-2h0m-1 4h0m-1 2h0m-2-4h0m-1-1h0m-1 2h0m-1 2h0m-3-1h0m0-4h0m0 0h0m-1 1h0m0 1h0m0-2h0m-1 0h0m-2 6h0m0-4h0m-1-2h0m-1 1h0m-1 2h0m-4-2h0m-1 0h0m-3 0h0m-5 3h0m-5-2h0m-1 8h0m1 2h0m2-6h0m3 1h0m3 1h0m2 4h0m0-2h0m7 0h0m5-3h0m1 2h0m1 0h0m1 1h0m0-2h0m1 1h0m1-1h0m0 3h0m1-1h0m0 0h0m1-2h0m1 0h0m1-1h0m3 1h0m1-2h0m0 5h0m1-2h0m0 1h0m1 1h0m0-3h0m2 2h0m2-3h0m1 3h0m0 1h0m2-1h0m2-3h0m1 3h0m1 0h0m4-2h0m0 3h0m2-3h0m3 3h0m3-2h0m12-3h0m0 0h0m16 4h0m2 0h0m3-3h0m1 2h0m8 0h0m1 1h0m1 2h0m4-1h0m4-1h0m18-3h0m4 5h0m3 0h0m1-6h0m2 3h0m6-1h0m-1 4h0m-6 6h0m-1-3h0m0-2h0m-1 0h0m-1 0h0m-5 1h0m-1 2h0m-2-2h0m-14 4h0m-2 0h0m-1-2h0m-3-3h0m0 3h0m-1 2h0m-4-3h0m-19 0h0m-15 3h0m-20-5h0m-2 1h0m-2 2h0m0-3h0m0 3h0m0 2h0m-2-3h0m-1 0h0m0-1h0m-2-1h0m0-1h0m-1 6h0m-1-5h0m0 3h0m-1-3h0m0 1h0m0 0h0m-4-1h0m-1 4h0m-3-3h0m-2 4h0m-4-5h0m-1 1h0m-8 2h0m-2-4h0m-3 1h0m-2 0h0m-1 1h0m-2 1h0m-4-2h0m0 4h0m-3 1h0m-19 5h0m3-2h0m4 0h0m3 2h0m3-1h0m4-3h0m1 3h0m0 1h0m3-5h0m0 6h0m9-1h0m1-3h0m0 4h0m0-2h0m6 0h0m1-2h0m2 3h0m5-2h0m0 2h0m2 0h0m4 1h0m2-3h0m2-1h0m3 0h0m1-1h0m3 3h0m1 2h0m1-3h0m0 2h0m1-3h0m1 3h0m0-1h0m2-3h0m1 1h0m0 1h0m1-2h0m0 2h0m4 0h0m17-2h0m1-1h0m3 5h0m1-2h0m1 1h0m1-2h0m4 3h0m9-1h0m0 1h0m0 0h0m13 0h0m0 0h0m3-3h0m2 2h0m3-4h0m1 4h0m1 1h0m4 0h0m4 1h0m1-3h0m0 1h0m1 0h0m0-1h0m30 9h0m-3 0h0m-3-1h0m-24-4h0m-2-1h0m0 0h0m-2 4h0m-2-4h0m-3 0h0m-2 2h0m-1 1h0m0 3h0m-1 0h0m0-2h0m0 0h0m-2-2h0m0-1h0m-1 3h0m0 1h0m-2 1h0m0-3h0m-1-2h0m-1 2h0m0-1h0m-3-1h0m-1 3h0m-2-1h0m-1-2h0m-1 0h0m-7 4h0m-2 0h0m-1-2h0m0-1h0m-2 1h0m-2-3h0m-1 2h0m0 3h0m-1-1h0m-1-2h0m-3 1h0m-1-2h0m0 3h0m-1 0h0m-2-3h0m-1 1h0m0 0h0m0 0h0m-2 1h0m-11-2h0m-8 1h0m-2 1h0m-4-2h0m-1 4h0m0-5h0m-1 3h0m0 0h0m0 3h0m-9-6h0m0 6h0m-3-2h0m-1-3h0m-1 0h0m-2 4h0m-2-1h0m-1-2h0m-1 4h0m-7-2h0m-1-4h0m-4 1h0m-1 5h0m-3-2h0m-4-1h0m0-2h0m0 1h0m0 4h0m-3-1h0m-4 1h0m-11-2h0m-2 3h0m0 3h0m5 0h0m4 2h0m3-4h0m1 1h0m2-3h0m1 5h0m4-3h0m1 0h0m0-2h0m1 3h0m0-2h0m1 1h0m6 3h0m5-4h0m0 3h0m4-2h0m2 4h0m0-5h0m7 3h0m5-1h0m0-2h0m5 5h0m1-4h0m3 3h0m2-4h0m10 4h0m7 0h0m3-1h0m7-1h0m12-2h0m3 1h0m1 1h0m0 3h0m1-5h0m2-1h0m2 3h0m1 1h0m0 0h0m1-3h0m1 3h0m3-3h0m2 5h0m0-6h0m0 0h0m1 4h0m1-3h0m2 0h0m5 1h0m4 2h0m0-1h0m0-1h0m1 1h0m0 1h0m2-3h0m13 2h0m5 1h0m3 1h0m2-2h0m2 0h0m1 0h0m5-2h0m3 5h0m5-2h0m1 2h0m2 5h0m-1-2h0m0 1h0m-1 0h0m-2-1h0m-1 2h0m-3-4h0m0 3h0m-2-2h0m-1 1h0m-1 1h0m-1 2h0m-5-1h0m0 0h0m-3-4h0m-1 3h0m-1-1h0m-3-2h0m-4 1h0m0-1h0m-9 1h0m-1 3h0m0-1h0m-3-3h0m0 1h0m0 2h0m-1-2h0m0 2h0m0 0h0m-2-4h0m-5 3h0m-1 0h0m0 1h0m-1-2h0m0-1h0m-5 4h0m0-3h0m-3 0h0m0-2h0m-1 3h0m-3 3h0m0-4h0m0 3h0m-1 1h0m-2-6h0m0 0h0m0 1h0m-1 3h0m-1-2h0m0 1h0m0 3h0m-2-3h0m-2-1h0m-1 1h0m-1 1h0m-1-3h0m-2 5h0m-2-1h0m-2-2h0m0-2h0m-1 3h0m-1-2h0m0 4h0m0-3h0m0-1h0m-1-1h0m-1 3h0m-4-2h0m-3-2h0m-3 0h0m0 4h0m-1-3h0m0 2h0m0 0h0m-2-1h0m0 0h0m-1-1h0m-2 4h0m-2-4h0m-3 3h0m-15-2h0m-1 2h0m-2-3h0m0 3h0m-2-3h0m-4-1h0m-2 5h0m-2 0h0m0 0h0m-1-1h0m0-3h0m-4 3h0m-5-3h0m0 3h0m0-2h0m0 3h0m-4-5h0m-9 0h0m-1 0h0m-1 2h0m-4 1h0m-19 8h0m1 0h0m2-1h0m1 0h0m3-4h0m11 1h0m17 0h0m0 4h0m6-3h0m3 2h0m0-3h0m3 3h0m2-3h0m0-1h0m1 1h0m2 2h0m2 1h0m9 1h0m13-3h0m4 2h0m0-3h0m1 4h0m0 0h0m1-4h0m0 5h0m2-4h0m5 0h0m1 4h0m2-3h0m0 2h0m2-3h0m0 3h0m2-4h0m0 1h0m1-1h0m2 1h0m3-1h0m1 2h0m0 0h0m3-1h0m0 1h0m0-1h0m1 4h0m5-3h0m2-1h0m1 2h0m0 1h0m6 1h0m3-2h0m0 1h0m3 0h0m1 0h0m1-4h0m0 0h0m1 3h0m0 2h0m1-2h0m2-3h0m1 4h0m2-3h0m2 2h0m1-2h0m0-1h0m2 0h0m2-1h0m0 2h0m2-1h0m3 1h0m0-2h0m2 3h0m1 3h0m2-1h0m3-3h0m1 1h0m0 0h0m1-1h0m1 1h0m0 1h0m2-1h0m0 1h0m1-1h0m0-2h0m0 4h0m1 0h0m0-4h0m1 0h0m0 3h0m0 1h0m2-5h0m1 6h0m0-5h0m1-1h0m1 3h0m1 3h0m0-6h0m3 6h0m0-5h0m1 4h0m0-3h0m3 1h0m1 1h0m4-3h0m2 11h0m-3-5h0m-3 1h0m0 0h0m-3 0h0m-2 0h0m-1-1h0m-2 2h0m-3-1h0m-2 3h0m-4 0h0m0-2h0m-1 0h0m0 2h0m0 1h0m0-4h0m-1-1h0m-1 0h0m0 1h0m-1 2h0m0-2h0m-3 3h0m0 0h0m0-2h0m-1-1h0m-2 1h0m-1-1h0m-2 2h0m-1-1h0m-7-2h0m-1 4h0m0 0h0m0 0h0m-1-3h0m-6 0h0m-1 3h0m-5-4h0m0 4h0m-2-4h0m-3 1h0m0-1h0m-1 3h0m-1-3h0m-1 1h0m-1 2h0m0 1h0m-1-1h0m-1-3h0m0 0h0m0 3h0m-5 1h0m-5-5h0m-1 0h0m-1 2h0m-3 3h0m-1-3h0m0 0h0m-1 2h0m-3-2h0m-1 2h0m0 1h0m0-2h0m-1-1h0m-1 0h0m0-2h0m-1 4h0m0-1h0m-3-3h0m-2 0h0m-2 1h0m0 0h0m0 3h0m-1-2h0m-2 4h0m0-5h0m0 1h0m0 1h0m-3 0h0m-1-2h0m-5 2h0m-4-3h0m-7 6h0m-12-4h0m-1-1h0m-5 3h0m-5-2h0m-1-1h0m-5 0h0m-15 4h0m-1 0h0m-1-1h0m-11-3h0m-6 0h0m-3 0h0m16 8h0m6 1h0m3-2h0m12 3h0m7 0h0m1 0h0m1 1h0m0-1h0m1 0h0m0 0h0m1 1h0m0-1h0m2 0h0m3-3h0m7 3h0m4-4h0m0 2h0m1 1h0m7 0h0m0 1h0m3 0h0m2 0h0m0-3h0m5 4h0m1-5h0m2 0h0m4 2h0m4-3h0m3 1h0m1 0h0m1 4h0m1-3h0m2 3h0m9 0h0m2-5h0m1 3h0m4-2h0m0 2h0m2-2h0m4 2h0m0 0h0m1 0h0m0 0h0m1 2h0m0-4h0m1 4h0m1-4h0m1 4h0m1-2h0m1 0h0m3-1h0m1 0h0m2 0h0m0 2h0m3 0h0m1 2h0m3-4h0m0 0h0m1 2h0m1-3h0m0 5h0m2-6h0m1 1h0m0 4h0m3-5h0m0 5h0m2 0h0m0 1h0m1-3h0m1 3h0m0 0h0m0 0h0m1-2h0m0-4h0m0 0h0m1 3h0m1-1h0m1 2h0m0-1h0m1 0h0m1 2h0m0-2h0m2-1h0m0 2h0m1-2h0m0-2h0m2 5h0m1-5h0m1 4h0m1-3h0m0-1h0m2 3h0m1 0h0m0-1h0m0 2h0m1 1h0m1-4h0m1 0h0m0 4h0m1-1h0m2-3h0m1-1h0m3 2h0m7 2h0m0 1h0m2-1h0m0 5h0m-1 0h0m-2-2h0m-1 3h0m-2 0h0m-2-2h0m-3 1h0m0 3h0m-1-1h0m-4-2h0m-3-2h0m0 5h0m0-4h0m-1 2h0m-1 0h0m-1 0h0m0-2h0m0 3h0m-2-3h0m0 0h0m0-1h0m-2 0h0m-1 5h0m-1-3h0m-5-2h0m-1 0h0m-1 3h0m0 1h0m0-5h0m-2 3h0m-2 1h0m-2-4h0m-1 5h0m0-2h0m-2 1h0m-3 0h0m0-1h0m0-1h0m-1-2h0m0 4h0m-1 1h0m-1 0h0m-2-5h0m-2 3h0m0-3h0m0 5h0m-2 0h0m-3-3h0m0 1h0m-1 0h0m-5-1h0m-6-2h0m0 0h0m-1 0h0m0 1h0m-3 2h0m0-1h0m-1-1h0m-4 1h0m-1 0h0m-1 1h0m-1 0h0m-1 2h0m-1 1h0m-1-4h0m-3 0h0m0 0h0m-4 2h0m-1-2h0m0 2h0m-2-4h0m0 1h0m0-1h0m-1 4h0m0-1h0m-5-3h0m0 1h0m-1 1h0m-3-1h0m-1 0h0m-2 1h0m-1 4h0m-2-1h0m-2 1h0m0-2h0m-4 2h0m-11 0h0m-6-1h0m-4-1h0m-1-3h0m-2-1h0m-10 1h0m-1-1h0m0 4h0m-16 1h0m-5 0h0m-9 6h0m3-1h0m12-1h0m1-3h0m1 2h0m4 0h0m0-2h0m4 2h0m18 2h0m3-1h0m7-1h0m11-2h0m3 1h0m4 3h0m1-3h0m1 5h0m1-3h0m0-1h0m3-2h0m1 6h0m3-4h0m5-1h0m0 1h0m7 0h0m1 0h0m5 3h0m2-4h0m0 3h0m1-2h0m2 4h0m3-2h0m1 1h0m1-1h0m0-2h0m4 3h0m1-4h0m2 5h0m1-6h0m1 2h0m3 0h0m4 1h0m1-1h0m4-2h0m2 1h0m0 3h0m1-1h0m3-2h0m1 0h0m1 1h0m1 0h0m0 2h0m0-1h0m1-2h0m1 2h0m1 3h0m1-3h0m1-2h0m4 2h0m1 2h0m3-1h0m2 1h0m2 0h0m0-1h0m2-2h0m2 0h0m2-2h0m1 5h0m1 1h0m0-5h0m1 3h0m0 1h0m4-1h0m0-1h0m7 1h0m1-1h0m0 1h0m1-4h0m0 5h0m0 3h0m-4 0h0m-3 3h0m-1-4h0m-3 4h0m-2-2h0m0-2h0m0 3h0m-1-1h0m0-2h0m-1 4h0m0-5h0m-1 6h0m-5-5h0m0 0h0m0 4h0m-4-3h0m0-2h0m-1 1h0m-2 4h0m0-4h0m-4 0h0m0 0h0m-2 0h0m-2 0h0m-1 4h0m-3-4h0m-1 4h0m-1-4h0m0 3h0m-1 1h0m-6-1h0m-1-2h0m0 0h0m-2 3h0m0-3h0m-1 1h0m-1-2h0m-5 2h0m-1 1h0m-1-3h0m-1 0h0m0 4h0m-1-1h0m0 1h0m-2-3h0m-1-2h0m-1 2h0m-1 1h0m0 0h0m-2-2h0m-2 3h0m0-3h0m-1 2h0m-1 0h0m0 2h0m-1 1h0m-1-2h0m-1 2h0m-1-2h0m-3-2h0m-2-1h0m0 4h0m0-3h0m0 1h0m-1-1h0m0 1h0m-1 2h0m0 0h0m-4 0h0m-1-4h0m0 2h0m-2-1h0m-3-1h0m-1 1h0m-1 3h0m-1-3h0m-2 1h0m-4 1h0m0-3h0m-1 3h0m-2-3h0m0 3h0m-4-1h0m-2-1h0m-1-2h0m-1 6h0m-18-6h0m-23 6h0m-8-2h0m-3-3h0m0 3h0m-1-2h0m-7 1h0m0-2h0m-2 1h0m3 6h0m2 3h0m1-2h0m3 0h0m1-1h0m1 1h0m10 0h0m0 1h0m1-2h0m40 2h0m0 1h0m1-3h0m0 3h0m1-2h0m1-1h0m2 0h0m0-1h0m3 5h0m2-4h0m1 0h0m1-1h0m2 4h0m2 0h0m2-1h0m0-2h0m1 3h0m0-4h0m1 2h0m0-2h0m4 3h0m1-4h0m0 6h0m0-4h0m1-1h0m1 1h0m1 2h0m0 1h0m2-5h0m2 4h0m3-3h0m0-1h0m1 3h0m4 2h0m2-1h0m5 0h0m1-3h0m1 3h0m1-2h0m1 2h0m0-1h0m2 2h0m0 0h0m2-3h0m1 0h0m3-1h0m0 0h0m2 1h0m5 3h0m1-3h0m1-1h0m2 4h0m2-2h0m4-2h0m2 5h0m3-3h0m1-2h0m0 4h0m1-1h0m1 2h0m3-2h0m0-1h0m0-2h0m1 2h0m0 1h0m1 1h0m1-1h0m2-2h0m5 2h0m2-2h0m1 0h0m6 1h0m-6 4h0m-6 0h0m0 0h0m-3-1h0m-1 3h0m-1-3h0m-2 4h0m0-2h0m-1 2h0m0-3h0m0 0h0m0 3h0m0 0h0m-1-1h0m-2 2h0m-4-2h0m-7-2h0m-1 2h0m-1 0h0m-3 3h0m-3-5h0m-1 4h0m0-2h0m-1-3h0m0 4h0m-3 1h0m0-3h0m-3 3h0m-3-3h0m0-1h0m-4 2h0m-4-2h0m-2 4h0m0-4h0m-2 4h0m-2-1h0m-1 2h0m0-5h0m-2 2h0m-1-3h0m0 2h0m-2 2h0m-1-1h0m-2 1h0m0 0h0m0-4h0m-1 0h0m-5 3h0m-1 2h0m0-2h0m-1 0h0m0 2h0m-1-2h0m-3 3h0m-1-2h0m-1-1h0m-1 1h0m0-2h0m-1 4h0m-1-2h0m0-3h0m-1 0h0m-1 2h0m-4 1h0m-3-2h0m-1 3h0m-2-2h0m-16 2h0m-6-1h0m-8 1h0m-3-2h0m-1-1h0m-8 8h0m1 1h0m4-1h0m0 0h0m2-1h0m3-2h0m0-1h0m3 1h0m0 3h0m4-3h0m2 5h0m1-5h0m7 4h0m0-4h0m2 3h0m0-4h0m3 5h0m0-5h0m12 6h0m1-3h0m3 1h0m0 0h0m2-2h0m2-2h0m1 5h0m0-3h0m0 3h0m1-3h0m2-1h0m1 1h0m1 0h0m0 2h0m0 0h0m4-2h0m0 3h0m1-3h0m2 2h0m0-4h0m2 1h0m2 5h0m3-2h0m2-4h0m2 2h0m0 4h0m0-5h0m2 2h0m2 0h0m1 2h0m2-3h0m1-1h0m3 2h0m2-1h0m1 2h0m2-2h0m4 4h0m1-6h0m1 4h0m1-3h0m0 3h0m3-3h0m2 2h0m7 0h0m2 2h0m1-1h0m0-3h0m1 2h0m4 2h0m1-5h0m2 2h0m1 0h0m1-2h0m1 6h0m2-6h0m2 3h0m4-1h0m21-2h0m1 1h0m-7 8h0m0-1h0m-3 0h0m-2 3h0m-17-2h0m-2 1h0m-1 0h0m0 0h0m-1-3h0m-1 2h0m-1 2h0m0-4h0m-3 2h0m-3-1h0m-6 3h0m0-5h0m-3 1h0m-3 3h0m-1 2h0m-3-3h0m-1 1h0m-1-4h0m0 0h0m-2 4h0m-1-3h0m-5 1h0m-1 2h0m0 2h0m-1-1h0m-1 0h0m0-4h0m-6 1h0m-1 0h0m0 1h0m0 1h0m-1-2h0m-1 3h0m-4 1h0m-1-6h0m0 3h0m-1 1h0m-4 1h0m-1-5h0m-4 4h0m-1 2h0m-2-4h0m-3 1h0m0 1h0m-2-1h0m0 2h0m-4-4h0m-1 4h0m-1-3h0m-10-1h0m-4 5h0m0-4h0m0-1h0m-4 1h0m-3 4h0m-8-6h0m-2 4h0m-4 0h0m-1-1h0m-2-1h0m0 0h0m-4 1h0m-3 1h0m-1 2h0m-2-3h0m-1-2h0m7 9h0m2 0h0m1-2h0m4 0h0m5 3h0m11-3h0m20-1h0m3 2h0m0 2h0m1-3h0m1 3h0m8 1h0m3-5h0m0 4h0m2-4h0m1 1h0m1-2h0m4 1h0m0 5h0m0 0h0m0 0h0m1-6h0m0 0h0m1 5h0m0-4h0m2 3h0m2-2h0m2 3h0m2-1h0m1-2h0m6 2h0m2 0h0m1 0h0m1-1h0m0 1h0m2-2h0m0 1h0m2 3h0m1-5h0m0-1h0m0 3h0m3 0h0m1-3h0m4 5h0m3-1h0m2-4h0m1 1h0m1 4h0m4 0h0m1-4h0m1 5h0m2 0h0m1-3h0m2 0h0m0-3h0m0 0h0m-9 10h0m-1 1h0m0 0h0m-5-1h0m-2-2h0m0 4h0m-1-4h0m-3 4h0m0-1h0m0-1h0m-1-2h0m-2 0h0m0 2h0m-1-3h0m0 4h0m-3 1h0m-1-3h0m0 2h0m-1-3h0m-1 0h0m-1 2h0m-2 0h0m-1 2h0m-5-4h0m0 0h0m-4 2h0m-2 1h0m0-2h0m-2-2h0m-1 5h0m-5-3h0m-2 1h0m-1-1h0m-4 2h0m-1-2h0m-1 0h0m-5 0h0m-2 0h0m12 9h0m5-5h0m2-1h0m0 5h0m2 0h0m0-4h0m1 1h0m0 3h0m3 0h0m0-3h0m2-2h0m1 0h0m2 3h0m2-2h0m1 1h0m1 0h0m1 1h0m1 3h0m1-4h0m0-1h0m1 1h0m2 1h0m0 2h0m3 0h0m3-3h0m1 4h0m2 0h0m1-1h0m3 0h0m1-3h0m1 1h0m1 0h0m0-2h0m2 1h0m2 2h0m-13 4h0m-4 0h0m-1-1h0m-1 2h0m-3 0h0m-4 0h0m0 1h0m-1-3h0m0 2h0m-2-1h0m0 0h0m-1 3h0m-3-1h0m-3-3h0m-5-1h0m-2 1h0m-8 1h0m30 6h0m5-1h0m0 3h0" stroke="#926aef" stroke-width="2.10" stroke-linecap="round" fill="none"/><path d="M76-177h0m1 2h0m6 3h0m-2-1h0m0 3h0m-2-1h0m-9 0h0m-3 0h0m-1-3h0m-1 2h0m-8 4h0m0 2h0m1 1h0m0-2h0m0 4h0m7-3h0m2 2h0m4-3h0m0 3h0m0 0h0m1 1h0m2-2h0m1-3h0m4 0h0m1 5h0m0-3h0m4 2h0m1 0h0m0-4h0m1 6h0m6-2h0m37 1h0m3-4h0m13 5h0m-3 6h0m-21 0h0m-24-3h0m-1 0h0m-1 3h0m-1-2h0m-2 2h0m0-2h0m-3-2h0m-5 3h0m0-1h0m0-1h0m-2 2h0m-4-1h0m0-2h0m0-1h0m-2 0h0m-1 4h0m-2-2h0m-1-3h0m0 1h0m-1 0h0m-1 4h0m-2-1h0m-1-2h0m0 4h0m-1-5h0m-3 0h0m-2 3h0m-1-1h0m0-2h0m-1-1h0m0 5h0m0-5h0m-1 4h0m-3-2h0m0 1h0m-4 0h0m-2-2h0m7 11h0m2-3h0m1 3h0m2-4h0m1 3h0m0-1h0m4-3h0m1 5h0m0-4h0m1 3h0m1 0h0m0 0h0m3-4h0m1 3h0m1-2h0m1 2h0m0-4h0m1 5h0m4-4h0m6 1h0m0 3h0m1-2h0m0 0h0m1 2h0m1-1h0m0-2h0m2 3h0m1-3h0m1 1h0m1-1h0m2 2h0m2 0h0m1 0h0m4-1h0m2-1h0m0 1h0m25 2h0m13-2h0m9 0h0m1 2h0m-3 4h0m-3 2h0m-4-1h0m-34-2h0m-5 2h0m-3 0h0m0 1h0m-1-1h0m-1-1h0m0-2h0m0 4h0m-1-3h0m-5 0h0m-4 1h0m-2 0h0m-4-1h0m-1-2h0m-1 3h0m-4-3h0m-3 5h0m-4-5h0m-2 5h0m0-2h0m0 0h0m-2-1h0m0 1h0m0-2h0m-6 2h0m0-3h0m-3 2h0m-3 2h0m-14 7h0m7-2h0m1 2h0m3-5h0m1 3h0m0 2h0m2 1h0m0-3h0m1 1h0m0 2h0m0-1h0m2 1h0m0-5h0m2 1h0m0 3h0m2 0h0m2-3h0m1 4h0m1-1h0m2 0h0m0-1h0m2-3h0m2 3h0m3 0h0m6 0h0m4 1h0m3-5h0m8 1h0m2-1h0m4 0h0m2 3h0m2 0h0m3 0h0m3 1h0m28-3h0m33 4h0m1 6h0m-1-5h0m-6 5h0m-38 1h0m0-1h0m-1-1h0m-8 0h0m-14 1h0m0-3h0m0 1h0m-2 0h0m-7-2h0m-4 1h0m-6 2h0m-2-3h0m-1 5h0m-2-2h0m0 0h0m-2-1h0m-1 1h0m0-1h0m-1 2h0m-2-2h0m-1-1h0m-2-1h0m0 3h0m-3-4h0m0 1h0m-2 0h0m-1 4h0m-1-1h0m-1-3h0m-2 0h0m-2 2h0m-1-1h0m0 4h0m-1 0h0m0-1h0m0-4h0m-3 3h0m0 1h0m0-3h0m0 2h0m-2-3h0m0 0h0m-1 3h0m-1-1h0m-2-1h0m-2 3h0m0 0h0m-2-2h0m-2 3h0m0-2h0m-2-4h0m0 4h0m-1-2h0m-4 1h0m-2 3h0m0 1h0m3 0h0m1 2h0m1 2h0m0-4h0m1-1h0m4 3h0m0 2h0m1-2h0m1-1h0m1 0h0m3 1h0m1 1h0m7-2h0m0-2h0m1 2h0m2 2h0m2 1h0m1-5h0m1 0h0m1 5h0m1-5h0m1 4h0m1 0h0m1 0h0m5 0h0m0 1h0m0-3h0m1-1h0m1 0h0m0 4h0m1-4h0m1-1h0m0 1h0m2 4h0m1-4h0m4 0h0m0 2h0m2 3h0m3-4h0m2-2h0m10 0h0m0 1h0m1 0h0m2 0h0m15 3h0m6-3h0m1 3h0m2-2h0m32-1h0m3 0h0m1 3h0m7-1h0m0 2h0m6 0h0m-2 2h0m0 0h0m-5-1h0m-26 3h0m-8 2h0m-54-4h0m-2 5h0m-1-6h0m0 3h0m0 3h0m-3-5h0m0 2h0m-2-1h0m0-2h0m-1 6h0m-3-1h0m-2 0h0m-1-2h0m-1 1h0m-2-4h0m-3 5h0m0 0h0m0 0h0m-1 0h0m0 0h0m-3-1h0m-4-1h0m0 1h0m0-3h0m-5 3h0m0 0h0m0 2h0m-1-3h0m-2-3h0m-2 2h0m0 0h0m-2 2h0m-4-3h0m-1 4h0m0-4h0m-2 1h0m-2-2h0m-1 0h0m-1 5h0m-1 0h0m-2 0h0m0 1h0m0-6h0m0 9h0m1 3h0m1-4h0m2 2h0m0-1h0m0 3h0m3-5h0m3 2h0m2 1h0m1 0h0m2 2h0m1-1h0m0-3h0m1 0h0m0 0h0m0 1h0m2-1h0m0-1h0m0-1h0m2 2h0m1 1h0m1-1h0m0 2h0m1-2h0m1 1h0m0 0h0m2 1h0m1-4h0m3 3h0m1-2h0m0 3h0m2 0h0m4 0h0m1-1h0m1 2h0m0-1h0m2-2h0m0 4h0m3-1h0m0-2h0m0-3h0m0 1h0m0 2h0m1 0h0m0-1h0m0 3h0m0-1h0m1-1h0m0-3h0m2 4h0m1 1h0m1-2h0m0 0h0m1-3h0m2 2h0m3 2h0m0-3h0m1 3h0m23 1h0m31 0h0m1 1h0m0-3h0m1 2h0m0-1h0m1 1h0m0-4h0m1 2h0m3 2h0m0 1h0m0-4h0m2 4h0m3-1h0m1 1h0m1-1h0m0 1h0m0-2h0m1-2h0m2 4h0m-1 0h0m0 1h0m-1 1h0m-3 1h0m0 2h0m0-2h0m-1-1h0m-3 3h0m0-1h0m-1 1h0m-1-3h0m-4-1h0m-4 3h0m-1-3h0m0 3h0m-3-2h0m-5 1h0m-7-1h0m0 3h0m-9-4h0m-15 5h0m-9-5h0m-3 0h0m0 4h0m-4-3h0m0 4h0m-2-6h0m-1 2h0m0 1h0m-1-1h0m0 3h0m0-3h0m-1 1h0m0 0h0m0 0h0m0 2h0m-2-2h0m-1-3h0m-2 5h0m0-3h0m0 1h0m-1 1h0m0-1h0m-1 0h0m-2 1h0m-2-4h0m-1 2h0m-2 0h0m-2-1h0m-3 4h0m-1-1h0m-1-1h0m-2 0h0m-1-1h0m0-1h0m-3 4h0m-3 0h0m-1-2h0m-1 3h0m0-4h0m-5-1h0m0 0h0m-2 5h0m-1-1h0m-7-5h0m-1 3h0m0-1h0m-19 2h0m15 4h0m9-1h0m0 2h0m0-3h0m2 5h0m2 0h0m1-2h0m4 3h0m2-5h0m0 1h0m4 2h0m1 2h0m0-4h0m2 4h0m5-2h0m1-3h0m9 1h0m1-1h0m3 4h0m1-2h0m0 1h0m2-3h0m1 0h0m1 0h0m0 1h0m2-1h0m17 4h0m3-1h0m2 2h0m1-3h0m11-2h0m1 0h0m10 2h0m14 0h0m5-1h0m0-1h0m31 4h0m13 1h0m-19 3h0m0-2h0m-33 2h0m-14-2h0m-19 5h0m-6 0h0m-5-2h0m-6-3h0m-16 1h0m-3 1h0m-1-1h0m-3 2h0m-6 1h0m-1 1h0m-1-4h0m-1 3h0m0-2h0m0-2h0m-1 4h0m0-1h0m0-3h0m0 5h0m-3-2h0m0-1h0m-5-1h0m-1-1h0m-1 0h0m0 2h0m-3-1h0m-4-1h0m-6 1h0m-4 2h0m12 5h0m5 3h0m1-3h0m0-2h0m2 3h0m1 0h0m2-2h0m9-1h0m0 4h0m1 1h0m1-4h0m0 1h0m0-1h0m4-1h0m18 4h0m4-2h0m26-3h0m2 1h0m0-1h0m5 1h0m8 0h0m2 2h0m6 1h0m51-2h0m1-1h0m7 2h0m-18 5h0m-1 4h0m-17-1h0m-11-1h0m-1 1h0m0-2h0m-26-1h0m-1-1h0m-2 4h0m-10-1h0m-8-1h0m-7 0h0m-9-3h0m-21 0h0m-4 2h0m-6 2h0m-1-3h0m-2 1h0m-2 2h0m-1-2h0m-6-2h0m-15 6h0m-15-6h0m-2 2h0m-1 1h0m12 6h0m2 0h0m4-1h0m1-2h0m28 6h0m5-1h0m10 0h0m22-1h0m0 1h0m5-5h0m1 2h0m16 4h0m1-4h0m0 1h0m5-1h0m3 0h0m1-2h0m2 2h0m3 1h0m14 2h0m6 1h0m1-5h0m6 4h0m4-4h0m12 2h0m-9 8h0m-31 1h0m-2-4h0m-25-1h0m-56 0h0m-17 5h0m-4-5h0m-3 5h0m-1-6h0m-1 6h0m0-1h0m-8 5h0m0-4h0m1 4h0m1-1h0m0 3h0m1-4h0m1 2h0m2 2h0m6-3h0m1 0h0m2-1h0m1-1h0m2 3h0m1-4h0m4 3h0m2 0h0m15 0h0m1 1h0m4-3h0m7 0h0m12 1h0m25 1h0m41-1h0m11 2h0m1 2h0m0-2h0m-43 3h0m-3 3h0m-5 1h0m-11-5h0m-20 6h0m-37-5h0m-5 5h0m-2-4h0m0 3h0m-1-2h0m-3 1h0m-1 0h0m-1 0h0m-3-3h0m0 5h0m-1-1h0m0-1h0m-1 0h0m-2 0h0m0-2h0m-7-1h0m3 7h0m3 0h0m9-1h0m1 4h0m3-1h0m2 1h0m1-2h0m0-1h0m2 3h0m55 0h0m3-3h0m4 3h0m7-4h0m7 4h0m2-2h0m6-2h0m2 4h0m4-1h0m8-1h0m4-3h0m1 0h0m7 0h0m26 4h0m1 3h0m-10 2h0m-3-2h0m-3 4h0m-16-2h0m-4 0h0m-1-1h0m-20 1h0m-8-1h0m-8 2h0m-11-1h0m-6 2h0m-1-4h0m-25 0h0m-2 3h0m-9 1h0m-19-5h0m13 11h0m1 0h0m7-4h0m1 4h0m2-2h0m4 0h0m7 1h0m0-4h0m5 5h0m3-1h0m11-4h0m0 1h0m1 3h0m23 1h0m27-4h0m1 2h0m0 0h0m5 1h0m3 0h0m1-3h0m13 3h0m6-3h0m24 2h0m-22 5h0m-6 0h0m-29 1h0m-5 2h0m-7 0h0m0-2h0m-32 2h0m-30 0h0m-5 0h0m-5-2h0m-6 0h0m0 6h0m1-2h0m2 1h0m11 1h0m1 2h0m2 0h0m1-4h0m3 1h0m56 3h0m12 1h0m3-4h0m8-2h0m2 2h0m1-1h0m5 5h0m-2 4h0m-4-2h0m-2-1h0m-8 4h0m-13-4h0m-2 3h0m-2 1h0m-3-3h0m-5 4h0m-11-3h0m-4-1h0m10 4h0m13 1h0m4 1h0m3 3h0m9-5h0m7 1h0m5 0h0m2 1h0m-12 4h0m-5 1h0m-1 1h0m-14 5h0" stroke="#794ff4" stroke-width="2.10" stroke-linecap="round" fill="none"/><path d="M74-173h0m-5 1h0m-7 4h0m-9 4h0m16 1h0m2-4h0m6 4h0m14-5h0m7 11h0m0 1h0m-11-2h0m0-3h0m-7 1h0m-18 0h0m-2-1h0m-8 2h0m-1 3h0m27 1h0m1 9h0m-25 2h0m-1 1h0m1 4h0m0-1h0m4-1h0m8 2h0m6-4h0m16 5h0m1-3h0m12 1h0m75 7h0m-9-2h0m-40 0h0m-6 1h0m-17 1h0m-10-1h0m-6-4h0m-6 0h0m-15 0h0m-3 5h0m-3 0h0m-2 1h0m2 5h0m4 0h0m3 1h0m2-1h0m3-5h0m3 3h0m6-2h0m38 3h0m2 0h0m56 2h0m-94 5h0m-4 1h0m-5-1h0m-3-4h0m-4 1h0m-2 1h0m-3 0h0m-7 0h0m-8-3h0m-2 3h0m-10 1h0m-1-3h0m-2 4h0m-1-1h0m0 2h0m2 1h0m4 0h0m14 3h0m2-3h0m16 5h0m2-4h0m0 0h0m4 3h0m0-3h0m4 0h0m1 0h0m0-2h0m2 5h0m3-3h0m1-1h0m1 3h0m1 1h0m51-2h0m1 3h0m1-4h0m2 1h0m1 0h0m7 3h0m1-2h0m1 0h0m3-1h0m0-1h0m-4 7h0m-5-1h0m-1 2h0m0 0h0m-1-2h0m-59-1h0m-4-1h0m-2 1h0m0 4h0m-1-5h0m-1 6h0m0-5h0m0 2h0m-1 3h0m-2-1h0m-1-4h0m-1 0h0m0 2h0m-2-3h0m0 1h0m-15 2h0m-8 3h0m2 5h0m0 0h0m4-3h0m9 3h0m9 0h0m4-3h0m-13 7h0m-8 2h0m-5 0h0m-4-2h0m-2 0h0m-1 1h0m-5 8h0m1-4h0m6 2h0m3 2h0m4-1h0m1-1h0m1 1h0m6-1h0m2-2h0m26 9h0m-34-3h0m-2 2h0m-1-3h0m-4 1h0m-5 0h0m-21 18h0m8-1h0m34 1h0m-33 5h0m-1-1h0m-5 2h0m-1 1h0m-2 2h0m-3-3h0m-1 2h0m-2 1h0m13 6h0m84-2h0m-55 7h0m125 8h0" stroke="#5731fa" stroke-width="2.10" stroke-linecap="round" fill="none"/><path d="M67-174h0m6 18h0m-13 24h0m17 8h0m-30 3h0m35 12h0m-9-2h0m-15 14h0m-11 7h0m-18 16h0" stroke="#0000ff" stroke-width="2.10" stroke-linecap="round" fill="none"/></g>
<path d="M536.5 343.54V357.3H550.26" stroke="#111" stroke-width="0.75" fill="none"/><path d="M534.8 344.7L536.5 341.8L538.2 344.7Z" fill="#111"/><path d="M549.1 355.6L552.0 357.3L549.1 359.0Z" fill="#111"/><text x="540.1" y="366.8" font-size="5.1" fill="#222">tSNE_1</text><text x="0" y="0" font-size="5.1" fill="#222" transform="translate(531.3 356.7) rotate(-90)">tSNE_2</text>
<text x="586" y="374.1" font-size="5.9" fill="#222" text-anchor="middle">L1MEc:L1:LINE</text>
<text x="586" y="380.7" font-size="5.9" fill="#222" text-anchor="middle">chr18:9678049−9678172</text>
<g transform="translate(536.5 473.8) scale(0.5)"><ellipse cx="74" cy="-149" rx="23" ry="23" transform="rotate(0 74 -149)" fill="#845bf1" fill-opacity="0.45"/><ellipse cx="105" cy="-143" rx="7" ry="11" transform="rotate(0 105 -143)" fill="#8a62f0" fill-opacity="0.45"/><ellipse cx="55" cy="-119" rx="24" ry="21" transform="rotate(0 55 -119)" fill="#8057f2" fill-opacity="0.45"/><ellipse cx="80" cy="-114" rx="9" ry="7" transform="rotate(0 80 -114)" fill="#774ff4" fill-opacity="0.45"/><ellipse cx="135" cy="-155" rx="18" ry="14" transform="rotate(30 135 -155)" fill="#cbc4d7" fill-opacity="0.45"/><ellipse cx="124" cy="-131" rx="5" ry="5" transform="rotate(0 124 -131)" fill="#8d67ef" fill-opacity="0.45"/><ellipse cx="142" cy="-125" rx="5" ry="5" transform="rotate(0 142 -125)" fill="#9875ec" fill-opacity="0.45"/><ellipse cx="171" cy="-129" rx="9" ry="9" transform="rotate(20 171 -129)" fill="#b9a8de" fill-opacity="0.45"/><ellipse cx="150" cy="-114" rx="9" ry="4" transform="rotate(-10 150 -114)" fill="#9472ec" fill-opacity="0.45"/><ellipse cx="23" cy="-106" rx="11" ry="11" transform="rotate(0 23 -106)" fill="#c1b5db" fill-opacity="0.45"/><ellipse cx="50" cy="-93" rx="11" ry="6" transform="rotate(0 50 -93)" fill="#916cee" fill-opacity="0.45"/><ellipse cx="43" cy="-78" rx="8" ry="4" transform="rotate(0 43 -78)" fill="#a285e8" fill-opacity="0.45"/><ellipse cx="54" cy="-74" rx="4" ry="8" transform="rotate(0 54 -74)" fill="#a285e8" fill-opacity="0.45"/><ellipse cx="23" cy="-81" rx="4" ry="4" transform="rotate(0 23 -81)" fill="#a285e8" fill-opacity="0.45"/><ellipse cx="23" cy="-64" rx="12" ry="10" transform="rotate(0 23 -64)" fill="#b6a3e0" fill-opacity="0.45"/><ellipse cx="49" cy="-41" rx="17" ry="12" transform="rotate(0 49 -41)" fill="#ccc6d6" fill-opacity="0.45"/><ellipse cx="118" cy="-65" rx="41" ry="45" transform="rotate(0 118 -65)" fill="#9a78eb" fill-opacity="0.45"/><ellipse cx="166" cy="-77" rx="9" ry="25" transform="rotate(0 166 -77)" fill="#9e7dea" fill-opacity="0.45"/><ellipse cx="180" cy="-84" rx="12" ry="22" transform="rotate(0 180 -84)" fill="#9e7dea" fill-opacity="0.45"/><ellipse cx="145" cy="-113" rx="11" ry="7" transform="rotate(0 145 -113)" fill="#9877eb" fill-opacity="0.45"/><path d="M140-168h0m-1-1h0m-3 1h0m0-4h0m-1 4h0m-2-1h0m-7-1h0m0 1h0m0-1h0m0 1h0m-1-2h0m0 0h0m-1 3h0m-2-1h0m-47 6h0m4-5h0m36 2h0m1 3h0m2 1h0m1-4h0m0 2h0m1-2h0m0 2h0m0-2h0m0-2h0m0 3h0m0-2h0m2-1h0m2 4h0m2-1h0m0 3h0m1-5h0m2 2h0m0-2h0m2 1h0m1 3h0m0 0h0m0-1h0m0-3h0m1 3h0m1 0h0m0 1h0m4-4h0m0 0h0m1 0h0m0 0h0m0 4h0m1-2h0m0 2h0m0-2h0m0 2h0m0-1h0m1 1h0m0-3h0m2 3h0m3-1h0m1 2h0m0 0h0m2-1h0m4 6h0m-1-1h0m-1-1h0m-1 2h0m0-3h0m-1-2h0m-2 0h0m-1 1h0m-1 0h0m-1 1h0m0 3h0m-1-1h0m0-2h0m-1 0h0m-1 2h0m0-3h0m0 4h0m-1-1h0m-1 1h0m0-5h0m0 0h0m-1 4h0m-1-2h0m-1 0h0m0 1h0m-2 1h0m0 0h0m0 2h0m0-3h0m-1 0h0m-3-1h0m0 4h0m-1-2h0m0 1h0m0-5h0m-1 5h0m-1-5h0m-3 5h0m0-4h0m0 3h0m-1-1h0m0 0h0m-3 3h0m-1-1h0m0-1h0m-2-2h0m-1 2h0m-1 0h0m-22 1h0m-6-1h0m-10 0h0m-14-2h0m-4 2h0m46 4h0m11-2h0m2 4h0m0-3h0m4 2h0m0 1h0m1-4h0m0 1h0m1 3h0m1-3h0m0 5h0m2-1h0m1 0h0m2-3h0m0 3h0m1-1h0m0-2h0m1 0h0m0-1h0m1 5h0m1-2h0m0 0h0m0 0h0m1 0h0m2-2h0m0 3h0m1 0h0m1-3h0m1-1h0m1 3h0m1 1h0m2-3h0m0-1h0m0 0h0m0 4h0m1-4h0m1 2h0m0 2h0m2 1h0m1-3h0m0-2h0m1 5h0m1-1h0m0 0h0m1-1h0m1 0h0m0 4h0m0-1h0m-2 1h0m-1 0h0m0-1h0m-7 1h0m0 3h0m0-3h0m-1 3h0m-2 0h0m0 0h0m-3-1h0m-1-4h0m0 0h0m-1 5h0m-1-2h0m0-3h0m-1 4h0m-1-3h0m-1-1h0m-1 2h0m-1 1h0m0 0h0m-1 2h0m-1 1h0m-1-1h0m0-1h0m0-4h0m-1 2h0m-1-1h0m0 3h0m0-3h0m0 3h0m0 1h0m-1-5h0m-1 2h0m0 1h0m-2 0h0m-21 2h0m-15 0h0m-33 5h0m4-4h0m1 3h0m9-2h0m15 4h0m8-3h0m2 3h0m12 0h0m23-5h0m4 2h0m1-1h0m1-1h0m0 2h0m1 0h0m1-2h0m0 3h0m1 2h0m1-2h0m1-2h0m2 2h0m2 2h0m0-4h0m0-1h0m1 2h0m1-2h0m0 0h0m1 5h0m1-4h0m1 3h0m0 1h0m1-3h0m1 2h0m0-1h0m1-2h0m1 0h0m1 0h0m0 1h0m0 0h0m1-2h0m24 6h0m3 6h0m-1-3h0m-1-2h0m-3 2h0m-2-2h0m0 2h0m0-2h0m-2 1h0m0 0h0m-1 1h0m0 2h0m-4-2h0m-20-3h0m-7 0h0m-9 4h0m-4-3h0m-2 4h0m-28-3h0m-3-2h0m-15 1h0m-16 0h0m-5-1h0m-12 5h0m-7-3h0m-1 7h0m12 3h0m14-2h0m1 1h0m0 0h0m3 0h0m10-1h0m1-4h0m44 4h0m3-1h0m1 2h0m37-1h0m0 1h0m2-2h0m1 2h0m0-2h0m1 1h0m2-1h0m1-3h0m1 4h0m1-4h0m2 6h0m4 0h0m0-5h0m4 2h0m0 0h0m1-1h0m-2 6h0m-2-1h0m-2 2h0m-1-1h0m0 2h0m-2-2h0m0 4h0m-3-1h0m-2-2h0m0-2h0m-1 4h0m0-1h0m0-1h0m-1 2h0m0-3h0m-1 2h0m-1-1h0m-16 1h0m-2 1h0m-3 0h0m-3-2h0m-57-1h0m-1 0h0m-2-1h0m-3 0h0m-2 2h0m-2 2h0m-5-4h0m-6 1h0m-3 0h0m-6 1h0m-3 3h0m-7-2h0m-28 8h0m1-2h0m1 1h0m1 0h0m2-1h0m1 2h0m3-4h0m0-1h0m1 5h0m2-3h0m1-1h0m0-2h0m0 3h0m1-1h0m1 0h0m1 2h0m38 2h0m20-3h0m21 3h0m2-2h0m5 0h0m3 0h0m4 0h0m5 1h0m1 0h0m8 0h0m9-3h0m0 1h0m4 2h0m0-4h0m1 4h0m2-4h0m4 1h0m25 9h0m-17 1h0m-9-3h0m-2 0h0m-3 0h0m-6-3h0m0 1h0m-5 3h0m-16-3h0m-2 2h0m-4-2h0m0 3h0m-18 1h0m-1-1h0m-22 1h0m-2-1h0m-22-2h0m0 0h0m-2-1h0m-2-1h0m-15 5h0m0-4h0m-1 3h0m-4-2h0m-2-1h0m-1 2h0m0 2h0m-2-2h0m-1-1h0m-1 2h0m-1 0h0m0-1h0m0 2h0m-1-1h0m0 2h0m-1-4h0m0 0h0m-2-1h0m-1 4h0m0-4h0m-1 2h0m-1 0h0m-1 2h0m-1-2h0m0-1h0m-1 7h0m0 0h0m7-1h0m1 1h0m2-2h0m1-1h0m4 6h0m0-2h0m0-4h0m2 2h0m1 4h0m0-5h0m3 3h0m2-2h0m1 4h0m0-6h0m2 2h0m5 3h0m12 0h0m4-2h0m32 2h0m5-4h0m15 0h0m2 1h0m0-1h0m18 2h0m1-1h0m1 1h0m5-2h0m11 4h0m29-5h0m3 2h0m3-2h0m7 7h0m-4 0h0m0 2h0m-2-1h0m-7 2h0m-5 1h0m-1-1h0m-1-3h0m0 2h0m-2 2h0m0-5h0m-2 0h0m-2 3h0m-2 2h0m-1 0h0m-9-1h0m0-2h0m-2 2h0m-10 1h0m0-2h0m-12 2h0m0-4h0m-1 2h0m0-1h0m-4 3h0m-1-1h0m-1-1h0m-4 0h0m-4 0h0m-2 2h0m-6-4h0m-1 2h0m-12-3h0m-2 4h0m0-4h0m-1 2h0m-2 0h0m-1 3h0m-3 1h0m-2 0h0m-1-3h0m-12 1h0m-4 2h0m-5-3h0m-19-2h0m-6 4h0m-1-2h0m-1 1h0m-1-3h0m0-1h0m0 5h0m-1-3h0m-1 2h0m-4 2h0m-1-1h0m-1-5h0m-2 4h0m0 0h0m-1-1h0m0 2h0m-1-2h0m-1-1h0m-2 4h0m0-5h0m-2 3h0m-7 7h0m0 0h0m3-1h0m0 2h0m1-2h0m1 2h0m7-5h0m1 1h0m2-1h0m1-1h0m2 0h0m2 0h0m1 0h0m11 3h0m5 3h0m3-1h0m1-4h0m3 3h0m1-3h0m2 4h0m0-5h0m25 6h0m5 0h0m1-2h0m6-3h0m3 3h0m18 1h0m2-3h0m3 1h0m2 2h0m4-5h0m0 5h0m2-3h0m0 0h0m8 0h0m3-2h0m0 4h0m0 1h0m12 0h0m2-4h0m1 3h0m11-2h0m1-2h0m1 4h0m3 0h0m2 2h0m1-5h0m1 2h0m0 2h0m0-1h0m5-4h0m6 1h0m1 3h0m2 1h0m0 0h0m8 5h0m-4 0h0m0-3h0m-4 3h0m-4 2h0m0-3h0m-4 2h0m0-4h0m-6 4h0m-1-5h0m-1 5h0m-3-1h0m-7-2h0m-1-2h0m0 4h0m-3-1h0m-3 2h0m-11-4h0m-6 0h0m-1 2h0m-5-3h0m-2 4h0m-1 0h0m-3-1h0m-1-2h0m-2-1h0m0 2h0m-9 2h0m-10 2h0m-1-4h0m-4 0h0m-1 4h0m-3-2h0m-1-2h0m0 2h0m-6-1h0m-41-1h0m-33 0h0m-3-1h0m-2 0h0m-1-1h0m-1 1h0m-1 2h0m0-1h0m15 7h0m2-1h0m2 1h0m4 1h0m0-3h0m12 3h0m2 0h0m0 0h0m2-1h0m0-2h0m9 3h0m4 0h0m11-3h0m9 3h0m5-1h0m0 3h0m3 0h0m8-5h0m3 0h0m1 0h0m1 0h0m2 4h0m1 0h0m1-4h0m8 3h0m3 2h0m0-5h0m4 1h0m23 1h0m1-2h0m6 0h0m6 0h0m3 2h0m2 2h0m3-3h0m1 2h0m1-4h0m0 2h0m1 3h0m2 0h0m3-3h0m0 4h0m3-6h0m6 3h0m2 0h0m4-2h0m8-1h0m2 0h0m0 4h0m0 4h0m-11 0h0m-3 1h0m-3-2h0m-2 1h0m0-2h0m-1 1h0m0 2h0m-1-1h0m0 1h0m-6-2h0m-1-1h0m0 1h0m-5 3h0m-1-1h0m-1 2h0m-3-1h0m-3-1h0m-4-2h0m-2 2h0m-5 1h0m0-2h0m-4-2h0m-13 3h0m0-1h0m-1-1h0m-2 3h0m-1 1h0m-3-2h0m-2-2h0m-3 0h0m-9 3h0m-1-1h0m-3-3h0m-5 1h0m-3 3h0m-1 0h0m-4 1h0m-11 0h0m-10 0h0m0-3h0m0 3h0m-10-3h0m-3 3h0m-10-3h0m-3-1h0m-5 5h0m-6-3h0m-2 1h0m-1-4h0m-1 0h0m-2 6h0m-1 0h0m-4-4h0m0 3h0m-5 3h0m1 3h0m2-1h0m0-1h0m1-1h0m1 0h0m1 0h0m2 1h0m1 1h0m1-1h0m0-2h0m2 0h0m1 3h0m1 1h0m1-1h0m3-3h0m4-1h0m0 6h0m0-6h0m0 4h0m4 2h0m15-3h0m2 1h0m3 0h0m15-3h0m0 2h0m10-2h0m4 4h0m3 0h0m7-1h0m2-1h0m1 2h0m1 1h0m4-1h0m12 0h0m0-3h0m1 3h0m4 0h0m7 1h0m16-5h0m0 2h0m4 1h0m9 1h0m1-1h0m0-1h0m2-1h0m0-1h0m0-1h0m2 4h0m2-1h0m7-3h0m1 2h0m7 4h0m0-2h0m3 0h0m3-3h0m5 4h0m-2 3h0m-6-1h0m-3 1h0m0 1h0m-6-1h0m-7 3h0m0-1h0m-1-2h0m-2 0h0m-2 3h0m0-4h0m0 3h0m0 1h0m-1-1h0m0 1h0m-8-5h0m-1 1h0m-12 3h0m-2 0h0m-5-2h0m0 4h0m-16-4h0m-2 2h0m-8 0h0m-12 2h0m-2-2h0m-1-1h0m-2-2h0m-1 0h0m-5 5h0m-10-1h0m-1-1h0m0-1h0m0 3h0m-40-5h0m-2 2h0m-1-2h0m0 0h0m-1 1h0m0 2h0m0-1h0m-1-2h0m-2 2h0m-2-1h0m-1-1h0m0 2h0m0-1h0m-1 2h0m-1-1h0m-1 1h0m-2 1h0m-2 0h0m-1-2h0m-4-1h0m-3 0h0m5 7h0m1-2h0m1 2h0m2 1h0m1 1h0m0-4h0m2 3h0m1-3h0m0 2h0m2 0h0m0 2h0m3-1h0m1-3h0m2 0h0m3 3h0m0-3h0m1 3h0m0-2h0m1-1h0m7 5h0m8-1h0m1 1h0m1 0h0m23-3h0m1 1h0m10-1h0m8 1h0m6-3h0m2 0h0m2 2h0m0 1h0m2-4h0m9 4h0m0-3h0m3 3h0m1-2h0m7-1h0m5 1h0m0-1h0m7 4h0m1-1h0m6-3h0m2 4h0m5-2h0m2 3h0m1-4h0m4 2h0m7-3h0m5 1h0m2 3h0m-11 2h0m-5-1h0m-3 0h0m0 1h0m-7-1h0m-5 5h0m-12-2h0m-1-1h0m0 4h0m-4-1h0m-4-1h0m-2 0h0m-1 2h0m-2-5h0m-2 1h0m-8 2h0m-1-1h0m-9 0h0m0 3h0m0-3h0m-2-1h0m-2 0h0m-3-2h0m-2 2h0m-3 0h0m-5 1h0m-15 1h0m0 0h0m-3-2h0m-3-1h0m0 0h0m0 1h0m-1 2h0m-1-2h0m0 3h0m-2-1h0m-1 1h0m-2-2h0m-1 2h0m0-2h0m0 3h0m-3-5h0m0 3h0m0 1h0m-1-1h0m0 2h0m-2-2h0m0 2h0m-1-4h0m-1 2h0m-1-3h0m0 4h0m0 1h0m-2-1h0m-2 1h0m-1-1h0m-7-4h0m4 8h0m0 2h0m2-4h0m0 4h0m3-5h0m1 4h0m2 1h0m0 0h0m0-5h0m0 2h0m0 1h0m1-1h0m3 1h0m0 0h0m1 1h0m1-4h0m1 4h0m0-1h0m1 1h0m0 0h0m0-3h0m2 4h0m1-5h0m0 5h0m1-1h0m0 2h0m1-1h0m0-3h0m1-1h0m3 4h0m1-2h0m1-2h0m0 4h0m1-3h0m1 1h0m1-1h0m1 4h0m2-4h0m0 2h0m0 0h0m1 1h0m0-1h0m1 0h0m1 1h0m7-4h0m4 4h0m1-5h0m5 3h0m4-1h0m1 4h0m7-4h0m6-2h0m5 1h0m6 0h0m0 0h0m2 2h0m5 0h0m5 3h0m1 0h0m3-1h0m1-4h0m0-1h0m1 1h0m14 0h0m3 5h0m34-1h0m2-1h0m0-3h0m-7 6h0m-24-1h0m-3 2h0m-1 2h0m-4-3h0m-3 0h0m-3 2h0m-3-2h0m-5 1h0m-4 2h0m-6-2h0m-2 3h0m-5-5h0m-3 1h0m-5 1h0m0 1h0m-4-1h0m-3-1h0m-1 2h0m-3 2h0m-6-2h0m0 0h0m-1 0h0m0-2h0m-1 4h0m-4 0h0m-15-4h0m-1 4h0m0-1h0m-4 2h0m0-6h0m-1 4h0m0 1h0m-1-3h0m0 0h0m-1 3h0m0-4h0m-1 1h0m-2-1h0m0 0h0m-1 3h0m0-3h0m0 3h0m-1 0h0m0-2h0m0 0h0m-1 4h0m0-5h0m0 2h0m0 2h0m-1-3h0m-1-1h0m-1 2h0m0 0h0m0 1h0m0-3h0m0 2h0m-1-1h0m-1-1h0m-2 5h0m0-2h0m-1 2h0m-1-4h0m0 1h0m0 2h0m-1 1h0m-1-3h0m-1 3h0m0-1h0m-1-3h0m0 2h0m-2 2h0m0-3h0m-1-2h0m0 1h0m0 3h0m-2 0h0m-1-2h0m-2-1h0m5 5h0m1 1h0m2-2h0m2 5h0m1-1h0m1 1h0m0-2h0m0 3h0m0-2h0m1 2h0m1-5h0m2 4h0m1-4h0m0 2h0m0-1h0m1 1h0m0-2h0m1 3h0m0 0h0m1 1h0m0-2h0m3 0h0m0-3h0m1 2h0m0 4h0m1-4h0m1 4h0m0-2h0m1-3h0m0 1h0m1 3h0m1-5h0m0 1h0m3 0h0m7 4h0m17-4h0m13 2h0m1 2h0m0-4h0m6-1h0m0 2h0m0 0h0m2 3h0m3-4h0m5 4h0m3-4h0m4 3h0m4-4h0m3 2h0m5 1h0m2-3h0m4 4h0m0 1h0m2-5h0m6 5h0m0-3h0m7 1h0m-10 6h0m-2-2h0m-3 0h0m-5 3h0m-2-1h0m-6-2h0m-10 1h0m-8 1h0m-1 1h0m-2-3h0m-2 5h0m-6-5h0m-16 0h0m-28 0h0m0-1h0m-1 1h0m-7 1h0m-2-1h0m0 1h0m0-2h0m-3 2h0m0-1h0m-2 0h0m-1 0h0m50 10h0m4-4h0m4 2h0m10 0h0m2-1h0m9-1h0m0 4h0m2-4h0m4 2h0m4 1h0m11-2h0m-5 7h0m-14 1h0m-2-3h0m-3 1h0m-1-2h0m-6 2h0m-6-1h0" stroke="#d3d3d3" stroke-width="2.10" stroke-linecap="round" fill="none"/><path d="M152-150h0m-5 24h0m1 4h0m-131 5h0m102 17h0m-97 32h0m32 20h0m8 6h0m21 5h0" stroke="#b89ee2" stroke-width="2.10" stroke-linecap="round" fill="none"/><path d="M140-170h0m-7-1h0m-6 3h0m-2 2h0m15-1h0m4 9h0m-7 2h0m-4-4h0m-2 2h0m-4 0h0m-54 0h0m-9-3h0m-9 5h0m81 1h0m7 9h0m-14-3h0m-31 8h0m28-3h0m19 3h0m26 6h0m-1 1h0m-107 4h0m58-2h0m22 4h0m25-2h0m3 3h0m3 6h0m-2 0h0m-4-4h0m-23 3h0m-2 2h0m-1-4h0m-2 2h0m0 0h0m0 2h0m-3-4h0m-64 1h0m-60 9h0m73-4h0m34 3h0m10-1h0m5-1h0m11-1h0m4 3h0m0-5h0m3 4h0m1 0h0m-1 3h0m-3 3h0m-7-2h0m-1 4h0m-13-5h0m-4 2h0m-6-1h0m-12 3h0m-11 0h0m-26-4h0m-38 3h0m-8 2h0m-10 4h0m6-3h0m0 0h0m2 4h0m11-3h0m56 2h0m1-1h0m2 0h0m10 2h0m2-1h0m2-1h0m2-1h0m1 2h0m4-4h0m24 0h0m27 0h0m13 3h0m2-3h0m3 3h0m1-3h0m7 8h0m-1 0h0m-26-1h0m-21 2h0m-1 2h0m-10-3h0m-1-1h0m-36 2h0m-8-3h0m-28 4h0m-33-4h0m-4 5h0m-5 0h0m7 1h0m16 1h0m1-1h0m0 1h0m8 3h0m4-1h0m0 2h0m7 0h0m2-5h0m33 5h0m3-3h0m2-1h0m2-1h0m1 5h0m56-1h0m1-1h0m5 2h0m9-5h0m0 0h0m1 4h0m7-3h0m3 1h0m6-1h0m-15 9h0m-4-2h0m-1 1h0m-6 3h0m0 0h0m-1-3h0m-4 1h0m0-2h0m-45 0h0m-1 3h0m-2-2h0m-2-3h0m-11 1h0m-5 1h0m-1 1h0m-1-1h0m-12 4h0m-34-6h0m-1 0h0m-7 10h0m3-2h0m1-1h0m1 4h0m2-4h0m10 2h0m33 3h0m0 0h0m10-1h0m2-4h0m2 3h0m10-2h0m18-2h0m11 2h0m7 1h0m2 3h0m5-4h0m5 0h0m1 2h0m4 1h0m2-1h0m8-3h0m1 5h0m0-3h0m1-3h0m5 3h0m5 2h0m6 0h0m0 3h0m-2 0h0m-1 0h0m-7-2h0m-10 0h0m-1 5h0m-6-1h0m-5-1h0m-8 1h0m0 2h0m-12-4h0m-9 2h0m-3-4h0m0 5h0m-29-5h0m-34 4h0m-12 0h0m-25 2h0m-8-1h0m-9 6h0m2-4h0m4 2h0m3 1h0m3 0h0m1-1h0m6 1h0m1-4h0m4 3h0m16-2h0m13 0h0m1 2h0m19-1h0m2 4h0m1-1h0m1-2h0m19 1h0m18-4h0m1 2h0m0-1h0m14 1h0m4 2h0m1 2h0m7-3h0m2 2h0m6 0h0m2-2h0m2 0h0m1 1h0m6 2h0m2-4h0m10-2h0m1 3h0m3 0h0m2 2h0m-8 7h0m-2-5h0m-7 0h0m-1 0h0m-1 3h0m-3-3h0m-4 4h0m-1-5h0m-2 5h0m-10-1h0m-2 1h0m-7-5h0m-14 5h0m-7-5h0m-1 3h0m-4-1h0m-3 3h0m-11 1h0m-18 0h0m-1-4h0m-57 0h0m-4 3h0m-1-2h0m-3 1h0m-5 0h0m-2 1h0m22 3h0m0-1h0m41-1h0m3 3h0m16-3h0m3 1h0m9 1h0m8 4h0m3-4h0m16 2h0m22 1h0m0-1h0m8-3h0m2 0h0m5 7h0m0-1h0m-32 4h0m-5-3h0m-39 1h0m-8-1h0m-26 2h0m-8 1h0m0 2h0m4 1h0m23 4h0m2-5h0m2 2h0m1 0h0m8 2h0m6-4h0m11 5h0m7-1h0m11 0h0m8-4h0m1 5h0m8-2h0m2-2h0m5 3h0m0-4h0m3 4h0m0-5h0m26 5h0m2 0h0m0-1h0m3-1h0m-6 7h0m-29-2h0m-14 3h0m-4-1h0m-5-2h0m-1 3h0m-11 0h0m-3-3h0m-14-1h0m-4 1h0m-15-1h0m-35 2h0m1 5h0m9 2h0m57-2h0m8 3h0m1-3h0m3 2h0m0-2h0m8-1h0m19 1h0m-1 5h0m-23 0h0m-6 2h0m-4 2h0m-18-1h0m-50-2h0m61 6h0m6-1h0m16 1h0m7 3h0m-16 2h0m-16 16h0m-4 2h0" stroke="#a784e9" stroke-width="2.10" stroke-linecap="round" fill="none"/><path d="M69-176h0m21 7h0m0 1h0m-2 0h0m-4 0h0m-3-6h0m0 5h0m-3 1h0m0-6h0m-1 2h0m-3 1h0m-2-1h0m-3 1h0m-3-1h0m-1 1h0m-2 3h0m-1-1h0m-4 0h0m-4 5h0m11-3h0m2 1h0m2-1h0m1 1h0m0-1h0m1 3h0m1-3h0m7 1h0m2 1h0m1-3h0m2 5h0m1 0h0m5-5h0m0 2h0m3 1h0m2 2h0m44-1h0m-2 3h0m-21-1h0m-16 4h0m-7-2h0m-1-1h0m-1 0h0m-5 2h0m0 0h0m0 0h0m-3-1h0m-1 0h0m-5 1h0m-2-2h0m-1 4h0m-8-2h0m-1 3h0m-1-5h0m-5 3h0m-2-2h0m0 3h0m-4 4h0m2 2h0m0 1h0m0-6h0m5 1h0m2 5h0m0-3h0m1 2h0m9-4h0m0 3h0m1-4h0m2 2h0m5 3h0m12-2h0m5 0h0m0 0h0m5 3h0m0-2h0m1 1h0m44 0h0m-18 1h0m-6 5h0m-1-5h0m-1 2h0m-13-2h0m-4 0h0m-1 6h0m0-1h0m-2-3h0m-1 1h0m0-3h0m-2 4h0m0-4h0m-1 4h0m0-2h0m-3-1h0m-10 5h0m-2-3h0m-5-2h0m-2 1h0m-1 3h0m-4 1h0m-5-4h0m-2 2h0m-1 1h0m-3-1h0m-7-3h0m-1 9h0m0 1h0m3-4h0m1 1h0m5 3h0m1-2h0m1-2h0m1 4h0m2 1h0m0-2h0m5-1h0m6 3h0m1-2h0m0-3h0m2 0h0m7 4h0m6-5h0m2 1h0m0 4h0m0-4h0m1 4h0m1 1h0m1-1h0m1-1h0m0-2h0m0 0h0m1 0h0m3-1h0m0 2h0m0-3h0m2 2h0m1-2h0m26 4h0m1-1h0m12 2h0m6-2h0m23 9h0m-1-2h0m-5-2h0m0 3h0m0 1h0m-1-1h0m-37 0h0m-6 1h0m-1-3h0m-1-1h0m-12 0h0m-2-1h0m-2-1h0m0 6h0m-1-1h0m-2-3h0m0-1h0m0-1h0m-4 0h0m-6 1h0m-1 4h0m-9-2h0m-2 2h0m-4 0h0m-2-2h0m-2-3h0m0 1h0m-1 3h0m0 2h0m0-3h0m-1 2h0m-4-3h0m-2 2h0m0-3h0m0-1h0m-2 5h0m-1-5h0m-1 2h0m-1 4h0m-1-2h0m-1-2h0m0-2h0m-2 0h0m-2 0h0m-1 4h0m-1-4h0m-5 5h0m-1 0h0m-5 1h0m-2-4h0m0 0h0m-5 8h0m10 0h0m1-4h0m3 1h0m2 0h0m0 5h0m3-3h0m1 2h0m5-2h0m1 2h0m0-3h0m1 2h0m2 1h0m3-3h0m1 3h0m0-1h0m0 1h0m2-1h0m1-1h0m2 0h0m0 0h0m1-1h0m3 1h0m1 1h0m0-2h0m1 2h0m2 0h0m0 2h0m1-1h0m1-2h0m0 3h0m3-5h0m6 1h0m15-1h0m15 0h0m3 0h0m6 0h0m10 2h0m2 1h0m29-2h0m2 0h0m1 0h0m6 1h0m-3 8h0m-13-2h0m0-1h0m-18 3h0m-1-4h0m-3 2h0m0 0h0m-13-2h0m-48 2h0m0 2h0m0-4h0m-2 1h0m-6 2h0m-2 1h0m-2-4h0m-4 0h0m-1-1h0m-2 5h0m-1 1h0m-1-6h0m-2 1h0m-5 2h0m-3 0h0m-3 2h0m-5 0h0m-2-4h0m-2 3h0m-4-2h0m-1-1h0m0 5h0m-9 6h0m1 0h0m3-3h0m2 1h0m4 1h0m3-4h0m3-1h0m3 2h0m2-1h0m1 1h0m2 3h0m4-3h0m5 3h0m1-4h0m2 1h0m3 0h0m1 0h0m1 3h0m8-4h0m3 2h0m3 3h0m0-5h0m3 0h0m19 1h0m5 4h0m2-1h0m2 0h0m0 0h0m8 0h0m1 0h0m4 1h0m4-5h0m3 2h0m1 2h0m0 1h0m5-1h0m0-1h0m3-1h0m1 0h0m1-1h0m0-2h0m3 5h0m1-3h0m0 1h0m3 1h0m3 0h0m2-2h0m1-1h0m0 0h0m0 1h0m2 0h0m0 3h0m0 0h0m24 7h0m-1-1h0m-24-4h0m-1-1h0m-1 1h0m0 0h0m-1 3h0m0 0h0m-1 0h0m0-4h0m-1 5h0m-2-1h0m0-3h0m0 5h0m-3-4h0m-1 1h0m-1 3h0m0-6h0m0 2h0m-2 3h0m-1-3h0m-1 1h0m-2 0h0m-1-3h0m-1 5h0m0-3h0m-1-1h0m0 0h0m-2 5h0m-1-5h0m-2 3h0m-2-4h0m0 3h0m-5 2h0m-1-1h0m-7-1h0m-1 2h0m0-4h0m-1 4h0m0-4h0m-2 1h0m-1 1h0m-1 2h0m-1-1h0m-4-3h0m0 3h0m0-3h0m-5 3h0m-1 0h0m-1-2h0m-8 0h0m-13 2h0m-1-3h0m0 2h0m-1-1h0m-4-2h0m-2 5h0m-12-2h0m-2 3h0m-3-3h0m-8 1h0m0 0h0m0 1h0m-1 0h0m-1-3h0m-2 0h0m-3-2h0m0 1h0m-1 4h0m0-4h0m-1 3h0m0-2h0m-3 1h0m0 1h0m-2-3h0m-5 1h0m-2-1h0m-9 0h0m10 9h0m4-1h0m0-3h0m3 6h0m5-1h0m4 0h0m15-4h0m1-1h0m2 5h0m3-5h0m5 1h0m2 1h0m12-1h0m11 3h0m2-1h0m5-2h0m1 3h0m0-4h0m0 4h0m1-2h0m4 0h0m5 0h0m1 3h0m1 0h0m0-5h0m0 1h0m5 1h0m1 0h0m3 1h0m6-3h0m0 4h0m1-2h0m0 2h0m2-1h0m2-2h0m2 0h0m0 4h0m1-3h0m0 0h0m1-2h0m0 4h0m2-1h0m2 2h0m1-5h0m1 3h0m1 0h0m0 1h0m2-3h0m1 1h0m2-2h0m1 4h0m0-3h0m1 2h0m0 2h0m1-2h0m0-1h0m17-2h0m4 6h0m5 0h0m0-6h0m0 6h0m1-5h0m0 2h0m2-2h0m1 5h0m1-2h0m1 2h0m2-4h0m3-2h0m1 1h0m1 0h0m0 5h0m1-3h0m1 1h0m0-1h0m1 2h0m1 4h0m0-2h0m0 3h0m-1-3h0m-1 2h0m0 2h0m-1-5h0m-1 4h0m-1 0h0m-1 0h0m-1-3h0m-8 0h0m-2 0h0m0 1h0m0 1h0m-1 0h0m-1 2h0m0-3h0m-1 1h0m-1 2h0m0-5h0m-1 6h0m-4-4h0m-2-1h0m-1 4h0m-1-1h0m-11 0h0m-1 0h0m-1-3h0m-1 2h0m0 2h0m-1 1h0m-1-1h0m-1-4h0m-4 0h0m-2 4h0m-1-1h0m-2-3h0m0 5h0m-1-4h0m0-2h0m-2 3h0m-1-1h0m0 1h0m-2 2h0m0 0h0m-4-4h0m-1 3h0m0-3h0m0 4h0m-1-4h0m-5 2h0m0 0h0m-1 2h0m0-3h0m-2 2h0m0-3h0m-2 0h0m-1 0h0m-6 0h0m-1 4h0m-1 0h0m-1-2h0m0-1h0m-1-1h0m0 2h0m-2 2h0m0-2h0m-1-2h0m-8 1h0m0 3h0m-1-1h0m-1-3h0m-2 0h0m-27 1h0m0 0h0m0 2h0m-2 1h0m-1-3h0m0 4h0m-1-3h0m-2 1h0m-8 1h0m0-2h0m-1 2h0m-2-4h0m0 4h0m-12-1h0m-5-1h0m0 0h0m-10 4h0m27 3h0m0 1h0m4 1h0m1-3h0m1-1h0m1 3h0m4-3h0m1-1h0m3 5h0m2-4h0m0-1h0m2-1h0m0 5h0m0-5h0m2 0h0m1 5h0m13-3h0m4 1h0m4 0h0m5 2h0m1-1h0m2-3h0m0 0h0m1 1h0m0 3h0m1-2h0m3 1h0m1-2h0m0 3h0m0 0h0m0 0h0m1-2h0m0-2h0m3 4h0m1-2h0m0-2h0m0 1h0m0-1h0m3 2h0m5-2h0m1 1h0m1 0h0m1-1h0m1 3h0m0-1h0m2-1h0m1 2h0m0-2h0m3 1h0m1 1h0m1-3h0m1 4h0m1-1h0m0-1h0m1-1h0m0-2h0m1 6h0m3-2h0m1-2h0m4 2h0m3 1h0m4-4h0m1 2h0m0 1h0m2-2h0m1-1h0m1 4h0m0-1h0m1-3h0m0-1h0m0 2h0m0-2h0m1 3h0m4-1h0m0 0h0m1 3h0m1-3h0m0 3h0m1-1h0m2-4h0m1 5h0m1-3h0m1 2h0m1-3h0m0 3h0m2-2h0m3 4h0m0-3h0m2 2h0m2-3h0m1 2h0m0-4h0m0 2h0m2 1h0m2 0h0m1 0h0m1-1h0m2-1h0m0 0h0m0 3h0m0 2h0m3-2h0m1 0h0m1 1h0m1-2h0m3 1h0m0 0h0m3 2h0m0 0h0m0 3h0m-1-1h0m-2 0h0m0 1h0m0-1h0m-2 3h0m-1 1h0m-1-3h0m-1 2h0m-1-5h0m0 5h0m-5-2h0m0-2h0m-1-1h0m0 2h0m-3 0h0m0 4h0m0-5h0m-1 3h0m0-4h0m-2 3h0m-2-3h0m0 6h0m-1-2h0m0-3h0m0 5h0m-2-5h0m0 1h0m0 0h0m-1 1h0m-1 3h0m0-3h0m0-3h0m-3 4h0m-1 2h0m0-2h0m-1 1h0m-3-1h0m-3 0h0m-1-3h0m-1 2h0m-2-2h0m0 1h0m0-1h0m-1 1h0m-1 4h0m-1-3h0m-2-2h0m-12 1h0m0-1h0m-1 1h0m-3 1h0m-4-2h0m0 2h0m0-1h0m-1 0h0m0 0h0m0 2h0m0-2h0m-9 3h0m0 0h0m-1-2h0m0 2h0m-5-1h0m-2-1h0m0 2h0m-1-1h0m-1-1h0m-1-2h0m-1 4h0m-2-5h0m0 1h0m-1 1h0m-3-1h0m0 0h0m-3 1h0m0 3h0m-1-3h0m-1 0h0m-1 2h0m-1-3h0m0 2h0m-6 1h0m-2 1h0m-5-1h0m0 2h0m0-2h0m-1-1h0m-3-2h0m-14 1h0m-5 2h0m0-3h0m-6 4h0m-4-3h0m-3 0h0m-1 1h0m-19 7h0m1 0h0m1-3h0m1 1h0m2-2h0m16 2h0m2 2h0m1-1h0m1 2h0m1-1h0m0 0h0m3 0h0m0-2h0m25 1h0m0 2h0m1-3h0m4 1h0m1-3h0m0 5h0m1-2h0m0-1h0m1 1h0m1-1h0m1 2h0m0-2h0m5 1h0m1 1h0m0-3h0m1 2h0m0-1h0m1 2h0m1-1h0m0 3h0m2-4h0m1 0h0m0 0h0m1-2h0m2 2h0m1 2h0m1-3h0m0 1h0m0 1h0m1-2h0m4 4h0m1-1h0m1 2h0m0-2h0m2 1h0m1-3h0m0 1h0m0-3h0m1 5h0m1 0h0m5-3h0m0 0h0m1-2h0m0 3h0m0-3h0m2 5h0m0-4h0m1 0h0m0 4h0m2-5h0m4 1h0m1-1h0m1 1h0m2 0h0m5 2h0m3 2h0m5-2h0m2 3h0m3-2h0m0 0h0m1 0h0m4-3h0m1 5h0m2-5h0m0 1h0m4 2h0m1-4h0m1 4h0m2 2h0m1-1h0m2-2h0m0-1h0m1-1h0m2 3h0m1 2h0m0-1h0m1-1h0m0-2h0m1 4h0m0-3h0m3 2h0m0 1h0m1 0h0m1-3h0m1 2h0m2-2h0m4 0h0m2-2h0m0 2h0m1 1h0m2 5h0m-1 3h0m0-6h0m-6 6h0m-1 0h0m-1-4h0m-3 1h0m-4 2h0m0-5h0m-1 2h0m0 3h0m0 0h0m-1-2h0m0-3h0m-1 4h0m0 1h0m0 0h0m-1-1h0m-1-2h0m0-1h0m0 0h0m-2 2h0m-1-2h0m-1-1h0m-1 2h0m-1 3h0m-1-3h0m0 4h0m-1-2h0m-1-4h0m-1 6h0m-1-2h0m-1 0h0m-1-3h0m-1 1h0m0 3h0m-1-4h0m0 2h0m-1 2h0m-1 0h0m0-2h0m-2-2h0m-2 2h0m-2 1h0m0-2h0m-1 3h0m-6-1h0m-1 2h0m0-5h0m-1 3h0m-2 1h0m-4-3h0m0 2h0m0 1h0m-1 0h0m0-3h0m-2 3h0m0-2h0m-3 3h0m-1-4h0m-1 1h0m-2-2h0m0 4h0m-1-4h0m-1 0h0m-1 2h0m-2-1h0m0-1h0m-1 2h0m-3 0h0m-1-2h0m0 2h0m-6-2h0m-5 4h0m0 1h0m-1-2h0m-1 1h0m-3-5h0m-1 5h0m-1-1h0m-3-3h0m-1 2h0m0 1h0m-1 0h0m0 2h0m0 0h0m-2-3h0m-1 2h0m0-4h0m-1 3h0m-1 1h0m-1 1h0m-5 0h0m0-1h0m-3-2h0m-2 1h0m-2-1h0m-7-2h0m0 1h0m-2 2h0m0-2h0m-1 1h0m0 1h0m-6-3h0m-1 3h0m-1-4h0m-2 5h0m-1 0h0m-1-3h0m-3 1h0m-6 1h0m0-3h0m-1-1h0m-1 3h0m-4-2h0m-3 4h0m-9-1h0m-2-3h0m4 11h0m3 0h0m4 0h0m1-5h0m2 3h0m17-3h0m0 4h0m0 0h0m1-1h0m2 0h0m8 0h0m1-4h0m8 2h0m1 4h0m1-5h0m1 5h0m0-1h0m3-3h0m3 1h0m2-3h0m1 5h0m0 0h0m1-3h0m1 3h0m3-4h0m2 4h0m2-1h0m1 1h0m4-5h0m0 3h0m0-1h0m1 3h0m4-3h0m2-2h0m1 0h0m2 1h0m1 4h0m1 0h0m1-1h0m4-3h0m0 2h0m2 2h0m0-4h0m1 2h0m1 2h0m0-3h0m0 3h0m2-3h0m2 3h0m4-5h0m1 3h0m0 3h0m8-4h0m0-2h0m1 3h0m0 3h0m1-2h0m1 1h0m0-4h0m0 2h0m1 2h0m3 0h0m1-2h0m0-1h0m1 4h0m2-5h0m1-1h0m1 6h0m2-3h0m0-1h0m4-2h0m2 3h0m0-2h0m0 4h0m0 1h0m1-3h0m0 0h0m0 1h0m1-1h0m0-2h0m0 2h0m2-1h0m2 0h0m0 0h0m0 3h0m1-4h0m1 2h0m0 0h0m0-1h0m1 3h0m0-3h0m0 0h0m0 0h0m0 0h0m0 0h0m1 2h0m0-3h0m0 4h0m1-2h0m1-3h0m0 4h0m1-2h0m0 1h0m0-1h0m2 0h0m0-1h0m1 2h0m1 2h0m0-1h0m2 0h0m1-2h0m0 4h0m0-6h0m1 3h0m1 0h0m0 2h0m2-4h0m0 0h0m1 0h0m1 2h0m3-1h0m2 4h0m1-6h0m1 2h0m0-1h0m-5 6h0m-5 0h0m0 4h0m0-1h0m-1-2h0m-1 3h0m-4-1h0m-1-1h0m-1 3h0m0-5h0m-5 3h0m-1 0h0m-1 0h0m0-4h0m-1 3h0m0 1h0m-2-1h0m-1 1h0m0-3h0m0 1h0m0-1h0m0 4h0m-1-4h0m-7 4h0m-2-1h0m-1-2h0m-1 0h0m-2 2h0m-1 1h0m-2-3h0m0 4h0m-1-6h0m0 6h0m-1-4h0m0 2h0m-1-3h0m-2 2h0m-1-2h0m-3-1h0m-3 2h0m-3-1h0m-1 4h0m-2-5h0m-1 1h0m0 3h0m0-3h0m-1 0h0m-2 3h0m0-3h0m-5 5h0m0 0h0m-1 0h0m-3-1h0m-6 1h0m-1-4h0m-1 1h0m-1 1h0m-3-1h0m-2-3h0m0 5h0m-1-1h0m-2 1h0m0-3h0m-2-1h0m-1 0h0m0 3h0m0-2h0m-3-1h0m-1 2h0m-2-2h0m-2 5h0m-1-6h0m-1 0h0m0 4h0m-2 0h0m-2-2h0m-4 3h0m0-3h0m-1-1h0m-1 3h0m-38-3h0m-1 3h0m-7 2h0m-4-3h0m-9 5h0m7 2h0m6-4h0m0 3h0m5-3h0m0 1h0m40 0h0m0 0h0m1 1h0m1-2h0m0 3h0m2-2h0m1 2h0m2-2h0m2 0h0m1 1h0m4 2h0m0-2h0m0-1h0m3-1h0m1 2h0m0 1h0m1 1h0m6-3h0m0 4h0m1-1h0m0-1h0m0-1h0m1 1h0m1-3h0m0 5h0m0-4h0m1 1h0m1-2h0m1 2h0m2 1h0m0 2h0m2-2h0m0-1h0m1 4h0m1-1h0m0 0h0m1-3h0m1 0h0m1 2h0m3-2h0m0 0h0m1 2h0m3-1h0m0-1h0m1 0h0m6 0h0m1 2h0m0-3h0m1 2h0m2 0h0m0 0h0m2 1h0m1 1h0m1-3h0m3-2h0m1 6h0m0-5h0m0 2h0m1 0h0m2 2h0m0-4h0m1 2h0m2 1h0m0-1h0m0-1h0m1 2h0m0-2h0m1 3h0m0-4h0m3 4h0m2-1h0m0 0h0m1-1h0m1 3h0m3-1h0m1 1h0m2-4h0m0 0h0m0 3h0m2-3h0m2 2h0m0 1h0m1-1h0m0-1h0m1 0h0m2 3h0m0-5h0m2 2h0m0-3h0m1 2h0m2 0h0m8-2h0m-12 7h0m-2 1h0m0-1h0m0 1h0m-2-1h0m-1 1h0m-1 1h0m0-2h0m-1-1h0m0 2h0m0-2h0m-2 4h0m0-1h0m-4 2h0m0-2h0m0 2h0m-3-2h0m-1-1h0m-1-2h0m0 2h0m-2-2h0m-1 5h0m-1-3h0m-1 1h0m-3 1h0m-2-2h0m-2 1h0m-8 1h0m-1-4h0m-1 0h0m-5 3h0m-1 0h0m-1-1h0m-5-2h0m-1 2h0m-1-1h0m-1 4h0m-2 0h0m0-1h0m-2 1h0m-5 0h0m-1 1h0m-1-4h0m-1 0h0m-2 1h0m-1-2h0m0 1h0m0 1h0m-1-2h0m-1 1h0m0-2h0m-1 1h0m-2 3h0m-3-2h0m-2 0h0m-4 2h0m-1-3h0m-2 2h0m-7 1h0m-1 0h0m-4-2h0m-38 9h0m13-2h0m26 0h0m5 0h0m0 3h0m1-5h0m2-1h0m0 2h0m3 3h0m1 1h0m0-2h0m7-4h0m4 6h0m1-1h0m4-2h0m2 2h0m0-4h0m0 4h0m2-3h0m1-1h0m1 4h0m0 0h0m1-5h0m0 6h0m1 0h0m7-5h0m0 2h0m1-3h0m0 4h0m1-3h0m1 3h0m0-2h0m1-1h0m1 5h0m1-1h0m1 0h0m1-1h0m1-1h0m1-2h0m3 4h0m2-4h0m0 3h0m2-1h0m1 0h0m1 0h0m1 2h0m4 0h0m0-2h0m2 0h0m4-3h0m1 5h0m4-5h0m1 0h0m4 4h0m10-1h0m14 2h0m1-1h0m0 1h0m4-3h0m-5 5h0m-20 3h0m-1-3h0m-1 1h0m-1-1h0m-2 4h0m0-1h0m-1 0h0m-3-2h0m0 2h0m-1-2h0m0 4h0m0-1h0m0-3h0m-1 0h0m-4-1h0m-2 5h0m-2-2h0m-1-3h0m-2 2h0m-5-2h0m-1 4h0m-4-2h0m-2-2h0m-2 4h0m-3 0h0m-2-3h0m-4 1h0m0 2h0m-1 0h0m-1-1h0m-4-3h0m-1-1h0m-1 3h0m-2 1h0m0-1h0m0 1h0m-3-4h0m0 2h0m-2 1h0m-2-1h0m-1 0h0m-1 4h0m0-4h0m-4 0h0m-2 4h0m-1 0h0m-4-2h0m0 0h0m0 1h0m-1-3h0m-1-1h0m-2 1h0m-47 3h0m53 7h0m0-1h0m2 0h0m2-4h0m1 2h0m3-1h0m1 2h0m3-1h0m2 2h0m5 0h0m0-2h0m1 1h0m1-2h0m0 1h0m0-3h0m3 1h0m3 0h0m1 0h0m1 0h0m1 2h0m0-1h0m2 3h0m1-1h0m1-4h0m1 3h0m0 2h0m1-5h0m0 4h0m0-3h0m0 1h0m1 3h0m1 1h0m0 0h0m2-2h0m0-2h0m2 1h0m1-1h0m1 3h0m2-3h0m0-1h0m0 3h0m0 1h0m2-3h0m1 0h0m3 3h0m2 0h0m1 1h0m2-1h0m3 0h0m2-3h0m1 1h0m4 1h0m0 1h0m3-4h0m-6 9h0m-5-4h0m0 4h0m-2 1h0m0-4h0m0 0h0m0 1h0m-1 2h0m-1-3h0m-4 2h0m0-1h0m-1 4h0m-2-5h0m-2 0h0m0 3h0m-6-2h0m-3 0h0m0 3h0m-1-4h0m0 4h0m-2-4h0m-4 1h0m-2 4h0m0-4h0m0-2h0m0 0h0m-1 2h0m-3 0h0m0 0h0m-1-1h0m0-1h0m-2 1h0m-1-1h0m-2 5h0m0-4h0m-1 1h0m-1 0h0m-1 2h0m0 2h0m0-2h0m-1-3h0m-5 2h0m-2 3h0m6 2h0m3 1h0m0 3h0m0-3h0m1-2h0m0 2h0m1 2h0m1-1h0m1-1h0m2-1h0m17 3h0m0-3h0m0-1h0m2 1h0m2-1h0m1 5h0m4-5h0m2 2h0m2 0h0m2 2h0m2-3h0m-10 5h0m-1 0h0m0 1h0m-9 0h0m-1-2h0m-2 1h0m-3 3h0m-1-1h0m-2-2h0m-5-1h0m-5 1h0m-6 2h0m-3 5h0m22 1h0m16 0h0m-32 8h0m4 2h0" stroke="#926aef" stroke-width="2.10" stroke-linecap="round" fill="none"/><path d="M69-176h0m14 7h0m-2-2h0m-1-2h0m0 3h0m0-1h0m-1 0h0m-1-2h0m-1 2h0m-1 0h0m-1-2h0m0 2h0m0 0h0m-3 0h0m-1-1h0m0 3h0m-2-1h0m-1 0h0m-2 1h0m-4-4h0m-3 3h0m0 0h0m0 2h0m-2-1h0m-1 6h0m0 0h0m2-3h0m3 1h0m0-2h0m1 5h0m4-1h0m2 0h0m0-4h0m2 4h0m0-4h0m0 1h0m0 0h0m1 1h0m1-2h0m2 2h0m1-1h0m0 2h0m0 0h0m1 1h0m3 0h0m1-4h0m0 5h0m0-5h0m1 1h0m1-1h0m1 2h0m0-2h0m0 4h0m2-4h0m1 0h0m1 1h0m2-2h0m0 4h0m1-2h0m6 4h0m3-2h0m-5 6h0m0-3h0m-1 5h0m-1-1h0m-1-2h0m-2 1h0m-1-1h0m-1-2h0m-1 2h0m-1 1h0m-1 0h0m-1 1h0m0-4h0m0 2h0m-2-2h0m0 2h0m-4-1h0m-8 1h0m-2 2h0m0-3h0m-5-1h0m-2 1h0m0 0h0m-1 4h0m-1-1h0m0-1h0m-1-1h0m-1 0h0m-2-1h0m-2 3h0m0-2h0m-1 1h0m-1 1h0m-4 4h0m5 2h0m1-3h0m0-1h0m1 3h0m1 1h0m1-1h0m7-1h0m0-3h0m1 2h0m2 1h0m2-2h0m1 4h0m4-1h0m1-1h0m0-2h0m1 3h0m0-2h0m0 0h0m1 1h0m1-1h0m4 3h0m2-3h0m2 4h0m2-2h0m0 1h0m0-2h0m2 2h0m7-3h0m2-1h0m4 3h0m2-1h0m2 2h0m36 2h0m-29 2h0m-1-2h0m0 4h0m-1-2h0m0 3h0m-1-4h0m0 1h0m-2 0h0m-2 2h0m-2-2h0m-2 1h0m-1-3h0m-2 2h0m-3-3h0m-1 4h0m0 1h0m-2 0h0m-2-2h0m-1-1h0m-1 2h0m0-1h0m0 2h0m-1 0h0m0-2h0m-1-1h0m0 4h0m0-2h0m0 0h0m-5-3h0m0 2h0m0 3h0m-2-1h0m-1-4h0m-1 1h0m0 2h0m-3-4h0m-1 5h0m0-1h0m0-1h0m-3-2h0m-1 4h0m-2 0h0m0-5h0m0 1h0m-3 1h0m-1 4h0m-1-4h0m0 0h0m-1 4h0m-3-2h0m-3-4h0m-5 1h0m-7 10h0m3-1h0m7 0h0m0-1h0m1 0h0m1 2h0m0-5h0m1 2h0m1 4h0m0-3h0m0 2h0m1-3h0m0-1h0m1 2h0m0 3h0m1-4h0m3 1h0m0 1h0m1-1h0m0 0h0m1-3h0m0 3h0m0 1h0m0 0h0m3 0h0m0 1h0m1 1h0m0-2h0m1 1h0m1-5h0m1 4h0m1-2h0m1 1h0m5-2h0m1 4h0m1-2h0m0 1h0m0 1h0m1-3h0m0 0h0m2 0h0m2 1h0m1 1h0m1 0h0m1-2h0m1-1h0m3-1h0m0 0h0m0 1h0m0 4h0m2 0h0m1 0h0m1-4h0m1 0h0m3 1h0m4 4h0m3-2h0m0-3h0m1 0h0m0-1h0m3 0h0m0 6h0m1-4h0m65 9h0m-49-2h0m0 3h0m-4-4h0m0-1h0m-3 4h0m-13-2h0m0-2h0m-1 0h0m0 3h0m0-1h0m-2 1h0m-1 0h0m-1-1h0m-2-2h0m-2 2h0m-1-3h0m-4 3h0m0-2h0m-1 4h0m-1-3h0m-1-2h0m-2 3h0m-2 3h0m0-1h0m-5 0h0m-3-3h0m-2-2h0m0 6h0m-1-1h0m0-5h0m-1 4h0m-1 0h0m0 1h0m-1-3h0m0 0h0m-2 0h0m0 3h0m0-1h0m-1-3h0m0-1h0m0 2h0m-1-1h0m-1 1h0m0-1h0m-1 1h0m0-1h0m-1 2h0m-1 0h0m0-2h0m0 3h0m0-4h0m0 0h0m-2 3h0m-1 2h0m-1-2h0m-1 3h0m-1-3h0m0 2h0m0-2h0m-2 1h0m0 0h0m-1-4h0m0 4h0m0-3h0m-1 4h0m0-1h0m0-3h0m0 2h0m-1 1h0m0-2h0m0-1h0m0 2h0m-1 0h0m0 1h0m-1-2h0m-1-2h0m-1 2h0m-5 4h0m-3-3h0m-2 2h0m-1 0h0m-2-1h0m-1-2h0m-2 3h0m0 0h0m-1 1h0m1 3h0m1-1h0m0 0h0m0 3h0m1-5h0m3 1h0m2 0h0m0 0h0m1 5h0m0-2h0m1-1h0m6-1h0m0-1h0m1 1h0m4 1h0m0-2h0m1 1h0m0 2h0m0-3h0m1 3h0m0 0h0m1-3h0m2 2h0m0-1h0m0-1h0m2-1h0m0 4h0m1-3h0m0 4h0m2-5h0m1 4h0m0 1h0m1 0h0m1-1h0m0-4h0m0 3h0m0-2h0m1 2h0m0 0h0m1-1h0m1 0h0m0 3h0m1-4h0m0 0h0m0 3h0m2 1h0m0-2h0m2 2h0m0-1h0m0 1h0m0 0h0m1-2h0m1 2h0m0-3h0m0-2h0m0 2h0m2 2h0m1-3h0m0 5h0m1-2h0m2-1h0m2 0h0m1 2h0m0-1h0m0-4h0m2 3h0m1-3h0m3 0h0m12 1h0m1 0h0m13 1h0m0 2h0m1-2h0m3-2h0m2 0h0m1 3h0m12 2h0m8-2h0m18-2h0m1 0h0m9-1h0m2 8h0m-2 0h0m-3 1h0m-1-2h0m-24 2h0m-1-1h0m0 0h0m-3 0h0m-5-2h0m-29 4h0m-26-3h0m-1 0h0m-2 5h0m-1-5h0m0 3h0m-3-1h0m0-1h0m0 0h0m-1 1h0m0-3h0m0 0h0m-1 5h0m-1-3h0m-1-1h0m0 4h0m-1-3h0m-2 0h0m-1-2h0m-2 6h0m-4-1h0m0-1h0m-1 2h0m0-3h0m-1-2h0m0 0h0m0 5h0m-2-5h0m0 4h0m0-1h0m-1 2h0m-6-2h0m0-2h0m-1-1h0m0 5h0m-4-2h0m-2-3h0m0 2h0m-1 2h0m-1-5h0m0 4h0m-1-3h0m-2-1h0m-2 3h0m0 3h0m-2-6h0m-1 5h0m-1 1h0m-1-3h0m-1-1h0m-2 9h0m1 1h0m2-1h0m0-2h0m0-1h0m0 3h0m1 1h0m2-4h0m4 4h0m5-3h0m1 0h0m0-3h0m1 1h0m1 3h0m0-1h0m1 2h0m2 1h0m0-4h0m1-1h0m0 2h0m1-1h0m2 0h0m0 2h0m1 1h0m0-3h0m2 3h0m1 0h0m1-2h0m1 3h0m1-1h0m0 0h0m1 0h0m0 0h0m3-4h0m0-1h0m3 1h0m3 5h0m0-2h0m1 2h0m1-4h0m0-2h0m1 3h0m0 0h0m2 1h0m1 0h0m0 1h0m0-5h0m0 0h0m0 2h0m1 3h0m1-3h0m0-1h0m1 2h0m0-3h0m1 5h0m0-2h0m3-2h0m0 3h0m0-4h0m1 5h0m2-3h0m0 2h0m1-2h0m2 3h0m45-4h0m6 3h0m1-1h0m1-1h0m1 1h0m0-2h0m0 3h0m2-1h0m1 0h0m1-1h0m2-1h0m0 4h0m2-1h0m1 1h0m1-1h0m2 2h0m1-1h0m2 1h0m1-1h0m23 6h0m-26-1h0m-3 0h0m-1 1h0m-1-3h0m-1 4h0m-1-2h0m0-1h0m-2-2h0m-1-1h0m-1 0h0m-3 0h0m-2 5h0m-2 0h0m-4-4h0m-2 2h0m-1-1h0m-2 1h0m-1 2h0m-2-3h0m-9-1h0m-2 2h0m0 1h0m-3-2h0m0 4h0m-1-1h0m-3 0h0m0-3h0m-1 3h0m0-3h0m-7 4h0m0 0h0m0-4h0m-10 0h0m-2 2h0m0 0h0m-1-1h0m-1 3h0m-1-6h0m-1 5h0m-2-5h0m0 2h0m-1 3h0m-2 1h0m0-1h0m-1-5h0m-1 3h0m-1 2h0m-2-4h0m0 2h0m-2-1h0m-1-1h0m0 3h0m0-2h0m-2 2h0m-1 0h0m0-1h0m-2 1h0m-1-3h0m-2 1h0m0 2h0m-1 0h0m0-1h0m-1-2h0m-2 5h0m0-3h0m-2-1h0m0 1h0m0 1h0m0-4h0m-1 6h0m-2-3h0m-1 0h0m0-1h0m-1 1h0m0 1h0m0-1h0m-3-3h0m-1 6h0m0-3h0m-1-1h0m0 0h0m-3 0h0m-4 0h0m-3 2h0m0-1h0m0-3h0m-1 5h0m0-1h0m-2-3h0m-2 0h0m0 4h0m-2-4h0m0 0h0m0 1h0m0 2h0m-3 2h0m-12-5h0m16 8h0m1-3h0m1 5h0m2-1h0m2-3h0m0 4h0m1-4h0m1 2h0m2 3h0m0-5h0m1 1h0m1-1h0m1 3h0m3 0h0m4 0h0m1-2h0m1 2h0m0-1h0m1 2h0m0-4h0m1 1h0m0 0h0m1 2h0m0-2h0m0-2h0m2 0h0m0 3h0m1 1h0m1-4h0m1 5h0m0-2h0m1-1h0m1-1h0m0 5h0m3-2h0m6-2h0m2-1h0m0 0h0m2 3h0m0-2h0m2 2h0m1 0h0m3-3h0m19 2h0m2 2h0m6-1h0m4 0h0m1 0h0m6 1h0m7 0h0m4-4h0m4-1h0m2 1h0m0 4h0m3-4h0m3 5h0m0-4h0m8-1h0m25 0h0m3 4h0m1-3h0m1 3h0m0 1h0m5-3h0m3 3h0m-4 2h0m-14 1h0m-2 0h0m0 0h0m-7 1h0m-11 0h0m-2 1h0m-1-3h0m0 1h0m0 2h0m-15-2h0m-7 0h0m-1 1h0m-1-1h0m-1 2h0m-2-3h0m-4 3h0m-8-4h0m-1 0h0m-1 1h0m0 1h0m-3 2h0m0 1h0m-2-1h0m-1-1h0m-1-1h0m-3-2h0m0 4h0m-22-4h0m-5 2h0m-1 0h0m-3-3h0m-1 3h0m-1-1h0m-1 3h0m0-2h0m0-1h0m-5 4h0m0-2h0m-4-2h0m0-1h0m-1 2h0m-1 1h0m-2 2h0m-1-4h0m-2 3h0m-1-1h0m-1 2h0m0-6h0m-1 5h0m0-1h0m-5-3h0m0-1h0m-1 0h0m-1 3h0m-4-2h0m7 11h0m11-4h0m8 1h0m0-2h0m20 5h0m3-1h0m2-3h0m3 0h0m6 2h0m1 1h0m4-3h0m1-1h0m4 4h0m1 0h0m2-1h0m2 0h0m2 2h0m5-5h0m0 5h0m2-3h0m2-1h0m0 0h0m1 1h0m7-1h0m2 3h0m3-1h0m4 1h0m12-1h0m0 1h0m1-1h0m1 0h0m5 1h0m14-3h0m2 1h0m2 1h0m1 2h0m4-1h0m13 4h0m-5 0h0m0-1h0m-10 3h0m-1-4h0m-3 3h0m0-4h0m-2 1h0m-4 0h0m-1 0h0m-4 0h0m-1 4h0m0 1h0m-8-1h0m-2-2h0m-4 1h0m-1-2h0m-1 3h0m-1-5h0m-4 2h0m-1 3h0m-4-3h0m-3-1h0m-3 3h0m-2 1h0m-3-4h0m-10 5h0m-2-4h0m0-2h0m0 3h0m-1-2h0m0 3h0m-2-2h0m-4 0h0m-1 1h0m-3 3h0m-4-4h0m-4 2h0m-4 1h0m0-5h0m-1 6h0m0-4h0m0 3h0m-6-2h0m0-3h0m-6 5h0m-15-3h0m-3 1h0m-1 0h0m-6 1h0m-3-3h0m-3 0h0m-1 0h0m0 1h0m-19 2h0m-17-1h0m18 6h0m14 0h0m12 2h0m1-1h0m1-2h0m1 0h0m1 0h0m9 1h0m12-3h0m5 3h0m0 2h0m0-5h0m5 2h0m5 0h0m1-1h0m8 0h0m5 4h0m1-2h0m1 0h0m1 3h0m2-3h0m3 0h0m1-3h0m0 1h0m2 3h0m7 0h0m1 2h0m8-1h0m1-3h0m2 2h0m0-2h0m1 0h0m5 1h0m2 1h0m1 1h0m3-1h0m5-1h0m3 2h0m1-2h0m1 3h0m2 0h0m0-1h0m1 0h0m4-4h0m1 3h0m5-1h0m0 1h0m1-4h0m4 2h0m4 0h0m10 1h0m2 1h0m0-3h0m1 2h0m-1 5h0m-1 0h0m-1 1h0m-5 0h0m-14-1h0m-2 2h0m0-2h0m0 2h0m-5-1h0m-1 1h0m-3-4h0m-1 1h0m-1-1h0m-12 3h0m0 3h0m-2-4h0m-2-2h0m-2 3h0m-3-1h0m-3 0h0m-8 3h0m-1-2h0m0-1h0m-1 3h0m-1 0h0m-3-2h0m-2 2h0m-5-2h0m0 1h0m-5 0h0m-1 2h0m0-2h0m-2 1h0m0 0h0m0-3h0m-2 4h0m-2-4h0m-6-1h0m-3 0h0m-5 0h0m-7 1h0m-2 3h0m0 0h0m-2 1h0m-7-4h0m-17 2h0m-5-1h0m0-3h0m-1 5h0m-3-4h0m-20 0h0m0 0h0m-1 11h0m1-1h0m12-1h0m23-3h0m10 0h0m13 0h0m13 1h0m2 4h0m7-3h0m0 2h0m5-4h0m2 4h0m2-4h0m0-1h0m4 1h0m3 3h0m2 0h0m2 0h0m0-4h0m3 4h0m1-3h0m5 5h0m2-5h0m1 4h0m4-4h0m1-1h0m0 0h0m1 4h0m7 1h0m0 1h0m2-6h0m1 2h0m0 0h0m2-2h0m4 2h0m2 2h0m1-2h0m0-2h0m0 0h0m0 5h0m1-3h0m11 1h0m6 2h0m8-1h0m-3 8h0m-2-5h0m-12 5h0m-6-1h0m-5-5h0m0 1h0m-7 0h0m-6 3h0m-5 1h0m-6 1h0m0 0h0m-3-5h0m-6 3h0m0 0h0m-4 0h0m0 2h0m-7-1h0m-7 1h0m-5-1h0m-4 0h0m-8-3h0m0 0h0m0 1h0m0 1h0m-3-1h0m-8 1h0m-2 2h0m-1-4h0m-4-1h0m-50 0h0m-1 1h0m-2 3h0m0 3h0m7-1h0m48 0h0m3 4h0m7 0h0m1-2h0m10 1h0m4 1h0m1-2h0m0-2h0m2 5h0m2 0h0m0 0h0m1-3h0m3 2h0m13-4h0m2 2h0m3-1h0m3 1h0m4-3h0m10 0h0m2 2h0m5 3h0m3-3h0m2 3h0m0-4h0m1 5h0m3 0h0m1-2h0m0-3h0m2 0h0m1 1h0m2 4h0m2 3h0m-4-1h0m-2 0h0m-3 3h0m-1-2h0m0 0h0m-4-2h0m-3 0h0m-1 0h0m-1 4h0m-1-1h0m-2 1h0m-7 1h0m-1-4h0m0 2h0m-4-3h0m-5 3h0m-3-2h0m-1 3h0m-1-1h0m0 0h0m-1-1h0m-1 1h0m-1-4h0m-3 2h0m-7 1h0m-1-1h0m-5 3h0m-2-5h0m-1 3h0m-2-2h0m-2 1h0m-13-2h0m0 6h0m-9-2h0m-1-1h0m-22 0h0m-9 6h0m34 1h0m2 0h0m1-1h0m2 0h0m2 2h0m0-4h0m6 1h0m0 2h0m6-3h0m2 0h0m2 4h0m4 0h0m0 0h0m7-3h0m2 3h0m2 1h0m2-1h0m8-2h0m2-1h0m0 2h0m8-4h0m2 1h0m2 0h0m4 5h0m1-3h0m3 1h0m1-3h0m10 0h0m24 3h0m-2 4h0m-21 0h0m-10 1h0m0 0h0m0-1h0m-1 2h0m-1-1h0m0-2h0m-6-1h0m-1 4h0m-1 0h0m-4 2h0m0-1h0m0-5h0m-7 3h0m-11-3h0m-7 4h0m-11-2h0m-1 0h0m-9 1h0m-1 1h0m-6-2h0m-1 3h0m-9-2h0m-21 2h0m33 3h0m0 2h0m2 1h0m0-5h0m6 1h0m3 2h0m0 2h0m1-3h0m1-2h0m1 3h0m0 1h0m1 1h0m5 0h0m1-1h0m5 0h0m4 0h0m8 1h0m2 0h0m3-3h0m2 2h0m2-3h0m7 0h0m2 2h0m2-3h0m0 5h0m6-2h0m4 0h0m2-2h0m2 1h0m-6 7h0m-1-3h0m-1 1h0m-1 1h0m-4 3h0m-13-4h0m-4-1h0m-3 2h0m-7 4h0m-4-3h0m-2 0h0m-2-2h0m-2 0h0m-1 3h0m-3-3h0m-2 0h0m-3 2h0m-5 2h0m-1-1h0m-1 0h0m-3-3h0m0 1h0m-9 2h0m15 3h0m16 3h0m9 0h0m2-2h0m3 2h0m4-1h0m7-1h0m1-1h0m1 0h0m2 0h0m3 0h0m6-1h0m-15 7h0m-6 2h0m-3-1h0m-2 1h0m-2 0h0m-5 0h0m-7-2h0m-5 0h0m21 6h0" stroke="#794ff4" stroke-width="2.10" stroke-linecap="round" fill="none"/><path d="M84-169h0m-25 7h0m3-5h0m25-1h0m3 3h0m0 2h0m2 0h0m6-2h0m-5 8h0m-4 0h0m-36-5h0m-3 6h0m6 2h0m1 3h0m9-1h0m3 1h0m4-2h0m5-3h0m9 2h0m2-1h0m13 11h0m-7-5h0m-5 2h0m-18 2h0m-3-1h0m-4-2h0m0 1h0m-1 3h0m-2-2h0m-6-1h0m-6-2h0m-1 1h0m-6 8h0m15-2h0m1 2h0m0 0h0m0-3h0m1 1h0m9 3h0m1-1h0m15-3h0m4 2h0m4-1h0m2 0h0m16-1h0m15 10h0m-37-5h0m-29 5h0m-1 0h0m-9-1h0m0-1h0m-7-1h0m-1 4h0m-3 0h0m-3 2h0m9 2h0m11 1h0m2-3h0m9 0h0m6-2h0m2 4h0m1-3h0m11 5h0m3-1h0m3 0h0m4-5h0m45 12h0m-57-1h0m-3-1h0m0-1h0m-1 1h0m-1 2h0m-5 0h0m-5-2h0m-1 1h0m-2-4h0m-3-1h0m-7 4h0m-3-2h0m-1 0h0m-1-2h0m-3 1h0m-10 3h0m-3 5h0m10 0h0m5 0h0m6 3h0m1-4h0m3 4h0m8-5h0m1 0h0m2 4h0m2-4h0m3 1h0m0 4h0m6-3h0m2 0h0m1 1h0m1-3h0m2 3h0m49 1h0m6-2h0m2 2h0m1-2h0m2 0h0m1 4h0m-14 0h0m-15 3h0m-32-1h0m0-2h0m-4-1h0m-2 1h0m-5 0h0m-1 2h0m0 0h0m-1 1h0m-1-3h0m-4 5h0m-2-5h0m-6 3h0m-6 0h0m-4-1h0m-4 0h0m-3-2h0m-8 3h0m-1 1h0m-1-5h0m-6 2h0m11 6h0m12 0h0m18 2h0m2-4h0m6 0h0m0 1h0m4 0h0m29 1h0m-40 4h0m-3 2h0m-7-1h0m0 1h0m-1-1h0m-1 1h0m-2 1h0m-3 3h0m-1-1h0m-1-4h0m-1 3h0m-11-2h0m19 7h0m39 4h0m-38 0h0m-6 1h0m-1 2h0m-11-1h0m-25 4h0m49 3h0m34 0h0m48 6h0m10 9h0m-81 8h0m3-3h0m10 1h0m26 2h0m25 3h0m-31 0h0m-18 8h0m13 7h0m48 4h0m-8 8h0m-11 14h0" stroke="#5731fa" stroke-width="2.10" stroke-linecap="round" fill="none"/><path d="M148-113h0" stroke="#0000ff" stroke-width="2.10" stroke-linecap="round" fill="none"/></g>
<path d="M536.5 460.04V473.8H550.26" stroke="#111" stroke-width="0.75" fill="none"/><path d="M534.8 461.2L536.5 458.3L538.2 461.2Z" fill="#111"/><path d="M549.1 472.1L552.0 473.8L549.1 475.5Z" fill="#111"/><text x="540.1" y="483.3" font-size="5.1" fill="#222">tSNE_1</text><text x="0" y="0" font-size="5.1" fill="#222" transform="translate(531.3 473.2) rotate(-90)">tSNE_2</text>
<text x="586" y="489.9" font-size="5.9" fill="#222" text-anchor="middle">AluSc8:Alu:SINE</text>
<text x="586" y="496.5" font-size="5.9" fill="#222" text-anchor="middle">chr9:75994376−75994721</text>
<g transform="translate(536.5 589.6) scale(0.5)"><ellipse cx="74" cy="-149" rx="23" ry="23" transform="rotate(0 74 -149)" fill="#aa8de6" fill-opacity="0.45"/><ellipse cx="105" cy="-143" rx="7" ry="11" transform="rotate(0 105 -143)" fill="#ab90e5" fill-opacity="0.45"/><ellipse cx="55" cy="-119" rx="24" ry="21" transform="rotate(0 55 -119)" fill="#a687e8" fill-opacity="0.45"/><ellipse cx="80" cy="-114" rx="9" ry="7" transform="rotate(0 80 -114)" fill="#9572ed" fill-opacity="0.45"/><ellipse cx="135" cy="-155" rx="18" ry="14" transform="rotate(30 135 -155)" fill="#cfccd5" fill-opacity="0.45"/><ellipse cx="124" cy="-131" rx="5" ry="5" transform="rotate(0 124 -131)" fill="#b6a5df" fill-opacity="0.45"/><ellipse cx="142" cy="-125" rx="5" ry="5" transform="rotate(0 142 -125)" fill="#cac4d7" fill-opacity="0.45"/><ellipse cx="171" cy="-129" rx="9" ry="9" transform="rotate(20 171 -129)" fill="#bdafdc" fill-opacity="0.45"/><ellipse cx="150" cy="-114" rx="9" ry="4" transform="rotate(-10 150 -114)" fill="#c7bfd8" fill-opacity="0.45"/><ellipse cx="23" cy="-106" rx="11" ry="11" transform="rotate(0 23 -106)" fill="#cfccd5" fill-opacity="0.45"/><ellipse cx="50" cy="-93" rx="11" ry="6" transform="rotate(0 50 -93)" fill="#baa7df" fill-opacity="0.45"/><ellipse cx="43" cy="-78" rx="8" ry="4" transform="rotate(0 43 -78)" fill="#b9a8de" fill-opacity="0.45"/><ellipse cx="54" cy="-74" rx="4" ry="8" transform="rotate(0 54 -74)" fill="#c4bada" fill-opacity="0.45"/><ellipse cx="23" cy="-81" rx="4" ry="4" transform="rotate(0 23 -81)" fill="#9677ea" fill-opacity="0.45"/><ellipse cx="23" cy="-64" rx="12" ry="10" transform="rotate(0 23 -64)" fill="#ab90e5" fill-opacity="0.45"/><ellipse cx="49" cy="-41" rx="17" ry="12" transform="rotate(0 49 -41)" fill="#c8c1d8" fill-opacity="0.45"/><ellipse cx="118" cy="-65" rx="41" ry="45" transform="rotate(0 118 -65)" fill="#c7c0d8" fill-opacity="0.45"/><ellipse cx="166" cy="-77" rx="9" ry="25" transform="rotate(0 166 -77)" fill="#c3b9da" fill-opacity="0.45"/><ellipse cx="180" cy="-84" rx="12" ry="22" transform="rotate(0 180 -84)" fill="#c2b6db" fill-opacity="0.45"/><ellipse cx="145" cy="-113" rx="11" ry="7" transform="rotate(0 145 -113)" fill="#c4bada" fill-opacity="0.45"/><path d="M142-169h0m-1 1h0m-2-2h0m-1-3h0m-2 5h0m-4-1h0m-4-2h0m-2 0h0m0 0h0m-2 2h0m-3 0h0m-36-4h0m0 0h0m-4 1h0m-8-2h0m-2 4h0m-5 1h0m-1 1h0m-1-1h0m-3-2h0m-2 3h0m5 4h0m0-2h0m2 0h0m1 2h0m7-4h0m0 3h0m2-2h0m2 1h0m1-1h0m4 5h0m2-3h0m2 2h0m1 0h0m3-1h0m0 2h0m25 0h0m1-4h0m0 3h0m0-5h0m0 4h0m1-1h0m0 2h0m1-1h0m0-1h0m1-2h0m1-1h0m0 5h0m1-2h0m0 1h0m0 2h0m1-1h0m0-1h0m0-4h0m0 2h0m1 2h0m1-2h0m0 2h0m1 1h0m2 1h0m0-3h0m1 2h0m2 0h0m0-2h0m1 0h0m0-2h0m2 0h0m2 5h0m0-4h0m2 2h0m1-1h0m0 3h0m2-4h0m1 0h0m1 0h0m0 2h0m1-1h0m1 2h0m0-2h0m1 0h0m0 1h0m1-1h0m2-1h0m6 8h0m-1 2h0m-2-2h0m-1 1h0m-1-1h0m-1 0h0m-1 2h0m0-6h0m0 1h0m0 4h0m-1-1h0m-1-3h0m0 2h0m-1 0h0m0-3h0m-2 0h0m0 1h0m-1 0h0m0 5h0m-1-2h0m-1-2h0m0-2h0m-3 3h0m0-1h0m-1 1h0m-1 1h0m0-2h0m-1 0h0m0 4h0m-1-6h0m0 5h0m-2-4h0m0 1h0m0 1h0m0 1h0m-1 0h0m0 2h0m-1-6h0m-1 5h0m-1-1h0m-2 1h0m0-4h0m0-1h0m-4 5h0m0-5h0m-1 2h0m-1 1h0m0 3h0m-1 0h0m0-1h0m0-4h0m-2 1h0m-18 1h0m-2 1h0m-1-2h0m-4 3h0m-8 0h0m-3 0h0m-4-5h0m-1 3h0m0-2h0m0 0h0m-5 5h0m-1-3h0m-2 3h0m-1-2h0m-7 1h0m-4-3h0m-2 2h0m-4 2h0m5 1h0m0 4h0m0-1h0m3 1h0m0 0h0m2-3h0m0 2h0m2 1h0m6-4h0m4 0h0m5 4h0m4-1h0m0 2h0m2-1h0m1-2h0m0 0h0m8 2h0m6-1h0m13 2h0m7-4h0m1 4h0m0-1h0m0-1h0m1 2h0m1-3h0m0-1h0m1-1h0m0 2h0m0-2h0m2 4h0m2 0h0m1-4h0m0 0h0m1 4h0m1-4h0m0 2h0m1 0h0m1 3h0m0-4h0m0 0h0m2 3h0m0 0h0m1-2h0m1-1h0m0-1h0m1-1h0m4 1h0m1 1h0m0 2h0m1-2h0m2 2h0m0-1h0m0 0h0m2-1h0m0 1h0m0-1h0m1 1h0m0-2h0m1 2h0m0 0h0m1 2h0m1 0h0m2-2h0m0 3h0m1-3h0m1-3h0m0 4h0m1-3h0m0 7h0m0 0h0m-1-2h0m-3 1h0m-1 3h0m-1 0h0m0 2h0m-2-4h0m-1 3h0m0 1h0m-1-5h0m-1 2h0m-1 1h0m-1 0h0m0 0h0m-1-3h0m-1 1h0m-1 1h0m-1 2h0m-1-4h0m0 0h0m0 3h0m0 0h0m0-1h0m-1-1h0m-1 1h0m0-3h0m-1 3h0m0 3h0m-1 0h0m-1-6h0m0 3h0m0 2h0m-1-2h0m0 1h0m-1-1h0m0 0h0m-1-1h0m-1 1h0m-1 2h0m-1-4h0m0 3h0m0 0h0m-3-3h0m0 3h0m-1-1h0m-1-1h0m-8 2h0m-2-4h0m0 5h0m-2-3h0m0 0h0m-2 0h0m-3 1h0m-2-1h0m-2 3h0m0-3h0m-1-1h0m-1 4h0m0-2h0m-2 2h0m-1-2h0m0 1h0m-1-3h0m-3 3h0m-3-4h0m0 5h0m-1-4h0m-1 0h0m-3 2h0m-2 2h0m-2-1h0m-5 2h0m-1-3h0m-2 2h0m-13-5h0m0 5h0m-1-1h0m0-4h0m-1 5h0m0-4h0m-11 10h0m3-2h0m0 0h0m1 3h0m4-4h0m3 2h0m4 0h0m4 2h0m3 0h0m5-3h0m8 3h0m2-1h0m1-3h0m2 2h0m2-3h0m2 1h0m0-1h0m6 3h0m5 0h0m1 0h0m4-1h0m2-3h0m0 6h0m1-3h0m2 3h0m3-2h0m12-4h0m3 3h0m0 1h0m3 0h0m0-2h0m1 2h0m0-2h0m2 2h0m2-1h0m0 0h0m1-1h0m0 0h0m1-2h0m0 4h0m1 2h0m0-1h0m1-2h0m0-2h0m0 3h0m0 1h0m1-2h0m1 2h0m2-2h0m0-1h0m0 2h0m0 0h0m2 2h0m1-6h0m2 2h0m0 2h0m2-3h0m4 2h0m13 3h0m7 0h0m3 6h0m0-5h0m-1 1h0m-1-1h0m-1-1h0m-2 5h0m0-5h0m-3 5h0m0-2h0m-1 2h0m-1 0h0m0-2h0m0 2h0m-1-2h0m-1 1h0m-1 1h0m-1-1h0m-1 0h0m-20-4h0m-10 2h0m-4 4h0m-1-1h0m0 0h0m0-4h0m-2 3h0m-2 0h0m0-3h0m-3 2h0m-1 1h0m-9-3h0m0 1h0m-1 3h0m0-4h0m-3 1h0m-2 3h0m-1-2h0m-3 1h0m-2-4h0m-5 5h0m-3 1h0m-1-6h0m-5 2h0m-5-1h0m-4 1h0m-3 3h0m-1-4h0m-3 2h0m0 1h0m0-4h0m-1 3h0m-2 0h0m-2-1h0m-1 4h0m-2-6h0m0 1h0m-3 0h0m0 3h0m-1 1h0m-1 0h0m-2 0h0m-2-1h0m-1 1h0m-1-3h0m-5-1h0m0 0h0m-3 1h0m-5 9h0m8-1h0m15 0h0m0 1h0m1-4h0m4 0h0m1-1h0m1 4h0m1-1h0m0 0h0m0 0h0m3 1h0m0 0h0m3-4h0m1 0h0m4 2h0m0-1h0m0 3h0m0-2h0m1 0h0m4-1h0m6 2h0m14-3h0m17 2h0m0 2h0m1-3h0m1 3h0m1-4h0m3 4h0m1 0h0m0-2h0m2 0h0m8 1h0m2 0h0m1 3h0m2-2h0m2-1h0m0 1h0m17-2h0m1 0h0m1 1h0m1 2h0m0 1h0m2-6h0m1 0h0m1 0h0m0 4h0m1 0h0m1-4h0m0 5h0m0-1h0m1 2h0m0-2h0m0-1h0m3-1h0m0 2h0m2 0h0m5 3h0m-3 0h0m-1 3h0m-2-2h0m0-1h0m-1 3h0m0 0h0m-1-2h0m-1-1h0m0 3h0m-1 1h0m0-2h0m-3 2h0m0 0h0m-2-1h0m-4-4h0m-15 0h0m-1 3h0m-1 1h0m-2 2h0m-1-1h0m0-4h0m-1 2h0m0-2h0m0 2h0m0-3h0m0 2h0m-2 0h0m0 2h0m-3-2h0m-28 4h0m-25-5h0m-5 2h0m0-1h0m-4 0h0m-3-1h0m-6 1h0m-1 4h0m-6-5h0m-2 2h0m-11 1h0m0-1h0m-3-1h0m-2 2h0m0-1h0m-3 0h0m-1-2h0m-4 2h0m-16 8h0m1 0h0m3-1h0m0-3h0m2 0h0m2 0h0m1 5h0m0-5h0m4-1h0m0 6h0m0-3h0m1 2h0m0-1h0m2 1h0m0 1h0m1-6h0m4 4h0m8-2h0m1 4h0m1-2h0m6 0h0m0-1h0m6-1h0m1 2h0m1-2h0m4-2h0m3 6h0m2-4h0m1 2h0m3-2h0m0 3h0m3-3h0m0 0h0m2 3h0m1-4h0m1 4h0m1-2h0m1 0h0m2 0h0m2 0h0m4 2h0m7-2h0m5 2h0m6 1h0m3 0h0m7-1h0m0 0h0m1-1h0m1 0h0m1 1h0m1-1h0m4-2h0m0 4h0m0 0h0m2-1h0m3 1h0m2-1h0m1 0h0m2-1h0m3 1h0m0-2h0m0-1h0m1-2h0m1 0h0m1 2h0m1 4h0m0-3h0m1-2h0m0 2h0m1 0h0m1-1h0m0-1h0m1 0h0m0 2h0m1 0h0m0 3h0m0-1h0m1-2h0m0-1h0m1 2h0m0 1h0m1-1h0m0-1h0m0 2h0m1 0h0m0-4h0m2 1h0m0 0h0m2 2h0m1-1h0m27 9h0m-4-2h0m-1 1h0m0 0h0m-2-1h0m-2 2h0m-19-5h0m-2-1h0m0 0h0m-1 1h0m-3 3h0m0 0h0m0 0h0m0-1h0m-2 1h0m0-1h0m0-2h0m0-1h0m0 3h0m-1-3h0m0 5h0m-1 0h0m0 0h0m0 0h0m-1-3h0m0 0h0m0 3h0m0-4h0m-1 1h0m0 1h0m0-3h0m0 0h0m-1 2h0m0-1h0m-1 3h0m0-1h0m-1 0h0m-1-3h0m0 2h0m0 0h0m0 2h0m-1-3h0m0 4h0m0-1h0m-1-1h0m-1 0h0m-1 2h0m-1-3h0m0 1h0m0 0h0m0 0h0m-1 2h0m-1-4h0m-1 1h0m-1-2h0m-2 3h0m-1 2h0m0-1h0m-1 2h0m-1-1h0m-4 0h0m-1-2h0m-1 1h0m0 0h0m-2 2h0m0-3h0m-1 0h0m-3-1h0m-1 0h0m0-1h0m-1 1h0m-1 4h0m-2-2h0m0-2h0m0 4h0m0-1h0m-1-4h0m0 0h0m-1 0h0m0-1h0m-1 2h0m-1-1h0m0 3h0m0-2h0m-1 0h0m-1 0h0m0-2h0m-1 3h0m0-2h0m-1 2h0m0 0h0m-2-1h0m-2 3h0m0-1h0m-1 1h0m0-1h0m-1 1h0m0 0h0m0 0h0m-1-1h0m-7-4h0m-9 1h0m-4 3h0m0 0h0m-5 0h0m-3 1h0m-4-1h0m-1 2h0m-12-2h0m-2-3h0m-1 4h0m0-2h0m-2-2h0m-5 1h0m-1 4h0m-1-4h0m-3 0h0m0-1h0m0 2h0m-1 2h0m-1 1h0m0 0h0m0-1h0m-1-5h0m0 4h0m-1 0h0m0-2h0m0 3h0m0-1h0m-1 0h0m0 1h0m0-4h0m-1 1h0m0-2h0m-1 3h0m-3-3h0m-1 4h0m0-1h0m-1-2h0m0 1h0m-2 3h0m-1-3h0m-1 2h0m0 1h0m-1-3h0m0-1h0m0 3h0m0 0h0m0-1h0m-1-2h0m-1 4h0m-1 0h0m0 0h0m-1-2h0m0-1h0m0 0h0m-2 6h0m0 2h0m1-1h0m1-2h0m2 1h0m1-1h0m0 4h0m1 0h0m0-1h0m1 0h0m0-3h0m0 2h0m1-2h0m0 0h0m0-1h0m0 5h0m1-2h0m0-2h0m2 3h0m0-4h0m0 4h0m1-3h0m1 3h0m1 0h0m0 0h0m2 0h0m0 1h0m1-2h0m2 2h0m0-3h0m1 0h0m0-1h0m2 1h0m0 1h0m0 0h0m1-3h0m1 5h0m0-1h0m0-4h0m16 4h0m1 1h0m2-3h0m2 0h0m1 1h0m3 1h0m0-1h0m5 1h0m1-3h0m1 0h0m2 1h0m1 2h0m1 2h0m1-4h0m0 3h0m2-4h0m0 2h0m1-1h0m0-1h0m4 0h0m8-1h0m1 3h0m3 1h0m1-2h0m0 0h0m1 2h0m0 0h0m0 0h0m3-2h0m1 1h0m0 0h0m0 3h0m2-1h0m2 0h0m0 1h0m1-5h0m2 3h0m1-1h0m1 2h0m0-3h0m1 0h0m0 3h0m2-2h0m3 2h0m0 0h0m0-3h0m0 0h0m1 4h0m0-5h0m1 4h0m1-1h0m0-1h0m0-3h0m3 4h0m0-2h0m0 4h0m0-4h0m2-1h0m0 1h0m1 0h0m0-1h0m0 3h0m2-2h0m1-1h0m0 1h0m0 3h0m1-3h0m4 2h0m0-3h0m1 0h0m0 0h0m2 5h0m1-1h0m1 0h0m0-3h0m1 0h0m1 4h0m1 0h0m0-3h0m2-2h0m0 0h0m0 1h0m1-2h0m0 5h0m1-2h0m0 1h0m1-2h0m1 0h0m0 1h0m1-1h0m0 4h0m0-4h0m0 1h0m1-2h0m0 1h0m1 0h0m1-2h0m0 2h0m1 2h0m1-2h0m0 0h0m13 2h0m1 2h0m7 0h0m1-4h0m0 3h0m0 0h0m0-1h0m2-1h0m0 3h0m1-2h0m4 0h0m0-1h0m5 0h0m1 1h0m0 2h0m0-3h0m1 3h0m1-2h0m1 2h0m4 6h0m0-1h0m-2-5h0m0 3h0m-1-2h0m-2 3h0m-1 1h0m-1-2h0m-1 1h0m-1 1h0m0 1h0m-1-1h0m-2 0h0m0-4h0m0 4h0m-2-2h0m-2-2h0m-1 3h0m-3 1h0m-1 1h0m-1 0h0m-2-1h0m0 0h0m-2-4h0m0 4h0m0-3h0m-1 2h0m-4-2h0m0 0h0m0 1h0m-7 2h0m0-1h0m-2 1h0m0-2h0m-2 1h0m0-2h0m-1 2h0m-1-4h0m0 5h0m0-5h0m0 2h0m-1-2h0m0 1h0m0 0h0m-2 3h0m0-3h0m-1 0h0m-2 3h0m-1-4h0m-1 1h0m-2 4h0m-1 0h0m0-2h0m-2 3h0m0-5h0m-1 2h0m0 1h0m-1 2h0m-1-4h0m0 1h0m-1 1h0m0-2h0m0 3h0m-3-5h0m-1 6h0m-1 0h0m-1-5h0m0 2h0m-1 1h0m-1 1h0m-1-4h0m0 2h0m0 0h0m0-3h0m0 2h0m-1 4h0m0-2h0m-1-1h0m0 2h0m-2 0h0m0 0h0m0-1h0m-3-4h0m0 3h0m0 1h0m-1-1h0m0 0h0m0 3h0m0-5h0m-1 0h0m-1 4h0m-2-3h0m0 2h0m-1-3h0m0-1h0m-2 6h0m-2 0h0m-2-3h0m-1-2h0m0 1h0m-3 4h0m-1 0h0m0-2h0m-1 1h0m-1-3h0m-1 2h0m-3-1h0m-1 2h0m-2 0h0m0-1h0m0-4h0m-1 0h0m0 1h0m0-1h0m0 4h0m0 0h0m-1 0h0m0-2h0m0-1h0m-3 1h0m0 1h0m-13-1h0m-1 1h0m-3-2h0m-4 3h0m0-3h0m-2-1h0m0 6h0m-2-1h0m-1 1h0m0-6h0m-2 4h0m-1 0h0m-1 1h0m-1-3h0m-1-1h0m0 2h0m-1 2h0m0 0h0m-2 0h0m-3 0h0m-1-1h0m-1-1h0m0-2h0m-2 0h0m-1 1h0m-6-1h0m-1 2h0m0 0h0m-5 2h0m0-1h0m-1-2h0m0-1h0m-1 2h0m-1-1h0m-2 3h0m0-5h0m-1 3h0m-1-2h0m0 5h0m0-5h0m-1 0h0m0 5h0m-2-5h0m0 1h0m0-1h0m-1-1h0m0 3h0m-3-2h0m0 2h0m-2-1h0m0-1h0m-3 9h0m0 1h0m11-5h0m5 2h0m2 0h0m3-2h0m2 1h0m4 2h0m1 2h0m1-2h0m7 0h0m1 2h0m2-4h0m1 4h0m0-2h0m2 0h0m0 2h0m2-5h0m0 3h0m1 1h0m1 0h0m1-3h0m4 0h0m1 3h0m19-1h0m1 0h0m0 0h0m1 3h0m1-1h0m2-2h0m3-1h0m0-1h0m0 3h0m2-3h0m1 4h0m0-2h0m1 3h0m0-1h0m1-2h0m0-2h0m0 4h0m2-3h0m0 3h0m2-5h0m1 1h0m0 4h0m0-4h0m1 4h0m1 0h0m0-1h0m1-1h0m1 1h0m0-4h0m2 1h0m1 4h0m0 0h0m1-4h0m1 4h0m0-2h0m4-1h0m0 0h0m4-1h0m0 3h0m1-3h0m3-1h0m0 1h0m2 3h0m1 2h0m0-6h0m0 3h0m0 1h0m1-4h0m0 6h0m0-2h0m1-3h0m1 4h0m0-4h0m1 3h0m0-2h0m1-2h0m3 0h0m1 2h0m0-1h0m1 4h0m1 0h0m3-3h0m1-1h0m2 1h0m0-1h0m3 3h0m0-1h0m0-3h0m1 5h0m2-1h0m0 0h0m1-4h0m0 5h0m1 0h0m1-5h0m1 3h0m0-1h0m0 1h0m0 1h0m0 1h0m0-3h0m1 0h0m0-2h0m0 5h0m1-4h0m0 1h0m1-2h0m1 4h0m0 0h0m2 1h0m3-2h0m2 0h0m1 3h0m0-3h0m0-1h0m1 1h0m0 0h0m1-2h0m1 1h0m3 4h0m0-3h0m0-1h0m1 1h0m0 3h0m0 0h0m1-5h0m0 0h0m0 1h0m1 2h0m0 0h0m0 2h0m0-4h0m1 1h0m0 2h0m0-3h0m1 1h0m0-1h0m0 3h0m0 0h0m1-1h0m0 0h0m1-3h0m0 3h0m2 0h0m1-1h0m5 2h0m4-3h0m0 1h0m1 2h0m0 0h0m0-1h0m0-4h0m2 6h0m1-2h0m0-4h0m0 1h0m0 1h0m1 1h0m0 3h0m2 0h0m-1 6h0m-2-4h0m-3 0h0m-1-2h0m0 6h0m0 0h0m0 0h0m-1-4h0m-1 0h0m0-1h0m0 4h0m0-3h0m-1-2h0m0 2h0m-1 0h0m0 2h0m-2 1h0m-1-3h0m-2 2h0m0 0h0m-1-1h0m0 2h0m-1-5h0m-1 6h0m0-1h0m0 0h0m-3-1h0m0 1h0m0-3h0m0 0h0m-1 3h0m0-4h0m-1-1h0m-1 6h0m0-5h0m0 0h0m0-1h0m-1 1h0m0 5h0m0-3h0m0 1h0m-2-2h0m0-1h0m-3 1h0m0 2h0m-1-2h0m-1 3h0m0-1h0m0 0h0m0 0h0m0-2h0m-1 1h0m0-1h0m-2-1h0m0 2h0m0 0h0m0-2h0m-1 0h0m0-1h0m-2 3h0m0 1h0m-1 2h0m-1-1h0m0-2h0m-1-1h0m0 2h0m0-4h0m-2 0h0m-1 3h0m-2 1h0m0-2h0m-3 1h0m-1 3h0m0-4h0m0 2h0m-1 1h0m-1-4h0m0 1h0m-2 3h0m0-1h0m-2 2h0m-2-1h0m-1-4h0m-2 5h0m-1-2h0m0 0h0m-2 0h0m-1-4h0m-1 2h0m0 2h0m-2 2h0m0-3h0m-1-3h0m-2 6h0m-2-6h0m-1 2h0m0 0h0m-1 1h0m-1 0h0m-1-2h0m0 5h0m-1-4h0m-1 1h0m-1 1h0m0-3h0m-3 4h0m0-1h0m-1-1h0m-1-2h0m0 4h0m0 0h0m-1-5h0m-2 5h0m0 0h0m-3-3h0m0 1h0m-1 0h0m-1 0h0m-1 2h0m-1-4h0m-1 3h0m0-1h0m-3 1h0m-1 0h0m0-4h0m0 3h0m-1 1h0m0 1h0m-1-1h0m-1 1h0m0-1h0m-1-4h0m-1 2h0m0 0h0m-2 4h0m-1-6h0m0 3h0m-1-2h0m-1 5h0m-4-1h0m0-3h0m0 2h0m0 0h0m-1 2h0m-2-2h0m0 1h0m-2-2h0m-15-2h0m-3 2h0m0-1h0m-1-1h0m-3 0h0m-1 1h0m-1 0h0m-1 0h0m0 2h0m-3-2h0m-1 2h0m-2-1h0m0-3h0m-6 1h0m-36 0h0m-2 2h0m24 7h0m2 2h0m3-1h0m10-2h0m0-1h0m0 3h0m2 1h0m2-3h0m0 1h0m2 0h0m2 0h0m1 0h0m1-1h0m1 1h0m2-1h0m1-1h0m0 3h0m3-3h0m0 2h0m1-1h0m0 2h0m0-1h0m7 0h0m2 1h0m0-1h0m2 0h0m8 0h0m1-2h0m0-1h0m0 0h0m1 5h0m1 0h0m1-2h0m0-2h0m0 1h0m0 3h0m0-2h0m1-2h0m1-1h0m0 3h0m0-3h0m1 3h0m3-3h0m2 4h0m0-1h0m1 0h0m0-1h0m0 2h0m0-1h0m0-2h0m0 2h0m1-3h0m1 4h0m0 0h0m1-3h0m1 0h0m1 1h0m1-3h0m0 2h0m0 1h0m3-1h0m0 3h0m1-1h0m1-4h0m0 6h0m2-2h0m1 1h0m0-4h0m1 4h0m1-2h0m0-2h0m0 2h0m0-1h0m0 1h0m1-2h0m0 5h0m2-1h0m2 0h0m1-1h0m1-3h0m2 0h0m1 2h0m2-2h0m1 1h0m2 1h0m2-2h0m1 2h0m0 2h0m0-1h0m1-4h0m0 4h0m1 1h0m0 1h0m1-1h0m0-4h0m1 1h0m1 1h0m0-2h0m1 4h0m0 1h0m0-4h0m1 2h0m0 1h0m1-2h0m0 0h0m1-1h0m0-1h0m1 0h0m0 0h0m0 2h0m2 1h0m2-4h0m2 2h0m0 1h0m0 0h0m1-2h0m0 0h0m1-1h0m1 6h0m1-4h0m0 2h0m0-2h0m2 3h0m1-4h0m1 2h0m0-2h0m0 1h0m1-1h0m0-1h0m1 1h0m1 1h0m1 4h0m0-4h0m1 3h0m0-4h0m0 0h0m1 2h0m0-3h0m0 0h0m1 5h0m0-4h0m1 3h0m0 1h0m0 1h0m1-4h0m1-2h0m0 1h0m0 2h0m0 3h0m0-3h0m1 1h0m0-2h0m1 1h0m1 1h0m0-2h0m1 2h0m0-4h0m0 3h0m0 2h0m1-4h0m1-1h0m0 4h0m0 1h0m2 0h0m2-1h0m1 1h0m0-2h0m1 3h0m0-5h0m1 0h0m0 2h0m0-1h0m0 0h0m1 3h0m0-3h0m0-2h0m0 3h0m1 0h0m1 1h0m0 0h0m1-2h0m1 1h0m0-2h0m1 3h0m0-2h0m1-1h0m0 4h0m1 0h0m0 1h0m1-2h0m1-2h0m0-1h0m0 1h0m1-2h0m2 0h0m0 2h0m1 4h0m1-1h0m1-3h0m1 4h0m0-1h0m2 1h0m0-2h0m1-2h0m2-1h0m1 5h0m0-1h0m1-4h0m0 6h0m-2 0h0m-1 1h0m-2 2h0m0-3h0m-1 4h0m-1-2h0m-1-3h0m0 3h0m0 0h0m-1 2h0m0-4h0m-1 3h0m-3 1h0m-2-3h0m-1 1h0m0 0h0m0 3h0m0 0h0m-1-5h0m0 2h0m0 2h0m0 0h0m-2-2h0m0 3h0m0-5h0m0 5h0m0-5h0m-1 2h0m-1-1h0m0 4h0m-1-4h0m-1 3h0m0-2h0m0-1h0m-1 0h0m0-1h0m-1 1h0m0 2h0m-1-4h0m-1 0h0m0 0h0m-1 2h0m-1 1h0m-1 3h0m0-1h0m0-4h0m-1 5h0m-1-3h0m-2-2h0m0 5h0m-1-1h0m-1-3h0m0 1h0m0 0h0m0-1h0m-1 0h0m0 2h0m0-2h0m-1 2h0m0 0h0m0-4h0m-3 4h0m0 1h0m-1-1h0m-4-1h0m0-2h0m-1-1h0m-2 2h0m-2-1h0m-1 4h0m0 0h0m-2 1h0m-1-3h0m-1-2h0m0 2h0m0 2h0m-1 0h0m-1-4h0m-1 5h0m-2-5h0m0 4h0m0-3h0m-1-1h0m0 5h0m-1-4h0m-1 1h0m-1 3h0m-1-5h0m-1 0h0m0 1h0m-1 1h0m0-3h0m-1 1h0m-1 5h0m0-4h0m0 1h0m-3 0h0m-1-3h0m-1 6h0m0-2h0m-1-1h0m-1-2h0m0 4h0m-1-2h0m-1 2h0m-1-3h0m-1 3h0m0-1h0m-1-3h0m0 5h0m-1-6h0m-1 1h0m-1 4h0m0-2h0m0 3h0m-1-2h0m0 0h0m0-2h0m-4-2h0m0 1h0m-1 4h0m0-5h0m-1 2h0m-2-1h0m-4 4h0m-1-2h0m-3-2h0m0 3h0m-3-1h0m-1 1h0m0-3h0m0 0h0m-3 4h0m-1-4h0m-1 4h0m0-3h0m-1 0h0m0 0h0m-1 1h0m0 1h0m-1 0h0m0-2h0m0 2h0m-1-3h0m-1 5h0m-1-2h0m0-2h0m-3 4h0m-5-5h0m0-1h0m-1 5h0m-5-5h0m-5 5h0m-1-4h0m0 2h0m-1 3h0m0 0h0m-1-5h0m-2 4h0m0-2h0m0-2h0m-1 2h0m-1-1h0m0-1h0m-4 1h0m0-2h0m-3 3h0m-3-3h0m0 4h0m0 0h0m-4-3h0m-6 4h0m-5-2h0m-3 0h0m-2 2h0m-6 0h0m-1 4h0m1 1h0m1 0h0m0-1h0m1-1h0m2 0h0m0 1h0m1-3h0m5 6h0m0-3h0m2-2h0m0 1h0m1-1h0m2 3h0m0 0h0m2-2h0m0 4h0m2-1h0m1-1h0m3-3h0m14-1h0m2 6h0m1-3h0m1-1h0m3 0h0m6 0h0m1-1h0m2-1h0m0 1h0m0 0h0m3 5h0m3-3h0m1-3h0m2 5h0m1-3h0m0 0h0m1 0h0m2 0h0m0-1h0m2 4h0m0-3h0m0-1h0m1 3h0m0-4h0m2 2h0m1 3h0m0-4h0m1 4h0m0-4h0m1-1h0m1 0h0m1 3h0m2-2h0m0 5h0m1-5h0m2 2h0m0 0h0m0 3h0m3-4h0m1 2h0m1-1h0m1-1h0m2 0h0m0 0h0m0 4h0m1-6h0m0 1h0m1 0h0m0 2h0m2 1h0m1-3h0m1 1h0m1-1h0m0 3h0m0-3h0m0 0h0m1 0h0m3 0h0m2 3h0m1-2h0m1-1h0m0 1h0m0-1h0m1 2h0m0 1h0m1 0h0m1 2h0m0-2h0m3-3h0m0 1h0m1 4h0m0 0h0m1-3h0m2-2h0m1 4h0m0-2h0m1 2h0m1-1h0m2 1h0m1 0h0m1-1h0m0-3h0m0 0h0m1 0h0m1 5h0m0-1h0m1-2h0m2-2h0m0 2h0m0-1h0m0-1h0m1 4h0m1-4h0m3 2h0m0-1h0m0-1h0m1 4h0m1-2h0m1-2h0m1 1h0m2-1h0m1 4h0m0 0h0m1 0h0m1-1h0m0-3h0m1 2h0m0-3h0m0 2h0m1 2h0m0-3h0m1 0h0m0 4h0m0 1h0m0-1h0m0-4h0m0-1h0m0 4h0m1-4h0m0 1h0m1 5h0m0-4h0m0 3h0m1-2h0m0-3h0m0 4h0m0-2h0m1 4h0m0-6h0m1 4h0m0 1h0m1-1h0m0-2h0m1 1h0m0-3h0m1 4h0m1-3h0m0 1h0m2-2h0m1 3h0m0 2h0m1-2h0m0 2h0m0 0h0m1-3h0m0 1h0m0 2h0m1-4h0m0 1h0m0 0h0m1-1h0m0 1h0m1 2h0m0-2h0m1 4h0m0-2h0m0 0h0m1-4h0m0 3h0m0-2h0m1 0h0m1 1h0m0 0h0m0 2h0m0-2h0m0 2h0m6 1h0m2-4h0m0 1h0m2 3h0m1-1h0m0 0h0m-4 4h0m0 3h0m-1-4h0m-1 5h0m-2-6h0m0 5h0m-2-3h0m0 2h0m0-1h0m-1 2h0m-1 0h0m0-3h0m-1 3h0m0-2h0m-1 2h0m0 0h0m-1-1h0m0-1h0m0-2h0m-1 2h0m0-1h0m0 4h0m0-3h0m0 0h0m0 1h0m-1-4h0m0 2h0m-5-1h0m-1 1h0m-1 2h0m0 1h0m-1-4h0m0 0h0m-1 4h0m0-5h0m0 4h0m0-4h0m-2 4h0m0-3h0m0 4h0m0-4h0m0 0h0m-1 5h0m0-2h0m-2-2h0m-2 2h0m-1-1h0m-1-3h0m-2 1h0m-1-1h0m-1 1h0m-2 4h0m0-1h0m0 0h0m-1 0h0m0-3h0m-1 0h0m0 4h0m-1-4h0m-2 5h0m-1-2h0m-1 1h0m0 1h0m-1-2h0m0 0h0m-1-3h0m0 4h0m0-1h0m-2-3h0m-1 5h0m-2 0h0m-2 0h0m0-6h0m-1 5h0m0-5h0m0 3h0m-1-1h0m0 4h0m-1-1h0m0 1h0m-1-5h0m0 4h0m0-3h0m-1-2h0m0 5h0m-2-2h0m0 2h0m0-3h0m-2 0h0m0-2h0m-1 1h0m0 0h0m-4 1h0m0 0h0m-1 2h0m0-3h0m0 4h0m0 0h0m-2-3h0m-1-1h0m-1 3h0m-1 1h0m-1-4h0m-1 1h0m-1-2h0m0 4h0m-1 1h0m0-1h0m-1 0h0m-1 0h0m0-1h0m-1 2h0m0 0h0m0-1h0m0 0h0m-1-2h0m-1 0h0m-1 1h0m0 0h0m-1-2h0m-1 0h0m0-1h0m-1 4h0m0-2h0m0 4h0m-2-1h0m-1-2h0m-1-3h0m0 3h0m0-3h0m0 3h0m-1-1h0m0 0h0m0 0h0m-1 4h0m0-2h0m-1 0h0m0 0h0m-2-2h0m-1 3h0m-1-4h0m-2 1h0m0 0h0m0-2h0m0 5h0m0-2h0m0 2h0m-1 0h0m0-5h0m-1 4h0m0-1h0m0-2h0m-2 3h0m0-2h0m-1 4h0m-1-6h0m0 2h0m0-1h0m-1 4h0m-5 1h0m-2-3h0m0-1h0m-1 1h0m-17-2h0m-18-1h0m0 5h0m0-5h0m0 2h0m-1 2h0m0 1h0m-1 0h0m-3 1h0m-3-1h0m-2-1h0m-4 0h0m-2 1h0m-6-1h0m-1 0h0m-2 0h0m2 3h0m10 0h0m2 5h0m0-2h0m1 2h0m1-3h0m1 0h0m2 2h0m2-2h0m42 2h0m0-3h0m0-1h0m0 1h0m1 3h0m0 0h0m0-3h0m1-1h0m0 0h0m0 1h0m0-1h0m1-1h0m1 5h0m0-4h0m1 1h0m2-1h0m1 3h0m0-1h0m1-1h0m0 1h0m1 3h0m0-1h0m1-1h0m1-2h0m0 2h0m0 2h0m3-1h0m1-1h0m0-1h0m1 1h0m0 2h0m2-4h0m0 3h0m2 0h0m0-5h0m5 3h0m2-1h0m1 0h0m2 3h0m0-4h0m1 0h0m0 3h0m1-2h0m0 2h0m0-2h0m2 4h0m1-5h0m0 5h0m1-5h0m0 0h0m1 3h0m0-1h0m0-2h0m0 3h0m1 2h0m0-3h0m1-2h0m1 5h0m1-1h0m0 0h0m1-2h0m2-1h0m1-1h0m0 4h0m2-3h0m2 1h0m1 3h0m0-1h0m0-1h0m0-1h0m1 3h0m1-2h0m0 1h0m1-2h0m0-2h0m0 3h0m0-3h0m1 3h0m1 0h0m1-2h0m0-2h0m1 4h0m0 0h0m1 2h0m1-5h0m2 5h0m1-1h0m1-4h0m1 1h0m1-1h0m1 0h0m1 1h0m1 3h0m0 0h0m1-1h0m1-3h0m1 1h0m2 4h0m1-5h0m0 5h0m0-5h0m1 0h0m0 0h0m0 0h0m1 4h0m0-4h0m3-1h0m1 5h0m0-1h0m1-1h0m0-1h0m1 0h0m1 0h0m1 2h0m2 0h0m0 0h0m0 0h0m0-2h0m1 0h0m0 3h0m3 0h0m0-2h0m0 1h0m0 0h0m2 1h0m2-1h0m0-2h0m1 0h0m0 3h0m1-3h0m1 2h0m5-4h0m1 1h0m-10 6h0m0 1h0m0 1h0m-1 0h0m-1 0h0m0-1h0m0 2h0m-1 0h0m-2-2h0m-1 3h0m0 0h0m-1 1h0m-2-1h0m-1-1h0m0 1h0m0 1h0m-1-3h0m-2-2h0m0 1h0m-1 2h0m-1 0h0m0 0h0m0 1h0m0 1h0m0-4h0m0-2h0m-1 0h0m0 1h0m-1 0h0m-2 3h0m-2-2h0m0 1h0m-1-2h0m0-1h0m0 6h0m-1-1h0m0 1h0m-1-4h0m0 0h0m-1-1h0m-1 3h0m-1-3h0m-1 1h0m-1-1h0m0 0h0m-4 1h0m-1 1h0m0 2h0m0-1h0m-1-1h0m-2 2h0m-3-2h0m-4 0h0m-1-3h0m0 1h0m0 1h0m-1-1h0m0 0h0m-2 5h0m-1-2h0m-1 2h0m0-1h0m0-1h0m0 1h0m-1-3h0m0 1h0m-1-3h0m-1 2h0m0 0h0m-1-1h0m-1 2h0m-1-3h0m0 0h0m-3 4h0m0-1h0m0 0h0m-1 2h0m0 0h0m-2-3h0m0 3h0m-1-5h0m0 3h0m-3-3h0m-3 2h0m0 0h0m0 4h0m-1-5h0m-1 1h0m0-1h0m0 0h0m-1 4h0m0 1h0m-2-4h0m0 1h0m0 2h0m-1-4h0m0 4h0m-3-1h0m0-1h0m-1 2h0m-1-4h0m-2 3h0m-1-1h0m0 1h0m0-4h0m-1 1h0m0 1h0m-2 3h0m-1 0h0m0 0h0m-1 0h0m0-1h0m-1 0h0m0 0h0m0 1h0m-5-3h0m-1 0h0m-1 3h0m-11-2h0m-2-1h0m-1 1h0m0 2h0m-1 0h0m-1-1h0m-2 0h0m0-1h0m-1-1h0m0 3h0m0-4h0m-1 3h0m0-1h0m-1 3h0m-1 0h0m-1-3h0m0 3h0m-1-2h0m-1 1h0m-1-1h0m-1-1h0m0 0h0m0 0h0m-1 2h0m0-2h0m-1 0h0m-1-3h0m0 3h0m-2-1h0m0 1h0m0 1h0m-1 0h0m-4-2h0m-14-2h0m10 11h0m0 1h0m1-4h0m1 0h0m0 3h0m1-4h0m0 5h0m0-5h0m0 2h0m1-2h0m0 2h0m1-3h0m1 0h0m2 5h0m0-2h0m0 2h0m1-1h0m0 1h0m1-3h0m0 0h0m0-2h0m1 5h0m2-1h0m1-1h0m0-3h0m1 2h0m0 1h0m1 1h0m0 1h0m0-5h0m2 6h0m1-5h0m1 0h0m0 3h0m0-2h0m1-2h0m0 2h0m1 3h0m2-2h0m0 0h0m0-2h0m0 3h0m2 2h0m0 0h0m0 0h0m4-3h0m0-1h0m1 3h0m1 1h0m0-2h0m1 2h0m6-4h0m5-2h0m1 4h0m0-4h0m1 3h0m0-3h0m0 5h0m0-3h0m2 2h0m0 0h0m1 2h0m2-6h0m0 5h0m1-4h0m0 0h0m1 4h0m0-3h0m2 4h0m0-2h0m1 1h0m0-4h0m0 1h0m1-2h0m0 5h0m3-1h0m0 1h0m0-3h0m0 0h0m1 2h0m0 1h0m1-4h0m0 1h0m0 2h0m1 1h0m1-2h0m0-3h0m1 5h0m0-1h0m0 2h0m1-3h0m0 1h0m1-2h0m0 3h0m0-3h0m0 3h0m0-4h0m1 1h0m1 0h0m0 0h0m1 0h0m6 0h0m0 1h0m1 0h0m0 2h0m1-3h0m0-1h0m1 3h0m1-3h0m0 3h0m0 0h0m1 1h0m0-5h0m0 2h0m1 2h0m1-1h0m0-2h0m2 0h0m1 1h0m0 1h0m1-1h0m0 1h0m1 1h0m1-1h0m1-2h0m1 2h0m0 3h0m4-5h0m1 2h0m1 1h0m1-2h0m0 3h0m0 1h0m1-1h0m1-1h0m0-2h0m0 0h0m0 0h0m0 1h0m2 0h0m1 0h0m0-3h0m0 2h0m0 1h0m3-2h0m1-1h0m0 4h0m2-3h0m0 4h0m0-1h0m1 1h0m2-3h0m1 4h0m1-5h0m0 1h0m3 3h0m1 0h0m0-2h0m0 3h0m1-4h0m0 1h0m0-2h0m0 1h0m1-1h0m0 4h0m1-3h0m0 2h0m1-3h0m0-1h0m1 2h0m1 3h0m0-1h0m1-3h0m2 1h0m2 4h0m1-1h0m0-2h0m0-3h0m1 1h0m16 4h0m2-1h0m0 1h0m1-1h0m3 1h0m1-1h0m1-3h0m-4 6h0m-1-1h0m0 0h0m-1 4h0m-2-2h0m-1 3h0m-1 0h0m-1 1h0m-16-5h0m-1 2h0m-1-3h0m0 2h0m-3 3h0m0 1h0m0 0h0m-1-5h0m-1 2h0m0-1h0m-1 2h0m0 1h0m0-1h0m0-1h0m-2-2h0m-1-1h0m0 3h0m-1 3h0m-2-2h0m-1 2h0m-1-5h0m0 3h0m-2 2h0m-2-1h0m-1 0h0m-1 0h0m-1-1h0m0-3h0m0 1h0m0-1h0m-1 0h0m-1 2h0m-1-1h0m0 2h0m0-3h0m-1 3h0m-1 0h0m-2-1h0m-1 0h0m-1 0h0m-1 2h0m0 0h0m0-4h0m0-1h0m-1 5h0m0 1h0m-1-3h0m-1 0h0m-3 2h0m0 1h0m-3-4h0m0-1h0m-1 3h0m-1-2h0m0-1h0m-2 5h0m-1-1h0m-1-5h0m0 2h0m-2-1h0m-1 3h0m0-3h0m-2 2h0m-1 1h0m0 2h0m-1-4h0m-1-1h0m-1 1h0m0 1h0m0-1h0m0 0h0m0 1h0m-1 1h0m-3-3h0m-2 0h0m-2 3h0m-2 2h0m-1 0h0m-1-1h0m0-4h0m0 1h0m0-1h0m-2 4h0m-4-3h0m0 0h0m-2 3h0m0-4h0m-3 3h0m0-1h0m-4-2h0m-7 3h0m-1-3h0m-1 0h0m-1 5h0m-5-3h0m-1 1h0m-1 1h0m-1-1h0m0 1h0m-1 0h0m-1-2h0m0 0h0m0-3h0m0 2h0m-1 4h0m0-4h0m-1 2h0m-1 1h0m-2-3h0m-2 2h0m-2 0h0m-1-3h0m0 3h0m0-1h0m-2 1h0m-1 0h0m0-3h0m0 0h0m-1 4h0m-1-3h0m0 0h0m-1-1h0m0 1h0m0 3h0m-2-3h0m-2 1h0m-1 2h0m0-1h0m-1-2h0m-1 3h0m1 3h0m0 0h0m2 1h0m0 1h0m0-3h0m1 1h0m0 1h0m2-1h0m1 1h0m1 3h0m2-4h0m0 0h0m0-2h0m3 5h0m1-1h0m1 1h0m1-5h0m0 4h0m2-2h0m2 4h0m0-4h0m0 4h0m2-3h0m0 2h0m0-5h0m0 2h0m0 3h0m1 1h0m0-5h0m0 5h0m3 0h0m2-3h0m0 1h0m0-2h0m1 3h0m1-3h0m2 1h0m0-1h0m1-1h0m0 1h0m15-2h0m2 2h0m1 2h0m1-3h0m1 3h0m3-3h0m0-1h0m2 2h0m1 0h0m0 0h0m0 1h0m0 2h0m0-1h0m0 0h0m0-3h0m0 4h0m3-4h0m0 1h0m1 0h0m0 1h0m2 3h0m0-5h0m0 5h0m2-5h0m0 5h0m0-3h0m1-3h0m2 3h0m0-2h0m0 0h0m5 0h0m0 2h0m1 2h0m0-4h0m1 2h0m1 2h0m0 0h0m0-3h0m2 0h0m1 3h0m0 0h0m1-3h0m0-2h0m0 1h0m0 4h0m2-4h0m1-1h0m2 4h0m2-3h0m0-1h0m0 0h0m1 4h0m0 1h0m0-4h0m1 2h0m0-2h0m1-1h0m2 4h0m0 2h0m0-1h0m1 0h0m1-2h0m1 2h0m2 1h0m1-5h0m0 2h0m0-3h0m2 1h0m0 1h0m4-1h0m0-1h0m0 4h0m1 2h0m5 0h0m0-5h0m1 3h0m0-4h0m1 3h0m0-2h0m2 2h0m3 1h0m1-4h0m1 4h0m0 1h0m1-3h0m-3 5h0m0 1h0m-2 2h0m0 0h0m0 0h0m-3 0h0m-3-2h0m-1 0h0m0-1h0m0-1h0m-3 1h0m-1 1h0m0 1h0m-1-2h0m-1-1h0m-1 1h0m0-1h0m-1 0h0m0 0h0m0 4h0m-1-3h0m0-1h0m0 4h0m0-2h0m0 0h0m-1-1h0m0-1h0m-1 2h0m0-2h0m-1 5h0m-1-5h0m0 4h0m-2-1h0m0 1h0m-3-2h0m0 3h0m-3-5h0m-1 2h0m0 2h0m-1 1h0m0-4h0m-1 0h0m0 0h0m0 2h0m-5-2h0m-1 3h0m-1-4h0m0 3h0m-1 2h0m0-4h0m-2 1h0m0-2h0m0 4h0m-1 1h0m-1 1h0m0-4h0m-1 1h0m0 1h0m-1 1h0m0-5h0m0 6h0m0-5h0m-2 2h0m-1-1h0m-2 2h0m-1 1h0m0-1h0m-1 2h0m-2-4h0m-2-1h0m0 4h0m-1-4h0m0 4h0m-1-4h0m-3 2h0m-1 0h0m-1-1h0m0 0h0m-1-2h0m0 3h0m-1-2h0m-35 1h0m-1 0h0m-2-2h0m-1 0h0m0 2h0m0 0h0m-2-1h0m-2-1h0m0 1h0m43 7h0m5 1h0m1 1h0m2-3h0m2 0h0m4 0h0m1 0h0m1 0h0m0 3h0m2-1h0m2 2h0m1-3h0m1 0h0m0 1h0m1 1h0m2-1h0m1 1h0m0-1h0m3 1h0m0-3h0m1 4h0m1 1h0m2-2h0m0-3h0m0 4h0m1-5h0m1 4h0m0-3h0m0 3h0m1-1h0m1-1h0m0 1h0m0 2h0m1-3h0m1 0h0m1 3h0m0-3h0m1 4h0m0-5h0m1 1h0m2 3h0m0 0h0m0-1h0m1 1h0m0-1h0m0 1h0m2-4h0m2-1h0m1 1h0m1 4h0m0-1h0m3 0h0m0 0h0m1-1h0m0 2h0m2-3h0m2-1h0m2 0h0m-10 6h0m-3 0h0m-1 0h0m0 0h0m-3-1h0m-1 2h0m0 0h0m-1 0h0m-1 0h0m-2 1h0m0 0h0m0-1h0m0 1h0m0-3h0m-1 3h0m-2-2h0m-4 3h0m0-3h0m0 0h0m-2 1h0m0-1h0m-3 2h0m0-3h0m0 3h0m0 3h0m-3-3h0m-2-2h0m0 0h0m-1 1h0m0 0h0m0 0h0m-8 2h0m7 6h0m-3 7h0m-1 0h0m1 2h0m2 0h0" stroke="#d3d3d3" stroke-width="2.10" stroke-linecap="round" fill="none"/><path d="M89-145h0" stroke="#c6b9db" stroke-width="2.10" stroke-linecap="round" fill="none"/><path d="M79-170h0m-8 0h0m-9 0h0m-9 6h0m16-2h0m-12 15h0m19-5h0m13 1h0m-31 5h0m-8 4h0m30 3h0m1 2h0m1 1h0m7 0h0m1 1h0m8-1h0m2 4h0m-9 1h0m-29 4h0m-14 9h0m-16 3h0m3 3h0m-2 2h0m-2 2h0m30 7h0m124 31h0m-171 9h0m22 5h0" stroke="#b89ee2" stroke-width="2.10" stroke-linecap="round" fill="none"/><path d="M133-170h0m-46-3h0m-6 4h0m-2-1h0m-2-2h0m-1 3h0m-2-1h0m-1 0h0m-2-4h0m-1 4h0m0 0h0m-1-4h0m-1 5h0m-4-3h0m-8 5h0m1 2h0m1 2h0m3-5h0m4 5h0m1-2h0m2 3h0m2-1h0m6 0h0m3-3h0m2 0h0m2 0h0m1 1h0m2-1h0m0-1h0m2 5h0m0-4h0m0 4h0m1-2h0m1-2h0m4 1h0m1 7h0m-1 0h0m0 0h0m-4 0h0m0-1h0m-4-3h0m-4 4h0m0 2h0m0-4h0m-3 4h0m-3-5h0m-2 3h0m-2 2h0m-1-1h0m0-1h0m0-2h0m-3-1h0m-1 0h0m-2 4h0m-3 1h0m-6-1h0m0-4h0m-1 3h0m0-1h0m-3-2h0m0 3h0m-4 3h0m2 4h0m2 0h0m2-2h0m2 2h0m0 0h0m3-1h0m1 1h0m0-5h0m0 4h0m1-1h0m0-1h0m2-1h0m1 2h0m2 1h0m8-1h0m2 1h0m4 2h0m6-5h0m1 1h0m5 2h0m2 0h0m14 1h0m2 5h0m-11 2h0m0-3h0m0-1h0m-2-1h0m0 4h0m-1 0h0m-8-4h0m-4 1h0m0 2h0m-1-2h0m-1 3h0m0-2h0m-4-1h0m-1 0h0m-2 0h0m-5 0h0m-1 2h0m-1 2h0m-2-1h0m-1-5h0m0 3h0m0 1h0m-1-1h0m-3 0h0m0-3h0m-1 5h0m-1-3h0m-1 0h0m-1 1h0m-3 2h0m0-5h0m-1 1h0m-6 9h0m1-2h0m1 0h0m1 2h0m5-3h0m1 5h0m0 0h0m2 0h0m2-4h0m0 1h0m1-1h0m0 1h0m0 1h0m3-1h0m1-1h0m0-1h0m1 3h0m3 1h0m2-1h0m13-1h0m1 0h0m6 1h0m4 0h0m1 0h0m3 1h0m3-2h0m7 0h0m31-2h0m39 10h0m-54-4h0m-2 5h0m-1 0h0m-1-1h0m-14-3h0m-2 1h0m-6-1h0m-4-1h0m-6 1h0m-1 0h0m-4 1h0m-1-3h0m0 3h0m-1-1h0m-1 1h0m0-2h0m-1 2h0m0-2h0m-4 2h0m-1 2h0m0-2h0m-1 2h0m-1-1h0m0 2h0m0-5h0m-2 4h0m0-2h0m-1 3h0m-1-5h0m0 5h0m-1-2h0m0 0h0m0 1h0m-1 1h0m-1-3h0m0 0h0m-1-3h0m-1 4h0m0 0h0m0-4h0m-4 4h0m-1-2h0m-1-1h0m0 4h0m0-4h0m-2-1h0m-1 3h0m-1 1h0m-2-3h0m-4 3h0m-7-3h0m-1 2h0m-1-1h0m-1 1h0m0 0h0m-3 2h0m-5 5h0m6-1h0m2 3h0m3-6h0m0 4h0m1-3h0m2 1h0m1 3h0m7-4h0m3 0h0m0 2h0m1-2h0m2 1h0m0 3h0m2 0h0m0-4h0m1-1h0m0 4h0m0-1h0m5-3h0m0 4h0m1-3h0m0 3h0m1-2h0m1 1h0m1-1h0m3 0h0m1 0h0m1 0h0m1 4h0m0-1h0m1-2h0m1 2h0m0-2h0m2 3h0m1-4h0m2 0h0m2 2h0m0-3h0m5-1h0m48 9h0m-53 2h0m0-3h0m-3 2h0m0-1h0m-3-1h0m-1-1h0m-14 0h0m-3 1h0m-3-2h0m-3 0h0m-2 3h0m0-1h0m-2-1h0m-1 2h0m-1 1h0m-2 0h0m-2-1h0m0-1h0m-6 3h0m-6-1h0m-1 0h0m-1 1h0m-1-4h0m0 6h0m4 2h0m1 1h0m7-3h0m4 0h0m1 2h0m1 2h0m1-2h0m2 0h0m2 0h0m1-3h0m0 3h0m1 3h0m6-3h0m3 0h0m2 2h0m1-4h0m3 0h0m8 4h0m0-2h0m1-2h0m1 1h0m2 0h0m62-1h0m13 4h0m-70 1h0m-1 4h0m-9 0h0m0 0h0m-2 0h0m-1 1h0m-6-2h0m-2 1h0m-1-2h0m-1 3h0m-2-2h0m-3-1h0m-5 2h0m-1-4h0m-1 2h0m-1 0h0m0 1h0m-3 3h0m0-3h0m-2 1h0m0-1h0m0-2h0m-4 0h0m-3 3h0m-1 0h0m-5 0h0m-2 1h0m-1-4h0m8 7h0m0 0h0m1 0h0m17 0h0m1 1h0m2 3h0m0-5h0m2 3h0m0-4h0m0 2h0m1-1h0m15 0h0m10-1h0m56 3h0m32 1h0m2-3h0m4 3h0m7 3h0m0 3h0m-11 1h0m-4-2h0m-104-3h0m-7 5h0m-1-1h0m-2-2h0m-3 1h0m0 1h0m-3 1h0m0-3h0m0 4h0m-1-3h0m-1 1h0m-1-3h0m0 4h0m-1-5h0m-3 5h0m0-3h0m-5 0h0m-19 6h0m16 0h0m4 2h0m2 0h0m0-2h0m2 3h0m3-3h0m1-2h0m1 1h0m5 1h0m1-2h0m2 2h0m2 0h0m121 1h0m1 2h0m4-3h0m0 3h0m5 3h0m0 0h0m-6 1h0m-9-3h0m-7 5h0m-116-4h0m-32 10h0m44-2h0m109 3h0m7-6h0m3 6h0m0 0h0m3-5h0m5 0h0m-4 11h0m-2-6h0m-2 4h0m-5-4h0m-7 2h0m-5 4h0m-127-3h0m-6-2h0m-7 3h0m-17 7h0m17-4h0m4 4h0m131-3h0m1-2h0m4 3h0m16 7h0m-13-3h0m-139 0h0m-3 3h0m-1 1h0m-2 0h0m-4-2h0m-1 0h0m-9-1h0m-3 1h0m3 5h0m2 1h0m3 0h0m7 3h0m5-6h0m6 2h0m142-2h0m-132 16h0m132 8h0m-114-5h0m65 13h0" stroke="#a784e9" stroke-width="2.10" stroke-linecap="round" fill="none"/><path d="M72-174h0m1-1h0m18 4h0m-3 3h0m-1-3h0m-6-1h0m-1 3h0m-1 0h0m-2 0h0m-1-3h0m0-1h0m-4 0h0m0 3h0m-2-3h0m-7 4h0m-3-2h0m-3 3h0m2 2h0m1 3h0m0-3h0m3-2h0m1 1h0m1 4h0m1 1h0m4-2h0m0 1h0m1-4h0m1 2h0m6-2h0m5 4h0m0-4h0m4 1h0m1 2h0m3-2h0m1 4h0m42 6h0m-3-4h0m-34 2h0m-3-4h0m-1 0h0m-1 5h0m-2-4h0m0 1h0m-2 1h0m-2-3h0m-1 1h0m-1 2h0m-4 1h0m-1 1h0m-2-3h0m-1-1h0m-4 2h0m-2-2h0m-4 0h0m0 0h0m-2 2h0m-1 2h0m-1-4h0m-7 2h0m-1 1h0m-5 7h0m1 1h0m2-3h0m4 0h0m5 3h0m3 0h0m2-2h0m3-4h0m1 1h0m1 0h0m1 1h0m4-2h0m1 5h0m1-2h0m1-2h0m2 5h0m4-5h0m1 0h0m0 2h0m5 2h0m7 0h0m0 0h0m0 0h0m1-4h0m1 4h0m1-2h0m0 1h0m0 1h0m1 1h0m0-2h0m1 2h0m0-1h0m3-3h0m1 3h0m35 0h0m-6 3h0m-24 3h0m-3-3h0m-3 1h0m-1-2h0m0-1h0m-3 2h0m0 1h0m-1 0h0m-2 1h0m-1 0h0m-2-4h0m-5 6h0m-1 0h0m-2-1h0m0 0h0m-1-3h0m-9 0h0m-5 2h0m-3-2h0m-1 2h0m-2-2h0m-8-1h0m-3 1h0m-4 1h0m-1 2h0m-3-4h0m-6 11h0m3-2h0m4-1h0m1 2h0m0-4h0m0 3h0m0 0h0m4 0h0m4 1h0m1-1h0m0 1h0m0-3h0m1 4h0m2-4h0m1 2h0m0 0h0m1 1h0m2-3h0m3 2h0m1-1h0m3 0h0m0 3h0m4-3h0m5 2h0m1-1h0m5-4h0m2 4h0m1-1h0m0 2h0m1 1h0m1-4h0m3 0h0m0 4h0m1-3h0m1 2h0m0-3h0m3 3h0m2 0h0m7-4h0m0 3h0m2 0h0m63 3h0m-3 3h0m-1-1h0m-1-1h0m-2 0h0m-2-1h0m-40 3h0m-20-4h0m-2 1h0m-1 0h0m-1 0h0m-2 2h0m-9 1h0m0-3h0m-1 3h0m0 0h0m-4-3h0m-1 0h0m-2 5h0m-2-1h0m0-1h0m-1-2h0m-1 3h0m-1 1h0m-1-2h0m-4 0h0m0 0h0m-2-4h0m-2 1h0m-1 4h0m-1-4h0m-3 0h0m-2 3h0m-1 1h0m-1-2h0m-1-1h0m-1 2h0m-1-1h0m-1 1h0m0-1h0m-1 0h0m-2 2h0m-1-4h0m-1 5h0m-1-6h0m-1 1h0m-3 0h0m0 2h0m-2 0h0m-1 3h0m-3-4h0m-1 3h0m0 0h0m-3 0h0m0 0h0m-5 7h0m1-3h0m2 2h0m2 0h0m4-5h0m0 3h0m1 1h0m0 1h0m1-3h0m1 4h0m1-3h0m1 3h0m1-1h0m3 0h0m0-3h0m4-1h0m1 4h0m5-2h0m0-2h0m1 2h0m1-2h0m1 4h0m0 0h0m1-5h0m0 3h0m0 1h0m2-2h0m1 4h0m1-5h0m1 2h0m1 1h0m0 0h0m1-3h0m0 4h0m1-2h0m0 0h0m1 2h0m2-3h0m1 4h0m1-1h0m1-4h0m0 3h0m1 0h0m0 1h0m6 1h0m1-1h0m4-2h0m3-1h0m10-2h0m2 1h0m20 2h0m21 2h0m19-5h0m5 4h0m5-2h0m0 1h0m5-1h0m-30 10h0m-4-3h0m-1 0h0m-63-2h0m0 3h0m-4-2h0m0-1h0m-11 5h0m-2-5h0m0 1h0m-1 4h0m0-3h0m-1 1h0m0-2h0m0 3h0m-1-1h0m-3-2h0m-1 2h0m0-2h0m0 3h0m-3 0h0m-2-3h0m-1 0h0m-1 0h0m0 0h0m0-1h0m-2 0h0m-2 0h0m-2 4h0m-1 0h0m-1-3h0m-1 4h0m-5-5h0m-1 1h0m-1 4h0m-3-5h0m-1 2h0m-5 5h0m6 3h0m1-4h0m0 2h0m5-1h0m0 1h0m2 2h0m1 0h0m3 1h0m1-5h0m5 5h0m5-4h0m0 1h0m1 0h0m1-3h0m1 3h0m0-2h0m5 1h0m1 3h0m0-3h0m2 3h0m3-4h0m1 3h0m2 1h0m2-3h0m0-1h0m0-1h0m0 3h0m1 1h0m0-2h0m1-1h0m0 3h0m2-2h0m0 1h0m1-3h0m0 4h0m2-3h0m1 1h0m1 1h0m0-1h0m0 1h0m4-1h0m1 3h0m48-2h0m4 2h0m3-1h0m4-1h0m34 9h0m-24-6h0m-4 3h0m-2-1h0m-2 1h0m-10-3h0m-1 5h0m0 1h0m-19-1h0m-6 0h0m-26 0h0m-1-1h0m0-3h0m-1 4h0m0-1h0m-3-1h0m0 2h0m0-2h0m-2 0h0m0 3h0m-1-6h0m0 2h0m-1 0h0m0 4h0m-2-2h0m-1-3h0m-1 0h0m-1 2h0m-1-1h0m-3 0h0m-4 2h0m0-1h0m-2 1h0m0 2h0m-6-4h0m-1 0h0m-2-2h0m-1 3h0m-7 1h0m0-3h0m-1 0h0m-1 4h0m-7 1h0m-3-3h0m-1 1h0m0-2h0m-2 1h0m-1 1h0m-10 1h0m0 5h0m17 0h0m1-2h0m3 0h0m1 0h0m1-2h0m0 1h0m5 0h0m4 3h0m0-3h0m3-1h0m0 5h0m0 0h0m1 0h0m0-4h0m4 1h0m1 2h0m4 0h0m2 1h0m1-2h0m2-1h0m3-1h0m2 0h0m3 4h0m23-1h0m17 1h0m4 1h0m24-5h0m5 1h0m16 3h0m13 0h0m3-4h0m7 3h0m0 0h0m1 8h0m0-2h0m-7 2h0m-5-4h0m-5 3h0m-2-1h0m-3 0h0m-32 0h0m-23 0h0m-8 1h0m-27-3h0m-6 0h0m-3 0h0m-3 2h0m-10 2h0m-1 0h0m-1-2h0m-1-1h0m0 0h0m-4 3h0m-7-4h0m-1 1h0m-2-3h0m-35 11h0m1 0h0m2 1h0m32-4h0m0-1h0m4 2h0m0 3h0m10-4h0m1 4h0m2-5h0m0 1h0m3 1h0m0-3h0m2 0h0m2 2h0m18 3h0m0-2h0m36-3h0m5 0h0m38 5h0m8-3h0m2 3h0m4 0h0m19 4h0m-12-2h0m-9 3h0m-36-2h0m-18 1h0m-9 3h0m-8 0h0m-8-1h0m-6 0h0m-36-3h0m-2-2h0m-1 0h0m-2 3h0m-5-1h0m-32 0h0m-6 1h0m22 8h0m2-2h0m0 0h0m0 0h0m7 3h0m11-5h0m1 2h0m1 2h0m16-1h0m4 0h0m35-1h0m9-1h0m3 0h0m16 2h0m6 0h0m8-3h0m15 0h0m0 0h0m10 2h0m1 2h0m14-3h0m6 8h0m-1 0h0m-16-1h0m-7-1h0m-11 2h0m-15 0h0m-4 2h0m-3-1h0m-5-2h0m-4-2h0m0 4h0m-5-1h0m-35 2h0m-10-1h0m-10-2h0m0 2h0m-13-4h0m-6 0h0m-1 0h0m-4 1h0m0-1h0m-12 4h0m-4 1h0m-2-1h0m-4 7h0m5-1h0m2-1h0m3-2h0m1 3h0m0-3h0m1 0h0m0-1h0m1 3h0m2-2h0m1 2h0m0 2h0m1 0h0m22-2h0m19-4h0m8 2h0m10 1h0m22-1h0m1-2h0m42 5h0m9-2h0m5-2h0m17 0h0m2-1h0m-5 7h0m-1 0h0m-3 1h0m0-1h0m-6 5h0m-5-4h0m0-1h0m-11 1h0m-1 4h0m-1-4h0m-16-1h0m-33 2h0m-85 2h0m-1-5h0m-1 5h0m-3-2h0m-1 1h0m0-4h0m-4 1h0m-3 0h0m-2 1h0m7 6h0m2 0h0m1 4h0m1-2h0m1 0h0m3 0h0m1-2h0m1 2h0m3-1h0m0 0h0m3-2h0m63 3h0m6 0h0m6-1h0m3 0h0m3 2h0m23-2h0m26-1h0m7-2h0m-4 10h0m-2-2h0m-1-1h0m-3 5h0m-10-4h0m-15 1h0m-40-3h0m-52 11h0m19 0h0m14-4h0m6 0h0m16 0h0m0 4h0m3 0h0m32-2h0m19-3h0m-28 9h0m-10 0h0m-23 2h0m-2 1h0m-25 0h0m-23-6h0m-3 3h0m-2-2h0m1 9h0m4-1h0m41 0h0m2 2h0m41-1h0m15 1h0m-8 3h0m7 5h0" stroke="#926aef" stroke-width="2.10" stroke-linecap="round" fill="none"/><path d="M59-163h0m5 0h0m17-2h0m37 2h0m23-3h0m5 6h0m-63 3h0m-20-4h0m-11 4h0m23 4h0m4-2h0m23 2h0m30-2h0m-62 11h0m-14-5h0m46 9h0m0-2h0m4 3h0m66 4h0m-1-1h0m-47 4h0m-51 0h0m-3-5h0m-3 5h0m-5-3h0m-2 1h0m-24 0h0m7 5h0m6-2h0m6 3h0m12-1h0m1-1h0m7 3h0m50-4h0m15 1h0m36 2h0m-108 7h0m-20 0h0m-16-5h0m-7 11h0m11 0h0m19 0h0m1-2h0m1-2h0m17 3h0m1 1h0m1-2h0m0-1h0m4 0h0m0 4h0m1-1h0m2-2h0m5 1h0m40 1h0m16-5h0m28 1h0m2-1h0m-33 10h0m-4 0h0m-23 0h0m-4-1h0m-29-1h0m-3 0h0m-2 3h0m-1-3h0m-18 1h0m-1 0h0m-37 4h0m19 5h0m5-5h0m21 2h0m12-3h0m9 1h0m22-1h0m61 5h0m-1 5h0m-18-1h0m-18-1h0m-7 0h0m-39 2h0m-2 2h0m-29-2h0m-32 1h0m31 2h0m22 0h0m12 0h0m15 4h0m3-1h0m27-2h0m7 3h0m10 0h0m3-5h0m7 5h0m13-1h0m2 3h0m-15 1h0m-8 2h0m-7-1h0m-5-2h0m-18 0h0m-61-1h0m-4 2h0m-32 3h0m-2-1h0m0 1h0m-13-4h0m0 0h0m-1-1h0m-1 3h0m-4-1h0m15 5h0m1-1h0m2 4h0m1 1h0m3-4h0m21 1h0m10-1h0m26 2h0m13-3h0m8 2h0m0 3h0m17-3h0m10 2h0m21-3h0m2 0h0m4 0h0m13 0h0m7 0h0m-6 8h0m-11 0h0m-2-2h0m-15 4h0m-27-3h0m-9 2h0m-5 1h0m-2-1h0m-18-1h0m-8-1h0m-10-2h0m-52 8h0m17-2h0m1 6h0m22-4h0m39 3h0m11-1h0m1 0h0m3 1h0m1 1h0m4-6h0m2 1h0m8 4h0m17-3h0m1 0h0m4 4h0m2-1h0m5-5h0m13 2h0m0 1h0m22 8h0m-19-1h0m-4 0h0m-19-4h0m-21 1h0m-14 1h0m-3 0h0m-12-1h0m-9 1h0m-12 4h0m-48-4h0m-2-1h0m-1 2h0m-6 0h0m59 5h0m10 3h0m28 0h0m4-1h0m14-1h0m7-1h0m10-2h0m11 7h0m-4 0h0m0 0h0m-8 4h0m-6 0h0m-4-3h0m-12 1h0m-4 1h0m-5-3h0m-5 0h0m-4 0h0m0 4h0m-32-3h0m-41 6h0m21 0h0m5 2h0m21-1h0m11 3h0m8-3h0m5-2h0m12 0h0m20 5h0m17-3h0m-9 8h0m-6 0h0m-16-3h0m-6 2h0m-17-1h0m-2 0h0m-60 2h0m-4 1h0m8 5h0m3-3h0m8-2h0m6 5h0m21-1h0m31 0h0m32-3h0m9 2h0m-22 8h0m-1 0h0m-6-3h0m-3 2h0m-12-3h0m-6 9h0m26-2h0m2 0h0m7 3h0m8-4h0m-41 11h0" stroke="#794ff4" stroke-width="2.10" stroke-linecap="round" fill="none"/><path d="M110-143h0m61 5h0m-5 0h0m-79 5h0m-7 11h0m32 6h0m42 4h0m-52 2h0m38 11h0m-3 0h0m0-2h0m-11 1h0m-5-1h0m-21 2h0m-19 5h0m18 3h0m30 0h0m3-2h0m6 8h0m-11-1h0m-2-4h0m-18 5h0m-26-4h0m-57 8h0m1-2h0m55 5h0m9 0h0m68-3h0m6 3h0m3 6h0m-14-2h0m-46 2h0m-5-5h0m-24 9h0m24-4h0m2 3h0m9 0h0m26-1h0m8 1h0m-34 3h0m-91 4h0m119 6h0m25-3h0m-78 8h0m0-2h0m-3 3h0m34 7h0m4-5h0m18 6h0m18-5h0m-17 7h0m-15 1h0m-1-2h0m11 16h0m-15-2h0m-8-1h0m0 1h0m-1-1h0m-16 0h0m3 7h0m21 2h0m3-3h0m5 0h0m-16 4h0" stroke="#5731fa" stroke-width="2.10" stroke-linecap="round" fill="none"/><path d="M80-114h0m42 15h0m-31 70h0" stroke="#0000ff" stroke-width="2.10" stroke-linecap="round" fill="none"/></g>
<path d="M536.5 575.84V589.6H550.26" stroke="#111" stroke-width="0.75" fill="none"/><path d="M534.8 577.0L536.5 574.1L538.2 577.0Z" fill="#111"/><path d="M549.1 587.9L552.0 589.6L549.1 591.3000000000001Z" fill="#111"/><text x="540.1" y="599.1" font-size="5.1" fill="#222">tSNE_1</text><text x="0" y="0" font-size="5.1" fill="#222" transform="translate(531.3 589.0) rotate(-90)">tSNE_2</text>
<defs><linearGradient id="fcb2" x1="0" y1="0" x2="0" y2="1"><stop offset="0.000" stop-color="#0000ff"/><stop offset="0.125" stop-color="#522dfb"/><stop offset="0.250" stop-color="#7248f6"/><stop offset="0.375" stop-color="#8a60f1"/><stop offset="0.500" stop-color="#9d77ec"/><stop offset="0.625" stop-color="#ad8ee6"/><stop offset="0.750" stop-color="#bba5e0"/><stop offset="0.875" stop-color="#c8bcda"/><stop offset="1.000" stop-color="#d3d3d3"/></linearGradient></defs>
<rect x="647.4" y="419.2" width="6.6" height="54" fill="url(#fcb2)"/>
<text x="657.8" y="421.4" font-size="5.6" fill="#222">Max</text>
<text x="657.8" y="475.3" font-size="5.6" fill="#222">Min</text>
</svg></body></html>
